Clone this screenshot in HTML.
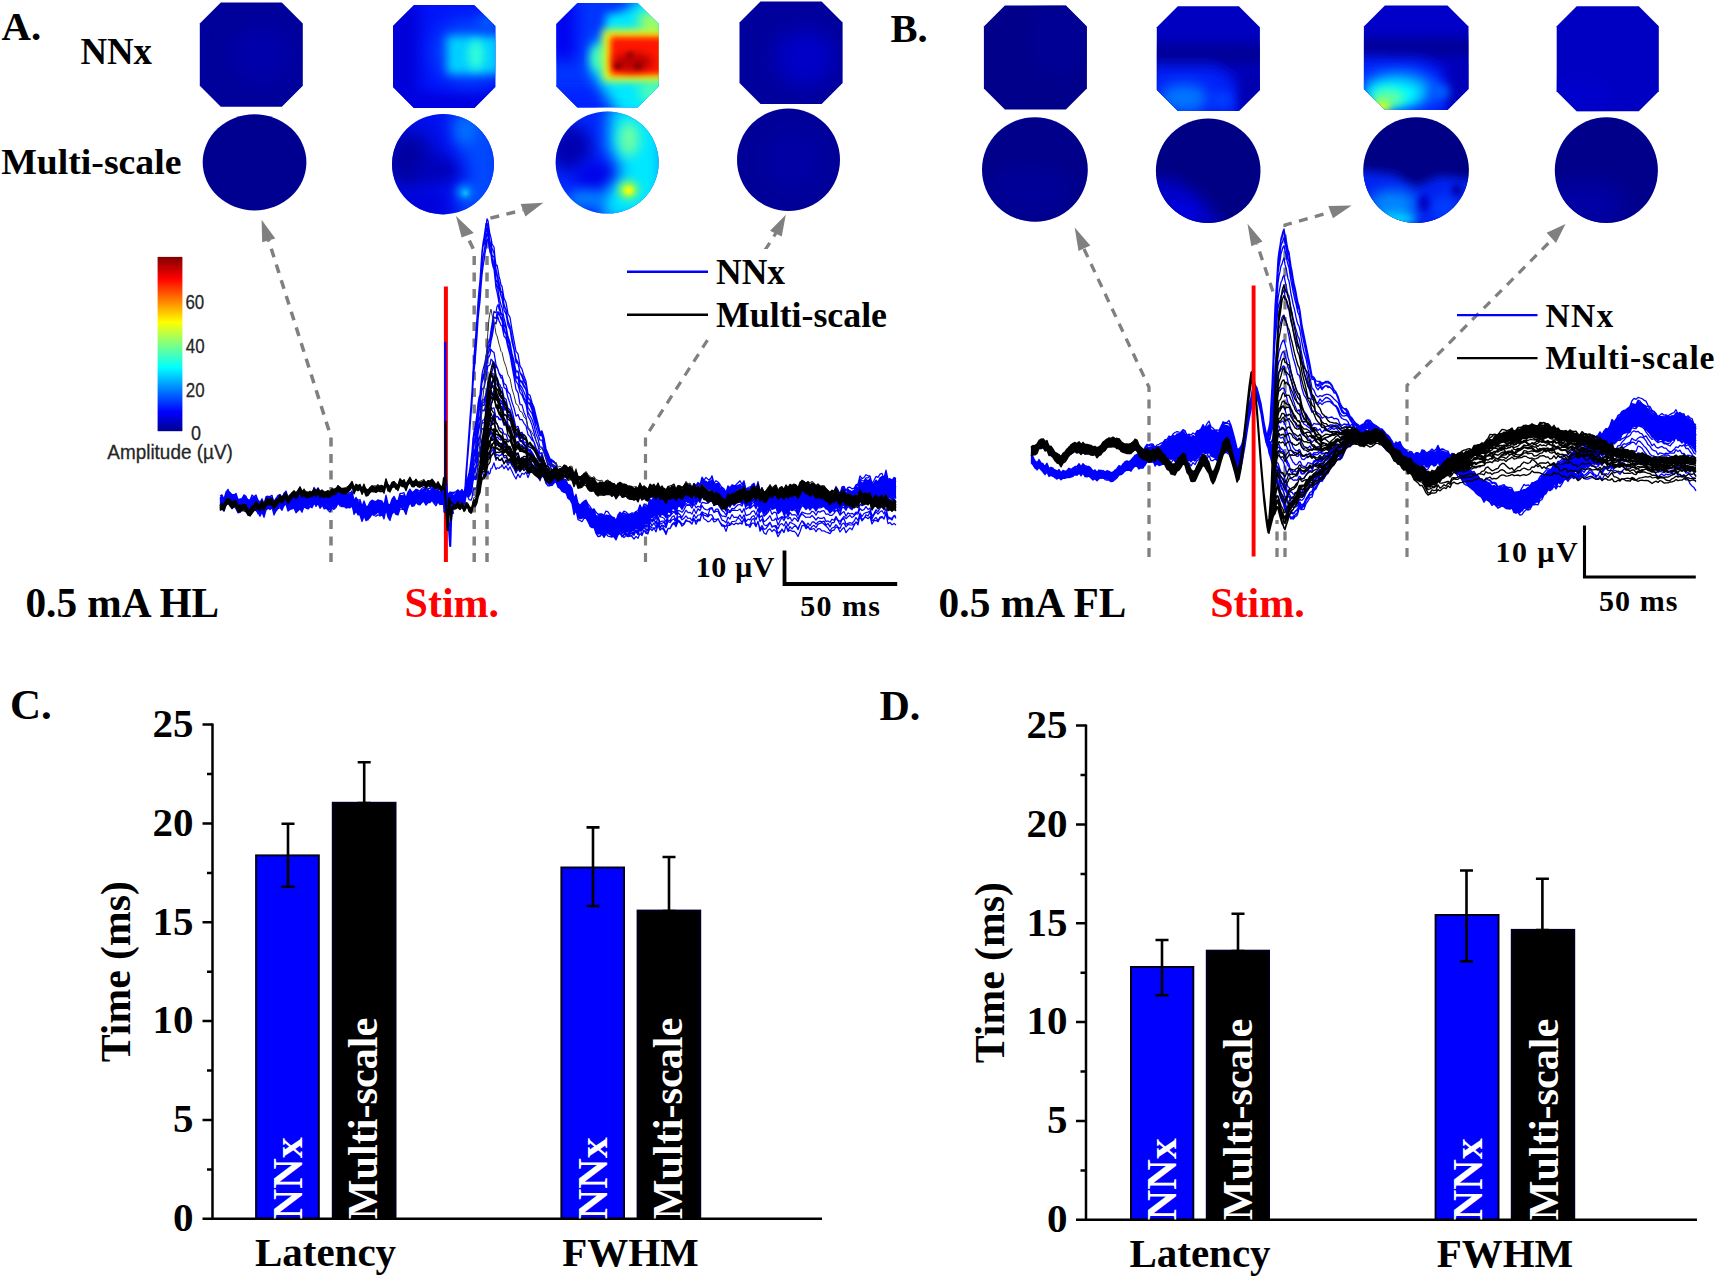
<!DOCTYPE html>
<html lang="en"><head><meta charset="utf-8"><title>Figure</title>
<style>
html,body{margin:0;padding:0;background:#fff;}
body{width:1716px;height:1278px;overflow:hidden;}
svg{display:block;}
</style></head><body>
<svg width="1716" height="1278" viewBox="0 0 1716 1278">
<rect width="1716" height="1278" fill="#fff"/>
<defs>
<filter id="bl2" x="-50%" y="-50%" width="200%" height="200%"><feGaussianBlur stdDeviation="2"/></filter>
<filter id="bl3" x="-50%" y="-50%" width="200%" height="200%"><feGaussianBlur stdDeviation="3"/></filter>
<filter id="bl4" x="-50%" y="-50%" width="200%" height="200%"><feGaussianBlur stdDeviation="4"/></filter>
<filter id="bl5" x="-50%" y="-50%" width="200%" height="200%"><feGaussianBlur stdDeviation="5"/></filter>
<filter id="bl6" x="-50%" y="-50%" width="200%" height="200%"><feGaussianBlur stdDeviation="6"/></filter>
<filter id="bl7" x="-50%" y="-50%" width="200%" height="200%"><feGaussianBlur stdDeviation="7"/></filter>
<filter id="bl8" x="-50%" y="-50%" width="200%" height="200%"><feGaussianBlur stdDeviation="8"/></filter>
<filter id="bl10" x="-50%" y="-50%" width="200%" height="200%"><feGaussianBlur stdDeviation="10"/></filter>
<filter id="bl12" x="-50%" y="-50%" width="200%" height="200%"><feGaussianBlur stdDeviation="12"/></filter>
<filter id="bl16" x="-50%" y="-50%" width="200%" height="200%"><feGaussianBlur stdDeviation="16"/></filter>
<clipPath id="h1"><path d="M220.8 2.6H281.8L302.8 23.6V85.8L281.8 106.8H220.8L199.8 85.8V23.6Z"/></clipPath>
<clipPath id="h2"><ellipse cx="254.54999999999998" cy="162.35" rx="51.849999999999994" ry="48.050000000000004"/></clipPath>
<clipPath id="h3"><path d="M414 5H474.4L495.4 26V87L474.4 108H414L393 87V26Z"/></clipPath>
<clipPath id="h4"><ellipse cx="443.0" cy="164.2" rx="51.0" ry="50.2"/></clipPath>
<clipPath id="h5"><path d="M577.3 3H637.7L658.7 24V86.6L637.7 107.6H577.3L556.3 86.6V24Z"/></clipPath>
<clipPath id="h6"><ellipse cx="607.2" cy="162.5" rx="51.5" ry="51.099999999999994"/></clipPath>
<clipPath id="h7"><path d="M760.5 1.6H821.6L842.6 22.6V83L821.6 104H760.5L739.5 83V22.6Z"/></clipPath>
<clipPath id="h8"><ellipse cx="788.5" cy="159.8" rx="51.5" ry="51.2"/></clipPath>
<clipPath id="h9"><path d="M1004.9 5.4H1065.9L1086.9 26.4V88.4L1065.9 109.4H1004.9L983.9 88.4V26.4Z"/></clipPath>
<clipPath id="h10"><ellipse cx="1034.9" cy="169.55" rx="52.89999999999998" ry="52.25000000000001"/></clipPath>
<clipPath id="h11"><path d="M1177.8 6.3H1238.9L1259.9 27.3V90L1238.9 111H1177.8L1156.8 90V27.3Z"/></clipPath>
<clipPath id="h12"><ellipse cx="1208.2" cy="170.7" rx="52.299999999999955" ry="52.2"/></clipPath>
<clipPath id="h13"><path d="M1384.9 5.5H1447.5L1468.5 26.5V89L1447.5 110H1384.9L1363.9 89V26.5Z"/></clipPath>
<clipPath id="h14"><ellipse cx="1416.1" cy="170.1" rx="52.80000000000007" ry="52.800000000000004"/></clipPath>
<clipPath id="h15"><path d="M1576.7 6.3H1638.8L1658.8 26.3V91.2L1638.8 111.2H1576.7L1556.7 91.2V26.3Z"/></clipPath>
<clipPath id="h16"><ellipse cx="1606.35" cy="170.2" rx="51.55000000000007" ry="52.9"/></clipPath>
<linearGradient id="jet" x1="0" y1="1" x2="0" y2="0">
<stop offset="0" stop-color="#00008f"/><stop offset="0.11" stop-color="#0000ff"/><stop offset="0.365" stop-color="#00ffff"/>
<stop offset="0.5" stop-color="#80ff80"/><stop offset="0.625" stop-color="#ffff00"/><stop offset="0.875" stop-color="#ff0000"/><stop offset="1" stop-color="#800000"/></linearGradient>
</defs>
<g>
<rect x="256.1" y="855.4" width="62.69999999999999" height="363.4" fill="#0000ff" stroke="#00001c" stroke-width="2"/>
<rect x="332.8" y="802.8" width="62.69999999999999" height="416.0" fill="#000" stroke="#00001c" stroke-width="2"/>
<rect x="561.4" y="867.5" width="62.60000000000002" height="351.29999999999995" fill="#0000ff" stroke="#00001c" stroke-width="2"/>
<rect x="637.6" y="910.6" width="62.60000000000002" height="308.19999999999993" fill="#000" stroke="#00001c" stroke-width="2"/>
<path d="M288 823.8V886.8M281.5 823.8h13M281.5 886.8h13" stroke="#000" stroke-width="2.6" fill="none"/>
<path d="M364.2 762.3V803M357.7 762.3h13M357.7 803h13" stroke="#000" stroke-width="2.6" fill="none"/>
<path d="M593 827.4V906M586.5 827.4h13M586.5 906h13" stroke="#000" stroke-width="2.6" fill="none"/>
<path d="M669 857V911M662.5 857h13M662.5 911h13" stroke="#000" stroke-width="2.6" fill="none"/>
<path d="M212.5 723.4V1218.8M202.5 1218.8H822" stroke="#000" stroke-width="2.5" fill="none"/>
<path d="M207.0 1169.4H212.5M202.5 1120.0H212.5M207.0 1070.5H212.5M202.5 1021.1H212.5M207.0 971.7H212.5M202.5 922.3H212.5M207.0 872.9H212.5M202.5 823.4H212.5M207.0 774.0H212.5M202.5 724.6H212.5" stroke="#000" stroke-width="2.5" fill="none"/>
<text x="193.5" y="1231.1" font-size="41" fill="#000" text-anchor="end" font-family="Liberation Serif, serif" font-weight="bold" >0</text>
<text x="193.5" y="1132.3" font-size="41" fill="#000" text-anchor="end" font-family="Liberation Serif, serif" font-weight="bold" >5</text>
<text x="193.5" y="1033.4" font-size="41" fill="#000" text-anchor="end" font-family="Liberation Serif, serif" font-weight="bold" >10</text>
<text x="193.5" y="934.6" font-size="41" fill="#000" text-anchor="end" font-family="Liberation Serif, serif" font-weight="bold" >15</text>
<text x="193.5" y="835.7" font-size="41" fill="#000" text-anchor="end" font-family="Liberation Serif, serif" font-weight="bold" >20</text>
<text x="193.5" y="736.9" font-size="41" fill="#000" text-anchor="end" font-family="Liberation Serif, serif" font-weight="bold" >25</text>
<text transform="translate(129.8 971.7) rotate(-90)" font-size="41.7" text-anchor="middle" font-family="Liberation Serif, serif" font-weight="bold">Time (ms)</text>
<text transform="translate(301.5 1219.3) rotate(-90)" font-size="42.2" fill="#fff" font-family="Liberation Serif, serif" font-weight="bold">NNx</text>
<text transform="translate(377 1219.3) rotate(-90)" font-size="42.2" fill="#fff" font-family="Liberation Serif, serif" font-weight="bold">Multi-scale</text>
<text transform="translate(606.5 1219.3) rotate(-90)" font-size="42.2" fill="#fff" font-family="Liberation Serif, serif" font-weight="bold">NNx</text>
<text transform="translate(682 1219.3) rotate(-90)" font-size="42.2" fill="#fff" font-family="Liberation Serif, serif" font-weight="bold">Multi-scale</text>
</g>
<text x="10" y="718.5" font-size="43" fill="#000" text-anchor="start" font-family="Liberation Serif, serif" font-weight="bold" >C.</text>
<text x="325.5" y="1266" font-size="41" fill="#000" text-anchor="middle" font-family="Liberation Serif, serif" font-weight="bold" >Latency</text>
<text x="630.5" y="1266" font-size="41" fill="#000" text-anchor="middle" font-family="Liberation Serif, serif" font-weight="bold" >FWHM</text>
<g>
<rect x="1131" y="967" width="62.299999999999955" height="252.79999999999995" fill="#0000ff" stroke="#00001c" stroke-width="2"/>
<rect x="1206.8" y="950.7" width="62.200000000000045" height="269.0999999999999" fill="#000" stroke="#00001c" stroke-width="2"/>
<rect x="1435.6" y="915" width="62.90000000000009" height="304.79999999999995" fill="#0000ff" stroke="#00001c" stroke-width="2"/>
<rect x="1511.8" y="929.9" width="62.40000000000009" height="289.9" fill="#000" stroke="#00001c" stroke-width="2"/>
<path d="M1162 940V995.3M1155.5 940h13M1155.5 995.3h13" stroke="#000" stroke-width="2.6" fill="none"/>
<path d="M1238 913.8V951M1231.5 913.8h13M1231.5 951h13" stroke="#000" stroke-width="2.6" fill="none"/>
<path d="M1466.5 870.5V961.2M1460.0 870.5h13M1460.0 961.2h13" stroke="#000" stroke-width="2.6" fill="none"/>
<path d="M1542.4 878.7V930M1535.9 878.7h13M1535.9 930h13" stroke="#000" stroke-width="2.6" fill="none"/>
<path d="M1086 724.4V1219.8M1076 1219.8H1697" stroke="#000" stroke-width="2.5" fill="none"/>
<path d="M1080.5 1170.4H1086M1076 1121.0H1086M1080.5 1071.5H1086M1076 1022.1H1086M1080.5 972.7H1086M1076 923.3H1086M1080.5 873.9H1086M1076 824.4H1086M1080.5 775.0H1086M1076 725.6H1086" stroke="#000" stroke-width="2.5" fill="none"/>
<text x="1067.5" y="1232.1" font-size="41" fill="#000" text-anchor="end" font-family="Liberation Serif, serif" font-weight="bold" >0</text>
<text x="1067.5" y="1133.3" font-size="41" fill="#000" text-anchor="end" font-family="Liberation Serif, serif" font-weight="bold" >5</text>
<text x="1067.5" y="1034.4" font-size="41" fill="#000" text-anchor="end" font-family="Liberation Serif, serif" font-weight="bold" >10</text>
<text x="1067.5" y="935.6" font-size="41" fill="#000" text-anchor="end" font-family="Liberation Serif, serif" font-weight="bold" >15</text>
<text x="1067.5" y="836.7" font-size="41" fill="#000" text-anchor="end" font-family="Liberation Serif, serif" font-weight="bold" >20</text>
<text x="1067.5" y="737.9" font-size="41" fill="#000" text-anchor="end" font-family="Liberation Serif, serif" font-weight="bold" >25</text>
<text transform="translate(1004 972.7) rotate(-90)" font-size="41.7" text-anchor="middle" font-family="Liberation Serif, serif" font-weight="bold">Time (ms)</text>
<text transform="translate(1176 1220.3) rotate(-90)" font-size="42.2" fill="#fff" font-family="Liberation Serif, serif" font-weight="bold">NNx</text>
<text transform="translate(1252 1220.3) rotate(-90)" font-size="42.2" fill="#fff" font-family="Liberation Serif, serif" font-weight="bold">Multi-scale</text>
<text transform="translate(1481.5 1220.3) rotate(-90)" font-size="42.2" fill="#fff" font-family="Liberation Serif, serif" font-weight="bold">NNx</text>
<text transform="translate(1558 1220.3) rotate(-90)" font-size="42.2" fill="#fff" font-family="Liberation Serif, serif" font-weight="bold">Multi-scale</text>
</g>
<text x="879.5" y="720" font-size="42" fill="#000" text-anchor="start" font-family="Liberation Serif, serif" font-weight="bold" >D.</text>
<text x="1200" y="1267" font-size="41" fill="#000" text-anchor="middle" font-family="Liberation Serif, serif" font-weight="bold" >Latency</text>
<text x="1505" y="1267" font-size="41" fill="#000" text-anchor="middle" font-family="Liberation Serif, serif" font-weight="bold" >FWHM</text>
<g clip-path="url(#h1)">
<rect x="197.8" y="0.6000000000000001" width="107.0" height="108.2" fill="#00009a"/>
<ellipse cx="262" cy="55" rx="30" ry="30" fill="#0000aa" filter="url(#bl10)"/>
</g>
<g clip-path="url(#h2)">
<rect x="200.7" y="112.3" width="107.69999999999999" height="100.10000000000001" fill="#000090"/>
</g>
<g clip-path="url(#h3)">
<rect x="391" y="3" width="106.39999999999998" height="107" fill="#0014fa"/>
<rect x="385" y="0" width="34" height="120" fill="#0000d8" filter="url(#bl8)"/>
<rect x="385" y="92" width="120" height="24" fill="#0000e0" filter="url(#bl6)"/>
<ellipse cx="470" cy="52" rx="36" ry="32" fill="#0050ff" filter="url(#bl10)"/>
<rect x="447" y="36" width="53" height="38" fill="#00d0ff" filter="url(#bl5)"/>
<ellipse cx="476" cy="55" rx="8" ry="15" fill="#30ffd8" filter="url(#bl5)"/>
<ellipse cx="488" cy="22" rx="10" ry="8" fill="#0060ff" filter="url(#bl6)"/>
</g>
<g clip-path="url(#h4)">
<rect x="390" y="112" width="106" height="104.4" fill="#0010f0"/>
<ellipse cx="408" cy="160" rx="26" ry="30" fill="#0000a0" filter="url(#bl10)"/>
<ellipse cx="438" cy="170" rx="22" ry="14" fill="#0000b8" filter="url(#bl8)"/>
<ellipse cx="420" cy="205" rx="30" ry="14" fill="#0000d8" filter="url(#bl8)"/>
<path d="M448 110 L500 110 L500 220 L462 220 L458 196 L470 170 L452 140 Z" fill="#0048ff" filter="url(#bl8)"/>
<ellipse cx="466" cy="130" rx="10" ry="14" fill="#0070ff" filter="url(#bl6)"/>
<ellipse cx="464.5" cy="192" rx="8" ry="7" fill="#0098ff" filter="url(#bl4)"/>
<ellipse cx="465.5" cy="193" rx="2.6" ry="2.6" fill="#10e0ff" filter="url(#bl2)"/>
</g>
<g clip-path="url(#h5)">
<rect x="554.3" y="1" width="106.40000000000009" height="108.6" fill="#0034ff"/>
<rect x="550" y="0" width="26" height="60" fill="#0000f0" filter="url(#bl8)"/>
<rect x="550" y="88" width="50" height="30" fill="#0020ff" filter="url(#bl6)"/>
<path d="M640 -5 L670 -5 L670 120 L622 120 L604 92 L590 70 L592 48 L612 27 Z" fill="#00e8ff" filter="url(#bl7)"/>
<rect x="606" y="14" width="64" height="22" fill="#00e8ff" filter="url(#bl5)"/>
<ellipse cx="652" cy="22" rx="14" ry="11" fill="#a0ff60" filter="url(#bl6)"/>
<ellipse cx="652" cy="92" rx="14" ry="10" fill="#50ffb0" filter="url(#bl6)"/>
<ellipse cx="598" cy="58" rx="7" ry="13" fill="#50ffb0" filter="url(#bl5)"/>
<rect x="603" y="30" width="64" height="51" fill="#ffff00" filter="url(#bl4)"/>
<rect x="610" y="36.5" width="60" height="38.5" fill="#ff1800" filter="url(#bl3)"/>
<ellipse cx="633" cy="62" rx="20" ry="9" fill="#b80000" filter="url(#bl4)"/>
<ellipse cx="618" cy="66" rx="4" ry="3" fill="#800000" filter="url(#bl2)"/>
<ellipse cx="638" cy="66" rx="4" ry="3" fill="#800000" filter="url(#bl2)"/>
<ellipse cx="630" cy="55" rx="3" ry="3" fill="#900000" filter="url(#bl2)"/>
</g>
<g clip-path="url(#h6)">
<rect x="553.7" y="109.4" width="107.0" height="106.19999999999999" fill="#0028ff"/>
<ellipse cx="570" cy="148" rx="22" ry="24" fill="#0000b0" filter="url(#bl8)"/>
<ellipse cx="598" cy="176" rx="24" ry="14" fill="#0000e8" filter="url(#bl8)"/>
<ellipse cx="585" cy="199" rx="18" ry="9" fill="#0080ff" filter="url(#bl6)"/>
<path d="M610 105 L665 105 L665 220 L604 220 L602 198 L622 172 L608 146 Z" fill="#00e8ff" filter="url(#bl8)"/>
<ellipse cx="629" cy="139" rx="10" ry="17" fill="#70ffa0" filter="url(#bl6)"/>
<ellipse cx="628.5" cy="190" rx="10" ry="9" fill="#a0ff40" filter="url(#bl4)"/>
<ellipse cx="628.5" cy="190.5" rx="4.5" ry="4" fill="#ffff00" filter="url(#bl2)"/>
</g>
<g clip-path="url(#h7)">
<rect x="737.5" y="-0.3999999999999999" width="107.10000000000002" height="106.4" fill="#00009c"/>
<ellipse cx="805" cy="58" rx="30" ry="28" fill="#0000c8" filter="url(#bl10)"/>
</g>
<g clip-path="url(#h8)">
<rect x="735" y="106.6" width="107" height="106.4" fill="#000098"/>
<ellipse cx="795" cy="160" rx="30" ry="30" fill="#0000a4" filter="url(#bl10)"/>
</g>
<g clip-path="url(#h9)">
<rect x="981.9" y="3.4000000000000004" width="107.00000000000011" height="108.0" fill="#00008a"/>
<ellipse cx="1060" cy="40" rx="30" ry="40" fill="#000094" filter="url(#bl10)"/>
</g>
<g clip-path="url(#h10)">
<rect x="980" y="115.3" width="109.79999999999995" height="108.50000000000001" fill="#00008a"/>
<ellipse cx="1030" cy="190" rx="40" ry="25" fill="#000098" filter="url(#bl10)"/>
</g>
<g clip-path="url(#h11)">
<rect x="1154.8" y="4.3" width="107.10000000000014" height="108.7" fill="#0000c0"/>
<rect x="1150" y="44" width="120" height="22" fill="#000098" filter="url(#bl6)"/>
<path d="M1150 66 L1215 66 L1236 80 L1246 120 L1150 120 Z" fill="#0020f8" filter="url(#bl7)"/>
<rect x="1240" y="70" width="30" height="50" fill="#0000b0" filter="url(#bl6)"/>
<ellipse cx="1184" cy="98" rx="24" ry="14" fill="#0078ff" filter="url(#bl7)"/>
<ellipse cx="1222" cy="100" rx="10" ry="8" fill="#0040ff" filter="url(#bl5)"/>
</g>
<g clip-path="url(#h12)">
<rect x="1153.9" y="116.5" width="108.59999999999991" height="108.4" fill="#000084"/>
<path d="M1150 176 L1180 182 L1204 200 L1226 230 L1150 230 Z" fill="#0000c8" filter="url(#bl7)"/>
<ellipse cx="1180" cy="212" rx="16" ry="10" fill="#0000e0" filter="url(#bl6)"/>
</g>
<g clip-path="url(#h13)">
<rect x="1361.9" y="3.5" width="108.59999999999991" height="108.5" fill="#0000c8"/>
<rect x="1355" y="38" width="120" height="20" fill="#000098" filter="url(#bl6)"/>
<path d="M1355 58 L1420 60 L1446 72 L1452 120 L1355 120 Z" fill="#0028ff" filter="url(#bl7)"/>
<rect x="1448" y="60" width="30" height="60" fill="#0000b8" filter="url(#bl6)"/>
<ellipse cx="1398" cy="90" rx="36" ry="18" fill="#00a8ff" filter="url(#bl7)"/>
<ellipse cx="1394" cy="94" rx="26" ry="12" fill="#00ffff" filter="url(#bl6)"/>
<ellipse cx="1388" cy="98" rx="16" ry="9" fill="#60ffa0" filter="url(#bl5)"/>
<ellipse cx="1382" cy="106" rx="9" ry="6" fill="#c0ff30" filter="url(#bl3)"/>
<ellipse cx="1440" cy="92" rx="10" ry="8" fill="#0060ff" filter="url(#bl5)"/>
</g>
<g clip-path="url(#h14)">
<rect x="1361.3" y="115.3" width="109.60000000000014" height="109.60000000000001" fill="#000084"/>
<path d="M1355 170 L1394 174 L1415 187 L1440 176 L1475 180 L1475 230 L1355 230 Z" fill="#0020f0" filter="url(#bl5)"/>
<ellipse cx="1393" cy="204" rx="24" ry="14" fill="#0088ff" filter="url(#bl7)"/>
<ellipse cx="1396" cy="219" rx="20" ry="7" fill="#00d8ff" filter="url(#bl5)"/>
<ellipse cx="1444" cy="208" rx="12" ry="12" fill="#0040ff" filter="url(#bl6)"/>
<ellipse cx="1424" cy="203" rx="5" ry="9" fill="#0000c0" filter="url(#bl3)"/>
<ellipse cx="1457" cy="190" rx="5" ry="6" fill="#0000a0" filter="url(#bl3)"/>
</g>
<g clip-path="url(#h15)">
<rect x="1554.7" y="4.3" width="106.09999999999991" height="108.9" fill="#0000c2"/>
<ellipse cx="1580" cy="95" rx="30" ry="20" fill="#0000cc" filter="url(#bl8)"/>
</g>
<g clip-path="url(#h16)">
<rect x="1552.8" y="115.3" width="107.10000000000014" height="109.8" fill="#00008a"/>
<ellipse cx="1585" cy="205" rx="40" ry="25" fill="#0000a4" filter="url(#bl10)"/>
</g>
<rect x="157.6" y="256.9" width="24.8" height="174.3" fill="url(#jet)"/>
<text x="185.4" y="308.5" font-size="21" fill="#262626" stroke="#262626" stroke-width="0.3" textLength="18.8" lengthAdjust="spacingAndGlyphs" font-family="Liberation Sans, sans-serif">60</text>
<text x="185.8" y="352.7" font-size="21" fill="#262626" stroke="#262626" stroke-width="0.3" textLength="18.8" lengthAdjust="spacingAndGlyphs" font-family="Liberation Sans, sans-serif">40</text>
<text x="185.8" y="396.5" font-size="21" fill="#262626" stroke="#262626" stroke-width="0.3" textLength="18.8" lengthAdjust="spacingAndGlyphs" font-family="Liberation Sans, sans-serif">20</text>
<text x="191" y="440" font-size="21" fill="#262626" stroke="#262626" stroke-width="0.3" textLength="10" lengthAdjust="spacingAndGlyphs" font-family="Liberation Sans, sans-serif">0</text>
<text x="107.3" y="459" font-size="21" fill="#262626" stroke="#262626" stroke-width="0.3" textLength="125.5" lengthAdjust="spacingAndGlyphs" font-family="Liberation Sans, sans-serif">Amplitude (µV)</text>
<text x="1.5" y="39.5" font-size="40.8" fill="#000" text-anchor="start" font-family="Liberation Serif, serif" font-weight="bold" >A.</text>
<text x="80.4" y="64.3" font-size="38" textLength="71.6" lengthAdjust="spacingAndGlyphs" font-family="Liberation Serif, serif" font-weight="bold">NNx</text>
<text x="1.2" y="174.3" font-size="36.4" textLength="180.3" lengthAdjust="spacingAndGlyphs" font-family="Liberation Serif, serif" font-weight="bold">Multi-scale</text>
<text x="890.5" y="42.4" font-size="40.6" fill="#000" text-anchor="start" font-family="Liberation Serif, serif" font-weight="bold" >B.</text>
<text x="25.5" y="617" font-size="41.3" textLength="193.6" lengthAdjust="spacing" font-family="Liberation Serif, serif" font-weight="bold">0.5 mA HL</text>
<text x="404.6" y="617" font-size="42" fill="#ff0000" text-anchor="start" font-family="Liberation Serif, serif" font-weight="bold" >Stim.</text>
<text x="938.5" y="616.7" font-size="41.3" textLength="187.8" lengthAdjust="spacing" font-family="Liberation Serif, serif" font-weight="bold">0.5 mA FL</text>
<text x="1210.2" y="616.7" font-size="42" fill="#ff0000" text-anchor="start" font-family="Liberation Serif, serif" font-weight="bold" >Stim.</text>
<path d="M331 562V437L268.5 240" stroke="#808080" stroke-width="3.5" stroke-dasharray="9 7.5" fill="none"/>
<path d="M261.6 219.7L262.2 242.3L275.3 238.5Z" fill="#808080"/>
<path d="M474.2 562V250.7L467 236" stroke="#808080" stroke-width="3.5" stroke-dasharray="9 7.5" fill="none"/>
<path d="M456 216L461.6 237.6L473.8 232.9Z" fill="#808080"/>
<path d="M487 562V219L523 210" stroke="#808080" stroke-width="3.5" stroke-dasharray="9 7.5" fill="none"/>
<path d="M543.3 202.8L520.7 204.1L525.4 216.5Z" fill="#808080"/>
<path d="M645.5 562V437L776 233" stroke="#808080" stroke-width="3.2" stroke-dasharray="9 7.5" fill="none"/>
<path d="M785.8 214.8L770 230.7L781.7 236.4Z" fill="#808080"/>
<path d="M1149 557V387.2L1084 249" stroke="#808080" stroke-width="3.3" stroke-dasharray="9 7.5" fill="none"/>
<path d="M1074.7 227.6L1078.5 251L1090.3 245.4Z" fill="#808080"/>
<path d="M1277 557V520M1272.9 291.4L1257 244" stroke="#808080" stroke-width="3.3" stroke-dasharray="9 7.5" fill="none"/>
<path d="M1247.5 223.8L1251.3 246.3L1262.5 241.6Z" fill="#808080"/>
<path d="M1285 557V225L1331 212" stroke="#808080" stroke-width="3.3" stroke-dasharray="9 7.5" fill="none"/>
<path d="M1351.7 205.4L1328.3 206L1333 218.2Z" fill="#808080"/>
<path d="M1407 557V385.5L1555.5 236" stroke="#808080" stroke-width="3.2" stroke-dasharray="9 7.5" fill="none"/>
<path d="M1565.5 224.1L1546.6 232.7L1556 243Z" fill="#808080"/>
<path d="M445.9 286.5V562" stroke="#ff0000" stroke-width="4.0"/>
<path d="M220.0 497.6L222.0 496.5L224.0 499.3L226.0 492.6L228.0 491.1L230.0 493.6L232.0 496.0L234.0 494.7L236.0 494.8L238.0 501.0L240.0 500.1L242.0 498.7L244.0 495.9L246.0 496.7L248.0 500.7L250.0 501.2L252.0 497.7L254.0 497.7L256.0 497.4L258.0 500.4L260.0 503.6L262.0 500.4L264.0 504.6L266.0 498.3L268.0 496.9L270.0 497.3L272.0 496.5L274.0 502.2L276.0 498.1L278.0 496.1L280.0 494.0L282.0 496.9L284.0 493.5L286.0 491.3L288.0 498.6L290.0 496.1L292.0 495.2L294.0 494.7L296.0 498.7L298.0 497.4L300.0 495.3L302.0 499.2L304.0 493.9L306.0 494.9L308.0 494.5L310.0 493.0L312.0 493.8L314.0 489.3L316.0 492.5L318.0 489.8L320.0 494.1L322.0 492.1L324.0 495.1L326.0 495.4L328.0 496.0L330.0 496.9L332.0 494.3L334.0 496.1L336.0 494.5L338.0 491.3L340.0 492.8L342.0 494.2L344.0 494.2L346.0 494.9L348.0 495.0L350.0 494.0L352.0 491.8L354.0 501.3L356.0 498.9L358.0 502.1L360.0 501.6L362.0 507.4L364.0 501.8L366.0 507.0L368.0 506.5L370.0 502.9L372.0 501.2L374.0 502.0L376.0 501.7L378.0 500.2L380.0 501.7L382.0 501.7L384.0 505.4L386.0 496.5L388.0 503.8L390.0 505.4L392.0 500.1L394.0 497.9L396.0 501.4L398.0 501.1L400.0 494.1L402.0 495.7L404.0 495.2L406.0 500.2L408.0 494.3L410.0 490.1L412.0 493.5L414.0 493.0L416.0 489.7L418.0 492.0L420.0 491.9L422.0 490.1L424.0 489.0L426.0 492.7L428.0 490.0L430.0 490.3L432.0 487.0L434.0 489.9L436.0 491.8L438.0 488.6L440.0 491.4L442.0 491.5L444.0 492.9L446.0 494.2L448.0 494.7L450.0 492.6L452.0 493.8L454.0 495.0L456.0 492.6L458.0 490.5L460.0 494.1L462.0 491.0L464.0 495.3L464.0 504.9L462.0 500.7L460.0 504.0L458.0 500.6L456.0 502.9L454.0 505.4L452.0 504.4L450.0 503.4L448.0 505.7L446.0 505.4L444.0 504.2L442.0 503.1L440.0 503.1L438.0 500.5L436.0 503.9L434.0 502.1L432.0 499.4L430.0 502.8L428.0 502.6L426.0 505.3L424.0 501.6L422.0 502.7L420.0 504.5L418.0 504.6L416.0 502.2L414.0 505.5L412.0 506.0L410.0 502.6L408.0 506.8L406.0 512.7L404.0 507.6L402.0 508.1L400.0 506.6L398.0 513.6L396.0 513.9L394.0 510.4L392.0 512.6L390.0 517.8L388.0 516.2L386.0 508.9L384.0 517.8L382.0 514.1L380.0 514.1L378.0 512.5L376.0 514.0L374.0 514.4L372.0 513.6L370.0 515.3L368.0 518.8L366.0 519.3L364.0 514.1L362.0 519.7L360.0 513.9L358.0 514.4L356.0 511.2L354.0 513.5L352.0 504.1L350.0 506.2L348.0 507.3L346.0 507.1L344.0 506.4L342.0 506.4L340.0 505.0L338.0 503.5L336.0 506.7L334.0 508.3L332.0 506.5L330.0 509.1L328.0 508.1L326.0 507.6L324.0 507.2L322.0 504.2L320.0 506.2L318.0 501.9L316.0 504.6L314.0 501.4L312.0 505.9L310.0 505.0L308.0 506.6L306.0 506.9L304.0 505.9L302.0 511.2L300.0 507.3L298.0 509.5L296.0 510.7L294.0 506.7L292.0 507.2L290.0 508.1L288.0 510.6L286.0 503.3L284.0 505.5L282.0 508.9L280.0 506.0L278.0 508.1L276.0 510.1L274.0 514.1L272.0 508.4L270.0 509.2L268.0 508.8L266.0 510.2L264.0 516.5L262.0 512.3L260.0 515.5L258.0 512.3L256.0 509.2L254.0 509.5L252.0 509.5L250.0 513.1L248.0 512.5L246.0 508.5L244.0 507.7L242.0 510.5L240.0 511.9L238.0 512.8L236.0 506.6L234.0 506.5L232.0 507.8L230.0 505.3L228.0 502.8L226.0 504.3L224.0 511.0L222.0 508.3L220.0 509.3Z" fill="#0000ff"/>
<path d="M562.0 479.7L564.0 479.5L566.0 481.1L568.0 486.2L570.0 487.2L572.0 489.3L574.0 499.2L576.0 494.7L578.0 503.7L580.0 504.9L582.0 504.4L584.0 502.4L586.0 501.4L588.0 505.8L590.0 509.6L592.0 511.3L594.0 510.4L596.0 515.6L598.0 517.0L600.0 516.2L602.0 515.7L604.0 517.8L606.0 514.8L608.0 515.6L610.0 517.1L612.0 518.0L614.0 517.0L616.0 520.1L618.0 516.0L620.0 513.7L622.0 515.9L624.0 514.2L626.0 513.9L628.0 514.9L630.0 514.0L632.0 513.3L634.0 513.8L636.0 510.7L638.0 512.0L640.0 504.9L642.0 509.2L644.0 505.6L646.0 506.7L648.0 506.7L650.0 499.7L652.0 501.0L654.0 498.9L656.0 501.0L658.0 494.7L660.0 500.0L662.0 497.8L664.0 499.2L666.0 501.9L668.0 495.5L670.0 495.9L672.0 492.5L674.0 491.4L676.0 495.1L678.0 490.1L680.0 490.2L682.0 492.6L684.0 489.8L686.0 485.5L688.0 487.0L690.0 486.3L692.0 488.9L694.0 483.2L696.0 487.3L698.0 483.8L700.0 484.7L702.0 478.2L704.0 481.1L706.0 481.0L708.0 482.4L710.0 480.8L712.0 479.2L714.0 484.6L716.0 483.4L718.0 483.2L720.0 486.5L722.0 490.1L724.0 490.3L726.0 492.5L728.0 486.6L730.0 488.1L732.0 484.5L734.0 486.1L736.0 485.4L738.0 484.7L740.0 484.1L742.0 486.5L744.0 482.7L746.0 489.5L748.0 488.1L750.0 488.9L752.0 485.5L754.0 484.4L756.0 489.4L758.0 483.1L760.0 491.8L762.0 489.1L764.0 494.3L766.0 494.9L768.0 491.9L770.0 489.0L772.0 492.8L774.0 491.1L776.0 490.8L778.0 496.8L780.0 494.3L782.0 492.9L784.0 495.5L786.0 490.6L788.0 494.5L790.0 491.1L792.0 492.7L794.0 491.2L796.0 492.4L798.0 496.2L800.0 491.3L802.0 487.9L804.0 489.1L806.0 491.8L808.0 490.8L810.0 493.2L812.0 490.4L814.0 491.2L816.0 493.4L818.0 490.9L820.0 490.7L822.0 490.2L824.0 489.3L826.0 492.6L828.0 492.4L830.0 495.2L832.0 492.8L834.0 492.8L836.0 488.5L838.0 491.5L840.0 494.4L842.0 490.2L844.0 489.0L846.0 493.0L848.0 489.8L850.0 490.1L852.0 490.9L854.0 489.4L856.0 486.8L858.0 486.8L860.0 479.0L862.0 482.8L864.0 481.1L866.0 478.8L868.0 479.9L870.0 477.8L872.0 485.2L874.0 482.0L876.0 479.3L878.0 481.2L880.0 477.9L882.0 476.4L884.0 478.1L886.0 471.6L888.0 479.2L890.0 478.4L892.0 479.4L894.0 477.0L896.0 478.0L896.0 497.7L894.0 496.5L892.0 498.9L890.0 497.6L888.0 498.3L886.0 490.6L884.0 496.9L882.0 495.1L880.0 496.4L878.0 499.6L876.0 497.5L874.0 500.0L872.0 503.1L870.0 495.5L868.0 497.5L866.0 496.2L864.0 498.3L862.0 499.9L860.0 495.9L858.0 503.7L856.0 503.4L854.0 505.9L852.0 507.3L850.0 506.4L848.0 506.0L846.0 509.2L844.0 505.3L842.0 506.5L840.0 510.8L838.0 507.8L836.0 504.9L834.0 509.2L832.0 509.2L830.0 511.6L828.0 508.9L826.0 509.1L824.0 505.8L822.0 506.8L820.0 507.3L818.0 507.5L816.0 510.1L814.0 507.8L812.0 507.1L810.0 509.9L808.0 507.5L806.0 508.5L804.0 505.9L802.0 504.7L800.0 508.1L798.0 513.1L796.0 509.3L794.0 508.2L792.0 509.6L790.0 508.1L788.0 511.5L786.0 507.6L784.0 512.5L782.0 510.0L780.0 511.4L778.0 513.9L776.0 507.8L774.0 508.2L772.0 509.8L770.0 506.0L768.0 508.8L766.0 511.8L764.0 511.2L762.0 506.0L760.0 508.6L758.0 500.0L756.0 506.2L754.0 501.2L752.0 502.3L750.0 505.6L748.0 504.8L746.0 506.1L744.0 499.3L742.0 503.1L740.0 500.7L738.0 501.3L736.0 502.0L734.0 502.6L732.0 500.9L730.0 504.5L728.0 503.0L726.0 508.9L724.0 506.7L722.0 506.4L720.0 502.9L718.0 499.5L716.0 499.7L714.0 500.8L712.0 495.4L710.0 497.0L708.0 498.6L706.0 497.2L704.0 497.3L702.0 494.4L700.0 500.9L698.0 500.0L696.0 503.5L694.0 499.4L692.0 505.1L690.0 502.5L688.0 503.2L686.0 501.7L684.0 506.0L682.0 508.8L680.0 506.4L678.0 506.4L676.0 511.5L674.0 507.8L672.0 509.1L670.0 512.6L668.0 512.2L666.0 518.8L664.0 516.1L662.0 514.8L660.0 517.1L658.0 511.9L656.0 518.3L654.0 516.3L652.0 518.4L650.0 517.2L648.0 524.3L646.0 524.4L644.0 523.4L642.0 527.1L640.0 522.8L638.0 530.0L636.0 528.7L634.0 531.8L632.0 531.3L630.0 532.0L628.0 532.9L626.0 531.9L624.0 532.2L622.0 533.9L620.0 531.7L618.0 534.0L616.0 538.1L614.0 535.0L612.0 536.0L610.0 535.1L608.0 533.6L606.0 532.8L604.0 535.8L602.0 533.7L600.0 534.1L598.0 534.6L596.0 532.8L594.0 527.3L592.0 527.9L590.0 525.8L588.0 521.7L586.0 516.9L584.0 517.5L582.0 519.1L580.0 519.3L578.0 517.8L576.0 508.4L574.0 512.5L572.0 502.3L570.0 499.8L568.0 498.4L566.0 493.0L564.0 491.0L562.0 490.9Z" fill="#0000ff"/>
<path d="M220 496l2-1.2 2 4.7 2-7.7 2-1.3 2 1.9 2 2.2 2-.1 2-.3 2 7 2-1.9 2-.5 2-2 2 .3 2 2.6 2 .5 2-5.2 2 1.7 2-1.8 2 5.6 2 2.4 2-2.2 2 3.6 2-5.9 2-1 2-1 2 1.5 2 5.8 2-3.9 2-3.1 2-1.8 2 2 2-3.1 2-2.8 2 9.2 2-2.8 2-.1 2-2 2 3.7 2-1.5 2-3.3 2 4 2-2.8 2-.8 2 0 2-1.8 2 .9 2-4 2 2 2-2.5 2 4.3 2-2.5 2 4.1 2-.6 2 1.3 2-.1 2-2.6 2 .3 2 .1 2-5 2 2.6 2 1.1 2 1.5 2-.4 2 .8 2-1.5 2-.8 2 10.5 2-3.5 2 3.8 2-1.5 2 5.2 2-5.1 2 5.5 2 0 2-4.6 2-.3 2-.7 2 .8 2-1.9 2 .3 2 .7 2 4.1 2-8.3 2 7.9 2 1.2 2-6.8 2-2.8 2 4 2 .2 2-7.1 2 0 2-.8 2 5.6 2-6.2 2-2.9 2 3.4 2-1.2 2-2.2 2 2 2-.3 2-2.6 2-.9 2 3 2-1.8 2-.5 2-4 2 3.2 2 4.2 2-2.9 2 1.1 2 .6 2 2 2 1.4 2 .6 2-2.2 2 .4 2-.1 2-.8 2-.7 2 2.2 2-2.4 2 4.4 1-2.4 1-6.5 1-1.6 1 1.2 1 .1 1-3.9 1-4.5 1-5.7 1-11.8 1-6.5 1-1.2 1-5.7 1-7 1-8.5 1-5.6 1-3.6 1-9.2 1-6.8 1-.8 1 .6 1-3 1-4.5 1-5.4 1-5.7 1 .3 1-1.3 1-4.7 1 3.6 1 1.5 1-1 1 4.5 1 5.7 1 0 1 1.4 1 3.2 1-.3 1 1.6 1 .1 2 7.1 2-.8 2 6.5 2 .8 2 8.5 2 4.3 2 8.3 2-2.3 2 5 2-1.2 2 4.2 2 .5 2 7.7 2 2 2 1.9 2 1.8 2 5.6 2 2.8 2 4.5 2-3.7 2 2.9 2 5.7 2 2.9 2 1.8 2-4 2-3.4 2-.2 2 6.5 2-1 2 2.6 2 .4 2 .8 2 4.3 2 .8 2 3.2 2 10.8 2-4.2 2 8.7 2 1.6 2-2.3 2-1.7 2-1.3 2 4 2 2.3 2 3.6 2-1 2 3.3 2 2.1 2-.5 2 .1 2 1.4 2-4.3 2 .8 2 3.2 2 1.8 2 1.1 2 3.3 2-6.4 2-2.6 2 1.7 2-2.8 2 .9 2 1.9 2 .5 2 1.4 2-1 2-3.3 2-1 2-5.7 2 4.3 2-2.4 2 .7 2-1.4 2-8.5 2-.5 2-.9 2 3.6 2-7 2 7.3 2-4.2 2 3 2 2.6 2-6.8 2 .5 2-2.5 2-2.1 2 2 2-4.8 2 0 2 3.5 2-1.5 2-4.3 2 .4 2-1.5 2 4.2 2-4.8 2 1.6 2-2.9 2 2.2 2-7.4 2 3 2-2.8 2 2 2 .3 2-4 2 7.4 2-2.4 2 1.3 2 2.5 2 3.8 2 3.1 2 1.2 2-6.8 2 4.2 2-5.2 2 1.7 2-1.7 2-2 2-2 2 3.6 2-3.7 2 8.8 2 0 2-.2 2-4.6 2-1.5 2 5.5 2-6.8 2 8.9 2-2 2 4 2-.7 2-1.9 2-2.6 2 4.9 2-3.3 2 0 2 6 2-1.3 2 0 2 1.3 2-4.3 2 1.9 2-2.3 2 1.5 2-.6 2 .7 2 5.4 2-5.8 2-4 2 2.2 2 .9 2-1.9 2 2.7 2-3.4 2 3.9 2-.4 2-1.8 2-1.2 2 .4 2-1.2 2 2.9 2 0 2 2.3 2-2.8 2 2 2-3.3 2 2.5 2 2.5 2-5.2 2-1.5 2 3.2 2-3.1 2-.2 2 1.6 2-.6 2-3.4 2-1 2-8 2 2.8 2-1.1 2-2.8 2 1.1 2 0 2 7.5 2-2.8 2-4.1 2 1 2-3.2 2-.8 2 5.2 2-6.1 2 8.1 2-.2 2-.2 2-1.4 2-.5M220 498.4l2-.6 2 1.9 2-5.9 2-1.5 2 2.2 2 2.8 2-2.4 2-1.5 2 6 2-.4 2-.4 2-1.9 2 .5 2 3.7 2 .5 2-3.7 2-1.4 2 1.8 2 2 2 4.5 2-3.6 2 5 2-6 2-3.3 2-.3 2-1.2 2 7.8 2-4.5 2-.6 2-3.4 2 3.2 2-4.5 2-2.1 2 5.5 2-1.3 2-2.3 2 .3 2 6 2-2.1 2-.2 2 3.2 2-6 2 2.5 2-.5 2-2.6 2 1.5 2-7.7 2 3.1 2-2.7 2 5.6 2-1.7 2 1.4 2 1.3 2-.2 2 1.7 2-2.4 2 2.3 2-2.1 2-2.3 2 3 2 1.5 2-1.1 2-.1 2 .8 2-1.3 2-3.3 2 9.6 2-3 2 2.8 2-.8 2 6.9 2-5.5 2 5.5 2-.3 2-4.1 2-1.9 2 1 2 1.1 2-2.3 2 1.4 2 .4 2 3.1 2-9.6 2 8.8 2 1 2-5.7 2-1.8 2 4 2-.2 2-5.9 2 .7 2-1.4 2 5.7 2-7.8 2-1.3 2 2.6 2-2.4 2-1.9 2 3.5 2-.3 2-1.9 2-.5 2 3 2-4.5 2-.4 2-2.4 2 4.2 2 2.1 2-2.4 2 4 2-.7 2 1.9 2 0 2 .8 2-3 2 .7 2-.3 2-2 2-1.6 2 2.2 2-2.5 2 3.5 1-1.4 1-4.1 1-2.5 1-.3 1-.9 1-3.5 1-4.8 1-6.8 1-10.4 1-6.5 1-3.1 1-4.4 1-5 1-8.6 1-5 1-2.4 1-9.8 1-7.7 1-3.1 1-1 1-1.4 1-3.7 1-6 1-6.6 1-.5 1-2 1-6.7 1-3.3 1-4.2 1-4.1 1 1.7 1 2.8 1-.7 1 2.5 1 3.5 1 1.1 1 1.6 1-.2 2 7.9 2 1.7 2 6.9 2 2.2 2 7.9 2 5.8 2 8.3 2-1.7 2 5.2 2-.2 2 3.8 2 2.5 2 8.7 2 2.1 2 3.6 2 1.5 2 5.8 2 4 2 6.8 2-4.2 2 6.6 2 7 2 4 2 3.5 2 .4 2-5.4 2-.9 2 7.7 2-1.8 2 2.3 2 1.7 2 .5 2 5.9 2 .7 2 1.9 2 10.2 2-4.1 2 9.4 2 1.6 2 0 2-3.4 2 .7 2 3.9 2 2.6 2 1.5 2-.6 2 6.4 2 1.7 2-2.6 2-.8 2 1.6 2-.4 2 1.8 2 .6 2 3 2-3.7 2 3.2 2-4.5 2-2.9 2 1.5 2-1.4 2 .5 2 2.2 2-2.2 2-1.1 2 .4 2-1.7 2 2.7 2-9.4 2 4.7 2-5.5 2 1.1 2 .6 2-6.2 2 .9 2-1.8 2 4 2-6.6 2 4.5 2-1.3 2 3.2 2 3 2-8.4 2 .7 2-2.7 2-1.9 2 4.6 2-7.2 2 1.4 2 1 2-4.3 2-5.4 2 4 2 .3 2 2.8 2-7.1 2 3.8 2-4.3 2 1.7 2-6.7 2 2.8 2 .7 2 1.6 2-4 2-1.6 2 5.8 2 1.3 2-1.2 2 1.7 2 2.4 2 1.4 2 3.6 2-6.2 2 1.6 2-2.8 2 .6 2 1.6 2-1.3 2-.8 2 2.4 2-4.2 2 5.3 2 .1 2 1.5 2-4.1 2-1.5 2 5.7 2-5.9 2 7.4 2-4.2 2 5.9 2 .9 2-4.9 2 .8 2 4.3 2-2.9 2-.3 2 7.7 2-3.6 2-.7 2 2.6 2-4.9 2 .4 2-2.2 2 2.5 2-.1 2 1 2 4.3 2-5.2 2-3.4 2 .1 2 1.7 2-3.5 2 3.7 2-2.9 2 2.6 2 2 2-3.5 2 .8 2-1.1 2-.4 2 4.3 2-1 2 4.9 2-3.8 2-1.4 2-5.7 2 3.4 2 3.8 2-6.8 2-.6 2 4.2 2-1.6 2 2.8 2-.1 2-1 2-3.9 2-2 2-5.9 2 1.8 2 .3 2-3 2 0 2-1.8 2 9.2 2-2 2-2.7 2 1.7 2-4.6 2-1.1 2 1 2-7.4 2 9.2 2-.8 2 3.6 2-2.2 2 .2M220 497.6l2-1.1 2 3.1 2-5.7 2-3.1 2 2.5 2 1.5 2 .9 2-.8 2 6.6 2-2.7 2-.2 2-3.8 2 1.5 2 5.6 2-1.7 2-2.5 2 0 2-.1 2 2.3 2 2.6 2-3.8 2 5 2-7 2-.6 2 1.9 2 .3 2 3.1 2-3.1 2-1.9 2-1.5 2 3.5 2-2.9 2-2.4 2 6.8 2-3.3 2-1.5 2-1.3 2 3.9 2-.1 2-3.3 2 3.7 2-6 2 3.4 2 .5 2-2 2 1.4 2-7.2 2 3 2-3.4 2 3.4 2-.7 2 4 2-.3 2 1.4 2 1.6 2-2.9 2 2.4 2-1.2 2-5.3 2 1.5 2 4.2 2-1.4 2 2.4 2 .5 2-.8 2-4.9 2 9.3 2-3.6 2 5.9 2-.8 2 6.2 2-5.2 2 6.1 2-1.4 2-3.2 2-3.9 2 .7 2 0 2-1 2 1.8 2 1.3 2 2 2-8.4 2 7.9 2 1.5 2-6.7 2-1.4 2 3.9 2-2.2 2-4.5 2 2.2 2-1.3 2 4.8 2-5.8 2-5 2 2.9 2 .6 2-5 2 .8 2 1.4 2-1.2 2-1.3 2 4.1 2-3.5 2 2.9 2-3.2 2 3.3 2 .8 2-1.7 2 1.5 2 .3 2-.5 2 1.2 2-.1 2-.5 2 1.6 2 .8 2-2.3 2-4 2 5.2 2-3 2 4.1 1-2.7 1-6.1 1-.3 1 0 1-.7 1 .8 1-1.4 1-3.7 1-7.9 1-4.6 1 .3 1-2 1-2.9 1-6 1-2.5 1 .6 1-7.2 1-3.8 1 1.3 1 1.9 1-.5 1-2.3 1-2.7 1-3.2 1 2.3 1 .4 1-5.7 1 1.2 1-.3 1-2.7 1 4.2 1 4 1-.9 1 1.4 1 2.3 1-.9 1-1 1-1.6 2 4.5 2-.8 2 3.5 2-3.2 2 6.4 2 3.5 2 3.6 2-3.8 2 3.5 2-1.5 2 1.5 2-2 2 7.2 2-3.5 2-.7 2 .3 2 3.3 2 2.5 2 1.9 2-4.9 2 1.4 2 5.7 2 3.9 2 .4 2 .1 2-4.1 2-2 2 5.7 2 1.8 2 3.1 2-1.3 2 4 2 4.2 2 .8 2 1.7 2 9.1 2-4.3 2 8.4 2 2.3 2-.5 2-1.3 2-2.1 2 5 2 4.3 2 1.6 2-1.3 2 5.9 2 .2 2-2.4 2 2.2 2 .2 2-.8 2-.1 2 1.1 2 1.6 2 0 2 .8 2-3 2-3.9 2 3.2 2-2.9 2 1 2 .5 2-.5 2 .5 2-.2 2-2.2 2 3 2-6.8 2 3.9 2-5.2 2 3.3 2 0 2-7.1 2 1 2-2.3 2 1.3 2-6 2 4.7 2-.3 2 .2 2 0 2-5.6 2 1 2-4 2-1.6 2 5.2 2-7.1 2 1.7 2 2 2-1.1 2-5.1 2 1 2-2.2 2 3.3 2-4.1 2 3.4 2-3.2 2 1.2 2-6.3 2 3.2 2-.4 2 1.8 2-3.1 2-1.7 2 5.8 2-1.1 2-1.7 2 4.8 2 4.7 2-1.2 2 1.6 2-5.3 2 3.2 2-4.8 2 .3 2-.1 2 .2 2-.7 2 2.7 2-4.8 2 6.6 2-2 2 .8 2-1.5 2-2.1 2 4.2 2-7.1 2 9.2 2-.8 2 3.4 2 2.6 2-4.9 2-1.3 2 3.8 2-2.7 2-.9 2 5.2 2-1.7 2-.9 2 3.4 2-6.2 2 4.5 2-3.9 2 1.7 2-.1 2 .2 2 3.7 2-6.7 2-4.2 2 1.3 2 4.5 2 .8 2 2 2-1.3 2 .3 2 1.3 2-4 2-1.3 2-.2 2-1.5 2 1.9 2 1.1 2 3.2 2-1 2 0 2-3.7 2 1.6 2 2.6 2-3.6 2-1.6 2 5.2 2-4 2 2 2 .8 2-2.1 2 .2 2-1.3 2-7.3 2 3.4 2-2.6 2-2.5 2 1.6 2-.9 2 7.2 2-2.2 2-3.6 2 1 2-3.8 2 .6 2 2.2 2-7.4 2 7.6 2-3 2 1.2 2-3.3 2 1.3M220 498.6l2-2.7 2 2.7 2-6.4 2-2.9 2 4.9 2 2.1 2-.9 2 .4 2 6.3 2-.4 2-2.1 2-1.3 2 .9 2 3.7 2 1.2 2-5.3 2-1.1 2-.2 2 3.1 2 2.7 2-.5 2 2.8 2-4.2 2-2.4 2 .7 2-1.3 2 2.6 2-2.3 2-3.4 2-.7 2 3.6 2-4.1 2-.7 2 4.5 2-1.2 2-1.2 2 .3 2 4.2 2-1.8 2-.4 2 4.2 2-6.9 2 1 2-.1 2-2.6 2 1.8 2-4.2 2 1.7 2-2.4 2 3.8 2-.6 2 1.5 2 .8 2 .8 2 .9 2-3.1 2 2.4 2-2.9 2-2.5 2 1.3 2 1.5 2 .4 2 .9 2 .3 2 0 2-1.6 2 9.8 2-2.5 2 2.9 2-1.5 2 4.9 2-5.1 2 5.6 2 .2 2-4.6 2-2.3 2 1 2-1.2 2-1.6 2 1.8 2 .2 2 4 2-9 2 7.7 2 1.7 2-3.6 2-3.5 2 5.5 2 0 2-9.3 2 2.5 2-.7 2 5.5 2-6.3 2-5.1 2 2.7 2-1.5 2-1.9 2 1.8 2 1.1 2-1.4 2-2.8 2 5.6 2-2.7 2 1.5 2-4.5 2 4.1 2 2.4 2-4.5 2 2.7 2 0 2-.9 2 2.3 2 0 2-2.6 2 2.1 2 1.1 2-2 2-3.6 2 4 2-2.7 2 4 1-2.6 1-6.8 1-1.7 1-2.4 1-3.1 1-6.9 1-6.6 1-8.4 1-12.4 1-7.7 1-3.5 1-5.6 1-7.3 1-10.1 1-6.4 1-4.4 1-9.7 1-7.2 1-3 1-1.7 1-4 1-4.3 1-5.7 1-6.8 1-.1 1-2.5 1-5.3 1 1.7 1 .9 1 .4 1 6 1 6.1 1 2.5 1 3.5 1 3 1 2.2 1 2.5 1-.5 2 9.8 2 1.7 2 8.7 2 5.6 2 7.2 2 8.2 2 8.8 2-1.3 2 6.8 2-.9 2 4.9 2 1.9 2 9.7 2 2.3 2 3.3 2 3.7 2 4.1 2 2.8 2 6.1 2-5.1 2 6.5 2 2.1 2 .7 2 4.4 2-3.6 2-1.3 2-1.3 2 6 2-1.5 2 4.6 2-.9 2 1.3 2 4.2 2 2.5 2 .3 2 8.6 2-2.2 2 9.7 2 1 2 .7 2-3.1 2 .3 2 4.2 2 4.9 2 1.7 2-3.2 2 3 2 .5 2-1.3 2 1.7 2 2.9 2-3.4 2 1.8 2 1.5 2 1.8 2-1.4 2 3.4 2-4.1 2-2.6 2 .9 2-1.1 2 .4 2 .2 2 .7 2-.8 2 .5 2-2.2 2 0 2-7.8 2 3.7 2-3.7 2 1 2-.1 2-7.5 2-.7 2-2.9 2 3.7 2-6.8 2 7 2-.8 2 .8 2 2.6 2-6.1 2-.7 2-4.1 2 .2 2 3 2-6.2 2 .3 2 2.8 2-1.7 2-3.2 2 1.3 2-.2 2 3.3 2-7.8 2 1.7 2-3.1 2 2 2-6.4 2 6.5 2-.6 2 2.4 2-3.2 2-3.5 2 5.8 2-2.3 2 1 2 3.2 2 1.9 2 .4 2 3.3 2-5 2 1.7 2-2.5 2 .8 2-.8 2-1 2-2.1 2 2.5 2-4.6 2 8.7 2-1.2 2 2.5 2-4.5 2-2.6 2 4.3 2-7.9 2 8.7 2-2.3 2 5.9 2-.3 2-2.1 2-3.9 2 5.8 2-2.7 2 1 2 6.8 2-2.9 2-.9 2 4.3 2-6.1 2 3.4 2-5.3 2 1.7 2-2.9 2 2 2 5.4 2-5.4 2-1.5 2 .8 2 3.1 2-.9 2 2.7 2-3.3 2 1.2 2 1.5 2-2.6 2 .1 2-.8 2 .8 2 2.7 2-.6 2 .8 2-1.7 2-.4 2-3 2 3.7 2 1.4 2-2.6 2-2.6 2 2.8 2-2.8 2 1.8 2 1.3 2-.5 2-3.7 2-1.2 2-8.3 2 4.4 2 0 2-2.3 2 2.5 2-1.5 2 6.3 2-3.4 2-4.1 2 0 2-1.7 2-2.1 2 1.4 2-3.7 2 6 2-.6 2 .1 2-1 2 1.1M220 499.4l2-2.5 2 4.7 2-7.2 2 .2 2 1.6 2 2.4 2-2.4 2 .9 2 8.2 2-2.8 2-.5 2-4.2 2 .4 2 3.1 2 .5 2-3.4 2 0 2-1.6 2 3.9 2 3 2-3.4 2 4.1 2-5.4 2-1.7 2 1.5 2-.5 2 6.5 2-5.1 2-.5 2-3.7 2 1.8 2-2.7 2-.6 2 6.5 2-1.8 2-.8 2-.6 2 4.6 2-.2 2-4.1 2 5 2-6.4 2 1.5 2-1.7 2-1.4 2 1.2 2-2.7 2 1.3 2-2.1 2 3.9 2-2.4 2 4.6 2-.8 2 2.2 2 1.3 2-4.2 2 3.1 2-2.4 2-1.7 2 .9 2 1.2 2-1.5 2 1.8 2-.6 2-1.8 2-1.7 2 8.7 2-3 2 3.4 2-.2 2 6.3 2-7 2 6 2-1 2-2 2-.9 2 1.6 2-1.4 2-2.4 2 .5 2 .4 2 3.3 2-8.5 2 6.8 2 2.4 2-6.3 2-1.6 2 3.4 2 .2 2-6.8 2 2.4 2-.7 2 5 2-8.1 2-3.7 2 3.9 2-.7 2-3.3 2 4.9 2-1.3 2-2.3 2-1.7 2 5.7 2-4.7 2 2 2-3.8 2 1.4 2 2.8 2-2.6 2 1.7 2 .5 2 .8 2 .7 2 1.1 2-1.6 2 .5 2 3.8 2-5 2-1.9 2 3.1 2-4.6 2 3.2 1-6.4 1-10.1 1-11.1 1-11.5 1-12.2 1-14.2 1-12.8 1-12 1-18.2 1-13.2 1-9.8 1-12.5 1-13.2 1-16.1 1-10.4 1-8.5 1-14.2 1-12.3 1-8 1-5.9 1-7.5 1-5.5 1-7.2 1-2.7 1 8.6 1 5.6 1 1.1 1 4.4 1 2.7 1 1.9 1 8.7 1 8.7 1 1.6 1 2.9 1 4.3 1 3.1 1 4.4 1 2.4 2 11.5 2 4.2 2 11.2 2 4.1 2 12.4 2 8.3 2 12.5 2 .9 2 9.2 2 3.9 2 5.1 2 2.9 2 13.8 2 1.6 2 4.9 2 5.9 2 9 2 7.6 2 7.5 2-1 2 5.9 2 10.2 2 3.8 2 5.1 2 2.6 2 .8 2 1.1 2 7.5 2 1.8 2 5.6 2 1.3 2 2.7 2 6.9 2 1.4 2 .8 2 8.8 2-4.8 2 8.4 2 2.5 2 1.1 2-1.6 2-1.2 2 4.2 2 2.6 2 2.9 2-1 2 4.5 2 3.2 2-1.8 2-.7 2-.7 2-2.8 2 .2 2 1.2 2 1.7 2-.1 2 4.8 2-6.1 2-.8 2 3.1 2-1.7 2-.5 2 .6 2-3.3 2 .8 2 2 2-5 2 2.7 2-9 2 5.5 2-3.1 2-.1 2 .4 2-7.6 2 1.4 2-2.2 2 3.9 2-5.8 2 5.3 2-3 2 .6 2 2.4 2-6 2 1.8 2-4.2 2-1.7 2 3.1 2-4.7 2 .2 2 3.9 2-5 2-4.2 2 .7 2 .9 2 2.7 2-6.6 2 5.6 2-3.5 2-.6 2-4.9 2 3.2 2 .1 2 2.1 2-2.7 2-.8 2 5.1 2-4.3 2 .5 2 4.4 2 3.5 2 .3 2 2.6 2-6.7 2 .8 2-3 2 2.1 2-.7 2 .4 2-1.5 2 2.8 2-3.1 2 5.3 2-3.8 2-.6 2-1 2-.1 2 7 2-5.2 2 8.1 2-2.1 2 5.9 2-.1 2-4.7 2-2.2 2 1.5 2-1.5 2-1.4 2 6.3 2-2.3 2 0 2 3.6 2-5.1 2 2.1 2-2.3 2 3.2 2-2 2 .6 2 3 2-4.5 2-3.5 2 2 2 2.7 2-3.4 2 2.8 2-3.8 2 2.5 2 2 2-.9 2 .1 2-.9 2-.3 2 5.3 2-1.1 2 2.2 2-5.7 2 .5 2-5.2 2 4.3 2 1.8 2-3.9 2-.7 2 4.4 2-3 2-.1 2 3.4 2-2.7 2-3.3 2 0 2-8.1 2 2.9 2-1.5 2-1.9 2 1.6 2-2.7 2 9.2 2-3.4 2-3.6 2 2.6 2-3.4 2-2.3 2 3.4 2-5.4 2 6.1 2-2.3 2 1.9 2-2.6 2 2.1M220 499.7l2 1 2 1.4 2-6.2 2-2.7 2 2.8 2 2.3 2-.4 2-.3 2 7.2 2-1.8 2-.2 2-4.5 2 .2 2 4 2 0 2-1.9 2 .5 2-.1 2 2.6 2 4.1 2-5.1 2 6 2-7.1 2-2.9 2-.5 2 .6 2 6.3 2-4.2 2-.2 2-3.2 2 .5 2-4.7 2-1.1 2 6.9 2-2.9 2-.8 2 .8 2 3.8 2-.3 2-3 2 2.9 2-2.8 2 0 2 1.3 2-2.4 2 .4 2-3.7 2 1.1 2-1.9 2 5.7 2-1.6 2 2.2 2 1.6 2-.4 2 1 2-3.4 2 1.5 2-.8 2-3 2 2.5 2 1.3 2 .2 2-2.4 2-.2 2-.2 2-3 2 10.3 2-1.3 2 2.8 2 .6 2 4.1 2-6.6 2 7.3 2-.1 2-4.5 2-1.7 2-.4 2 .6 2-2.1 2 1.8 2 .9 2 5.2 2-10 2 6.9 2 1.4 2-4.5 2-2.1 2 2.4 2 1.5 2-8.2 2 2.2 2-.1 2 3.3 2-4.8 2-6.4 2 3.1 2 .2 2-2.9 2 2.8 2-.3 2-.1 2-1.4 2 1 2-.9 2 .4 2-3.5 2 2 2 3.5 2-3.4 2 1.2 2 1 2 2.5 2-.4 2 1.1 2-2 2 .1 2 .9 2-1.4 2-2.5 2 4.5 2-2.7 2 3.8 1-3.7 1-5.3 1-2.9 1-2.2 1-.3 1-1.7 1-2.7 1-5 1-11.1 1-6.3 1-.8 1-3.3 1-4.3 1-6.8 1-3.6 1-2.1 1-7.5 1-4.7 1-.4 1-.2 1-2.5 1-2.2 1-3.9 1-4.1 1 .2 1-2.1 1-4.6 1-.9 1-4.2 1-5.5 1 1.7 1 5.2 1 .3 1 1.4 1 1.7 1 1.5 1 1.6 1 .2 2 7.8 2 .6 2 9.5 2 2.2 2 6.7 2 6.6 2 5.6 2-1.8 2 7.6 2-.7 2 .9 2 1.6 2 7.7 2-.2 2 3.6 2 2.1 2 3.5 2 3 2 2.6 2-4.7 2 2.3 2 4.2 2 .9 2 .1 2-.1 2-3.5 2-2.5 2 7.2 2 .1 2 1.4 2 .6 2 .9 2 4.8 2 .6 2 3.5 2 9.5 2-3.7 2 9 2 1.6 2 .3 2-1.2 2-2.3 2 5.9 2 3.3 2 2.4 2-.8 2 4 2 2.1 2-2.6 2 2.7 2 1.3 2-4.7 2-.1 2 1.2 2-.2 2-1.5 2 4.5 2-3.3 2-1.6 2 2.9 2-2.2 2 1.2 2 .3 2-2.3 2-1.1 2 1.4 2-2.4 2 2 2-6.5 2 4.8 2-5.9 2 1.1 2 0 2-5.4 2 .7 2-2 2 3 2-6 2 1.8 2-2.4 2 1.5 2 3.6 2-5.9 2-1.1 2-2.1 2-.8 2 5.3 2-7 2-.4 2 .8 2-4 2-4.6 2 2.6 2 1.5 2 2.1 2-3.9 2 3.9 2-4.3 2 1.8 2-6.1 2 3.5 2-.7 2 .3 2-2.2 2 .4 2 4.4 2-.5 2-1.8 2 3.7 2 3.1 2-.1 2 2.7 2-5.5 2 1.5 2-4.1 2 0 2-.1 2-.1 2 .3 2 3.3 2-2.1 2 6.1 2-2.9 2-.1 2-4.1 2-1.9 2 6.1 2-5.8 2 11.7 2-1.3 2 3 2 .7 2-2.9 2-4.7 2 2.4 2-3.2 2 .2 2 6.4 2 .5 2 .7 2 1.8 2-3.3 2 1.9 2-5.1 2 1.9 2-1.1 2 .4 2 5 2-5.3 2-4.6 2 1.5 2 2.3 2-1.2 2 .3 2-2.8 2 2.7 2 .4 2-3.2 2 0 2 .7 2-1.5 2 4 2 .9 2 3.6 2-2.8 2-1.2 2-3.1 2 1.4 2 2.9 2-2.5 2-.8 2 2.4 2-3.3 2-.4 2 .4 2 .7 2-1.7 2 .3 2-8.9 2 2.4 2-2.2 2-2.2 2 2.9 2-2 2 8.1 2-3.7 2-1.9 2 1.3 2-4.1 2-.3 2 .8 2-5.5 2 4.3 2-.7 2 0 2-.5 2 2.5M220 500.4l2-2 2 3.5 2-7.4 2-2.1 2 4.3 2 2.2 2-1.7 2 .9 2 3.6 2 .1 2-2 2-2 2 1.9 2 4.4 2 1.1 2-4.2 2-.8 2 .3 2 .5 2 4.7 2-2.1 2 3.9 2-6.5 2-1.4 2 .2 2-.1 2 6.4 2-6.3 2 .7 2-3.1 2 4.6 2-5 2-2.1 2 5.9 2-3.9 2-.5 2 2.2 2 3.4 2-.9 2-2.9 2 2.7 2-4.8 2-.3 2-.9 2-2 2 2.2 2-4.2 2 2.8 2-1.4 2 4.8 2-2.2 2 1.8 2 3.2 2-.1 2 .8 2-1.3 2-.7 2-1.1 2-3.3 2 1 2 .6 2 1 2 1.6 2-1.4 2-2.5 2-.1 2 8.9 2-1.2 2 2.5 2-.7 2 5.7 2-5.1 2 5.7 2-1.1 2-2.1 2-1.9 2-1.1 2 .3 2-2.2 2 1.9 2-1.6 2 3.1 2-7.4 2 7.7 2 1.5 2-3.9 2-3 2 3.1 2 .6 2-7.9 2 3.3 2-2.1 2 5.9 2-6.7 2-3.7 2 1.5 2 1.1 2-2.6 2 1.9 2-.4 2-2.1 2-2.4 2 5.6 2-3.8 2 1.7 2-3 2 3.4 2 2.7 2-4 2 1.4 2 1 2-.1 2 3 2 1.3 2-2.5 2 .1 2-.3 2-1.5 2-2.3 2 4.2 2-5.1 2 5.7 1-2.8 1-6.7 1-4.1 1-2.3 1-1.3 1-5.1 1-6.5 1-6.3 1-10.3 1-7.5 1-1.8 1-5.1 1-5.8 1-7.9 1-4.9 1-3 1-8.9 1-6.6 1-1.1 1 .9 1-3.5 1-3.3 1-5.1 1-7.2 1-.3 1-.5 1-5.3 1-2.2 1 1.3 1-.5 1 4.6 1 5.4 1 .5 1 1.8 1 2.6 1 2.5 1 2.1 1-1.7 2 9.8 2 1.5 2 5.4 2 1.5 2 6.7 2 6.7 2 7.2 2-1.4 2 6.1 2-1.3 2 4.2 2 1.5 2 11 2-1.1 2 2.8 2 3.5 2 5.1 2 4.3 2 4.4 2-3.9 2 3.7 2 7.2 2 2.7 2 1.2 2-2.4 2-4.6 2-.3 2 5.6 2 .6 2 .4 2 .8 2 4.3 2 4.7 2 .7 2 2.8 2 8.4 2-4.2 2 9.3 2 2.4 2-.7 2-2.7 2-.5 2 5.8 2 4 2 2 2 0 2 4.4 2 .7 2-1.6 2-.8 2 1 2-2.2 2 .8 2-.2 2 .5 2-.8 2 6 2-4.1 2-1.1 2 2.5 2-1.9 2-1.7 2 4.2 2-3.2 2 1.1 2-1.1 2-2.9 2 1.6 2-9.1 2 4.2 2-3.2 2 .7 2 1.7 2-6.3 2 1.7 2-2.1 2 .3 2-7.2 2 5.8 2-2.5 2 1.8 2 1.3 2-4.8 2-.7 2-3.3 2 .3 2 2.4 2-4.9 2-1.1 2 3.2 2-2.6 2-3.2 2 1.6 2-.5 2 2.1 2-6.2 2 3.3 2-4 2 .1 2-5.2 2 4.8 2-1.8 2 4.1 2-2.5 2-2.5 2 5.7 2-2.5 2-.6 2 3.5 2 3.1 2 .6 2 2.4 2-5 2 .5 2-3 2 1.6 2-.6 2 .3 2-2 2 1.2 2-2.9 2 7 2-1.1 2-.4 2-2.9 2-2.6 2 7 2-6.1 2 8.6 2-2.6 2 4.3 2 .2 2-3.3 2-2 2 3.9 2-.9 2 .2 2 5.5 2-2.1 2-1.9 2 4.1 2-5.9 2 4.4 2-3.6 2 3.6 2-4 2 .7 2 3.2 2-4.3 2-4.6 2 2 2 3.3 2 .2 2 .3 2-2.2 2 .3 2 2.7 2-1.1 2-.2 2-1.3 2 1.5 2 3.6 2-2 2 3.6 2-3 2-1.4 2-4.7 2 2.7 2 2.9 2-3.1 2-1 2 4.7 2-2.3 2-3 2 1.7 2 .2 2-4.3 2 1.3 2-8.2 2 1.7 2-.8 2-1.6 2 2.1 2-3.7 2 7.8 2-2.7 2-2.2 2 1.3 2-1.7 2-1.2 2 1.9 2-7.6 2 9 2-2.9 2 3.1 2-5.9 2-.3M220 501.4l2-2 2 3.1 2-6.6 2-1.1 2 2.5 2 1.5 2-.9 2 1.1 2 6.1 2 .3 2-2.1 2-3.1 2 1 2 4 2 .2 2-4.7 2 .7 2-1.2 2 4.5 2 2.3 2-1.9 2 2.8 2-5.7 2-1 2-.3 2 .7 2 6.4 2-5.3 2-.6 2-2.9 2 1.8 2-4.5 2-1.5 2 7.8 2-3.2 2-1.1 2-.3 2 3.4 2-2 2-.6 2 4.4 2-6.6 2 .9 2 .5 2-1.3 2 1.2 2-5.2 2 3.3 2-2.8 2 2.8 2-2.1 2 3.2 2 1.6 2-1.4 2 1.8 2-1 2 2.2 2-2.2 2-2.7 2 2.6 2-.1 2-.6 2 1.2 2 1.3 2-1.2 2-2.8 2 9 2-1.9 2 3.6 2-1.4 2 6.4 2-7.4 2 6.3 2-.9 2-3.4 2-2.7 2 2.7 2-1.4 2-.5 2 1.6 2 .8 2 2.4 2-6.2 2 5.5 2 1.6 2-5.8 2-1.2 2 2 2 .8 2-7.7 2 2.5 2-1.9 2 3.8 2-6.4 2-3.9 2 5 2-1.1 2-2.3 2 1.7 2 .5 2-1.6 2-2.1 2 3.8 2-3.7 2 1.3 2-3.1 2 2.5 2-.3 2-1.2 2 .1 2 1.8 2-.3 2 4.5 2-.2 2-2 2 .6 2 .6 2-2.8 2-1.4 2 4.8 2-2.4 2 3.4 1-4.1 1-7.6 1-6 1-4.1 1-3.3 1-5.8 1-7.7 1-8.8 1-12.1 1-7.8 1-3.6 1-6.5 1-7.3 1-10 1-6.1 1-3.2 1-10.6 1-9.3 1-4.8 1-3.4 1-4.7 1-4.6 1-6.7 1-7.1 1-1.8 1-3.6 1-7.7 1-6.1 1-6.9 1-5.7 1 .9 1 .4 1-6.2 1-1.8 1 4.2 1 2.3 1 3.2 1 1 2 8.2 2 5.2 2 8.6 2 5.4 2 10.6 2 7.6 2 10.8 2-.2 2 10.4 2-1.1 2 4.4 2 4.9 2 12.8 2 1.7 2 5.4 2 6.4 2 6.3 2 4.5 2 6.7 2 .5 2 8.2 2 7.8 2 8.7 2 4.9 2 2.5 2-1.1 2 3.4 2 8.8 2 1.7 2 3.7 2-.1 2 .7 2 5.3 2 1.6 2 .4 2 12.2 2-4.8 2 9.4 2 .5 2-.6 2-1 2-.6 2 4.9 2 2.5 2 1.5 2-2.2 2 6.4 2 1.3 2 1.4 2-.8 2 1.8 2-3.3 2 1.4 2 1.9 2 .1 2 .4 2 2.3 2-4 2-1.7 2 2.8 2-3.9 2 .9 2 1.2 2-1.5 2-.4 2 1.2 2-3.1 2 2.4 2-8 2 4.5 2-3.6 2 0 2 1.7 2-6.3 2 .6 2-3.5 2 .8 2-7.5 2 5.9 2-3 2 2.5 2 2.1 2-6.1 2 .5 2-3.4 2 1 2 2.5 2-6.2 2 1.4 2 1.2 2-2.8 2-5.3 2 3.6 2-1.7 2 2.8 2-6.9 2 2.4 2-3.6 2 2.1 2-4.5 2 3.6 2-.3 2 .2 2-2.4 2-1.9 2 5.6 2 1.2 2-1.1 2 3.1 2 2.7 2 .7 2 1.9 2-5.9 2 2.1 2-5.2 2 3 2-.1 2-1.6 2-1.8 2 3.3 2-3.4 2 8 2 .4 2 1.2 2-3.8 2-2 2 5.4 2-5 2 6.8 2-2 2 3.3 2 .3 2-2.9 2-3.5 2 4.7 2 .1 2-1.9 2 5.2 2-.4 2-2.2 2 2.9 2-4.6 2 4.4 2-2.6 2 .9 2-2.5 2 1.7 2 2.2 2-5.4 2-2.7 2 3.8 2 3.6 2-1.5 2 3.1 2-4.2 2 .3 2 2.2 2-2.5 2-1.4 2-.5 2-4.4 2 4 2 1.1 2 3.8 2 .4 2 1.3 2-6.5 2 3.5 2 2.5 2-5.2 2-.3 2 2.8 2-2.4 2-1.3 2 1.5 2-3.4 2-4.1 2-.5 2-6.7 2 4.9 2-1.4 2-3.5 2 3.4 2-2 2 9.4 2-4.2 2-1.8 2 1.2 2-2.5 2-3.1 2 1.9 2-7.2 2 8.2 2-2.3 2 2.3 2-1.2 2 3.6M220 501.4l2-1.3 2 3.3 2-5.8 2-1.8 2 2.6 2 2.4 2-1.1 2 .3 2 6.6 2-1.1 2-1.3 2-3 2 .5 2 5 2 .2 2-3.9 2-.6 2-2.1 2 3.7 2 2.1 2-2.1 2 2.2 2-4.9 2-.5 2 1.3 2-1.4 2 5.5 2-3.8 2-1.7 2-3.2 2 3 2-3 2-4 2 9.9 2-1 2-3.7 2 1 2 5.1 2 0 2-3.2 2 2.5 2-4.6 2-.1 2 .1 2-.7 2-.2 2-3.5 2 3.1 2-3.9 2 4.1 2-2.4 2 2.6 2-.3 2 1.5 2 1.2 2-2.5 2 2.6 2-1.8 2-4.8 2 1.9 2 2.6 2-.5 2 2 2-.2 2-.3 2-3.4 2 9.4 2-3.1 2 3 2 .9 2 5.8 2-7.2 2 6 2 .3 2-3.6 2-1.3 2-.4 2-.9 2-3.5 2 4.2 2-1.2 2 4.9 2-9.7 2 7.9 2 .3 2-4.6 2-3.6 2 3.7 2 .4 2-7.7 2 1.6 2 1.3 2 4.6 2-4.9 2-2.7 2 1.5 2-.6 2-1.6 2 2.3 2-1.9 2-.6 2-2 2 5.5 2-4 2-4.1 2-1.9 2 3.5 2 3.2 2-3.7 2 4.5 2-.4 2 .2 2 1.4 2 1.9 2-1.6 2-.7 2 1.8 2-1.8 2-2.3 2 4 2-4.2 2 3.5 1-5.4 1-6.6 1-5 1-4.7 1-1.6 1-4.7 1-6.2 1-6.7 1-13.8 1-8.1 1-2.4 1-7.2 1-7.7 1-8.9 1-5.8 1-4.9 1-9.6 1-9 1-3.7 1-1.1 1-5.4 1-5.2 1-5.1 1-5.8 1-2.8 1-3.3 1-7.3 1-4.3 1-5.5 1-7.5 1 0 1 .8 1-4.8 1-1.9 1 3.7 1 1.9 1 2.6 1 .4 2 10.4 2 2.3 2 9.1 2 2 2 11.8 2 8 2 9.2 2-1.8 2 8.1 2 2.6 2 4.5 2 5.3 2 9.9 2 3.4 2 3 2 6.4 2 7.1 2 6.9 2 6.2 2 0 2 8.3 2 6.3 2 8.4 2 2.7 2 4.4 2-1.3 2 3.2 2 8.9 2-.5 2 4.6 2-.3 2 .1 2 5.8 2 .1 2 3 2 11.3 2-5.9 2 9.7 2 .5 2-1.1 2-.8 2-1.4 2 4.6 2 5.7 2 3.3 2-1.3 2 6.1 2 1.1 2-1.6 2-.7 2 1.9 2-3.6 2-.5 2 .9 2 .9 2-2.8 2 3.5 2-4.6 2-.4 2 5.3 2-2.7 2-.3 2 0 2-2.5 2 .9 2 .6 2-2.9 2 2.5 2-6.1 2 2.8 2-5 2 0 2 1 2-6.3 2 1.5 2-1.3 2 2.3 2-6.7 2 5.4 2-4.4 2-.7 2 4.2 2-9.3 2 1.2 2-1.6 2-1.4 2 5.9 2-3.4 2-1.5 2 2 2-2.9 2-4 2 .7 2-2.1 2 2.7 2-6.4 2 5 2-2.8 2-.1 2-5.3 2 3.2 2 0 2 1.6 2-1.5 2-1.8 2 6.1 2-2 2-.1 2 2.3 2 4.1 2 1.1 2 2.4 2-5.6 2 1.1 2-4.5 2 2 2 .1 2-2.3 2 2 2 2.5 2-3.9 2 7.1 2-1.2 2 .3 2-4.3 2-1.9 2 3.6 2-8 2 11 2-2.3 2 5 2 0 2-3.2 2-2.9 2 3.8 2-.2 2-1.7 2 8.2 2-3.8 2-.7 2 3.9 2-5.1 2 3.6 2-6.4 2 3.2 2-2.7 2 2.7 2 3.5 2-4.5 2-4.1 2 1.2 2 3.8 2-1.6 2 2.2 2-3.2 2 .5 2 2 2-1.8 2 1.2 2-.7 2-2 2 3 2 .5 2 3.3 2-1.7 2 .3 2-4.6 2 .6 2 1.6 2-2.6 2-.1 2 5.4 2-3.4 2-1.1 2-1.3 2-1.7 2-3.4 2 1.2 2-6.6 2 2.1 2 .9 2-1.5 2 .7 2-.5 2 7.3 2-3.2 2 .1 2 2 2-2.7 2-3.2 2 .5 2-3.7 2 4.9 2 .4 2 .3 2-1.8 2 .8M220 502.7l2-1.4 2 3.2 2-7.2 2-2.1 2 2.7 2 2.8 2-.2 2-.2 2 5 2-.1 2-2.3 2-1.7 2 .4 2 3.3 2 2.1 2-3.7 2 .9 2-2.3 2 3.7 2 3 2-1.9 2 4.7 2-8.3 2-1.7 2 1.4 2-1.5 2 5.4 2-3.2 2-2 2-2 2 1.7 2-1.7 2-1.5 2 8.1 2-3.1 2-1.4 2-.9 2 3.5 2-1.1 2-.5 2 1 2-6.8 2 2.1 2 .6 2-1.5 2-.9 2-2.7 2 3.4 2-2.9 2 3.2 2-3.6 2 6.6 2-1 2 .7 2 1.3 2-1.4 2 .5 2-1.4 2-3.2 2 .8 2 1 2 .3 2 1.4 2-1.3 2-.1 2-1.1 2 9.6 2-2.4 2 2.5 2-1.1 2 5.8 2-5.2 2 5.5 2-.4 2-4 2-1.7 2-.7 2 .3 2-1.7 2 2.8 2 .7 2 3.8 2-8.8 2 8.4 2 0 2-6.4 2-1.6 2 3.3 2-.3 2-6.6 2 1.5 2-1.3 2 7.2 2-9.5 2-1.5 2 3.8 2 .3 2-3.2 2 2.5 2-2 2-1.3 2-1.7 2 5.3 2-3.9 2-1.2 2-2.1 2 .6 2 4.1 2-3.7 2 3.4 2-.7 2 .3 2 1.5 2 .7 2-1.7 2 1.8 2 .8 2-2.2 2-3.2 2 3.3 2-2.7 2 .6 1-7.5 1-16.2 1-12.4 1-14.2 1-13.5 1-14.1 1-12.3 1-13.9 1-19.4 1-15.6 1-11.4 1-13.4 1-13.7 1-15 1-10.3 1-9.5 1-15.6 1-13.5 1-7.1 1-2.5 1-6.4 1-6.9 1-.7 1 5.2 1 8.8 1 5.7 1 4.4 1 8.1 1 4.4 1 2.5 1 9 1 9.9 1 3.9 1 5.1 1 5.7 1 5.1 1 4.7 1 1.4 2 13.9 2 6.7 2 13 2 7.3 2 11.5 2 11 2 12 2 3.2 2 11.8 2 .5 2 7.5 2 4.6 2 11.4 2 2.4 2 6.2 2 5.2 2 6.8 2 5.9 2 7.2 2-1.4 2 4.6 2 7.4 2 3.9 2 3.1 2-1.2 2-3.5 2-.5 2 6.1 2 .8 2 3.7 2-.9 2 2 2 6.9 2 1.3 2 2.5 2 9.9 2-5.7 2 7.3 2 2.1 2-2.3 2-1.5 2 1 2 5.6 2 4.9 2 .3 2 .6 2 4 2 1.4 2-.7 2 .9 2 .1 2-1.9 2 .2 2-.1 2 3.2 2-.6 2 3.4 2-3.4 2-3.7 2 2.6 2-1.6 2-.2 2 1.2 2-2.2 2 1.5 2-.7 2-4.9 2 1.6 2-7.2 2 4.6 2-3.2 2 3.1 2-.9 2-6.8 2 .2 2-2.5 2 1.3 2-7.8 2 4.9 2-1.8 2 1.1 2 4 2-7.7 2 2 2-3 2-.2 2 5.5 2-7.2 2 1.1 2-.3 2-2.3 2-5.6 2 2.2 2-1.1 2 2 2-3.3 2 3 2-1.2 2 .9 2-8.3 2 4.5 2-1.8 2 1.6 2-.8 2-3.6 2 6.3 2-1.1 2-.7 2 2.8 2 4.9 2-.4 2 2.2 2-5.4 2 .6 2-3.2 2 2.8 2-2.4 2 .1 2-3.2 2 1.4 2-2.4 2 6.6 2 0 2 .6 2-2.5 2-2 2 6 2-6.4 2 9.8 2-3.2 2 4.8 2 1.9 2-3.3 2-3.4 2 6 2-2.6 2-1.8 2 4.5 2-3.5 2-1.9 2 2.7 2-4.4 2 5.9 2-3.6 2 4.5 2-2.7 2 3 2 4 2-6.9 2-4.5 2 1.3 2 .9 2-.3 2 3.8 2-3 2 1.2 2 2.1 2-4.3 2 .1 2-.2 2 0 2 3 2 0 2 1.8 2-.8 2 .1 2-3.3 2 3.5 2 2.4 2-5 2-2.5 2 2.6 2-4.5 2 1.6 2 1.7 2-3.6 2-1.7 2 2.5 2-9.8 2 4.9 2-1.3 2-1.4 2 1.9 2-.5 2 8.7 2-2.3 2-3.8 2 .6 2-4.4 2-2.1 2 1.3 2-7.2 2 9.1 2-1.2 2 1.2 2-1.9 2 .9M220 503l2 .2 2 .4 2-5.5 2-1.8 2 2.6 2 2.6 2-.4 2 .2 2 6.2 2-2.2 2-.8 2-2.5 2 .2 2 4.1 2-.4 2-2.9 2-1.2 2 .5 2 3 2 2.4 2-2.2 2 4.5 2-5.4 2-3.8 2 1.5 2-1.7 2 5.5 2-2.9 2-1.7 2-3.1 2 3.7 2-4.1 2-.7 2 6.7 2-1.1 2-2.1 2-1 2 6.1 2-.8 2-2.4 2 3.6 2-6.4 2-.4 2-.2 2-4 2 3 2-3.9 2 3.1 2-2.9 2 3.2 2 0 2 2.9 2-.1 2 1.1 2 1.3 2-2.5 2 .9 2-1.3 2-2.8 2 3.2 2-.4 2 .7 2 1.4 2-.4 2 .3 2-1.4 2 6.7 2-3.5 2 3.3 2-1.9 2 6.8 2-5.2 2 5.5 2-1.1 2-2.4 2-1.2 2 .2 2-.7 2-2.5 2 1.6 2 .6 2 4.9 2-9.7 2 6.1 2 1.4 2-5.6 2-2 2 4.2 2 .5 2-7.2 2 1.9 2 .6 2 4.3 2-6.7 2-3.4 2 3.5 2 .1 2-3.2 2 2.2 2-.8 2-2.5 2-.9 2 2.4 2-2.1 2-.6 2-1.8 2 3.9 2 2.3 2-3.6 2 2.8 2-2.3 2 2.3 2 .5 2 0 2-3.5 2 2.4 2-.1 2-2 2 .5 2 1.9 2-5 2 5.9 1-1.7 1-5.5 1-1.2 1 .3 1-1.6 1-2.3 1-4.5 1-6.3 1-10.2 1-5.2 1 .2 1-4.3 1-6.4 1-6.9 1-3.7 1-2.1 1-7.8 1-7.5 1-1.8 1-.2 1-2.6 1-2 1-5 1-5.4 1 .2 1-1.7 1-5.5 1-1.6 1-2.4 1-4.1 1 1.4 1 6.2 1 1 1 1.3 1 2.3 1 .8 1 1.4 1-1.9 2 7.9 2-.7 2 5 2 1.3 2 5.1 2 6.5 2 6 2-2.3 2 5.8 2-.8 2 1.7 2 .7 2 6.2 2 .3 2 2.7 2 2.2 2 3.9 2 5.4 2 2.8 2-4.1 2 5.8 2 5.5 2 3.8 2 3.1 2 1.2 2 .3 2 .6 2 5.6 2-1 2 2.3 2-.6 2 .8 2 5.5 2 .7 2 4.6 2 10.5 2-5.5 2 10.7 2 2.4 2-1.2 2-2.7 2-1.4 2 5 2 4.8 2 1.8 2-.2 2 2.7 2 2.6 2-.6 2-1.8 2 2.7 2-1.8 2 1.3 2 1 2 2 2-.3 2 2.6 2-4.2 2-2.8 2 1.5 2-2.4 2 0 2-.2 2-1.3 2-1.2 2-.9 2-1.8 2 1.5 2-7.1 2 5.2 2-4.2 2 2.7 2-.1 2-7.9 2 1 2-1.3 2 1.1 2-6.2 2 5 2-1.2 2 .1 2 4.1 2-7.9 2 1 2-3.9 2-3.1 2 5.7 2-3.9 2-.8 2 3.1 2-1.3 2-6.7 2 2.9 2-2.2 2 4.2 2-7.1 2 3.7 2-4.2 2 .8 2-6.3 2 5.3 2-.1 2 1.2 2-.4 2-1.8 2 4.4 2-1.4 2-1 2 2.6 2 3.3 2-.6 2 2.2 2-3.9 2 .2 2-2 2 .7 2 .1 2 .3 2-3.3 2 4.9 2-3.5 2 9.4 2-3.2 2-.5 2-4.9 2-2.9 2 4.7 2-4.9 2 8.9 2-2 2 4.4 2 2.1 2-3.9 2-3.2 2 4.7 2-2.2 2 1.8 2 5.8 2-3.8 2-.4 2 2.7 2-4 2 5.7 2-4.2 2 .8 2-1.4 2 1 2 4.2 2-5.2 2-2.7 2-.5 2 1.7 2 .5 2 3.9 2-5.1 2 .7 2 2 2-3 2 .2 2-1.1 2 1.4 2 2.5 2 1 2 3.3 2-1.9 2-1.5 2-5.1 2 1.9 2 2.8 2-4.7 2 1.1 2 2.2 2-3.6 2 .2 2-.2 2-1.5 2-2.3 2 .5 2-7.1 2 3.2 2-1.1 2-.5 2 0 2-.8 2 8.3 2-4.5 2-3.5 2 .3 2-3.5 2-.2 2 2.3 2-6.8 2 11 2-1.4 2 .5 2-2.4 2 .2M220 503.6l2-1 2 2.8 2-6.2 2-1.2 2 1.6 2 2.3 2-3.4 2 1.3 2 7.5 2-.1 2-2 2-5.4 2 1.6 2 1.7 2 2.9 2-2.3 2 .8 2 0 2 2.2 2 3.3 2-2.4 2 3.5 2-6.3 2-2.6 2 0 2-2.1 2 6 2-3.5 2 .1 2-1.2 2 3.2 2-4.1 2-3.6 2 8.9 2-5.6 2 .7 2-.2 2 4.6 2-2.1 2-2.3 2 3.5 2-4.9 2 .2 2 .3 2-1.8 2 2.3 2-3.9 2 2.9 2-3.3 2 4.5 2-2.8 2 2.8 2 .5 2 .3 2 .4 2-2.4 2 2.1 2-2.4 2-1.9 2 3.5 2 2.2 2-.1 2-.5 2-.7 2-.4 2-2.2 2 10 2-3.1 2 3.7 2-3.1 2 5.8 2-5.9 2 6.2 2 1.4 2-3.1 2-1.6 2 .9 2-1.8 2-1.2 2 1.5 2-1.9 2 4.7 2-10.1 2 6.4 2 3.4 2-4.4 2-2.2 2 1.9 2 0 2-6.2 2 .5 2-1.8 2 4.3 2-4.1 2-4.3 2 4.7 2-.8 2-2.9 2 2.9 2 1 2-.7 2-1.1 2 2.3 2-2.6 2 1.7 2-4.3 2 2.3 2 .4 2-2.8 2 1.7 2 1.7 2-.1 2 .8 2-.1 2-1 2 1.9 2 .9 2-3.2 2-2.3 2 3.4 2-2.8 2 4.6 1-2.5 1-5.3 1-1 1-.5 1 1.5 1-.4 1-1 1-2.4 1-7.8 1-3.3 1 1.5 1 .2 1-3.1 1-5.7 1 .3 1-.6 1-6.9 1-3.4 1 2.1 1 2.9 1-1.6 1-1.3 1-2.3 1-3.6 1 1.2 1 1.3 1-2.7 1-1 1-2.5 1-2.8 1 5.4 1 5 1-2.9 1 0 1 2.9 1 .1 1-.1 1-2.3 2 5.2 2-2.4 2 4.3 2-3.7 2 4.4 2 2.7 2 4.6 2-4.1 2 2.7 2-3.2 2-.2 2-1.7 2 6.3 2-2.4 2 .6 2-.9 2 3.9 2 .3 2 2.9 2-3.7 2-.1 2 6.2 2 2 2 1.2 2 0 2-4.5 2-3.1 2 5.1 2 0 2 3.7 2-.6 2 3.9 2 5.6 2 .7 2 2.7 2 10.1 2-4.9 2 8.4 2 2.5 2-.8 2-.7 2-1.8 2 4.2 2 4.8 2 2 2-1.3 2 3.6 2 0 2 0 2-.5 2 6.2 2-2.9 2 1.8 2-.5 2 1.6 2-1.1 2 3.5 2-5 2-1.9 2 1.4 2 0 2-.9 2 1.5 2-1.4 2-.7 2 .1 2-1.4 2-.6 2-7.3 2 2.5 2-2.7 2 .1 2 .7 2-7 2 .7 2-4.1 2 4.3 2-6.1 2 4.6 2-.8 2 1.2 2 3.1 2-5.1 2-1.5 2-2.7 2-2.1 2 4.7 2-6.2 2 .3 2 3.8 2-2.2 2-4.7 2-.2 2-1.2 2 3 2-6.5 2 5.5 2-2.7 2 1 2-6.5 2 2.6 2-1.7 2 .9 2-1.4 2-.4 2 5.9 2-.9 2 1.3 2 2 2 5.1 2 .3 2 0 2-5.3 2-.5 2-3.9 2-.3 2-.6 2-.8 2 .2 2 3.4 2-2.1 2 6.5 2-3.2 2 2.6 2-.7 2-.9 2 3.2 2-7 2 7.6 2-2.5 2 5 2 1.5 2-3.7 2-.6 2 2.4 2-2.6 2 .5 2 6.2 2-.8 2-3.7 2 3.9 2-5.8 2 3.8 2-4.1 2 1.2 2-1.7 2 1.9 2 4.4 2-5.5 2-3.4 2 0 2 2.5 2 2.2 2 .3 2-2.6 2 .3 2 4.4 2-3.2 2-.3 2-1.2 2-1 2 3.7 2-1.5 2 4.7 2-2.6 2-.2 2-5.6 2 5.3 2 2.1 2-6.7 2-1.4 2 2.8 2-3.2 2 1.8 2 .7 2 .3 2-2.3 2 .9 2-8.7 2 3.5 2-1.4 2-.7 2 .5 2-2.6 2 7.5 2-2.4 2-3.2 2 1.2 2-5.1 2 .7 2 .9 2-5.9 2 10.3 2-1 2 .9 2-3.9 2-.1M220 503.7l2-1 2 2.4 2-6.9 2-.9 2 3 2 1.5 2-.9 2-1.7 2 8.9 2-1.5 2-1.8 2-3.7 2 3.4 2 3.1 2 1.5 2-5 2 .6 2-.6 2 1.3 2 4.1 2-2.5 2 3.8 2-4.3 2-3.7 2 2.1 2-1.7 2 6.2 2-3.3 2-2.6 2-3 2 3.6 2-4.3 2-3.3 2 10 2-3.2 2-.7 2 1.1 2 1.9 2-1 2-3 2 4.6 2-5.2 2 .8 2-.4 2-1.4 2-.1 2-5 2 4.4 2-3.5 2 5.6 2-2.2 2 3.1 2-.7 2 1.6 2 1.5 2-3 2 1.5 2-3.1 2-1.4 2 1.4 2 2.3 2-.4 2 .5 2-.3 2-1.3 2-3.2 2 10 2-2.6 2 3.4 2-1.2 2 6.1 2-6 2 6.5 2-1 2-3.7 2-3 2 1 2 .3 2-.9 2 2.6 2 1.5 2 2.1 2-9.5 2 8.2 2 1.2 2-5.2 2-1.3 2 3.6 2-.8 2-7.5 2 2.9 2-2.2 2 5.7 2-5.2 2-6.2 2 2.7 2 .2 2-2.5 2 2.1 2-.2 2-2.5 2 .6 2 5.2 2-2.3 2-.6 2-5.6 2 3.1 2 1.9 2-4.8 2 1.5 2 .7 2 1.9 2-.2 2 2.1 2-3.6 2 1.4 2 2.4 2-2.5 2-.8 2 1.9 2-3.1 2 5.7 1-3.1 1-5.1 1-2.8 1-5.8 1-3.5 1-4.6 1-5 1-8.2 1-11.5 1-7.5 1-4.3 1-6.1 1-6.6 1-8.8 1-6.5 1-5.3 1-9.9 1-6.8 1-1.6 1-.1 1-4.7 1-5.9 1-6.1 1-5.9 1 0 1-.8 1-5.5 1 .8 1 1.7 1 .3 1 6 1 7.6 1 1.9 1 2.8 1 3.6 1 .9 1 2.6 1 .4 2 10 2 1.4 2 9.1 2 1.9 2 9.6 2 6.9 2 6.7 2-1.6 2 8.6 2 1.6 2 2.4 2 4.5 2 6.5 2 .6 2 2.4 2 4.1 2 5.3 2 3.1 2 5.4 2-4.9 2 5.7 2 4.3 2 1.2 2-.1 2-1 2-3.4 2-2.4 2 8.3 2-1 2 1.4 2-.6 2 3.8 2 5 2 2.1 2 1.7 2 10.7 2-6 2 9.8 2 2.1 2-2.2 2-2.4 2-1.9 2 6.3 2 4.5 2 1.9 2-.6 2 7.8 2-.6 2-1.6 2 0 2 2.6 2-2.5 2 .9 2 2.9 2-.5 2-2.5 2 3.5 2-5.2 2-.9 2 1.9 2-.4 2 .4 2-1 2-1.2 2-.9 2 2.9 2-3.8 2 2.1 2-7.1 2 5.6 2-4.5 2 .7 2 0 2-7.2 2 1.5 2-2.6 2 .4 2-4.1 2 4.1 2-2.7 2 3 2 3.6 2-5.5 2-.1 2-5.2 2-1.9 2 3.1 2-4.2 2-1 2 .7 2-1.5 2-2.9 2 3.4 2-1.7 2 3.9 2-7.5 2 3.1 2-3.6 2 1.6 2-6.5 2 6.2 2-3.2 2 1.8 2-1.9 2-1.8 2 5.6 2-.4 2-.3 2 2.7 2 3.3 2 .7 2 2.4 2-4.7 2 3.2 2-4.5 2 .8 2-.4 2-.9 2 .3 2 3 2-3.8 2 4.2 2 .4 2 .5 2-4.8 2-1.9 2 4.6 2-7.4 2 9.7 2-.9 2 5 2-.5 2-4.7 2-1.2 2 4.1 2 .2 2-2 2 5.2 2-3.9 2-.7 2 1.6 2-3.7 2 4.6 2-4.2 2 3.2 2-1.3 2 3.3 2 2.9 2-5.6 2-4.8 2 1.5 2 2.8 2-1.5 2 4.1 2-1.1 2-.3 2 1.2 2-7.3 2 2.2 2 .1 2-2.1 2 5.8 2-1.5 2 2.4 2-1.7 2-.4 2-3.4 2 2.4 2 5.2 2-6.3 2-.9 2 2.1 2-3.6 2 1.3 2-.1 2-.1 2-1.9 2 1.8 2-8.7 2 4.7 2 .1 2-2.5 2 1.7 2-1.8 2 5.3 2-3.5 2-3.6 2 3.2 2-5.4 2 .5 2 2.1 2-5.5 2 8.2 2-1.6 2-1.2 2-2.2 2 .5M220 503.4l2-1.4 2 3.4 2-7.6 2-.1 2 3.1 2 3.2 2-.8 2 0 2 6.4 2-2.1 2-.8 2-3 2 .6 2 4.2 2 1.2 2-3.9 2-1.9 2-1.2 2 4.2 2 2.9 2-4.6 2 5.1 2-5.4 2-1.5 2-.1 2-.6 2 6.8 2-3.4 2-1.1 2-1.3 2 1.2 2-2.5 2-2.6 2 6.5 2-5.9 2 .3 2-1.5 2 7 2-2.3 2-2.4 2 3 2-3.4 2 0 2 .7 2-1.8 2-.3 2-3.3 2 3.4 2-2.4 2 5.7 2-3.1 2 2.9 2 .7 2 .3 2-1.2 2-1.7 2-.1 2 .4 2-2.5 2 1.9 2 1.9 2-1 2 .6 2-.1 2-1.8 2-1.5 2 7.2 2-.8 2 2.2 2 1.4 2 4.6 2-4.6 2 4.2 2-1 2-2.6 2-.6 2 .4 2 1.8 2-2.8 2 3.7 2-2.9 2 5.3 2-8.6 2 7.3 2 1.1 2-5.7 2-2.3 2 1.7 2 1.8 2-8.4 2 1.9 2-.4 2 3.9 2-6 2-2.4 2 1.9 2-.4 2-2.5 2 3.9 2-1.8 2-1.1 2-2.6 2 5.6 2-5.5 2 .5 2-3.8 2 4 2 2.5 2-2.8 2 2.3 2-.2 2 .7 2 2.5 2-.4 2-5.2 2 2.7 2 2.2 2-1.6 2-3 2 4.2 2-3.9 2 4.4 1-3.9 1-7.2 1-5.7 1-3.9 1-2.5 1-4.6 1-6.3 1-8.5 1-12.8 1-8.7 1-3.6 1-5.9 1-8.2 1-9.7 1-3.9 1-3.2 1-10.9 1-9.2 1-3.4 1-1.4 1-5.2 1-5.1 1-6 1-7 1-2.4 1-3 1-7.2 1-4.2 1-5.6 1-7.2 1-1.7 1 .6 1-4.6 1-4.1 1-2 1 2.7 1 2.5 1 0 2 12.4 2 2.8 2 7.2 2 5.6 2 8.8 2 7 2 9.5 2-.1 2 9.2 2 2.7 2 4 2 2.8 2 13.1 2 .1 2 6 2 2.9 2 7.7 2 6.7 2 7.6 2-1.3 2 7.7 2 9.6 2 5.9 2 3.9 2 4.3 2 2.3 2 2.6 2 10.3 2 3.4 2 4.5 2-.5 2 1.8 2 5.8 2 1.1 2 2.3 2 10.5 2-5.7 2 10.2 2 2 2-.3 2-.9 2-.3 2 4.8 2 2.4 2 1.2 2-.8 2 3.9 2 3 2-1.4 2-1.9 2 1.6 2-5.3 2 1.8 2 2.3 2 2.2 2 .3 2 3.8 2-6.2 2-.4 2 .1 2 .4 2-2.7 2 2.6 2 .3 2-.4 2 2.8 2-4.6 2 1 2-7.8 2 4.1 2-3.6 2-.1 2 .3 2-7.7 2 2 2-1.4 2 2.4 2-7 2 7.4 2-4.1 2 1.3 2 3 2-6.2 2-.7 2-3.8 2-1.8 2 3.9 2-4.8 2 .7 2 1.6 2-2.6 2-4.8 2 .1 2 1.8 2 1.9 2-5.3 2 4.1 2-2.8 2 .4 2-6.5 2 2.7 2 .8 2 1.3 2-2.2 2-.2 2 4.9 2-2.8 2 1 2 1.2 2 3.7 2-.5 2 4 2-5.1 2 1.6 2-1.6 2 2.3 2-1.2 2-3 2-1 2 2.1 2-1.7 2 7.1 2-2.1 2 .3 2-5.5 2-2.2 2 4 2-5.5 2 8.4 2-.7 2 2.9 2 .4 2-1.8 2-1.1 2 5.2 2-.5 2-.4 2 4.6 2-2.3 2-1.9 2 1.9 2-4 2 3.4 2-2.9 2 1.9 2-1.6 2 1.4 2 2.8 2-6.2 2-2.3 2 1 2 3.3 2-2 2 1.9 2-2.8 2 3.5 2 2.2 2-4.3 2-1.4 2-3 2 .4 2 3.3 2 2 2 1.9 2-2.8 2-.6 2-1.9 2 4.3 2 2.7 2-3.1 2-2.4 2 2.7 2-3.9 2 .6 2-1.1 2-.6 2-1.5 2 1.5 2-6.5 2 3.9 2-3.2 2-3.5 2 0 2-1.7 2 6.8 2-1.6 2-1.1 2 1.9 2-4.7 2-2.4 2 2.6 2-4.7 2 6.5 2-.7 2 1.6 2-2.5 2 1.6M220 505.2l2-.7 2 3.4 2-8.3 2 .1 2 1.1 2 2.6 2-1.2 2 .6 2 5.8 2-1 2-2.9 2-.9 2 .1 2 4.1 2 .3 2-3.1 2-.2 2 .3 2 4.1 2 3.8 2-1 2 1.8 2-7 2-.6 2 1.3 2-2.4 2 6.2 2-5.7 2-1.3 2-3.4 2 3.7 2-2.3 2-3.1 2 7.3 2-3.1 2-1.6 2-.1 2 4.8 2-2.6 2-2.2 2 4.5 2-5.7 2 .8 2 0 2-.4 2 1.1 2-4.4 2 3.9 2-3.1 2 3.5 2-1.6 2 3.3 2 .7 2 .2 2-.5 2-3.3 2 3.6 2-1.7 2-3.7 2 2.2 2 .7 2 .3 2 1.1 2 .1 2-2.1 2-1.2 2 9.1 2-3 2 3.3 2-.4 2 6.6 2-5.6 2 5.4 2-1.8 2-1.1 2-2.6 2-.1 2 1.3 2-3.7 2 1.5 2 .8 2 4.1 2-8.7 2 7.1 2 1.1 2-6.2 2-1.7 2 4.1 2-1.1 2-6.4 2 .6 2-.9 2 5 2-3.3 2-5.2 2 2 2 .6 2-4.3 2 1.5 2 1.2 2-1.1 2-1.7 2 6.3 2-5.4 2 1.2 2-3.5 2 2.1 2-.2 2-2.6 2 4.3 2 1 2-.2 2 1.5 2 1.5 2-2.1 2 .3 2 .7 2-3.5 2-1.4 2 3.5 2-3.1 2 .3 1-3.8 1-16.1 1-12.6 1-13.6 1-13.5 1-13.3 1-12.2 1-15.1 1-19.1 1-14.1 1-9.1 1-12.8 1-13.6 1-15.1 1-11.4 1-8 1-13.4 1-14.2 1-8.7 1-5.8 1-6 1-6.2 1-6.4 1 3.8 1 7.7 1 7.2 1 3 1 5.5 1 3.6 1 2.2 1 8.9 1 8.4 1 2.5 1 3.7 1 6.3 1 4.9 1 4.2 1 2.4 2 10.6 2 7.4 2 11 2 5.6 2 11.9 2 9.1 2 13 2 2.4 2 9.3 2 3.6 2 6.5 2 3.5 2 10.7 2 3.6 2 3.8 2 6 2 8.4 2 5.2 2 8.1 2 0 2 5.1 2 7.1 2 6.4 2 6.1 2 2.2 2-.8 2 .4 2 8.5 2 1.2 2 5.4 2-1.5 2 2.4 2 1.6 2 1.5 2 3 2 10.1 2-3.1 2 9.8 2 1.2 2 1.2 2-1.6 2-2.1 2 5.7 2 4.7 2 .9 2-.8 2 6.4 2 .6 2-.1 2 .7 2 2.4 2-3.8 2 1.1 2 .6 2 2 2-1.4 2 2.9 2-3.2 2-3.7 2 3.7 2-2.9 2 .8 2-.6 2-.1 2-.3 2 .9 2-1.7 2 2.2 2-9.4 2 1.4 2-3.5 2 .6 2 .5 2-6.5 2 .5 2-.4 2 3.8 2-8.4 2 5.1 2-2.1 2-.6 2 4.5 2-7.8 2-2.4 2-1.6 2 .2 2 4.2 2-4.4 2-1.3 2 .7 2-2.1 2-3.8 2 1.4 2-.6 2 4.3 2-6.4 2 3.7 2-4.5 2 1.4 2-8.2 2 2.8 2 .2 2 1.1 2-.2 2-2.5 2 4.9 2 1.6 2 .3 2 5 2 2.9 2-2.1 2 1.9 2-4.8 2-1.3 2-1.5 2 .6 2 .4 2-.2 2-.2 2 2.9 2-5.1 2 7.9 2-1.4 2 2.9 2-4.2 2-1.2 2 5.1 2-7.1 2 7.4 2-2.8 2 5 2 .3 2-3.7 2-2.6 2 3.3 2 .5 2-.7 2 6.7 2-2.3 2-.6 2 2.6 2-3.3 2 2.6 2-2 2 .7 2-1.5 2-1.1 2 3 2-6.1 2-2.5 2 1.2 2 3.3 2-.1 2 2.3 2-3.1 2 1.3 2 1.7 2-1.6 2 .2 2-2.2 2-2.1 2 4.7 2 .6 2 1.7 2-.5 2-1.2 2-4.9 2 2.3 2 3.4 2-6.6 2 .8 2 5.2 2-3.5 2 2.2 2 1.6 2-.8 2-4.4 2-1.3 2-10.8 2 5.5 2-2.6 2-2.3 2 3.5 2-.7 2 7.6 2-2 2-1.5 2-1.3 2-2.5 2-1.2 2 .9 2-5.7 2 7.4 2-.9 2 1 2-1.4 2 .8M220 503.7l2 1.1 2 1.7 2-5.8 2-.8 2 1.3 2 1.6 2-2.8 2 1.4 2 7 2-1 2-1.4 2-2.9 2 .7 2 5.9 2 .2 2-2.7 2 .8 2-2.6 2 3.7 2 3.1 2-3.5 2 4.2 2-5.7 2-.6 2-1.3 2 .3 2 6.8 2-3.1 2-3.1 2-1.6 2 2.7 2-3.4 2-2.5 2 7.2 2-3.4 2-2.4 2-.8 2 5.3 2-2.3 2-2.3 2 4.2 2-5 2 1.8 2 .8 2-1.4 2-1.8 2-4.6 2 3 2-1.8 2 4.5 2-.7 2 3.7 2-.8 2 .6 2-2.1 2-1.5 2 .6 2 .3 2-4.2 2 2.3 2-.3 2 .3 2 1.1 2 .6 2 .5 2-1.9 2 10.6 2-3.9 2 3.6 2-.5 2 6.7 2-6.7 2 5.3 2-.2 2-2.3 2-2.6 2 .1 2 .5 2-.8 2 .5 2 .5 2 2.5 2-7.6 2 6.4 2 1.5 2-4.5 2-2.7 2 3.8 2-.3 2-7.6 2 1.3 2 1.1 2 3.3 2-5.7 2-4.3 2 .7 2 .9 2-.7 2 1.3 2 1.3 2-2.6 2-1.9 2 6 2-3.3 2-1.1 2-3.3 2 2 2 2.5 2-4.8 2 1.2 2 1.2 2 1 2 1.6 2 .5 2-.1 2 0 2 2.2 2-3.2 2-2.7 2 2.8 2-2.2 2 3.9 1-1.9 1-4.5 1-1.2 1 1.3 1 .9 1-1.9 1-1.5 1-4.1 1-9 1-4.2 1 .6 1-.6 1-3.7 1-6.6 1-2.7 1-1.7 1-5.7 1-5.1 1 0 1 2 1-1.3 1-2.6 1-2.3 1-3.1 1-.1 1-.1 1-3.1 1 .4 1-.8 1-3.2 1 3.7 1 5 1-1.5 1 0 1 1.9 1 1.3 1 .4 1-2.6 2 3.2 2 .1 2 5.5 2-2.6 2 4.3 2 3.9 2 4.9 2-4.2 2 3.9 2-2.4 2 .2 2-.1 2 6 2 .2 2 0 2 1.5 2 2.2 2 1.4 2 3.9 2-6.8 2 3.7 2 6.6 2 2.3 2 .6 2-.6 2-3.1 2 .3 2 5.8 2 1 2 1.4 2 2.2 2-.2 2 6 2 1.5 2 2.5 2 11.1 2-5.1 2 8.9 2-.1 2 .1 2-1.5 2-3 2 6.5 2 3.7 2 4.3 2 .6 2 6.1 2 .6 2-.9 2-2.1 2 .9 2-2.8 2 2.2 2 .5 2 .8 2-.6 2 4.5 2-3.7 2-1.9 2 2.5 2-3.5 2-.5 2 1 2-1.1 2-.5 2 .2 2-3 2 3 2-8.1 2 5.2 2-2.1 2 .5 2-.6 2-6.6 2-.9 2-2.8 2 2.4 2-6.8 2 5.8 2-4 2 1.6 2 2.5 2-5 2 1.4 2-3.4 2-1.5 2 2.9 2-6.3 2-.3 2 1.6 2-2.6 2-2.6 2 1.3 2-.3 2 4.6 2-4.6 2 3.4 2-4.8 2 1.7 2-7.7 2 1.4 2-.4 2 2.6 2-2.2 2-.2 2 5.6 2-2.8 2 1.4 2 2.3 2 2.9 2 1.4 2 1.1 2-5.2 2 1.2 2-4 2 2.6 2 .9 2-4 2-.4 2 2.1 2-2.7 2 6.7 2-1.7 2 .6 2-3.9 2-.6 2 6.2 2-6.6 2 9.1 2-1.3 2 3.7 2 .4 2-4.5 2-1.5 2 3.9 2-2 2-.5 2 6.1 2-2.5 2-1.1 2 2.7 2-4 2 2.4 2-2.8 2 2.2 2-2.5 2 .9 2 2.7 2-3.3 2-4.1 2 2.9 2 .2 2 0 2 1 2-3.1 2 1 2 2.3 2-2.5 2 .4 2-1 2-1.4 2 3.9 2 .1 2 3.9 2-4 2 2.8 2-7 2 4.4 2 2 2-2.7 2-1.4 2 5.3 2-4.2 2-.8 2-1.1 2-1.4 2-.5 2 .4 2-7.4 2 4.2 2-2.2 2-2.4 2 .7 2-1.8 2 7.9 2-1 2-2.3 2 2 2-3.3 2-3.5 2 1.8 2-5.9 2 9 2-1.4 2 .8 2-3.2 2 1.6M220 506.9l2-1.7 2 3.8 2-6.9 2-2.1 2 3.6 2 1.6 2-1.9 2-1 2 6.9 2-1.3 2-1 2-3.7 2 1.6 2 4.4 2-1.6 2-2.8 2 2 2-1.9 2 4.9 2 1.9 2-1 2 3.3 2-6.8 2-.4 2 1 2-1 2 6.1 2-5 2-2.1 2-1.9 2 3.2 2-2.6 2-1.7 2 6 2-2.8 2-.4 2-1.5 2 3.1 2-1.4 2-1.2 2 5 2-6.3 2 .9 2-.4 2-1.3 2-.1 2-4.2 2 2.4 2-2.7 2 5.2 2-1.7 2 4.9 2-1.2 2 .7 2 0 2-2 2 .1 2-.7 2-3.2 2 2.4 2 1.5 2-2.1 2 1.4 2 1.2 2-.3 2-2.1 2 9.2 2-2.6 2 1.9 2-.3 2 5.5 2-6.3 2 6.5 2 .4 2-3.7 2-1.9 2 0 2-.1 2-1.5 2 3.5 2-.4 2 1.4 2-7.9 2 7.4 2 1.4 2-4.4 2-2 2 2.5 2-.3 2-6.9 2 .6 2 1.3 2 2.6 2-5.2 2-3.4 2 2.7 2-2 2-.6 2 .7 2 3.1 2-3.8 2-1.4 2 3.7 2-2.2 2-.2 2-3.7 2 3.6 2 2.5 2-2.2 2 3.6 2-.5 2-.2 2 1.1 2-1.5 2-1.1 2 2.1 2-1.6 2-1.3 2-4.3 2 4.9 2-3.5 2 5.1 1-2.5 1-3.3 1-1.2 1-1.5 1 .8 1-1.2 1-2.3 1-4.4 1-10.1 1-5.5 1-.4 1-2.1 1-3.8 1-7.9 1-3.2 1-.3 1-7.2 1-6.2 1-.8 1 1.5 1-1.7 1-2.5 1-3.7 1-4.7 1 1.1 1-.3 1-5.5 1-3.3 1-3.5 1-2.6 1 1.6 1 1.5 1-.7 1 .6 1 2.6 1-.1 1-.6 1 0 2 6.5 2-1.6 2 4.1 2-.3 2 6.7 2 4.1 2 5.3 2-2.4 2 3.5 2 0 2 3.4 2 .2 2 6.4 2-1 2 1.3 2 1.4 2 3.2 2 3 2 3.4 2-5.2 2 6.5 2 5.8 2 3 2 2.5 2 .4 2-2.3 2 .3 2 8.3 2-1 2 2.7 2-.5 2 2 2 7.4 2-.8 2 3.2 2 12.2 2-5 2 9.6 2-.1 2-1.6 2-2.2 2-1.5 2 6 2 6 2 2.9 2 .2 2 4.6 2 2.4 2 0 2-.6 2 1.1 2-4.4 2 .8 2 1.5 2 1.2 2-1.2 2 5.1 2-4.6 2-1.2 2 .6 2-3.1 2 .4 2-.5 2-2.2 2 0 2 .3 2-1.9 2 4.3 2-6.4 2 4.5 2-3.3 2 1.5 2-3.7 2-7.1 2 .6 2-1.6 2 2.4 2-6.8 2 5.8 2-1.9 2-.3 2 4.1 2-7.3 2 .1 2-3.3 2-1 2 2.2 2-5.1 2-.7 2 3.4 2-3.2 2-3 2 1.9 2-1.1 2 2.5 2-6.5 2 4.3 2-2.1 2 2.4 2-5.5 2 2.1 2 .2 2 .3 2-1.8 2-2.8 2 6.9 2-1.5 2-.5 2 5.2 2 2.9 2-.8 2 2.5 2-6.7 2 1.2 2-2.9 2 1 2 .7 2-1.5 2-.4 2 1.7 2-4.2 2 6.1 2-2 2 .7 2-2.1 2-2 2 5.8 2-5.6 2 8.5 2-1.8 2 3.6 2 .8 2-2 2-3.7 2 3.7 2-.8 2-.8 2 4 2-.8 2-1.8 2 2 2-3.7 2 5.9 2-1.2 2-1.2 2-2 2 2.9 2 2.6 2-6.3 2-2.1 2 .3 2 2.8 2-1.2 2 2.5 2-4 2 4 2 .4 2-1.9 2 0 2 .4 2-2.9 2 2.9 2-.6 2 1.4 2-1.8 2 .8 2-2.4 2 1.5 2 4.6 2-5.1 2-2.2 2 5.2 2-4 2-.2 2 1.6 2-.8 2-3.1 2 .2 2-8.5 2 3.9 2-2.9 2-1.3 2 0 2-2.3 2 8.5 2-2.4 2-1.3 2 1.4 2-2.6 2-3.5 2 1.6 2-6.8 2 7.1 2 3.1 2 .5 2-.5 2 .9M220 505.9l2 .5 2 1.7 2-5.5 2-2.7 2 3.4 2 1.2 2 .3 2-1 2 5.1 2-1.1 2-.3 2-2.8 2 .6 2 1.5 2 1.8 2-3 2 .6 2 .6 2 2.4 2 4.2 2-2.9 2 2.9 2-4.4 2-2.6 2 .9 2-2 2 5.9 2-4.3 2-3.7 2 0 2 1.4 2-.6 2-4 2 8.8 2-.3 2-1.1 2-2.9 2 4.1 2-2.4 2-4.1 2 7 2-6.5 2 1.5 2-.8 2 1 2-.8 2-4.3 2 1.6 2-2.8 2 4.2 2-1.9 2 3 2 1.5 2 1.2 2 1.5 2-3.6 2 2.4 2-1.8 2-3.7 2 1.9 2 2.3 2-1.9 2 1.9 2-.1 2 .2 2-1.6 2 9.7 2-2.2 2 2.6 2-1.8 2 4.1 2-6.8 2 6.3 2 .3 2-3.2 2-.5 2-.5 2-.2 2-.8 2 .7 2-1.3 2 4.5 2-7.2 2 8.6 2 2 2-6.7 2-2.3 2 2.8 2 .5 2-6.6 2 1.8 2-1.3 2 5 2-6.1 2-4 2 2.3 2-.9 2-3.5 2 3.9 2-.3 2-1.6 2-1.8 2 4.2 2-2.4 2 .2 2-3.8 2 2.7 2 1.3 2-4.4 2 1.2 2 1.4 2 .7 2 2.5 2-.2 2-1.4 2 .6 2 .6 2-2.9 2-.9 2 3.6 2-4.3 2 4.2 1-1.2 1-4 1-1.7 1-.6 1 .4 1-1.2 1-3.9 1-4.3 1-9 1-5.2 1-.3 1-2.3 1-4.6 1-6.9 1-.8 1-.1 1-8 1-5.5 1-.1 1 1.4 1-2 1-2.5 1-2 1-3.1 1 .4 1 .5 1-2.9 1 2.2 1 1.2 1-2.4 1 3.3 1 5 1-1.6 1 .8 1 2.9 1 .1 1 1.1 1-2.1 2 5 2-2.5 2 4 2-.6 2 6 2 2.1 2 5.9 2-5.2 2 3.7 2-1.3 2 2.1 2-.1 2 5.9 2-1 2-.6 2 1.2 2 2.8 2 1.8 2 7.5 2-7.1 2 2.9 2 3.5 2 4.2 2 2.2 2-.4 2-2.8 2-3.8 2 6.5 2-.4 2 4.7 2-1.3 2 3.4 2 3.7 2 2.6 2 2.1 2 10.1 2-3.2 2 7.7 2 4.4 2-.8 2-1.2 2-2.6 2 3 2 4.8 2 2.9 2 .3 2 5.7 2 .3 2 .6 2 .2 2 1 2-1.8 2 1 2 .8 2 1.3 2-1.3 2 3 2-4.4 2-1.9 2 0 2-1.8 2 .7 2 1.3 2-2.7 2 2 2-.5 2-3.4 2 2 2-8.7 2 6.5 2-3 2 2 2-2.2 2-9.4 2 .8 2-2.8 2 2.7 2-4.9 2 6.1 2-3.1 2 2.1 2 2.1 2-6.6 2-1.3 2-3.2 2-2.3 2 3.3 2-3 2 1.9 2 2.7 2-2.9 2-5.6 2 1.8 2-1.7 2 1.9 2-4.7 2 6 2-4.7 2 .2 2-5.7 2 3.5 2-2 2 1.9 2-2.1 2-.9 2 5.6 2 .2 2-.8 2 3.7 2 4.1 2-.8 2 1.8 2-6.1 2 3.6 2-2.8 2 1.2 2-.1 2-1.4 2-2 2 3.3 2-6.9 2 5.9 2-2.4 2 1.9 2-1.2 2-.2 2 3.5 2-6.3 2 8.8 2-2.3 2 5.8 2-1.4 2-1.7 2-4.1 2 2.6 2 .9 2-1 2 7.4 2 .3 2-.6 2 3.4 2-5.9 2 1.9 2-3.2 2 .6 2 .3 2-.7 2 5.2 2-5.7 2-2.8 2 .1 2 .8 2 .3 2 2.2 2-4.2 2 1.5 2 3.5 2-3.5 2-.7 2 0 2-1.9 2 5.1 2 1.6 2 2 2-3.3 2 .4 2-7.2 2 5.2 2 2.6 2-2.9 2-2.2 2 3.6 2-1.8 2 .7 2 3.1 2-3.5 2-4.9 2-1.6 2-8.1 2 5 2-.9 2-.6 2 .4 2-.5 2 5.2 2-3.1 2-3 2 1.5 2-2 2 1.2 2 3.6 2-6.1 2 6.5 2-2.3 2 1.7 2-3.3 2 .4M220 506.7l2-.3 2 1.7 2-4.8 2-.5 2 1.7 2 1.9 2-.7 2-2.1 2 6.5 2-1 2-.6 2-1.8 2 .2 2 3.1 2 .9 2-4.6 2 1 2-.8 2 2.7 2 3.6 2-1.4 2 3.1 2-4.8 2-2.9 2 1 2-1.5 2 5.3 2-4.3 2-.9 2-2.1 2 3.8 2-3.5 2-4.2 2 7.1 2-1.6 2 .4 2-.6 2 3.5 2-2.9 2-3.4 2 3.9 2-4 2 1.5 2-1 2-2 2 1 2-2.6 2 3.2 2-2.7 2 3.3 2-2.5 2 3.4 2 .7 2 1.7 2-.1 2-2.9 2 2.8 2-1.9 2-3.4 2 1.1 2 2.7 2-.3 2 .4 2 1.1 2-1 2-3.3 2 10.2 2-3.4 2 4.6 2-3.3 2 5.8 2-5.9 2 6.8 2-.3 2-4.8 2-1.6 2 1.7 2-.8 2-.1 2 1.5 2 .4 2 3.2 2-8.9 2 6.7 2 2.2 2-5.1 2-2.2 2 3.7 2 .3 2-8 2 2.2 2-1.1 2 3.8 2-5.6 2-4.6 2 2.8 2-.1 2-4.4 2 4.4 2-1.3 2-1.6 2 1.6 2 4.1 2-3.3 2 .3 2-6.3 2 4.2 2 2 2-2.8 2 2.3 2-.7 2 2.4 2 1.2 2 .1 2-2.9 2 1.3 2 1.1 2-3.6 2-1.6 2 4.7 2-4.7 2-.8 1-7.4 1-15.2 1-12.7 1-15.4 1-14.6 1-14.2 1-12.3 1-13.9 1-18.4 1-15.4 1-12.4 1-14 1-14.1 1-14.7 1-10.2 1-9.2 1-15.5 1-13.3 1-8.6 1-4.8 1-4.9 1-5.7 1-3 1 2.4 1 8.3 1 5.7 1 3.2 1 7.2 1 1.9 1 .6 1 8.4 1 8.4 1 1.8 1 4.8 1 4.6 1 2.8 1 3.8 1 1.1 2 12.4 2 5 2 11.1 2 5.4 2 10.9 2 11.1 2 11.1 2 3.2 2 9.2 2 2.7 2 5.7 2 4.5 2 11.9 2 3 2 7.5 2 5.3 2 7.3 2 8.3 2 6.8 2 .5 2 7.6 2 8 2 6.6 2 5.3 2 2.6 2 2.1 2 2 2 9.4 2 2.1 2 3.9 2 1.9 2 1.5 2 5.9 2 2.8 2 .9 2 11.6 2-5.8 2 9.6 2 3.5 2-2.1 2-1.3 2 .4 2 5.3 2 2.1 2 3.1 2 .1 2 3.5 2 3.2 2-.1 2 2 2 1.3 2-1.8 2-1 2-1.4 2 1.4 2-.7 2 2.6 2-3.4 2-3.4 2 0 2 .5 2 1.4 2 2.5 2 1.3 2-1.7 2-1.9 2-3.9 2 .8 2-6.3 2 4.5 2-3.4 2-.9 2 .8 2-6.9 2 2.1 2-2.2 2 1.9 2-6.9 2 6.7 2-2.7 2 1.3 2 .4 2-6.6 2-1.3 2-1.9 2-.2 2 4.2 2-3 2-1 2 1.3 2-2.4 2-2.7 2-.3 2 .3 2 3 2-6.7 2 4 2-3.7 2 1.4 2-6.7 2 2.8 2-.9 2 3.8 2-3.1 2-1.3 2 4.5 2-.5 2-1.1 2 3.1 2 4.4 2 1.4 2 1.5 2-6.5 2 2.8 2-3.2 2 .6 2 .4 2-1.1 2-1.9 2 1.5 2-4.2 2 6.2 2-2.6 2 2.2 2-3.1 2-.3 2 4.2 2-7.2 2 12.1 2-2.3 2 7.3 2 .7 2-3.2 2-5 2 3.5 2-.3 2-.6 2 5.4 2-2.4 2-2.4 2 2.1 2-4.6 2 2.7 2-2.3 2 3 2-1.8 2 1.5 2 2.8 2-5.9 2-3.4 2 .4 2 3.1 2-2.8 2 2.2 2-2.7 2 2.6 2 1.5 2 .8 2-1.2 2-1.4 2 .3 2 2.5 2-1.2 2 3 2-2.9 2 0 2-4.1 2 5 2 2.1 2-3.7 2-2.3 2 3.9 2-4 2-.3 2 3 2-.7 2-1.8 2-.4 2-8.8 2 4 2-2.9 2-2.1 2 .5 2 .3 2 7.4 2-3.5 2-3.6 2 2.6 2-3.3 2-2.7 2 2.2 2-8.6 2 8.7 2-.2 2 4.1 2-3 2 .7M220 506.1l2-1.1 2 4.7 2-7.5 2-.2 2 3.1 2 1.6 2-.8 2 .5 2 5.6 2 .3 2-2.4 2-1.2 2-.8 2 2.7 2-1.1 2-2.7 2 1.1 2-.3 2 4.7 2 1.9 2-3.8 2 4.9 2-5.6 2-1.2 2-.2 2-.1 2 5 2-4.5 2-2.5 2-1.6 2 2.5 2-4.1 2-1.9 2 7.3 2-2.7 2-1 2 0 2 3.9 2-.1 2-2 2 5.4 2-5.1 2 1.3 2 .9 2-2 2 0 2-4.6 2 3.1 2-4 2 3.4 2-2.2 2 3.4 2 .2 2 .9 2 1.3 2-3 2 .3 2-.2 2-2.7 2 2.9 2 .8 2-.3 2 1.8 2-.7 2-2.6 2-2.5 2 10.4 2-2.6 2 4.9 2-2.1 2 6.6 2-8.3 2 4.6 2 .1 2-3 2-.2 2 .5 2-.6 2-2.8 2 2.2 2 .4 2 4.4 2-7.8 2 6.2 2 2.5 2-4.7 2-1.7 2 2.9 2-1.1 2-7.6 2 .9 2-.5 2 5.6 2-5.3 2-2.8 2 1.7 2-.8 2-4.2 2 2.3 2-.3 2-.5 2 0 2 3.5 2-2.5 2 0 2-3.4 2 2.4 2 1.7 2-3 2 2.5 2 .6 2 .1 2 2.3 2-.6 2-3.4 2 1.9 2 .8 2-2.4 2-3 2 3.8 2-2.8 2 5.3 1-2.3 1-7.9 1-3.9 1-2 1-2.8 1-4.3 1-3.3 1-5.6 1-11.2 1-6.5 1-2.7 1-5.8 1-4.6 1-7.8 1-5.6 1-3.6 1-8.6 1-6.2 1-.7 1 1.2 1-3.6 1-3.1 1-4.7 1-6 1-.8 1-3.2 1-5 1-.4 1-2.5 1-2 1 6.4 1 6.7 1 1.1 1 2.9 1 1.9 1 .4 1 1.7 1-.2 2 7.4 2 1.4 2 5.8 2 1 2 9.4 2 4.8 2 6.9 2-1.5 2 5.6 2-1.2 2 2.9 2 3.1 2 7.6 2-.2 2 2.8 2 1.2 2 5 2 3.9 2 7.7 2-3.2 2 5 2 3.1 2 4.1 2 2.3 2-.6 2-3.1 2-2 2 6.9 2-1.2 2 4.7 2 1.2 2 1.8 2 3.1 2 1.4 2 3.1 2 10.6 2-3.2 2 9.4 2-.4 2-.1 2-3 2-.2 2 5.1 2 6.1 2 .9 2-1.7 2 6.2 2 2.5 2-.3 2-.8 2 2.3 2-3.9 2-.7 2 2.1 2 2.5 2-.9 2 2.9 2-4.4 2-2.2 2 1.5 2-2.9 2 .7 2 2.4 2-1.4 2-.7 2 .1 2-3.3 2 1.5 2-7.8 2 3.5 2-3.8 2 3.1 2-1.1 2-6.5 2 1.6 2-1.9 2 1.5 2-5.2 2 4.8 2-2.1 2-.4 2 3.4 2-6.1 2-.5 2-1.7 2-1.2 2 3.6 2-4.6 2-.4 2 1.2 2-4.2 2-3.5 2 .6 2-.4 2 1.6 2-5 2 6 2-4.6 2 .4 2-5.8 2 2.7 2 .1 2 2.1 2-2.3 2-.7 2 5.6 2-1.1 2-.4 2 3.1 2 2.4 2 1.2 2 3 2-5.6 2 1.8 2-2.7 2 2.1 2-3.2 2-.2 2-.1 2 1.8 2-3.2 2 7 2-1.8 2 .5 2-3.1 2-2.3 2 4.7 2-6.2 2 7.8 2-3.9 2 4.4 2 1.9 2-.1 2-1.4 2 3.3 2-3.5 2-.3 2 6.2 2-3.9 2-2.1 2 3.2 2-3.9 2 3.5 2-3.2 2 1.4 2-2 2 1.4 2 5.1 2-5.8 2-3 2 1.3 2 .5 2-2 2 4.8 2-1.8 2 1.6 2 2.3 2-3.4 2 .1 2-.8 2-2.2 2 2.6 2-1.1 2 3.4 2-1.1 2-1 2-5.6 2 5.6 2 1.7 2-4 2-1.2 2 4.4 2-1.5 2 1.8 2 .9 2-1.1 2-4.4 2-1.2 2-8.9 2 4.5 2-.3 2-1.6 2 .5 2-.8 2 8.3 2-3.4 2-2 2 .8 2-2.6 2-2.5 2 2.7 2-6.5 2 7 2 .2 2 .9 2-2.2 2 2.9M220 509.4l2-1.7 2 2.9 2-6.2 2-2.6 2 3.5 2 2.3 2-1.3 2 2.6 2 3.9 2-.3 2-2.4 2-3.5 2 1.5 2 6.2 2-2 2-3.1 2-1.2 2 .4 2 3.7 2 3.2 2-3 2 5 2-7.2 2-1.7 2 .6 2-2 2 8.1 2-4.1 2-2.3 2-1 2 2.6 2-4.7 2-1.6 2 6.7 2-3 2-.7 2-.2 2 4.3 2-.6 2-2 2 3.8 2-6.2 2 .4 2-.7 2 0 2-1.3 2-3 2 2 2-3 2 4 2-3 2 3.1 2 2.2 2 1.7 2 1 2-4.8 2 3.3 2-2.6 2-2.5 2 .7 2 1.8 2-.5 2 2 2 .8 2-.6 2-2.7 2 9.4 2-2.1 2 2.7 2-2 2 7 2-7.6 2 6.8 2-.6 2-3.3 2-2.4 2 .7 2 1.1 2-2.2 2 2.7 2-.4 2 4.8 2-9.9 2 8.3 2 3.1 2-8.4 2-.9 2 2.1 2 1 2-8.1 2 1.5 2 .8 2 4.9 2-6.9 2-5.2 2 3.5 2-.1 2-4 2 3.5 2-1.7 2-1.2 2-1 2 4.5 2-2.9 2 .7 2-2.5 2 3.1 2 2.4 2-4.8 2 .8 2 .9 2-.7 2 1.1 2 1.9 2-.2 2 .9 2 .2 2-3.1 2-1.9 2 3.1 2-3.3 2 3.4 1-3.1 1-6.8 1-7.2 1-5.3 1-3.4 1-5.4 1-7.1 1-8.9 1-12.7 1-8.8 1-3.5 1-5.6 1-6.4 1-9.5 1-6.5 1-4.3 1-11 1-8.8 1-4.3 1-2.1 1-5.6 1-5.9 1-5.8 1-6.9 1-2.9 1-3.5 1-7 1-4.5 1-6.5 1-7.6 1 .9 1 .5 1-4.9 1-2 1 2.6 1 2.1 1 2.8 1 1.6 2 10.5 2 3.3 2 10.4 2 3.7 2 11 2 10.9 2 10.7 2 3.4 2 7.9 2 2.8 2 5.2 2 4.1 2 11.9 2 3.4 2 5.3 2 7.4 2 8.2 2 5.1 2 8 2-1.2 2 8.4 2 7.3 2 7.6 2 4.2 2 3.3 2-.5 2-1.6 2 5.9 2 .7 2 1.7 2-.4 2 2.1 2 4.6 2 1.4 2 1.7 2 10.7 2-4.5 2 8.5 2 2.9 2 .9 2-.5 2 1.1 2 3.6 2 3.9 2 1.4 2-1.4 2 6.2 2 1.7 2 .1 2-.9 2 1.7 2-4.2 2 1.7 2 2.2 2 1.5 2-2 2 4.9 2-3.9 2-3.6 2 1.4 2-1.7 2-1.1 2 .4 2 .9 2-.6 2-1.6 2-3.7 2 3 2-7 2 5.7 2-4.1 2-.4 2 1.4 2-6.1 2 3.1 2-3.4 2 1.2 2-6.4 2 4.9 2-3.9 2 2 2 .8 2-6.5 2 3 2-4.4 2-.5 2 2.5 2-4.2 2-.3 2 1.7 2-3.4 2-4.5 2 2.6 2-.8 2 .6 2-4.5 2 4 2-3.7 2 .9 2-5.1 2 2 2 .3 2 2 2-2.7 2-.5 2 4.8 2 1.1 2-1.8 2 5.2 2 3.3 2 1.2 2 2.8 2-6.3 2 2.7 2-3.8 2 .9 2-1.4 2-.3 2-.8 2 1.6 2-4.3 2 5.9 2-2.3 2 2.7 2-4.7 2-.2 2 3.9 2-4.9 2 7.9 2-2.9 2 7.1 2-.7 2-2 2-3.6 2 2.3 2-1.5 2-.3 2 6.9 2-3.5 2 .1 2 2.5 2-5.1 2 4.7 2-4.1 2 2.3 2-1.5 2 .6 2 3.8 2-4.3 2-2.7 2 1.3 2 2.7 2-2.2 2 1.7 2-2.9 2-1.5 2 3.2 2-2.5 2-.8 2 1.5 2-2.6 2 3.9 2 .3 2 2.8 2-.4 2-.5 2-4.4 2 2 2 0 2-3.7 2-.6 2 5.9 2-3.4 2 1.6 2-.2 2-2.3 2-1.3 2-.1 2-8.4 2 4 2-3.4 2 0 2 2.1 2-1 2 5.9 2-2.5 2-4.2 2 4.2 2-5.2 2-.9 2 .3 2-5.9 2 8.3 2 .7 2 2.8 2-1.2 2 2.9M220 508.8l2-1.1 2 2.7 2-6.1 2-2.5 2 3.6 2 .3 2 .2 2-.6 2 7.3 2-1 2-2 2-2.2 2 .7 2 4.4 2 1.7 2-5 2 .8 2 .5 2 2.3 2 3.4 2-4.1 2 2.6 2-5.8 2-1.3 2-.5 2-1.2 2 5.7 2-3.9 2-1.1 2-3 2 3.8 2-2.7 2-.5 2 6.9 2-1.6 2-.6 2-.9 2 4.8 2-1.9 2-2 2 3.3 2-6.4 2 1.7 2-1.7 2 .7 2 1.3 2-4.1 2 1.4 2-2.4 2 3.8 2-2.6 2 4.9 2-.5 2 1 2-.2 2-2.1 2-.9 2-.8 2-3.8 2 2.4 2 2 2 .6 2 1.5 2-.5 2 .3 2-1.9 2 7.3 2-2.7 2 3.6 2-.7 2 6.8 2-5.1 2 5.6 2-1.5 2-1.7 2-3.3 2 1.3 2 .7 2-1.5 2 1.3 2-.9 2 1.9 2-8.8 2 7.6 2 2 2-4.3 2-2.4 2 1.9 2-1 2-4.8 2 .5 2 .9 2 4.8 2-6.1 2-4.8 2 3 2 .4 2-3.8 2 2.2 2 .5 2-2.5 2-1.3 2 3.1 2-3.5 2-.3 2-4.7 2 5.2 2 1.8 2-2.5 2 4.3 2-.3 2 .3 2 .8 2 1.4 2-3.9 2 2.4 2 2 2-3.8 2-1.4 2 1.6 2-2 2 3.3 1-3.1 1-5 1-2.4 1-2.1 1 0 1-2.1 1-4 1-4.3 1-8.1 1-5.5 1 .3 1-2.9 1-5.2 1-7.5 1-1.1 1 1 1-8.1 1-5.9 1 .3 1 1 1-1.8 1-2.7 1-3.1 1-3.1 1 1.8 1 1.5 1-2.1 1 2.6 1-.1 1-2.7 1 4.2 1 4.3 1-1.9 1 .6 1 1.5 1 .3 1 1 1-2.7 2 6.9 2-2.1 2 3.8 2 .8 2 4.9 2 3.6 2 5.7 2-4.9 2 3.6 2-1.3 2 1.6 2-.4 2 7.7 2-2.5 2 1.4 2 1.4 2 .9 2 2.4 2 3.4 2-4.3 2 3.6 2 5.1 2 2.5 2 3.2 2-1.9 2-1.2 2-1.5 2 7.1 2 1.2 2 2.9 2-2.5 2 3.9 2 4.5 2 1.8 2 3.4 2 10.3 2-3.3 2 7.6 2 1.4 2-.6 2-2.1 2 .7 2 4.6 2 3.8 2 1.7 2 .7 2 6.3 2 3.2 2-.2 2-2.9 2 3.5 2-6.2 2 1.1 2 2.5 2 1.9 2 .4 2 3.1 2-4.9 2-1.9 2 .8 2-.4 2 .1 2 .4 2-.1 2-.9 2-.8 2-2.2 2 2.5 2-8.9 2 3.8 2-3.6 2-.9 2 0 2-6.4 2 .9 2-2.6 2 1.2 2-4.3 2 4.1 2-2.2 2 .3 2 3.4 2-6.1 2 1.5 2-3.6 2-.6 2 4.3 2-6.8 2-.2 2 1.7 2-3.3 2-4.3 2 2.8 2-.9 2 1.9 2-5.4 2 3.6 2-3.5 2 3 2-7.3 2 4 2 .8 2 1.7 2-2.8 2-2.7 2 3.5 2-.2 2 .1 2 4.9 2 2.8 2-.7 2 4.6 2-6.3 2 1.1 2-3.9 2 1.2 2-.6 2-.2 2-1.3 2 3.9 2-5.1 2 6.4 2-1.9 2 4.8 2-4.6 2-1.4 2 4.5 2-5.5 2 9.5 2-3.9 2 5.9 2 1.9 2-2.5 2-5.4 2 2.8 2-.8 2-1.3 2 5.9 2-3.1 2-.8 2 5.9 2-6 2 5.5 2-5.6 2 .8 2-.4 2 1.1 2 3.8 2-5.5 2-6.1 2 .9 2 3.6 2-1.2 2 3.9 2-2.8 2 .8 2 3 2-3.3 2 .1 2-.6 2-1 2 2.8 2-.1 2 2.6 2-2.4 2 2.1 2-4.4 2 3.8 2 3.8 2-7.1 2 .3 2 2.6 2-4.9 2 .8 2-.4 2 .6 2-1 2 .6 2-7.5 2 1.9 2-2.1 2-1.5 2 .9 2-2.7 2 8.2 2-2.9 2-1 2 1.6 2-4.8 2-1.1 2 2 2-6.8 2 8.5 2-.9 2 1.4 2-2.4 2 1.7M220 509.1l2-.7 2 2.6 2-5.7 2-3 2 3.4 2 2.1 2-1.2 2-1.4 2 6.8 2-2.3 2 1 2-4.3 2 3.3 2 5.1 2-.9 2-1.9 2-1.5 2-.9 2 4.2 2 1 2-3.2 2 3.6 2-5.1 2-2.6 2 2 2-2 2 6.4 2-3.4 2-2.8 2-2.1 2 2.8 2-3.8 2-2.7 2 7.9 2-1.7 2 .1 2-.6 2 4.3 2-2.8 2-1.3 2 3.1 2-3.8 2 .7 2-.1 2-2.1 2 .6 2-4.6 2 4.9 2-3 2 4.8 2-2.5 2 .9 2 1.2 2 2.3 2 1.7 2-3.8 2 1.3 2-1.8 2-4.2 2-.4 2 1.8 2 1.9 2 .3 2 .6 2-1.4 2-2.6 2 10.8 2-3.7 2 3.2 2 1.4 2 6.2 2-5.1 2 2.8 2 .7 2-4.7 2-2.7 2 1.9 2-.4 2-2.4 2 2.5 2 .2 2 4.5 2-9.1 2 7.6 2 2.6 2-5.8 2-2.4 2 2.7 2 .6 2-5.9 2 0 2 .9 2 4.5 2-7.8 2-4.8 2 4.6 2-.7 2-3.1 2 .3 2 1.3 2-2.8 2-.4 2 2.1 2-1.3 2 .7 2-2.2 2 2.9 2 2.5 2-4 2 2.8 2-1.3 2-.4 2 3.8 2-.8 2-3.8 2 1.1 2-.1 2 .1 2-2 2 3.3 2-4.5 2 4 1-3.3 1-5.2 1-.3 1 2.1 1 2.3 1 .2 1 .5 1-2.5 1-6.7 1-2.6 1 .7 1-.3 1-3.1 1-5.5 1 .3 1 1.3 1-7.6 1-4.3 1 3.3 1 3.8 1-.5 1-.6 1-2.6 1-2.1 1 2.8 1-1.1 1-4.7 1-.1 1-2.8 1-2.6 1 3.8 1 2.7 1-1.5 1 .2 1 .3 1-1.2 1-.1 1-2.3 2 4.1 2-3 2 4.3 2-3.2 2 4.4 2 4.2 2 3.5 2-4.9 2 3.4 2-4.3 2 1.1 2-2.4 2 5.7 2-5 2-1.1 2 1.9 2 2.1 2 1.4 2 3.9 2-6 2 3 2 5 2 3.2 2-.3 2-.2 2-2.4 2-1.4 2 5.7 2-.4 2 4.3 2 1.1 2 .4 2 5.7 2 1.1 2 4 2 11.1 2-4.3 2 9.2 2 .9 2 1.2 2-3.3 2-.3 2 2.4 2 5.7 2 1.5 2-.1 2 5.8 2 3.1 2-.6 2-3.1 2 0 2-3.5 2 2.3 2 1.1 2 .3 2 .2 2 3.7 2-4.4 2 .3 2 4.1 2-2.4 2 0 2-.7 2-.9 2 .2 2 .9 2-2.9 2 .7 2-6.7 2 3.8 2-3.2 2 .9 2 .2 2-6.6 2 1.2 2-2 2-.5 2-5.4 2 3.5 2 .2 2 1 2 3.6 2-6.6 2 .5 2-4.6 2 .7 2 1.5 2-6.9 2-.3 2 3.4 2-3.6 2-2.4 2 1.7 2-1.7 2 2.1 2-4.7 2 3.6 2-4.3 2 2.4 2-6.2 2 3.1 2-1.2 2 1.9 2-.2 2-2.6 2 7 2-3 2-.5 2 2.2 2 4.6 2 .2 2 3.2 2-5.2 2 .9 2-3.3 2 2.2 2-2.1 2-1.3 2-.3 2 2.2 2-2.5 2 4.9 2-1.6 2-.4 2-3.5 2-1 2 4.4 2-5.1 2 9.2 2 .7 2 4.9 2-.7 2-5.3 2-2.3 2 2.4 2-1.6 2 1.1 2 5.9 2-1.6 2-2.7 2 4.6 2-5.2 2 5.5 2-5.1 2 1.5 2-.9 2 1.5 2 4.3 2-5.8 2-4.1 2-.1 2 2.8 2-1.7 2 2.4 2-2.3 2 1.3 2 2.5 2-3.3 2-1 2 .4 2-2.2 2 3.2 2 2.3 2 3.2 2-2.3 2-.8 2-5.1 2 4.2 2 2.1 2-4.7 2-1.5 2 5.1 2-3.9 2 2 2 1.5 2-3.9 2-.8 2 .7 2-7.6 2 2 2-1 2-3.4 2 1.7 2-1.8 2 6.4 2-2.1 2-3.5 2 5.3 2-4.7 2 .5 2 1.4 2-5.8 2 5.6 2 1.9 2 .2 2-3.7 2-1.1M220 507.7l2-3.1 2 4.4 2-7.9 2-1.2 2 .6 2 4.2 2-.6 2 .7 2 4.3 2-.3 2-1.5 2-2.3 2 .6 2 5.2 2-1 2-4.7 2-.4 2 1 2 4.1 2 1.5 2-2.4 2 5.7 2-7.6 2 .3 2 .6 2-.5 2 3.6 2-3.9 2-1.4 2-2.3 2 3.4 2-3.3 2-3.5 2 6.6 2-.7 2-.4 2-3.2 2 4.4 2-1 2-1 2 2.7 2-4.3 2 0 2 .1 2-.1 2-.9 2-2.4 2 1.6 2-1.1 2 4.2 2-2.2 2 3.8 2-1.8 2 2.3 2-.5 2-2.3 2 2.5 2-3.6 2-1.3 2 2.3 2 1.1 2-.7 2 .9 2-1.4 2-.1 2-1.3 2 8.9 2-3.4 2 3.4 2 .5 2 4.6 2-4.2 2 4.6 2-.5 2-3.6 2-.9 2 .5 2-.3 2-.9 2 3.4 2-.6 2 3.7 2-9.7 2 6.9 2 .8 2-4.9 2-3.4 2 3 2 .3 2-6.8 2 2.1 2 .6 2 3.7 2-5.3 2-3.4 2 1 2-.4 2-3.6 2 3.9 2-.5 2-1.6 2-2.2 2 3.7 2-1.6 2 1.7 2-2.8 2 1.2 2 .9 2-4.3 2 3.1 2-2.2 2 2.1 2 1.6 2 1.2 2-1.1 2 1.6 2 1.2 2-3.7 2-1.9 2 3.1 2-2.2 2 3 1-2.2 1-4.4 1-1.1 1-.7 1 .5 1 .6 1-2.2 1-4.3 1-7.6 1-3.3 1 1 1-1.7 1-2.5 1-5.2 1-.7 1 .3 1-6.9 1-4.3 1 .9 1 2.5 1-2.4 1-1.7 1-1.3 1-3.3 1 1.9 1 1.2 1-4.4 1-.4 1-1.3 1-1.8 1 3.9 1 4.3 1-1.4 1 .3 1 1.4 1-1 1 .1 1-2.3 2 4.8 2-.5 2 3.6 2-1.7 2 4.2 2 2.6 2 3.7 2-3.6 2 4.5 2-2.9 2 .1 2 .6 2 4.1 2-3.7 2 2.3 2-.6 2 3.1 2 2.2 2 3.7 2-5.3 2 2.9 2 2.3 2 2.5 2 2.5 2-1.2 2-1.7 2-4.2 2 9.9 2-1.2 2 3.3 2-.6 2 1.7 2 5.7 2 1.3 2 2.1 2 9.2 2-4.7 2 11.8 2-.6 2 1.5 2-2 2 .6 2 4.1 2 4.4 2 2.4 2-1.7 2 5.3 2 .4 2-1.4 2 1.1 2 2.3 2-1.6 2 .1 2 2.4 2 2.1 2-1.3 2 2.9 2-4.7 2-3.9 2 1.6 2-.3 2 .5 2 1.3 2-1.6 2-.1 2-.6 2-1.7 2 1 2-6.2 2 6 2-3.5 2 1.5 2-1.4 2-5.7 2 3 2-2 2 3.8 2-7.3 2 5.6 2-1 2-.1 2 3.9 2-7.6 2-1.2 2-2.2 2-2.2 2 3 2-4.1 2 .3 2 1.4 2-2.5 2-4.1 2-.6 2 .2 2 2.8 2-4.4 2 4.1 2-1.6 2 1.1 2-4.9 2 .3 2 .6 2-.1 2-1.6 2-1 2 4.9 2-1.1 2 0 2 3.1 2 3 2 1.5 2 2.9 2-5.8 2 2.4 2-3.2 2 .5 2-2.1 2-1.9 2-.3 2 1.6 2-4.9 2 8.2 2-1.9 2 1 2-1.7 2-2 2 3.9 2-4.8 2 8.8 2-2.5 2 6.1 2-1.8 2-2.1 2-3.4 2 5.4 2-2.2 2 .3 2 7.2 2-2 2-1.2 2 1.3 2-6.6 2 5.7 2-4.3 2 2.4 2-.3 2 .5 2 3.6 2-3.8 2-3 2 .9 2 .7 2 .2 2 0 2-2.6 2 .9 2 3.1 2-3.8 2 .7 2-1.2 2-.2 2 3.6 2-.4 2 1.5 2 0 2-2 2-3.1 2 1.2 2 3.8 2-2.4 2-1.3 2 4.6 2-3.3 2 1.1 2-.7 2 1.4 2-2.5 2 .3 2-8.3 2 1.6 2-1.2 2-3.5 2 1 2-1 2 8.7 2-3 2-2.7 2 2.5 2-2.8 2-1.3 2 2.8 2-6.7 2 7.7 2-1 2-.1 2 0 2-.9M220 508.3l2-.8 2 1.2 2-6.2 2-2.8 2 3.2 2 2.5 2-.8 2 1.1 2 5.5 2-.6 2-2.6 2-3.6 2 .4 2 6.1 2-.2 2-1.5 2-.3 2-1.6 2 3.6 2 2.1 2-3.1 2 4.1 2-7 2-.3 2 .3 2-.9 2 4.5 2-3 2-1.9 2-1.6 2 4.3 2-2.4 2-3 2 7.3 2-3.5 2-1.8 2-.4 2 3.5 2-1.1 2-4.1 2 4.1 2-5.3 2 3.5 2-.6 2-1.9 2 1.6 2-5.8 2 3.3 2-3.7 2 5.1 2-2.7 2 4.8 2 .8 2-.6 2 .3 2-1.9 2 1.6 2-.4 2-3.1 2 0 2 2 2 .5 2-1.7 2 1.2 2-1.1 2-3.6 2 12 2-1 2 1.4 2-.7 2 7.5 2-6.3 2 4.3 2 .3 2-4.6 2-2 2 .8 2-.7 2-.4 2 .6 2 .6 2 3.1 2-9.1 2 8.1 2 1.4 2-4.8 2-3.2 2 3.8 2-.9 2-6.7 2 2.6 2 0 2 4.2 2-4.4 2-6.4 2 4.6 2-.8 2-4.5 2 3.9 2-.6 2-2.4 2-1.1 2 5.3 2-4 2 .7 2-2.2 2 .7 2 2.9 2-3.2 2 3.4 2 1 2 .4 2 .7 2 1.1 2-3.4 2 1.9 2 1.6 2-1.3 2-4.2 2 3.4 2-1.6 2-.6 1-5.5 1-16.7 1-12.9 1-14.5 1-13.8 1-15 1-13.8 1-14.8 1-19.2 1-15.9 1-12 1-11.7 1-12.8 1-17.5 1-11.2 1-9.2 1-16.4 1-14.1 1-8.3 1-7.7 1-5.8 1-5.4 1-7.4 1 1.8 1 7.4 1 6.4 1 3.3 1 5.9 1 1.8 1 1.5 1 10.6 1 8 1-.5 1 4.7 1 6.4 1 3.7 1 4.9 1 1.6 2 11.6 2 4.6 2 11.1 2 3.7 2 12.5 2 10.6 2 10.8 2 2.6 2 12 2 3.2 2 6.9 2 5 2 13.1 2 1.2 2 7.1 2 4.8 2 8.5 2 7.9 2 8.9 2-1.7 2 6.9 2 11 2 4.9 2 5.1 2 1.2 2 1.4 2 3 2 10.4 2 6.2 2 4.4 2 2.8 2 3.2 2 5.7 2 .7 2 1.1 2 10.5 2-5.9 2 9.7 2 .1 2 2.3 2-2 2-1.6 2 5.1 2 3.8 2 2.8 2 1.1 2 5.5 2 .8 2-1.1 2-.9 2 4.2 2-1.9 2 1.2 2 2 2-1.9 2-1.3 2 4.2 2-5.8 2 .6 2 1.9 2 .2 2 .2 2 2.1 2-.5 2-1.3 2 .1 2-3.1 2 1.1 2-8.9 2 6.3 2-1.5 2 3.1 2-.9 2-8.4 2 .5 2-1.3 2 2.6 2-4.1 2 5.7 2-.8 2-1 2 4.4 2-6.7 2 .6 2-3.6 2-1.3 2 4.7 2-7.7 2 2 2 2.6 2-3.5 2-3.6 2 2.5 2-.4 2 1.8 2-5.2 2 4.7 2-4.9 2 2 2-5 2 2.9 2 1 2 .2 2-1.8 2-.4 2 4.8 2-3.2 2 0 2 4.5 2 2.5 2-.1 2 .8 2-5.2 2 1 2-2.6 2 .4 2 0 2-.2 2-1.3 2 3.6 2-4 2 7 2-.8 2-.7 2-2.8 2-.5 2 4.2 2-6.4 2 8.8 2-1.9 2 6.2 2-1.3 2-2.1 2-2.6 2 4.8 2-.3 2-2 2 6.8 2-4.1 2-3.5 2 3.2 2-4.3 2 2.7 2-1.7 2 3.9 2-3 2 .8 2 2.5 2-4.9 2-2.9 2 2 2 1.8 2-.5 2 .5 2-2 2 2 2 2.5 2-2.6 2 1.1 2 0 2-1.2 2 4.3 2-.7 2 1.4 2-3.1 2 1.1 2-3.8 2 3.6 2 1.2 2-2.5 2-2.5 2 2.4 2-1.9 2-1.5 2 2.3 2-1.6 2-2.4 2 .5 2-5.6 2 2 2-.8 2-3.1 2 2.9 2-1.4 2 7.9 2-2.4 2-3.8 2 1.8 2-3.3 2-1.7 2 2.6 2-6.5 2 7.8 2-1.2 2 1.5 2-3.1 2 2.8M220 507.9l2-1 2 0 2-4.3 2-2.1 2 1.6 2 1 2-2.1 2 2.2 2 5.9 2 .3 2-.4 2-3.5 2 2.3 2 3 2 .3 2-4.1 2-.1 2-.9 2 2.3 2 4.1 2-2.7 2 4.5 2-7 2-1.7 2 0 2-.3 2 5.3 2-2.6 2-2.2 2-1.6 2 2 2-4 2-3 2 6.9 2-.9 2 .5 2-.9 2 3.2 2-2.3 2-2.9 2 4.6 2-5.6 2 1.2 2 .5 2-.8 2 2 2-4.5 2 2.4 2-3.2 2 5.3 2-1.2 2 2.6 2 .3 2-.2 2-.2 2-3.6 2 .8 2-1.7 2-2.3 2 2.7 2 2 2 .7 2 1.5 2-1.8 2 .8 2-2.5 2 9.6 2-4.3 2 4.2 2-.3 2 7.4 2-7.1 2 7 2-1.7 2-3.1 2-3.7 2 1.7 2-.7 2-1.2 2 3 2 .6 2 1.4 2-7.3 2 5.2 2 1.3 2-6 2-2 2 3.9 2-.5 2-7.8 2 2.3 2 .6 2 4.7 2-5.6 2-4.3 2 2.6 2 2.4 2-4.8 2 1.2 2 1.4 2-4 2-1.1 2 4.2 2-1.9 2-1.4 2-1.9 2 3.2 2 1.7 2-3.1 2 3.1 2-1.6 2 .9 2 .4 2 .6 2-3.2 2 3.3 2 .6 2-4 2-.3 2 3.1 2-3.9 2 4.4 1-2.8 1-5 1-1 1-1.3 1-.4 1-2.7 1-3.5 1-4.2 1-9.6 1-5.8 1-2.4 1-3.6 1-4.3 1-8.5 1-3 1-.8 1-8.8 1-5.5 1 .3 1 1.4 1-3 1-4 1-3.6 1-4.8 1-1 1-1.2 1-3.6 1-.7 1-.1 1-.4 1 4.9 1 4.5 1-.8 1 .5 1 1.5 1 1.1 1 .5 1-1.6 2 6.4 2-2.9 2 5.3 2 1.4 2 6.9 2 4.4 2 5.9 2-2 2 3.7 2-1.3 2 2.3 2 .8 2 6.7 2-2.5 2 2.3 2 1.9 2 1.9 2 4.4 2 5.5 2-3.8 2 4.7 2 4.7 2 3.6 2 2.6 2-.8 2-1.4 2-.7 2 6.8 2 .6 2 2.4 2 2.9 2 1.6 2 3.3 2 2.1 2 1.6 2 9.4 2-4.5 2 9.1 2 2.3 2-.2 2-3.2 2 .3 2 3.9 2 4.1 2 3.1 2-1.3 2 5.8 2 2.3 2 .1 2 0 2 1.4 2-3.5 2 3.4 2 2.1 2 1.1 2 .2 2 2.3 2-4.7 2-3.2 2 2.4 2-.1 2 .8 2 2.7 2-1.3 2-1.2 2 2 2-4.5 2 .9 2-4.3 2 3.2 2-3.5 2 2.9 2 .8 2-8.9 2 4 2-3 2 4.2 2-5 2 4.9 2-1.9 2 .8 2 1.8 2-6.5 2 1.4 2-2.6 2-1.2 2 4.8 2-6.8 2-.1 2 3.1 2-1.5 2-2.4 2 2.6 2-.5 2 2.6 2-6 2 3.6 2-3.2 2-.1 2-3 2 1.1 2 .7 2 1.7 2-6.5 2-.3 2 3.9 2-1.1 2-.2 2 4.5 2 4.4 2 .8 2 1.8 2-5.5 2 1.9 2-4.5 2 2.9 2-.3 2 .4 2-2.7 2 3.7 2-3.8 2 6.7 2-2.4 2 .8 2-3.4 2-.8 2 4.1 2-5.8 2 7.7 2-2.5 2 5.6 2 1 2-1.4 2-2.1 2 4.2 2-.7 2-.2 2 3.2 2-4.3 2-.9 2 2.2 2-4.3 2 4.6 2-4 2 1.2 2 1 2 1.5 2 3.9 2-5.2 2-3.8 2 1.8 2 3.3 2-2.6 2 2.5 2-3.5 2-.3 2 2.3 2-2.2 2-.8 2 .7 2-.8 2 4 2-1.7 2 3.5 2-4.4 2 .1 2-4.5 2 2.7 2 3.8 2-4.8 2-1.2 2 5.6 2-.9 2-.7 2 .9 2-2.3 2-3.7 2 3 2-7.4 2 3.4 2-3 2-.9 2-.4 2-1.4 2 7.8 2-3.6 2-3.2 2 2.2 2-2.2 2-1.1 2 3.3 2-5.6 2 8.5 2 1 2 .2 2-2.4 2 .4M220 506.1l2-1.4 2 3.2 2-6.1 2-3.8 2 3 2 5 2-2.1 2 .4 2 4.5 2 .3 2-1.7 2-2.7 2 1.6 2 3.5 2 .4 2-3.3 2-.7 2 0 2 4.4 2 3.4 2-3 2 4.8 2-7.1 2-1.9 2 .7 2-.7 2 4.5 2-3.6 2-3.6 2-2.1 2 3.8 2-3.2 2-3.3 2 9.6 2-2.1 2-2.3 2-.7 2 3.5 2 0 2-.9 2 2 2-6.6 2 2.3 2-.3 2-1.3 2 .9 2-4.8 2 2.7 2-1.6 2 2.2 2-.2 2 2.5 2 2.7 2 .4 2 .6 2-3.2 2 0 2-1.6 2-3.5 2 1.6 2 2.1 2 1.3 2 1.3 2-.5 2-1.3 2-2.6 2 10 2-3.9 2 3.7 2-.3 2 6 2-6.8 2 6 2-1.4 2-2.4 2-1.8 2 1.9 2-1.2 2-2.1 2 1.8 2 0 2 1.5 2-7.1 2 5.9 2 4.2 2-4 2-4 2 4.6 2-.7 2-7 2 .8 2-.2 2 5.4 2-7 2-3.7 2 4.7 2-.9 2-4 2 1.9 2-.1 2-1.2 2-1.8 2 6.1 2-3.6 2 .4 2-3.2 2 2.4 2 .4 2-2.1 2 2.3 2-1.5 2 1.8 2 1.2 2 .4 2-3.8 2 4.2 2-.5 2-2 2 .4 2 1.7 2-3.4 2-.3 1-5.1 1-13.3 1-13.3 1-15.5 1-13.3 1-15.6 1-14.9 1-14.6 1-19.5 1-14.9 1-10.7 1-14 1-16 1-16.4 1-12 1-9.9 1-15.2 1-13.9 1-8.3 1-5.3 1-6.8 1-6.8 1-.6 1 4.2 1 8.1 1 5.9 1 1.8 1 4.8 1 2.7 1 2.5 1 8.3 1 7.9 1 4.1 1 4.4 1 4.3 1 4.4 1 4.8 1 .3 2 12.3 2 5.8 2 10.9 2 5.6 2 11.3 2 10.8 2 10.2 2 3.8 2 10.2 2 2.1 2 5 2 5.8 2 12.5 2 2.2 2 7.4 2 5.7 2 6.9 2 7.2 2 8.1 2 0 2 7.1 2 7.7 2 7 2 4.5 2 3.2 2 .2 2 1.6 2 10.8 2 2.6 2 5.5 2 2.2 2 2 2 5.2 2 1.8 2 2.8 2 11.6 2-5.1 2 10 2 .4 2-.4 2-2.2 2-2 2 6.5 2 4.8 2 3.3 2-.1 2 4.9 2 2.5 2-.6 2 .8 2 3.2 2-3.4 2 2.1 2 .5 2 .6 2-4.5 2 4.3 2-3.9 2 .6 2 1.8 2 2 2-1.9 2 1 2-.5 2-.9 2-1.7 2-1.9 2 3.1 2-6 2 5.9 2-4.5 2 3.3 2 .4 2-7.8 2 2 2-.2 2 .4 2-4.2 2 4.3 2-3.2 2 3.6 2 4 2-4.2 2 0 2-4.2 2-1.8 2 2.2 2-4.6 2 1.2 2 2.7 2-.7 2-3.6 2 1.7 2 0 2 2.7 2-5.7 2 5.8 2-3.7 2 .3 2-7.6 2 1.9 2 .8 2 1 2-2.4 2 .6 2 4 2 .4 2-.6 2 3.3 2 2.4 2 .8 2 1 2-4.5 2 2.6 2-3 2-.2 2-.3 2-3 2 1.3 2 3.1 2-3.5 2 5 2 1 2-.1 2-5.4 2-.8 2 7.3 2-4.6 2 7.6 2-3.3 2 3.7 2-.7 2-2.7 2-3.3 2 4.7 2-1.4 2 1.9 2 5.4 2-1.7 2-1.9 2 3 2-7.1 2 4.7 2-3.6 2 2.3 2-2.5 2 .1 2 1.7 2-4 2-3.4 2 3.4 2 4.5 2-1.8 2 2.8 2-3.1 2-1.3 2 2.4 2-3.6 2-.7 2-.8 2 1.6 2 1.8 2 2.2 2 3 2-3.2 2-.6 2-2.7 2 2.2 2 1.5 2-4.4 2-.8 2 3.7 2-2.4 2 .3 2 .2 2-.9 2-1.4 2-.4 2-5.6 2 4.2 2-2.4 2-3.8 2 1.4 2-4.2 2 8.9 2-1.4 2-2 2 3.2 2-3.5 2-.6 2 2.5 2-6.6 2 6.8 2-.7 2 1.5 2-4.6 2 3M220 505.4l2-1.4 2 3.5 2-6.9 2-.5 2 3.2 2 1 2-.9 2 .8 2 5.8 2 .8 2-1 2-3.8 2 1.2 2 1.9 2 1.3 2-3.9 2 1.9 2-2.4 2 3 2 2.1 2-3 2 3.9 2-5.9 2-1.2 2 1.9 2 0 2 5.7 2-5.4 2-1 2-1.8 2 2.8 2-4.3 2-2.8 2 8.2 2-2.9 2-1.4 2 1.1 2 3 2-1.3 2-1.9 2 2.2 2-4.8 2 2.3 2-.9 2 0 2 .6 2-5.1 2 3.1 2-2.4 2 3.9 2-3 2 4.2 2-1.2 2 1.1 2 .8 2-1.9 2 1.9 2-2.6 2-2.4 2 .5 2 2.8 2 .6 2-1.1 2 .4 2-1.1 2-1.8 2 10.9 2-2.2 2 2.6 2 .3 2 5.7 2-5.7 2 4.2 2 1.1 2-5.9 2-.9 2 1.5 2-2.5 2-3.2 2 2.2 2 .9 2 4.4 2-8.1 2 4.8 2 3.6 2-4.3 2-3.3 2 4.8 2-1.8 2-6.9 2 2.1 2-1.2 2 5.4 2-6.5 2-1.9 2 4.5 2-1.9 2-3.3 2 2.1 2-1.2 2-3.6 2-.9 2 5.5 2-2.7 2 .8 2-3.4 2 2.6 2 2.6 2-3.6 2 2.1 2-.1 2 1.8 2 1.1 2 1.9 2-1.3 2 1.5 2-1.5 2-3.3 2-2.6 2 2.8 2-4.6 2 4.8 1-2.3 1-5.5 1-1.4 1 .6 1 1.1 1-.8 1-3.7 1-4.2 1-8 1-4.3 1 .1 1-4 1-4.5 1-6.2 1-2.7 1-.6 1-7.2 1-5.8 1-.5 1 1 1-1.9 1-2.2 1-3.3 1-4.2 1 .4 1-1.6 1-5.8 1 .8 1-3.6 1-5.3 1 3.6 1 4.5 1 .2 1 2.1 1 2.2 1-.3 1 1.1 1-.2 2 5.5 2-.2 2 6.1 2-.1 2 5 2 4.3 2 7 2-3.7 2 7.1 2-2.3 2 .7 2 .7 2 7.8 2-.7 2 1.2 2 3.7 2 2 2 3.5 2 3.1 2-3.3 2 1 2 6.4 2 2 2 .3 2-1.7 2-3.2 2-2.5 2 7.1 2-.5 2 3.9 2 1 2 1.6 2 5 2 1.9 2 1.8 2 10.4 2-3.6 2 9.5 2 0 2 .4 2-1.6 2 .1 2 5 2 4.3 2 2.7 2-.4 2 5 2-.1 2 .1 2-.2 2 2.7 2-3 2 2.3 2-.4 2 1.1 2 .5 2 3 2-3.9 2-.7 2 3.2 2-1.6 2-1.2 2 .9 2 1.2 2 .6 2 2.5 2-2.6 2 1.9 2-4.7 2 1.9 2-5 2 1.1 2 1.5 2-4.7 2 2.1 2-2.3 2 3.7 2-6.8 2 5.1 2-1.9 2 1.9 2 4.4 2-6.1 2 .1 2-3.5 2-1.6 2 3.3 2-5.3 2 1.1 2 3.5 2-1.6 2-3.6 2 .2 2 1.1 2 1.8 2-5 2 2.4 2-2.1 2 .4 2-6.5 2 5.5 2 1.3 2 1.9 2-.9 2-2.7 2 3.6 2-.7 2-2.6 2 4.1 2 3.5 2 0 2 5.2 2-6.3 2 .2 2-1.9 2 1.3 2-1.7 2 1.1 2-1.2 2 1.2 2-5.6 2 7.1 2-1 2 2.7 2-4.1 2 0 2 3.5 2-5.3 2 9.7 2-3 2 4.9 2 1.3 2-4.2 2-1.3 2 2.9 2-2.2 2 1.9 2 5.3 2-3.5 2-4.2 2 3.1 2-6.1 2 5.4 2-1.4 2 1.3 2-.2 2 1.8 2 3.6 2-4.8 2-6 2-.4 2 1.9 2-1.1 2 3.6 2-.5 2-.7 2 3.2 2-3.1 2 .3 2 2.1 2-.2 2 1.2 2 .6 2 1.1 2-3 2-.6 2-3.1 2 .8 2 4.2 2-2.8 2-1.8 2 5.3 2-2.8 2-2 2 1.9 2-4.2 2-3.7 2 3 2-9.7 2 4.4 2-1.6 2-.8 2 1.5 2-2 2 7.3 2-3.3 2-.4 2 1.4 2-3.6 2-.8 2 1.4 2-5.2 2 10.1 2-1.1 2 2.3 2-1.3 2 1.4" fill="none" stroke="#0000ff" stroke-width="1.25" stroke-linejoin="round"/>
<path d="M220.0 504.9L222.0 503.7L224.0 505.4L226.0 499.6L228.0 498.2L230.0 500.5L232.0 502.7L234.0 501.5L236.0 501.3L238.0 506.1L240.0 505.6L242.0 505.3L244.0 504.0L246.0 505.6L248.0 509.7L250.0 510.4L252.0 506.7L254.0 505.3L256.0 503.5L258.0 504.5L260.0 505.6L262.0 502.0L264.0 505.1L266.0 500.3L268.0 499.3L270.0 499.8L272.0 499.3L274.0 503.8L276.0 500.4L278.0 498.5L280.0 496.6L282.0 498.7L284.0 495.7L286.0 493.5L288.0 498.5L290.0 495.4L292.0 493.4L294.0 491.5L296.0 493.1L298.0 490.6L300.0 488.2L302.0 492.4L304.0 490.0L306.0 492.2L308.0 492.6L310.0 491.6L312.0 492.4L314.0 488.9L316.0 491.4L318.0 489.1L320.0 492.4L322.0 490.3L324.0 492.1L326.0 491.8L328.0 491.7L330.0 491.8L332.0 489.2L334.0 490.1L336.0 488.7L338.0 486.1L340.0 487.5L342.0 488.8L344.0 488.7L346.0 488.6L348.0 487.5L350.0 485.1L352.0 481.9L354.0 488.0L356.0 484.8L358.0 486.0L360.0 484.8L362.0 489.5L364.0 485.5L366.0 490.2L368.0 490.2L370.0 487.5L372.0 486.2L374.0 486.9L376.0 486.7L378.0 485.5L380.0 486.3L382.0 485.6L384.0 487.7L386.0 480.0L388.0 485.4L390.0 486.9L392.0 483.1L394.0 481.7L396.0 484.9L398.0 485.1L400.0 479.8L402.0 481.4L404.0 481.2L406.0 485.5L408.0 481.0L410.0 478.0L412.0 481.4L414.0 481.9L416.0 480.0L418.0 482.5L420.0 482.9L422.0 481.6L424.0 480.6L426.0 483.5L428.0 481.5L430.0 482.3L432.0 480.1L434.0 482.7L436.0 484.7L438.0 482.4L440.0 485.2L442.0 487.1L444.0 491.3L446.0 496.0L448.0 500.0L450.0 501.0L452.0 503.1L454.0 505.0L456.0 504.0L458.0 502.5L460.0 505.3L462.0 503.1L464.0 507.2L465.0 505.9L466.0 502.8L467.0 503.0L468.0 504.3L469.0 506.7L470.0 508.2L471.0 508.5L472.0 507.3L473.0 502.4L474.0 500.6L474.0 504.8L473.0 506.5L472.0 511.4L471.0 512.5L470.0 512.2L469.0 510.7L468.0 508.3L467.0 507.0L466.0 506.8L465.0 510.0L464.0 511.2L462.0 507.1L460.0 509.4L458.0 506.6L456.0 508.1L454.0 509.2L452.0 507.3L450.0 505.2L448.0 504.2L446.0 500.2L444.0 495.6L442.0 491.4L440.0 489.5L438.0 486.7L436.0 489.0L434.0 487.1L432.0 484.4L430.0 486.6L428.0 485.8L426.0 487.8L424.0 484.9L422.0 485.9L420.0 487.2L418.0 486.9L416.0 484.3L414.0 486.2L412.0 485.8L410.0 482.4L408.0 485.4L406.0 489.9L404.0 485.6L402.0 485.8L400.0 484.2L398.0 489.5L396.0 489.3L394.0 486.1L392.0 487.5L390.0 491.3L388.0 489.8L386.0 484.4L384.0 492.1L382.0 490.0L380.0 490.7L378.0 490.0L376.0 491.2L374.0 491.3L372.0 490.6L370.0 491.9L368.0 494.6L366.0 494.7L364.0 489.9L362.0 493.9L360.0 489.2L358.0 490.4L356.0 489.2L354.0 492.5L352.0 486.4L350.0 489.6L348.0 491.9L346.0 493.1L344.0 493.2L342.0 493.3L340.0 492.0L338.0 490.6L336.0 493.2L334.0 494.6L332.0 493.7L330.0 496.3L328.0 496.2L326.0 496.3L324.0 496.6L322.0 494.8L320.0 496.9L318.0 493.6L316.0 495.9L314.0 493.4L312.0 497.0L310.0 496.2L308.0 497.2L306.0 496.8L304.0 494.5L302.0 496.9L300.0 492.7L298.0 495.1L296.0 497.7L294.0 496.0L292.0 497.9L290.0 500.0L288.0 503.1L286.0 498.0L284.0 500.3L282.0 503.3L280.0 501.2L278.0 503.1L276.0 505.0L274.0 508.4L272.0 503.9L270.0 504.4L268.0 503.9L266.0 504.9L264.0 509.7L262.0 506.6L260.0 510.2L258.0 509.1L256.0 508.1L254.0 509.9L252.0 511.3L250.0 515.1L248.0 514.3L246.0 510.2L244.0 508.7L242.0 509.9L240.0 510.3L238.0 510.7L236.0 505.9L234.0 506.1L232.0 507.4L230.0 505.1L228.0 502.8L226.0 504.3L224.0 510.1L222.0 508.4L220.0 509.6Z" fill="#000"/>
<path d="M580.0 477.6L582.0 476.3L584.0 473.9L586.0 472.7L588.0 476.0L590.0 478.9L592.0 479.9L594.0 478.9L596.0 482.7L598.0 483.5L600.0 482.6L602.0 482.1L604.0 483.7L606.0 481.2L608.0 481.8L610.0 482.9L612.0 483.6L614.0 483.1L616.0 486.1L618.0 483.4L620.0 482.1L622.0 484.5L624.0 483.9L626.0 484.5L628.0 486.3L630.0 486.7L632.0 487.2L634.0 488.6L636.0 487.3L638.0 489.3L640.0 484.7L642.0 489.1L644.0 487.1L646.0 488.7L648.0 489.6L650.0 484.7L652.0 486.6L654.0 485.7L656.0 488.0L658.0 483.6L660.0 488.3L662.0 487.0L664.0 488.6L666.0 491.3L668.0 486.8L670.0 487.9L672.0 485.9L674.0 485.8L676.0 489.5L678.0 486.0L680.0 486.6L682.0 489.0L684.0 487.2L686.0 484.2L688.0 485.7L690.0 485.6L692.0 488.1L694.0 484.0L696.0 488.0L698.0 486.5L700.0 488.8L702.0 485.0L704.0 488.7L706.0 489.9L708.0 492.4L710.0 492.1L712.0 491.1L714.0 495.3L716.0 494.4L718.0 494.1L720.0 496.8L722.0 499.5L724.0 499.5L726.0 501.0L728.0 495.9L730.0 496.8L732.0 493.7L734.0 494.6L736.0 493.4L738.0 491.8L740.0 490.4L742.0 491.6L744.0 488.1L746.0 493.0L748.0 491.4L750.0 491.5L752.0 488.3L754.0 486.9L756.0 490.3L758.0 484.9L760.0 491.2L762.0 488.5L764.0 492.1L766.0 491.9L768.0 488.9L770.0 486.0L772.0 488.4L774.0 486.5L776.0 485.6L778.0 489.9L780.0 487.9L782.0 486.9L784.0 489.0L786.0 485.2L788.0 488.4L790.0 485.6L792.0 486.4L794.0 484.7L796.0 485.0L798.0 487.5L800.0 483.2L802.0 480.3L804.0 481.2L806.0 483.4L808.0 482.6L810.0 484.6L812.0 482.9L814.0 484.2L816.0 486.7L818.0 485.5L820.0 486.5L822.0 487.0L824.0 487.1L826.0 490.3L828.0 490.5L830.0 493.1L832.0 491.5L834.0 491.8L836.0 488.9L838.0 491.9L840.0 494.9L842.0 492.2L844.0 491.9L846.0 495.8L848.0 494.0L850.0 495.2L852.0 496.8L854.0 496.6L856.0 495.4L858.0 496.4L860.0 491.1L862.0 495.3L864.0 494.9L866.0 493.9L868.0 495.3L870.0 493.8L872.0 499.9L874.0 497.5L876.0 496.1L878.0 498.6L880.0 497.2L882.0 497.2L884.0 499.7L886.0 495.2L888.0 501.7L890.0 501.3L892.0 502.5L894.0 500.8L896.0 501.9L896.0 509.2L894.0 508.2L892.0 509.9L890.0 508.9L888.0 509.3L886.0 502.9L884.0 507.5L882.0 505.1L880.0 505.2L878.0 506.7L876.0 504.2L874.0 505.8L872.0 508.3L870.0 502.3L868.0 503.8L866.0 502.5L864.0 503.7L862.0 504.1L860.0 500.0L858.0 505.5L856.0 504.6L854.0 505.8L852.0 506.1L850.0 504.6L848.0 503.5L846.0 505.4L844.0 501.6L842.0 502.0L840.0 504.8L838.0 501.9L836.0 498.9L834.0 502.0L832.0 501.7L830.0 503.4L828.0 500.9L826.0 500.8L824.0 497.7L822.0 497.7L820.0 497.2L818.0 496.2L816.0 497.3L814.0 494.7L812.0 493.3L810.0 495.0L808.0 492.8L806.0 493.5L804.0 491.3L802.0 490.3L800.0 493.1L798.0 497.3L796.0 494.8L794.0 494.3L792.0 496.0L790.0 495.0L788.0 497.8L786.0 494.4L784.0 498.2L782.0 495.9L780.0 496.9L778.0 499.0L776.0 494.6L774.0 495.5L772.0 497.4L770.0 495.0L768.0 497.9L766.0 500.9L764.0 501.1L762.0 497.5L760.0 500.2L758.0 493.9L756.0 499.3L754.0 495.9L752.0 497.3L750.0 500.5L748.0 500.4L746.0 502.0L744.0 497.1L742.0 500.6L740.0 499.4L738.0 500.8L736.0 502.4L734.0 503.6L732.0 502.7L730.0 505.8L728.0 504.9L726.0 510.0L724.0 508.5L722.0 508.5L720.0 505.8L718.0 503.1L716.0 503.4L714.0 504.3L712.0 500.1L710.0 501.1L708.0 501.4L706.0 498.9L704.0 497.7L702.0 494.0L700.0 497.8L698.0 495.6L696.0 497.1L694.0 493.2L692.0 497.4L690.0 494.9L688.0 495.1L686.0 493.6L684.0 496.6L682.0 498.5L680.0 496.2L678.0 495.7L676.0 499.2L674.0 495.6L672.0 495.8L670.0 497.8L668.0 496.7L666.0 501.4L664.0 498.7L662.0 497.2L660.0 498.5L658.0 493.8L656.0 498.3L654.0 496.1L652.0 497.0L650.0 495.2L648.0 500.1L646.0 499.3L644.0 497.7L642.0 499.8L640.0 495.5L638.0 500.1L636.0 498.1L634.0 499.4L632.0 498.0L630.0 497.5L628.0 497.1L626.0 495.3L624.0 494.7L622.0 495.3L620.0 492.9L618.0 494.2L616.0 496.9L614.0 493.9L612.0 494.4L610.0 493.7L608.0 492.6L606.0 492.0L604.0 494.5L602.0 492.9L600.0 493.4L598.0 494.3L596.0 493.5L594.0 489.7L592.0 490.7L590.0 489.7L588.0 486.8L586.0 483.5L584.0 484.7L582.0 487.1L580.0 488.4Z" fill="#000"/>
<path d="M220 505.6l2-2.1 2 1.9 2-5.5 2-2.8 2 3.8 2 1.2 2 .3 2-1.7 2 4.9 2 .1 2 0 2-2.4 2 2.3 2 4.4 2 1.5 2-5.4 2-.3 2-1.5 2-.1 2 1.5 2-3.9 2 2.5 2-3.9 2-1.8 2 .6 2-.2 2 4.7 2-3.6 2-2.1 2-2.5 2 3.1 2-3 2-2.5 2 5.9 2-3.4 2-2 2-2.1 2 .9 2-2.6 2-2.7 2 4 2-2.4 2 3.2 2 .2 2-.3 2-.1 2-2.3 2 1.6 2-2.5 2 4.3 2-2.8 2 2.5 2-.4 2 .3 2-.9 2-3 2 .8 2-1 2-2.7 2 1.3 2 1.9 2-.7 2-.7 2-1.2 2-1.8 2-2.8 2 5.8 2-2.9 2 1.8 2-1.6 2 4.2 2-3 2 3.9 2-.5 2-1.8 2-1.5 2-.1 2-.2 2-1.4 2 2.2 2-1.1 2 2.4 2-8.9 2 6.5 2 1.2 2-3.9 2-1.5 2 2.2 2 1.4 2-5.2 2 .7 2 1.3 2 4.1 2-5 2-2.6 2 3.8 2-.3 2-2.5 2 2.7 2-.6 2-.8 2-1.2 2 4.1 2-3 2 1.3 2-1.5 2 2.3 2 2.8 2-2.7 2 3.1 2 1.9 2 3.4 2 5.8 2 3.1 2 .6 2 2.8 2 2.6 2-2.2 2-1.9 2 2.4 2-1.7 2 4.5 1-1.8 1-2.5 1-.2 1 .9 1 3.5 1 1.3 1-.3 1-1.2 1-5.4 1-3.9 1-.1 1-1.3 1-11.1 1-17.3 1-13.9 1-12.8 1-17.2 1-15.5 1-11.2 1-9.8 1-13 1-14.1 1-14.3 1-15.4 1-11.5 1-5.8 1-3.9 1 5.7 1 3.9 1 1.9 1 6.8 1 6.5 1 2 1 3.8 1 4.4 1 3.1 1 4.1 1 1 2 9 2 5.3 2 8.3 2 3.6 2 10.2 2 6.7 2 8.5 2 1.4 2 5.9 2 1 2 5 2 1.6 2 8.5 2 2.1 2 3.1 2 3.6 2 4.2 2 4.5 2 4.9 2-1.3 2 4.8 2 5.2 2 4 2 2 2 1.3 2-1.4 2-2.1 2 5 2-1.2 2 1.6 2-2.5 2 .6 2 2.1 2-1.6 2 .1 2 7.7 2-5.4 2 8.8 2-.4 2-1.7 2-1.4 2-2.5 2 2.9 2 2.3 2 1.2 2-1.3 2 3 2 .8 2 .4 2-.6 2 3.2 2-2 2-1.6 2 2.2 2 1.3 2 .8 2 1.7 2-1.4 2-.8 2 2 2-1.4 2 .7 2 2 2-.6 2 1.1 2-.4 2-.4 2 1.2 2-4 2 4.3 2-2.3 2 2.3 2 1.7 2-5.6 2 1.9 2 .1 2 1.7 2-4.9 2 5.4 2-.7 2 1.5 2 2.3 2-4.3 2 .8 2-1.1 2-.2 2 3.3 2-4.2 2 .5 2 .8 2-1.3 2-4.4 2 2.7 2-1 2 4 2-2.3 2 2.8 2-2.3 2 3.2 2-4.8 2 3.1 2 1.5 2 2.5 2-.4 2-.2 2 4.5 2 .1 2-1.2 2 3.8 2 3 2 .4 2 .9 2-5.9 2 0 2-1.5 2-.5 2-1.4 2-2.9 2 1 2-.2 2-3.2 2 4.6 2-1.2 2 .1 2-2.7 2-1.5 2 4.5 2-6.7 2 6.9 2-3.2 2 4.2 2-1.1 2-2.9 2-3.6 2 3.4 2-2.2 2-.7 2 5 2-2.3 2-.7 2 2.1 2-3.5 2 2.5 2-3.4 2 1.3 2-.6 2-.7 2 2.9 2-4.3 2-2.8 2 .8 2 1.6 2-1.4 2 1.3 2-1.3 2 1.3 2 2.8 2-1.3 2 1.5 2 1.2 2-.2 2 4.5 2 .5 2 2.7 2-1.4 2-.5 2-3.2 2 3.3 2 3.8 2-3.6 2 0 2 2.1 2-.9 2-.4 2 2.9 2-.3 2-1.8 2 .9 2-3.8 2 4.1 2-1.9 2-.9 2 1.2 2-.8 2 6.1 2-3.2 2-.7 2 3.9 2-1.9 2-.9 2 3.3 2-5.9 2 6.8 2-1 2 2.6 2-.9 2 1.9" fill="none" stroke="#333" stroke-width="1.0" stroke-linejoin="round"/>
<path d="M220 510.1l2-.6 2 .2 2-4.5 2-1.8 2 2.4 2 2.9 2-2.1 2-1 2 4.6 2-.5 2 .2 2-1.4 2 2.2 2 4.5 2 .8 2-2.7 2-2.6 2-1.9 2-.4 2 2.4 2-4.1 2 3.8 2-4.6 2-1.1 2-.6 2-.2 2 4.1 2-2.4 2-2 2-2.9 2 2.4 2-3.4 2-1.2 2 5.1 2-4 2-2 2-2.8 2 2.9 2-3.2 2-2.4 2 5.3 2-3.7 2 3.2 2-.6 2 .3 2-.1 2-2.2 2 1.5 2-1.9 2 2.7 2-1.7 2 2.4 2-1.4 2-.2 2 .9 2-2.8 2 .6 2-.5 2-3.7 2 2.4 2 .3 2 .6 2 .4 2-2.8 2-1.5 2-3.9 2 8.1 2-4.7 2 .8 2-1.4 2 5.8 2-3.9 2 5.6 2-.8 2-3.4 2-1.3 2 .4 2 .8 2-1.6 2 0 2-1.1 2 2.8 2-7.9 2 7.1 2 0 2-3.2 2-2 2 2.9 2 1.4 2-4.8 2 .2 2-.2 2 5.3 2-6.1 2-2.5 2 3.4 2 .9 2-2.7 2 2.5 2 1 2-1.1 2-.8 2 1.8 2-1.5 2 .1 2-.7 2 2.5 2 1.6 2-2.4 2 3 2 2.2 2 4.1 2 4 2 4.2 2 3.3 2 .7 2 .4 2-1.4 2-.4 2 2.3 2-2.1 2 4.1 1-.5 1-2.7 1-.7 1 .7 1 2.3 1 2 1 1.2 1-1.2 1-6.4 1-2.4 1 1.3 1-1 1-3.9 1-11.6 1-8.7 1-7.4 1-13.1 1-12 1-7 1-6.8 1-9.1 1-8.9 1-9.3 1-10 1-7 1-7.3 1-11.5 1-4.6 1-3.5 1 1.6 1 7.3 1 6 1 1.2 1 3.4 1 4.8 1 2 1 2.7 1 .9 2 8.1 2 3.4 2 6.8 2 3 2 7.6 2 6.3 2 6.5 2 .2 2 5.9 2 1.9 2 3 2 1.2 2 7 2 .4 2 3.6 2 2.1 2 4.1 2 2.8 2 4.9 2-2.2 2 5.7 2 4.6 2 2.6 2 .5 2-3 2-1.5 2-2.3 2 5.3 2-.6 2-.2 2-2.8 2 .6 2 2.9 2-.8 2 .9 2 6.3 2-4.7 2 5.1 2 .7 2-.7 2-2.1 2 .6 2 3.6 2 2 2 .1 2-1.5 2 4.4 2 1.9 2-2.4 2-.1 2 1.5 2-1.4 2-.7 2 1.1 2 1.5 2-.7 2 3.7 2-3.7 2-.1 2 1.5 2-.7 2 .5 2 2.1 2-1 2 2 2 1 2-1.5 2 3.2 2-5.1 2 3.4 2-2.8 2 2.9 2 .9 2-5.3 2-.1 2-.3 2-.8 2-2.2 2 6 2-.8 2 2.6 2 3.1 2-4.8 2 .2 2-.5 2-.9 2 2.8 2-4.3 2 .3 2 1.3 2-2 2-1.6 2 1.7 2 .8 2 1.5 2-4.8 2 4.1 2-1.6 2 3.3 2-3.9 2 4.5 2 .7 2 2.4 2-2.1 2 1 2 2.8 2 .2 2-2 2 2.9 2 3.3 2-1 2 1.6 2-5.1 2 1.5 2-2.8 2-.7 2 .8 2-2.4 2-1.2 2 .9 2-3.9 2 5.3 2-2.3 2 1.7 2-4.2 2-1.4 2 4.9 2-6 2 6.7 2-2.2 2 3 2 .6 2-4.1 2-2.8 2 2.4 2-2.7 2-.4 2 4.4 2-2.1 2-.4 2 1.5 2-4.3 2 3.2 2-1.3 2 .9 2-2.4 2 1 2 3.1 2-3.7 2-4.9 2 1.5 2 2.4 2 .3 2 2 2-1.4 2 0 2 3.1 2 0 2-.2 2 1.1 2 .1 2 2.2 2-.8 2 1.9 2-.5 2 1.1 2-3.6 2 2.6 2 2.9 2-2.9 2-.4 2 4.8 2-2.5 2 1.5 2 1.8 2 1.1 2-1.3 2 1 2-7.6 2 4.2 2-.7 2 .4 2-.8 2-.4 2 6.1 2-4.3 2-.8 2 3.1 2-.6 2 .1 2 .7 2-3.9 2 6.5 2-.7 2 .7 2-.6 2-.7M220 510.6l2-2.2 2 1.5 2-6.1 2-2 2 2.8 2 2.9 2-1.9 2 .8 2 4.2 2-1 2 .2 2-2.6 2 1.8 2 4 2 1.6 2-3.8 2-1.8 2-.9 2 .7 2 .2 2-1.5 2 1.4 2-5.9 2 .5 2 .1 2-1.3 2 5.9 2-4.1 2-1.6 2-2 2 1.7 2-2.6 2-2.4 2 5.3 2-2 2-2.4 2-3.5 2 2.7 2-3.1 2-2.9 2 4.2 2-2.2 2 2.9 2-.3 2-.3 2-.1 2-3.6 2 2.7 2-.8 2 1.5 2-2.7 2 3.1 2-.2 2 .5 2-1.4 2-1.6 2 1.3 2-1.3 2-3.1 2 1.3 2 2.3 2-1.1 2 .9 2-1.3 2-1.9 2-3.3 2 5.3 2-3.7 2 .6 2-1.2 2 6.3 2-5 2 5.2 2-1.6 2-1.5 2-.2 2-.8 2 .1 2 0 2-.1 2-.1 2 2.9 2-8.6 2 6 2 .4 2-4.2 2-1.5 2 3.8 2 .9 2-6.1 2 .1 2 .7 2 4.3 2-4.6 2-1.7 2 2.3 2 1 2-2.7 2 3 2 0 2-.6 2-2.1 2 3.5 2-2.3 2 1.9 2-2.1 2 1.6 2 2.9 2-2.9 2 3.1 2 1 2 5.5 2 4.4 2 4.2 2-.2 2 3.2 2 .5 2-.2 2-2.6 2 3.6 2-1.9 2 3.4 1-1.7 1-1.8 1 .5 1 .6 1 3.3 1 1.3 1-.7 1-.7 1-5.1 1-2.5 1 .8 1-1.9 1-4.2 1-12.3 1-9.6 1-7.4 1-12.3 1-11 1-7.8 1-5.2 1-8.1 1-10.1 1-10.1 1-10.4 1-7 1-7.8 1-9.2 1-4.3 1 .9 1 2 1 5.2 1 5.5 1 2.1 1 4 1 4 1 2.6 1 3.7 1 .8 2 9.8 2 2.8 2 7.6 2 2.5 2 9.2 2 5.5 2 8.7 2 .1 2 5 2 .9 2 3.4 2 1 2 7.5 2 1.5 2 2.6 2 2 2 4.1 2 2.2 2 3.6 2-3.3 2 1.5 2 3.5 2 3.2 2 .2 2-1.4 2-2.2 2-1.6 2 2.9 2-.7 2 .5 2-3.1 2-1.7 2 2.7 2-.7 2 1.5 2 7.5 2-4.7 2 6.5 2 1.3 2-1.6 2-3.5 2-.4 2 2.8 2 1.8 2 1.3 2-1.8 2 4.9 2 1.2 2-2.5 2-1 2 3.5 2-.9 2-.5 2 .9 2 .9 2 .7 2 2 2-3 2-1.7 2 2.1 2-1.3 2 1 2 1.1 2 1.8 2 0 2 1.7 2-1.1 2 1.5 2-3.2 2 5.3 2-2.2 2 .6 2-.2 2-3.6 2 1.4 2-2.2 2 2.2 2-2.6 2 4.2 2-1 2 1.8 2 2.1 2-4.5 2 1 2-1.7 2-1.1 2 5 2-3.9 2 .3 2 .4 2-.7 2-2.4 2 1.5 2 .1 2 2.9 2-5.9 2 3.4 2-.6 2 1.4 2-4.2 2 4 2 1.9 2 1.8 2 .1 2-1.2 2 4.7 2 .2 2 .1 2 2.9 2 1.1 2 .7 2 1.2 2-4.5 2 1.1 2-4.2 2 1.4 2-1.8 2-1.1 2-2.6 2 1.5 2-2.1 2 4.1 2-2 2 .7 2-2.4 2-3.2 2 4.8 2-6.3 2 5.1 2-1.3 2 2.7 2 .1 2-1.5 2-2.6 2 2.3 2-2.4 2-1.9 2 6.1 2-4.7 2-.8 2 3.6 2-4.4 2 4 2-3.1 2 .8 2-2 2 .5 2 2.3 2-3.1 2-4.6 2 1.1 2 2.4 2-1.9 2 4.5 2-2.6 2 2.1 2 1.9 2-.1 2 1.6 2-.1 2-2.3 2 6.4 2-.6 2 2.9 2-1.4 2-.8 2-3.8 2 3.9 2 3.5 2-3.5 2-2.3 2 4.3 2-2.1 2 2 2 1.1 2 1.3 2-3.2 2 2.6 2-4.5 2 4.1 2-1.6 2-.4 2 .1 2-.5 2 5.3 2-2.8 2-1.5 2 1.8 2-1.4 2-.4 2 3 2-5.2 2 6.8 2 .7 2 1 2-1 2 .2M220 508.6l2-1.3 2 .2 2-5.4 2-1.3 2 3.1 2 1.6 2-2.1 2 .4 2 5.2 2-1.2 2 1 2-1.9 2 2.2 2 4.6 2 .2 2-4.9 2 .5 2-3 2-.4 2 2.9 2-5.8 2 3.3 2-5.3 2 .5 2 2.3 2-3.2 2 5.7 2-3.1 2-2.4 2-1.4 2 1.7 2-2.5 2-3.1 2 5.6 2-2.9 2-3.2 2 .2 2-.2 2-2.3 2-3 2 4.7 2-2.2 2 1.5 2 1.7 2-2 2 1.7 2-4.2 2 2.7 2-1.5 2 2.6 2-1 2 2.3 2-1.3 2-.2 2 .6 2-2.6 2 1.9 2-2.5 2-3 2 .9 2 .4 2 .1 2 1.6 2-2.3 2-1 2-5 2 6.9 2-3.3 2 .7 2-1.4 2 6.4 2-4.5 2 4.1 2 .5 2-1.9 2-.8 2-1.3 2 .1 2-1.3 2 1.3 2-1.5 2 3.2 2-8.5 2 6.1 2 1 2-5.3 2-.7 2 4.1 2-.7 2-4.6 2 1.9 2-.4 2 4.5 2-3.7 2-3.7 2 2.6 2 1.4 2-1.6 2 3.1 2-1.5 2-1.4 2 0 2 2.7 2-3.3 2 2.6 2-2.3 2 2.8 2 1 2-2.3 2 3.2 2 2.3 2 3.6 2 6.2 2 3.8 2 .4 2 1.3 2 2.4 2-1.9 2-1 2 3 2-2.5 2 4.5 1-1 1-3.4 1 .2 1 1.5 1 2.6 1 1.6 1 0 1-1.3 1-4.8 1-2 1 .6 1-1.8 1-2.7 1-11.5 1-10.3 1-8.4 1-15.7 1-12.4 1-7.1 1-6.5 1-9.5 1-10.8 1-10.7 1-11.6 1-7.8 1-3.9 1-3.2 1 5.9 1 2.6 1 1.3 1 8 1 7.5 1 3.2 1 3 1 3.2 1 3.3 1 3.8 1 1.2 2 10.2 2 2.1 2 9.4 2 2.7 2 8.2 2 6.1 2 6.3 2-.6 2 6.7 2-1.4 2 2.6 2-.2 2 4.5 2-.6 2 1.4 2 .9 2 1.9 2 1.7 2 2.3 2-5.8 2 1.9 2 2.4 2 1.5 2 1 2-.6 2-2.9 2-1.9 2 3.5 2-2.1 2-1 2-1.1 2 .5 2 3.2 2 .8 2 .1 2 7.6 2-4.7 2 6.1 2-1.3 2-1.5 2-3 2-.8 2 4.4 2 3.3 2 1.4 2-1.5 2 3.8 2-.5 2 0 2-1.8 2 1 2-2.1 2 .5 2 2.1 2 1.1 2-.1 2 4.4 2-3.1 2-1.5 2 2.3 2-2.1 2 .9 2-.3 2 .5 2 .1 2 3 2-.8 2 3.3 2-5.2 2 4.4 2-3 2 1.5 2 1.4 2-6.1 2 .9 2-.7 2 2.3 2-4.8 2 5 2-.5 2 .6 2 4.7 2-4.5 2 .4 2-1.7 2 .4 2 3.6 2-3.8 2 1.3 2 .4 2-1.2 2-3.4 2 1.9 2-.4 2 3.6 2-3.1 2 3.1 2-1.7 2 2.7 2-4.5 2 3.2 2 .2 2 1.7 2 .6 2-1.6 2 5.7 2-1.1 2 .8 2 2.5 2 3.8 2-1.7 2 1.4 2-4.9 2 1.8 2-3 2 1.3 2-2.5 2-.3 2-2.2 2 2.4 2-5.3 2 5.5 2-3.3 2 1.6 2-2.8 2-2.9 2 4.5 2-4.9 2 5.2 2-3.6 2 4.7 2-2.3 2-2.2 2-1.3 2 3.3 2-2.6 2-1 2 4 2-2.2 2-1.1 2 3.1 2-5.3 2 3.5 2-3.1 2 .9 2-1.2 2 .3 2 2.7 2-4.7 2-2.1 2 1.8 2 1.1 2 .2 2 1.7 2-1.7 2 1.5 2 2 2-2.1 2 .7 2 1.4 2 .6 2 5.4 2-.5 2 2.4 2-3.1 2-.3 2-3.3 2 3 2 1.7 2-2 2 .3 2 5.8 2-1.9 2 .5 2 2.3 2-.5 2-2.7 2 1.2 2-5.1 2 2.9 2 2.2 2-2.4 2 .2 2-.4 2 6 2-2.6 2-2.7 2 4.9 2-2.5 2-.1 2 2.2 2-3.8 2 5 2 .4 2 1.6 2-1.5 2 .9M220 510.2l2-2.5 2 2.2 2-5.9 2-1.2 2 1.3 2 3.4 2-2.3 2 .7 2 3.6 2 .6 2-.8 2-.6 2 2.4 2 3.7 2-.2 2-3.2 2-2.4 2-2.1 2 1.3 2 1.7 2-3.7 2 2.9 2-4.3 2-.8 2-.1 2 1.3 2 2.8 2-3.3 2-3.2 2-1.6 2 2.9 2-3.7 2-1.1 2 5.1 2-3.4 2-1.5 2-1.7 2 .8 2-3.1 2-1.9 2 4.9 2-2.2 2 2.7 2-.1 2-.9 2 0 2-2.6 2 2.5 2-3 2 3.1 2-1.5 2 .8 2 .9 2-1.1 2 1.3 2-2.2 2-.4 2-1.8 2-1.7 2 .1 2 1.7 2-.4 2-.8 2 .7 2-3.2 2-3.7 2 8.1 2-4.6 2 .6 2 .4 2 3.2 2-3.1 2 3.3 2 1.3 2-3.3 2 .1 2-.3 2 0 2-2.7 2 1.8 2-.6 2 2.2 2-8.2 2 4.7 2 3.4 2-4.6 2-.1 2 .8 2 2.8 2-6.9 2 3 2-1 2 4.3 2-5.3 2-1.9 2 3.2 2 .2 2-1.3 2 1.6 2-.4 2-.6 2-1.8 2 4.5 2-2.9 2 .6 2-1.7 2 2.4 2 2.5 2-3.7 2 2.6 2 3.2 2 4.2 2 4.3 2 5 2 .4 2 2.9 2 .7 2-2.5 2 1.5 2 1.8 2-2.4 2 4.1 1-1.7 1-2.2 1-.4 1 .8 1 3 1 1.5 1 0 1-1.4 1-5 1-1.9 1 1.9 1-.8 1-3.6 1-5.3 1-8.9 1-10.1 1-14.9 1-14.6 1-8.2 1-7.8 1-11.9 1-11.1 1-12.4 1-12.9 1-5.3 1-3.4 1-.6 1 3.3 1 1 1-.4 1 4.6 1 5.4 1 1.2 1 .9 1 3.4 1 2.1 1 1.1 1-.3 2 6.3 2 1.6 2 6.4 2 1.7 2 5.6 2 5.9 2 6 2-1.1 2 5.2 2 .4 2 .4 2 2.3 2 6.3 2 .3 2 2.8 2 2.8 2 3.3 2 4.7 2 3.9 2-1.5 2 4 2 5.9 2 1.4 2 3.9 2-2.2 2-.4 2-.2 2 6.3 2-1 2 1 2-2.6 2-.1 2 2.5 2 .1 2 .8 2 5.9 2-4.2 2 6 2 .9 2-1.5 2-2.4 2-.2 2 2.8 2 4.3 2-1.1 2 .3 2 2.4 2 1.9 2-.8 2-.3 2 1.9 2-1.9 2-.1 2 .9 2 .6 2 .4 2 2 2-1.9 2-1.3 2 3.7 2-.3 2-1 2 .3 2 .2 2-.1 2 .9 2-1.7 2 2.3 2-4.9 2 6.5 2-2.2 2 1.3 2 1.3 2-3.6 2 .9 2-1 2 3.1 2-4.5 2 4.4 2-2.3 2 2.3 2 2.7 2-3.3 2 .9 2-2.8 2 .9 2 3.1 2-3.8 2-1.9 2 3.8 2-1.7 2-3.2 2 1.1 2-.4 2 2.5 2-4.8 2 4.4 2-.1 2 .7 2-3.6 2 3.1 2 1.5 2 2.7 2-1.9 2 .8 2 3.7 2-1.3 2 .8 2 2.3 2 2.2 2-.4 2 1.9 2-4.9 2 .6 2-1.7 2 1 2-1.7 2-1.3 2-1.2 2 .2 2-2.7 2 4.2 2 0 2-1 2-1.6 2-2.4 2 3.9 2-5.1 2 4.3 2-1.9 2 3.6 2-.9 2-2.4 2-2.9 2 1 2-.3 2-2.3 2 2.9 2-.3 2-3 2 2.6 2-2.2 2 4.8 2-3.2 2 1 2-.8 2-1 2 3.2 2-5.2 2-2.7 2 1.1 2 .8 2 1.3 2-.3 2-1 2 1.3 2 3.9 2-.3 2-.6 2 .5 2 .2 2 3.2 2 .4 2 2.7 2-1.2 2 .5 2-2.6 2 2.5 2 3.8 2-4.4 2-.5 2 2.7 2-1.3 2 .5 2 2.4 2-.3 2 .1 2 .2 2-4.4 2 2.8 2 .8 2-.7 2 1.1 2-3.1 2 5.8 2-.7 2-2 2 2.1 2-.8 2-.2 2 1.9 2-4.6 2 6.7 2 .1 2 .1 2-1.5 2 .8M220 505.1l2-.3 2 2 2-6.5 2-1.8 2 2 2 3.5 2-1.1 2 .1 2 4 2-.3 2-1.3 2-.6 2 1.8 2 4.2 2 1.4 2-3.8 2-1.5 2-2.7 2 2.2 2 .3 2-4.6 2 3.4 2-5 2 .1 2 .1 2-.3 2 4.1 2-4.3 2-.9 2-.5 2 2.3 2-5.1 2-1.1 2 4.1 2-4.2 2-1.1 2-2.1 2 3.4 2-3.3 2-3 2 5.3 2-3.7 2 3.7 2 1.3 2-2 2 .4 2-3.6 2 2.2 2-2.6 2 2.6 2-2 2 2 2-.3 2-.1 2 .5 2-2.4 2-.2 2-.4 2-3.3 2 2 2 2.4 2-.5 2 .2 2-1.4 2-3.5 2-2.1 2 5.2 2-3.2 2 1 2-1.8 2 5.6 2-3.9 2 4.9 2 .5 2-3 2-2.1 2 1.6 2-.4 2-1 2-.3 2 .7 2 1.4 2-6.7 2 2.7 2 2.6 2-3.3 2-1.2 2 2.8 2-.3 2-5.1 2 2.6 2-.3 2 3.6 2-4.6 2-2.9 2 4.6 2 0 2-2.2 2 3.2 2 .3 2-1.7 2-1.2 2 2.9 2-2.3 2 .8 2-1 2 2 2 2.9 2-4.4 2 4 2 1.9 2 4 2 5.4 2 4.3 2 1.2 2 1.3 2 2 2-1.4 2-2.5 2 4 2-2.9 2 3.7 1-.3 1-4 1 .6 1 1.5 1 1 1 1.9 1 .1 1-.8 1-3.5 1-3.2 1-.8 1-1.7 1-5.2 1-12 1-9.3 1-7.2 1-12 1-10.8 1-7.2 1-4.5 1-7.7 1-9.6 1-9.4 1-9.7 1-6.7 1-7.5 1-5.3 1 1.4 1 .9 1 0 1 4.9 1 6.3 1 1.7 1 1.9 1 3.5 1 1.6 1 1.8 1 .7 2 5.3 2 1.8 2 6.4 2 1.2 2 7.8 2 5.1 2 4.4 2 .5 2 4.1 2 .3 2 3.9 2 .2 2 6.5 2 1.3 2 .9 2 2 2 3.3 2 3.5 2 4.3 2-2.3 2 3.7 2 3.5 2 2.8 2 2.7 2-1.2 2-2.3 2-1 2 4.3 2-2.4 2 .1 2-1.5 2-1.6 2 2.7 2-.7 2 .5 2 5.5 2-3.6 2 7.4 2 .9 2-.6 2-.8 2-2.9 2 3.1 2 2.6 2 1.9 2-2.1 2 3.8 2 1.7 2-1.3 2-1.7 2 1.8 2-1.3 2-.3 2 .9 2 .7 2-.9 2 2.7 2-1.7 2-1 2 2.8 2-1.9 2 1.8 2 1.2 2 .7 2 .1 2 2.5 2-2 2 2.6 2-5.3 2 5.8 2-3.5 2 2.3 2 2.6 2-6.5 2 2 2-.9 2 1.2 2-4.3 2 3.2 2-.5 2 2.2 2 2 2-3.6 2 1.2 2-.9 2-.8 2 3.3 2-3.6 2 .8 2 2.7 2-1.2 2-2.9 2 .8 2 .1 2 1.7 2-3.2 2 3.5 2-.3 2 .8 2-2.9 2 3.9 2 1.3 2 1 2 .5 2-.5 2 3.2 2-.3 2-.1 2 1.5 2 3.6 2-.1 2 1.6 2-6.5 2 2.3 2-2.5 2 1.9 2-2.3 2-.5 2-3.1 2-.1 2-2.2 2 5.1 2-2.6 2 .1 2-3 2-1 2 4.3 2-5.6 2 7.8 2-3.4 2 2.6 2-.6 2-3.2 2-3.1 2 1.7 2-1 2 .6 2 3.1 2-1.9 2-.5 2 1 2-3.2 2 2 2-1.6 2 .7 2-1.4 2-.1 2 3.3 2-3.6 2-3.2 2 .5 2 2.5 2-.6 2 2.7 2-3.1 2 1.5 2 3.1 2-2.4 2 1.3 2-1.8 2 2.5 2 1.5 2 .8 2 3.6 2-1.9 2-.2 2-3.3 2 3.8 2 2.7 2-2.2 2 .4 2 3.6 2-1 2 .4 2 2.4 2-.2 2-.8 2 .8 2-4.2 2 1.8 2 0 2-1.5 2 1.4 2-2.1 2 7.1 2-2.6 2-1.5 2 3.6 2-3.6 2 .6 2 2.1 2-4.4 2 6.7 2-1.2 2 2.4 2-2.9 2 .8M220 509.2l2-.2 2 .9 2-7.7 2-1.1 2 2.6 2 1.3 2-1.2 2 1.1 2 3.2 2-.2 2 .3 2-.2 2 1.1 2 3.8 2 .9 2-3.6 2-1.6 2-1.6 2 .5 2 1.6 2-3.8 2 2.8 2-4.9 2-1.3 2-.2 2-.4 2 5.8 2-3.4 2-2.7 2-1.8 2 3.2 2-3.3 2-2.2 2 4.6 2-3.8 2-1.4 2-1.9 2 1.3 2-2.9 2-2.6 2 4.9 2-3.8 2 3.5 2 .9 2-1.9 2 .9 2-3.1 2 2.3 2-1.9 2 2.4 2-1.2 2 1.4 2-.7 2 .2 2 .1 2-2.4 2 .9 2-2.1 2-2.7 2 2 2 2.5 2-.8 2-.5 2-1.3 2-2 2-3.3 2 7.2 2-3.9 2 .7 2 0 2 4.1 2-5.4 2 4.4 2 1.5 2-3.6 2-2.4 2 2.4 2-.7 2-1.2 2 1.8 2-.3 2 1.4 2-7.5 2 4.7 2 2.9 2-4.6 2-1.3 2 2.3 2 1.5 2-5 2 1 2 .2 2 4.2 2-6 2-2.5 2 3.9 2 .4 2-2.7 2 3.2 2-.6 2 .7 2-1.4 2 2 2-2.3 2 2 2-2.6 2 2.3 2 2.5 2-2.2 2 3.2 2 1.4 2 3.4 2 5.3 2 2.2 2 2.3 2 1.9 2 1.9 2-1 2-2.3 2 3.9 2-3.3 2 5.2 1-1.6 1-4.2 1 .5 1 2.3 1 1.7 1 1.1 1 .7 1-.3 1-3.9 1-2.4 1 .3 1-1.6 1-2.4 1-6.8 1-8.9 1-6.4 1-11.6 1-10.7 1-5.7 1-4.1 1-8.4 1-7.5 1-9 1-9.2 1-4.5 1-7 1-10.2 1-6.7 1-4.2 1-1.4 1 5.7 1 7.2 1 2.9 1 2.6 1 3.4 1 4 1 4.2 1 .7 2 10.3 2 3.7 2 7.5 2 4.3 2 7.8 2 4.7 2 6.6 2 1.2 2 5 2 1.1 2 .6 2 .4 2 6.1 2-.2 2 .3 2 1.6 2 2.6 2 2.1 2 2.3 2-4.3 2-.4 2 3.4 2 2.6 2-.1 2-1.3 2-2.1 2-.2 2 3 2-3.8 2 .9 2-2.2 2-.6 2 3 2 .2 2 1.2 2 6.3 2-3.7 2 5.6 2-2.2 2-.2 2-2.9 2-.3 2 3.4 2 2.5 2 2.6 2-1.3 2 3.8 2 .9 2-1.1 2-1.2 2 1.1 2-2.8 2 1.5 2 1.7 2 .5 2-1.1 2 1.5 2-1.7 2-1.7 2 3.7 2-1 2 .7 2 1.6 2 1.1 2-.3 2 .6 2-.1 2 2.2 2-4.9 2 5.2 2-2.5 2 2.5 2 .2 2-3.8 2 1.6 2-1.7 2 2.3 2-5.6 2 5 2-.7 2 1.2 2 2.5 2-5.2 2 2.5 2-1.8 2-.1 2 4.2 2-5 2 2.3 2 2 2-1.5 2-3.3 2 1.8 2-.1 2 1.5 2-4 2 3.7 2-1.9 2 3.4 2-4.2 2 3.2 2 1.6 2 2.1 2-1.7 2-.1 2 3.3 2 0 2 .6 2 1.9 2 2.8 2-.2 2 1.2 2-4.2 2 1.1 2-4.8 2 1.9 2-.1 2-1.1 2-2 2 1.1 2-2.9 2 3.6 2-1.5 2 .1 2-4 2 .6 2 3.4 2-5.9 2 7.2 2-3.3 2 3.2 2 .9 2-2.5 2-4 2 3 2-3 2-.8 2 3.2 2-1.3 2-.4 2 2 2-5.6 2 4.5 2-3.5 2 1 2-1.9 2 1.6 2 2.5 2-4.5 2-3 2 1.6 2 1.9 2 .3 2 .8 2-1.4 2 1 2 1.3 2-1.5 2 2.9 2 .3 2 .6 2 2.5 2 1 2 1.6 2-1.4 2 .9 2-2.6 2 2.2 2 1.4 2-3 2 .8 2 2.4 2-.2 2 1.5 2 .7 2-.8 2 .1 2 .5 2-4.4 2 4.2 2-1.4 2-.8 2 1.2 2-2.3 2 7.7 2-2.8 2-1.9 2 3.7 2-3.7 2 2 2 1.5 2-3.5 2 5.1 2-.1 2 1.1 2 .5 2-2M220 505.3l2-1.2 2 3.1 2-6.4 2-2.7 2 3.4 2 2.5 2-1.6 2 .6 2 4.4 2-1.6 2 .7 2-1.7 2 2 2 5.3 2-.9 2-3.8 2-1.3 2-1.3 2 .8 2 1.4 2-4.6 2 3.8 2-4.4 2-1.9 2 .9 2-.3 2 5.2 2-3.3 2-2.2 2-1.9 2 2.3 2-4 2-1.7 2 4.8 2-2.5 2-2.7 2-2.2 2 2.3 2-1.5 2-4.3 2 5.8 2-2.4 2 1.5 2 .4 2-1 2 1.8 2-5.1 2 3.1 2-2.6 2 2.9 2-2.2 2 1.8 2-.2 2 1 2 .3 2-3.8 2-.2 2-.5 2-2.5 2 1.6 2 1.3 2 .2 2-.1 2-.3 2-3.2 2-2.6 2 6.6 2-4.6 2 .8 2-1.1 2 3.4 2-2.2 2 4.6 2 .4 2-3.2 2-1.3 2-.3 2 2.1 2-3.4 2 1.3 2-.7 2 2.4 2-8.5 2 6.6 2 1.7 2-4.7 2-1.5 2 3.9 2 1.2 2-8 2 2.3 2-.6 2 2.9 2-3.3 2-3 2 3.6 2 .3 2-.6 2 2.3 2 0 2-.5 2-1.2 2 2.7 2-2.1 2 1 2-2.2 2 2.8 2 1.4 2-1.9 2 3.2 2 2 2 2.8 2 4.5 2 5.5 2 1.5 2 1.2 2 2 2 .5 2-1.8 2 2.7 2-3.1 2 3.7 1-1.3 1-2.8 1 .4 1 .7 1 1.3 1 1 1 1.4 1-.9 1-4.9 1-1.1 1 .4 1-1.8 1-2.5 1-10.2 1-7.6 1-6.5 1-11.1 1-9.8 1-6.6 1-3.7 1-6.9 1-8.3 1-7.7 1-8 1-4.2 1-6.8 1-9.9 1-5.9 1-4.9 1-.5 1 7 1 6.9 1 1.3 1 3.6 1 3.9 1 2.8 1 3.7 1 .5 2 9 2 3.6 2 7.2 2 4.9 2 8 2 6.4 2 6.2 2-.7 2 6.5 2-.6 2 4 2-.1 2 6.2 2-.6 2-.2 2 .3 2 .8 2 1.5 2 1.3 2-5.1 2 .9 2 3.8 2 1.2 2 1.9 2-2 2-2.8 2-.8 2 1.8 2-.7 2-.6 2-1.8 2-1.4 2 2.1 2 .9 2-.7 2 7.1 2-3.5 2 6.7 2-.9 2-1.6 2-.5 2-.9 2 4.1 2 2.1 2 1.9 2-2.9 2 4.8 2-.2 2-.6 2 1.2 2-.9 2-2.8 2 1.1 2 1.5 2-.6 2 .8 2 1.4 2-3.2 2 .8 2 1.3 2-.9 2 1.6 2 1.5 2 1.6 2 .6 2 1 2-.2 2 1 2-4.9 2 4.6 2-1.7 2 2.2 2 .9 2-5.3 2 .6 2-.4 2 3.9 2-5.1 2 4 2-.6 2 1.1 2 1.3 2-3.6 2 2.3 2-2.8 2 1 2 2.4 2-4.5 2 .8 2 3.8 2-1.2 2-2.8 2 1.7 2-.9 2 2.9 2-4.1 2 3.5 2-1.3 2 3.1 2-3.2 2 2.2 2 .6 2 2.2 2-1.1 2 0 2 4.5 2-1.1 2-1.2 2 3.7 2 2.3 2-.5 2 2.1 2-5.4 2 1.4 2-3.1 2-.5 2 .4 2-1.9 2-2 2 2.1 2-3.6 2 4.8 2-2 2-.4 2-2.7 2-1 2 3 2-5.7 2 8.3 2-3.4 2 3.3 2 0 2-2.7 2-4.2 2 2.1 2-1.5 2-.7 2 3.9 2-2.1 2-1.3 2 2.8 2-4.3 2 3.1 2-2.5 2 2 2-2.6 2 .6 2 3.6 2-4.3 2-3.7 2 2.4 2 .2 2-.5 2 2.1 2-1.8 2 2.8 2 2 2-2.8 2 1.4 2-.1 2 .4 2 2.8 2 .6 2 2.3 2-1.8 2 .3 2-1.8 2 3.7 2 1.9 2-3.4 2-.2 2 3.6 2-1 2 1.2 2 1.2 2 .4 2-1 2-.5 2-4.5 2 4.7 2-.4 2-2.8 2 3.5 2-2.9 2 7.2 2-2.5 2-1.9 2 3.5 2-2.7 2 1.4 2 .8 2-4.2 2 7.6 2-2.6 2 2.9 2-1 2 1.4M220 505.9l2-1.9 2 1.9 2-4.8 2-2.2 2 1.9 2 3.1 2-1.5 2 0 2 5.8 2-1.3 2 .6 2-1.1 2 .6 2 4.2 2 .4 2-4.4 2-2.1 2-.9 2 .3 2 1.8 2-4 2 4.9 2-5.6 2-.9 2 .3 2-.6 2 4.5 2-3.9 2-1.9 2-2.8 2 .5 2-.7 2-2 2 5.1 2-4.1 2-.9 2-1 2 .8 2-3.5 2-2.4 2 4.4 2-2.5 2 3.1 2 .5 2-2.3 2 2.1 2-3.3 2 1.9 2-1.9 2 2.3 2-1 2 1.8 2-.4 2 .3 2-.8 2-3.4 2 .5 2-.4 2-2.8 2 3.1 2 .9 2 .3 2-1.2 2-1.8 2-1.3 2-4 2 7 2-3.2 2 1.5 2-2.2 2 5.4 2-5.3 2 3.9 2 1.3 2-1.1 2-2.9 2 2 2-.7 2-2 2 1.8 2-.3 2 1 2-8 2 6.3 2 .3 2-2.6 2-2.4 2 2.4 2 2.2 2-5.9 2 1.6 2-1 2 5.1 2-5.1 2-2.8 2 3.2 2 .4 2-1.6 2 3.3 2 .1 2-1.6 2-1.7 2 3.6 2-.4 2-.9 2-3 2 2.9 2 2.7 2-2 2 3 2 .4 2 4.5 2 4 2 6.3 2-.7 2 3.1 2 1.1 2-.4 2-2.4 2 3.2 2-2.6 2 6.4 1-2 1-3.9 1 .3 1 .8 1 3.1 1 2.7 1-.3 1-2.3 1-4.8 1-2.2 1 .3 1-2.2 1-3.9 1-11.1 1-8.9 1-6.7 1-11.2 1-10.4 1-6.8 1-4.4 1-6.7 1-6.8 1-9.2 1-10.1 1-4.7 1-5.9 1-5.9 1-.8 1 2.1 1 1.4 1 4.6 1 5.7 1 1.1 1 2.5 1 3.7 1 1.6 1 1.2 1 .7 2 8.2 2 3.2 2 5.5 2 2.3 2 6.2 2 4.5 2 6 2-1.1 2 4.6 2 .8 2 .2 2 .9 2 5.8 2-.1 2 2.7 2 1 2 3 2 1.2 2 4.1 2-3.2 2 4 2 3.6 2 1.3 2 1.7 2-1 2-4.3 2-2.5 2 2.1 2-2.2 2-.4 2-2.3 2 .3 2 3.5 2-1.9 2 3 2 6.5 2-2.8 2 6.9 2-1.8 2-1.7 2-3.4 2-.2 2 4.8 2 2.3 2 2.5 2-.6 2 3.5 2-.5 2 .5 2-1.7 2-.8 2-.9 2-.5 2 1.3 2 .9 2 .2 2 3.4 2-2.9 2-1.9 2 3.7 2-.9 2-.1 2 1.8 2 1.5 2 .2 2-.2 2-.4 2 .9 2-5.5 2 4.1 2-2.4 2 3.2 2 .3 2-3.8 2 1.9 2-1.1 2 3.4 2-3.3 2 3.6 2-2.5 2 2.2 2 2.2 2-4.2 2 1.1 2-2.2 2-.1 2 4.3 2-3.5 2 0 2 2.4 2-.4 2-4.3 2 2.7 2-1.9 2 3.6 2-5.2 2 4.1 2-1.8 2 3.3 2-4.6 2 3.4 2 .7 2 2.5 2 .3 2-1 2 5.3 2-1.4 2-.4 2 2.7 2 2.2 2 .2 2 2.3 2-5.8 2 1 2-3.2 2 .9 2-1.9 2-.3 2-2.5 2 1.5 2-3.2 2 4.8 2-1.9 2-.5 2-2.7 2-1.8 2 5.2 2-6.4 2 6.4 2-3.1 2 3.8 2 .4 2-3.9 2-2.2 2 3.5 2-4.2 2 1.8 2 3.4 2-2.9 2-.1 2 2.6 2-4.9 2 3.9 2-2.4 2 .8 2-3 2 1.4 2 2.7 2-5.2 2-3.6 2 2.2 2 1.2 2 .1 2 2.3 2-1.8 2 .9 2 2.6 2-2 2 2.2 2 .5 2-.9 2 4.2 2 .5 2 2.1 2-1.6 2-.5 2-3 2 3.7 2 4 2-4.1 2 1.7 2 3.4 2-1.9 2-1 2 2.7 2-.6 2-.4 2-.9 2-4.3 2 4.8 2-1.4 2-.1 2 1.1 2-2.3 2 4.9 2-.8 2-1.9 2 2.4 2-.5 2 .5 2 2.6 2-4.8 2 6.7 2-1.8 2 2 2-2.1 2 1.2M220 506l2-1.3 2 1.5 2-5.3 2-1.6 2 2.4 2 1.6 2-.4 2-.9 2 5.2 2 .1 2 0 2-1.9 2 1.1 2 4.5 2 .6 2-3 2-2.5 2-.4 2 .8 2 .9 2-4.4 2 2.9 2-5.4 2-.7 2 1.4 2-.4 2 4.8 2-3.6 2-2 2-.9 2 1.4 2-4.5 2-1.8 2 5 2-2.2 2-3.7 2-.5 2 .8 2-2.8 2-1.7 2 4.7 2-3.7 2 3 2 .6 2-.8 2 1.5 2-4.3 2 3.2 2-2.9 2 3.2 2-2.2 2 1.1 2 .6 2-.2 2 .9 2-4.3 2 2.7 2-2.4 2-1.9 2 .5 2 1.5 2 .5 2 .5 2-1.8 2-2.6 2-2.4 2 6.3 2-3 2-.6 2-.4 2 5.9 2-5.1 2 4.7 2-1.1 2-2 2-2 2 1.3 2 .9 2-2.1 2 .5 2-1.2 2 3.1 2-8.2 2 5.5 2 1.2 2-2.8 2-2.8 2 4.3 2 .5 2-5.4 2 .8 2-.4 2 4.2 2-4.3 2-2.4 2 2.3 2 .6 2-2.9 2 5.4 2-2.6 2 0 2-.5 2 3.1 2-3 2 2.6 2-3.2 2 2.2 2 2.4 2-1.7 2 2 2 2.8 2 2.7 2 5.7 2 2.6 2 1.7 2 3.5 2 1.7 2-1.3 2-2.1 2 2 2-2 2 4.9 1-1.4 1-3.2 1 .2 1 2.3 1 1.6 1 .7 1 .5 1-1.3 1-4.3 1-1.3 1 .8 1-1.3 1-2.7 1-7.4 1-8.9 1-7.7 1-13.1 1-11.5 1-6.6 1-5.8 1-8.7 1-8.7 1-10.5 1-11.4 1-5.6 1-2.8 1-.7 1 3.4 1 1.4 1 .2 1 5.5 1 5.8 1-.2 1 2.4 1 4.4 1 1.7 1 2.3 1-1.4 2 8.2 2 .9 2 4.8 2 2.4 2 6.1 2 3.6 2 6.5 2-1.4 2 4.5 2-.9 2 2.7 2 .1 2 7 2-2.1 2 1.1 2 2.8 2 2 2 2.5 2 4 2-5.8 2 4.6 2 3.9 2 .6 2 1.2 2-.8 2-3 2-1.4 2 4.4 2-2 2-.3 2-2.7 2 .9 2 1.8 2 .4 2 .6 2 6.4 2-4.5 2 8 2-.1 2-1.1 2-2 2-2.5 2 3 2 3 2 1.9 2-2.7 2 2.9 2 2.2 2-.3 2-1.3 2 1.9 2-1.5 2-1.4 2 1.2 2 1.1 2-.8 2 2.1 2-2 2-1.9 2 1.7 2 .5 2 1.2 2 1.7 2 .1 2 .6 2 2.8 2-1.6 2 2.9 2-4.6 2 2.4 2-1.7 2 2.4 2 .1 2-4 2 2.5 2-1.1 2 3 2-2.9 2 4.4 2-2.7 2 1.7 2 1.8 2-3.8 2 .4 2-2.6 2 .9 2 2.4 2-4.1 2 1.7 2 2.2 2-3.5 2-1.5 2 .6 2-.5 2 3.3 2-5.1 2 3.9 2-.7 2 1.8 2-2.7 2 3.5 2 2.2 2 1.7 2-.9 2-.6 2 3.4 2-1.1 2-.1 2 5.6 2 1.7 2-.2 2 1.8 2-7.3 2-.3 2-2.6 2 3 2-.9 2-1.7 2-1.6 2 1.3 2-3.2 2 3.4 2-1.1 2 .9 2-3.4 2-1.2 2 3.1 2-5.7 2 5.9 2-2.2 2 3.1 2 .6 2-3.7 2-1.7 2 2.6 2-1.4 2-1.2 2 4.3 2-3.1 2-1.2 2 2.7 2-4.9 2 4.2 2-3.6 2 1.5 2-2.1 2 0 2 2.8 2-3.7 2-4.4 2 1.2 2 1.7 2-.7 2 2.8 2-1.8 2 1.6 2 3 2-.2 2 1.2 2 .7 2-2 2 1.9 2 1.6 2 2 2 .2 2-.8 2-2.3 2 4 2 2.4 2-1.5 2-.6 2 3.6 2-2.9 2 1 2 1.3 2-.7 2 .1 2-.5 2-4 2 4.7 2-.5 2-1.9 2 1.5 2-1.6 2 4.9 2-1.3 2-2.5 2 3.1 2-.2 2 .4 2 2.8 2-4.9 2 6.3 2-.7 2 1.4 2-2.3 2 1.1M220 506.7l2-1.6 2 3.1 2-5.8 2-1.1 2 1.4 2 3.4 2-3.1 2 1 2 5.4 2-1 2-.6 2-1.5 2 .1 2 5.6 2 .2 2-4.4 2 .2 2-2.5 2 1.7 2 2.3 2-4.9 2 1.9 2-3.8 2-.7 2 .2 2-.9 2 5.1 2-4.1 2-1.5 2-1.1 2 .8 2-2.3 2-2.2 2 3.8 2-1.3 2-1.9 2-2.4 2 1.7 2-2.7 2-3.4 2 4.8 2-1.3 2 1.9 2-.4 2-.9 2 0 2-2.6 2 1.7 2-2.7 2 2.9 2-.7 2 1.5 2 .4 2-.2 2 .6 2-2.6 2-.3 2-.9 2-2.5 2 2.1 2 .8 2 1.4 2-1.6 2-1.3 2-2.4 2-4 2 6.6 2-3.4 2 2.8 2-1.3 2 3.8 2-4.4 2 5.3 2-.6 2-2.4 2-2 2 1.2 2-.4 2-1.1 2 .1 2-1 2 3.9 2-9.1 2 5.9 2 2.4 2-3.8 2-.7 2 1.4 2 1.4 2-5 2 1 2-.8 2 3.7 2-3.6 2-4.3 2 4.5 2 .3 2-1.4 2 2.2 2 .2 2-.3 2-1.5 2 3.2 2-2.1 2 .7 2-2.4 2 2.3 2 3 2-2.9 2 1.5 2 2.9 2 3.6 2 5.1 2 4.3 2 .8 2 2.7 2 .8 2-1.9 2-1 2 3.8 2-2.1 2 4.1 1-1.8 1-2.7 1-.2 1 1.9 1 2.5 1 1.1 1-.2 1-.6 1-4.5 1-2.3 1 1.7 1-1.9 1-2.3 1-5.6 1-7.4 1-6.2 1-12.3 1-10.4 1-6.3 1-5 1-8.2 1-8.3 1-8.4 1-10.3 1-7.3 1-6.2 1-4.4 1 .2 1 1.4 1-.3 1 4.9 1 6.6 1 .8 1 1.8 1 3.4 1 1 1 .7 1-.2 2 9 2 .8 2 5 2 .6 2 7.3 2 5.6 2 5.6 2-1.8 2 4.7 2 .6 2 .2 2 .8 2 7.7 2-1.1 2 .4 2 3.3 2 3 2 3.7 2 1.1 2-2 2 2.3 2 3.4 2 1.7 2 .4 2-2.1 2-1.6 2-1.5 2 1.6 2-1.4 2 1 2-1.6 2-.6 2 2.7 2 1.2 2 .4 2 6.7 2-4.7 2 7.3 2-.2 2-1.5 2-2.9 2-.5 2 2.6 2 3.2 2 .3 2-1.4 2 3.3 2 1.4 2-.8 2 .3 2 1.8 2-4.3 2 1.8 2 0 2 1 2 .5 2 2.5 2-2.3 2-2.4 2 3.1 2 .1 2-.2 2 1.4 2 .1 2 .5 2 2.5 2-1.7 2 2.3 2-4.7 2 4.5 2-1.4 2 1.6 2 .4 2-5.4 2 2.3 2-1.6 2 5 2-5 2 3.9 2-3.4 2 .5 2 4.9 2-5.6 2 1.4 2-.4 2-1.7 2 4.1 2-3.1 2 1.6 2 2 2-2.3 2-2.6 2 .9 2-1 2 3.1 2-3.6 2 3.5 2-1.3 2 2.6 2-5.5 2 3.1 2-.6 2 4.7 2-.6 2-.7 2 5.4 2-.2 2 .6 2 2.4 2 1.9 2-.9 2 1.8 2-3.2 2-1 2-1.9 2 .8 2-3.4 2-1.6 2-1.2 2 2.3 2-5 2 7.5 2-2.7 2 .2 2-1.6 2-1.5 2 3 2-5.2 2 6 2-3.7 2 4.5 2-1.9 2-3.4 2-3.1 2 2.4 2-1.7 2-1.5 2 5.6 2-1.4 2-.2 2 2.2 2-2.9 2 2.1 2-2.6 2 1.3 2-2.5 2 1.5 2 1.9 2-5.2 2-2.8 2 1.4 2 1.1 2-.2 2 2.7 2-1.7 2 1.2 2 2.5 2-.4 2-.5 2 .8 2-.9 2 4.8 2 1.2 2 2.5 2-2.1 2 .9 2-3.7 2 1.8 2 2.8 2-1.4 2-.3 2 2.7 2-1 2-.3 2 .7 2 .2 2-1.4 2 .8 2-5.7 2 4.7 2-1.1 2-.4 2 2.1 2-2.4 2 6.8 2-1.8 2-1.5 2 2.5 2-.8 2-.4 2 2.3 2-4.9 2 6.5 2-.4 2 1.4 2-1.4 2 .9M220 507.5l2-1 2 1.8 2-7 2-.1 2 2.5 2 .8 2-.3 2-.8 2 4.5 2-1 2 1.4 2-2.3 2 2.7 2 3.9 2 .9 2-3.8 2-2.2 2-1.6 2 .6 2 .8 2-2.3 2 2.7 2-5.1 2 .3 2-.1 2-1.3 2 4.3 2-4.2 2-.3 2-1.4 2 1.4 2-3.1 2-2.5 2 4.8 2-2.5 2-2.4 2-.8 2 .5 2-2.6 2-1.9 2 3.5 2-1.5 2 2.3 2 0 2-.1 2-.5 2-2.5 2 1.5 2-1.7 2 4.1 2-3.3 2 1.5 2 .5 2-1.6 2-.1 2-1.5 2 1.1 2-1.6 2-1.1 2 .1 2 2.2 2 .1 2-1.2 2 .3 2-2.6 2-4.3 2 5.4 2-3.5 2 1.6 2-.1 2 4.5 2-3.2 2 5.3 2 .1 2-3.6 2-1.3 2-.4 2-.1 2-2 2 1.9 2-1.7 2 2.4 2-7.3 2 5.2 2 .4 2-2.7 2-1.5 2 3.7 2 .5 2-6.1 2 2.6 2-.5 2 4.1 2-5.4 2-3 2 3.3 2 2 2-1.7 2 1.3 2 1.7 2-2.2 2-.7 2 3.8 2-3.2 2 1.3 2-3.3 2 1.9 2 3.5 2-1.5 2 .5 2 2.2 2 4.9 2 3.4 2 4.8 2 1.8 2 1.8 2 2 2-.1 2-3.3 2 3.5 2-1.6 2 3.9 1-1.5 1-2.7 1 .1 1 .1 1 2.8 1 2.7 1-.3 1-1.9 1-4.7 1-1.8 1 1.6 1-.6 1-3.4 1-6.4 1-7 1-6.6 1-11.9 1-10.1 1-6.7 1-5.1 1-7.4 1-8.6 1-8.8 1-10.3 1-6.6 1-3.4 1-4.6 1 2.5 1 .3 1-1 1 3.5 1 4.4 1 1.2 1 1.5 1 2.3 1 1.5 1 2.1 1 .2 2 7.4 2-.4 2 4.2 2 .9 2 6.5 2 4.7 2 5 2-1.1 2 3.8 2 0 2 1.9 2 .4 2 6.3 2 .8 2 1 2 2.8 2 3.5 2 2.9 2 5.5 2-4.6 2 3.8 2 4.7 2 2.4 2 .7 2-1.4 2-3.9 2-1.4 2 3.7 2-1.9 2-.3 2-.8 2 .3 2 2.3 2 1.1 2 .4 2 6.6 2-3 2 5.3 2 .6 2-3.6 2-2.9 2-1 2 2.3 2 2.7 2 3 2-3.8 2 3.7 2 1.4 2 1.3 2-.9 2 2.2 2-1.4 2 .3 2-.4 2 .3 2 .7 2 2.4 2-2.3 2-1.9 2 3 2-1.6 2 2.4 2 .3 2 .5 2 .4 2 2.3 2-1.8 2 .3 2-4.3 2 5.4 2-2.3 2 1.8 2 .6 2-5.5 2 1.5 2-1 2 4.2 2-3.9 2 4.1 2-1.8 2 1 2 2 2-3.8 2 1.1 2-.9 2-.7 2 4.5 2-3.9 2 .6 2 1.5 2-1.7 2-4.6 2 1.7 2 .3 2 2.6 2-3.8 2 3.6 2-1.5 2 3.8 2-2.8 2 2.2 2-.4 2 2 2-.2 2-1.2 2 4.9 2 .3 2-.1 2 2.5 2 2.8 2-.1 2 1.1 2-4.9 2 1 2-2.1 2 .8 2-.9 2-1 2-2.4 2-.7 2-2.9 2 3.2 2-.1 2 .9 2-2.9 2-1.3 2 3 2-5.6 2 7 2-2.3 2 3.4 2-1.1 2-3.9 2-2.6 2 2 2-1.6 2 .2 2 5 2-2.5 2-1.5 2 2.6 2-4.6 2 3.2 2-3.1 2 .9 2-1.2 2 1.7 2 .8 2-4.6 2-2.7 2 1.6 2 2.7 2-.6 2 2.9 2-1.5 2 .9 2 1.1 2 .5 2 .9 2-1.3 2 .5 2 2.4 2 .2 2 2 2-1.4 2 1.5 2-1.3 2 1.6 2 2.8 2-3.3 2-1.2 2 3.3 2-.7 2 1.2 2 1 2 .3 2-.4 2 .5 2-5.2 2 3.5 2 .1 2-1 2 1 2-1.9 2 5.9 2-3 2 0 2 2.4 2-1.8 2 0 2 2.2 2-3.8 2 6.2 2 0 2 2.5 2-2.4 2 .7M220 506.2l2-.3 2 1.3 2-6 2-1.5 2 2 2 1.3 2-.5 2 .2 2 4.2 2-1.4 2-.1 2-.6 2 1.8 2 3.1 2 3.3 2-5.3 2-.7 2-2.5 2 0 2 3.1 2-3.9 2 2 2-4.1 2 .3 2-.8 2-.3 2 4.9 2-4.6 2-1.4 2-2 2 2.6 2-2.2 2-3.2 2 5.6 2-3.5 2-2.6 2-2.8 2 2.6 2-3.2 2-1.6 2 4.6 2-3.3 2 2.2 2 .2 2-.3 2 .6 2-3.9 2 2.2 2-2.3 2 4.9 2-2.5 2 1.9 2-1 2-.5 2 .9 2-1.4 2-.8 2-1.2 2-2.9 2 1 2 2 2-.3 2-.7 2-.5 2-3.2 2-3.4 2 8 2-3 2 1.8 2-2.5 2 5.9 2-4.7 2 5.1 2-.3 2-3.5 2-.9 2 .4 2 1.1 2-1.2 2 .1 2-1.4 2 2.7 2-8.5 2 6.2 2-.1 2-2.8 2-.8 2 3.6 2-.4 2-5 2 .9 2 .7 2 3.9 2-4.4 2-3.6 2 3.8 2-.2 2-3.4 2 4.5 2 0 2-1.8 2-.8 2 2.9 2-2.4 2 2.1 2-2.5 2 1.8 2 2.1 2-3.3 2 3.6 2 2.8 2 4.1 2 5.6 2 4.2 2 .3 2 2.2 2 1.4 2-1.1 2-1.1 2 2.5 2-2.2 2 4.9 1-1.1 1-3.3 1-.3 1 .9 1 2.6 1 2.2 1 .1 1-2 1-5.5 1-2.3 1 2.1 1-.4 1-3.7 1-5.3 1-3.6 1-5.3 1-12 1-9.4 1-4.2 1-3.7 1-6.5 1-7.1 1-7.1 1-8.1 1-5.3 1-5.8 1-8.8 1-4.5 1-4.4 1-.3 1 3.8 1 4.1 1 0 1 1 1 2.4 1 .3 1 .8 1-.4 2 6.4 2-.4 2 4.5 2 1.2 2 4.5 2 4.8 2 5.4 2-1 2 3.9 2-1.7 2 2.8 2-1.3 2 7 2-2.8 2 2.9 2 1.8 2 3.7 2 3.7 2 5.6 2-3.7 2 4.6 2 4.4 2 1.2 2 2.5 2 .7 2-.2 2-1.1 2 3 2-2.2 2-.9 2-1.5 2 .7 2 3.2 2-.9 2 1.3 2 8.3 2-4.2 2 6 2 1.1 2-1.6 2-2.4 2-2.2 2 3.2 2 3.6 2 .9 2-2.1 2 4.4 2 .9 2-2.8 2 1.5 2 1.1 2-3.2 2 1.6 2 1.3 2 0 2 .9 2 1.1 2-2.9 2-1.3 2 3.5 2-2.5 2 .2 2 1.3 2 1.4 2 .2 2 1.7 2 .1 2 1.7 2-4.4 2 4.8 2-2.4 2 2 2 1 2-4.9 2 1.8 2-1.9 2 2.5 2-6 2 5.4 2 0 2 .6 2 1.7 2-4.3 2 2.3 2-1.9 2-1.2 2 4.6 2-3.2 2 0 2 3.3 2-1.2 2-3.9 2 2.3 2-.8 2 3.1 2-4.3 2 3.6 2-1.6 2 3 2-3 2 4.9 2 .6 2 2 2-.4 2-2.5 2 5 2-1.3 2-.8 2 2.5 2 2.7 2 0 2 1.3 2-5.8 2 1.1 2-2.2 2 1.8 2-1.4 2-1.8 2-1.4 2 1.6 2-4 2 5.7 2-1.6 2-.5 2-2.3 2-2.1 2 2.2 2-5.2 2 6 2-3.7 2 3.8 2 .6 2-2.6 2-1.8 2 2.6 2-2.1 2-.4 2 3.3 2-.9 2-1.9 2 1.6 2-5.9 2 3.9 2-2 2 1.9 2-1.7 2 0 2 3 2-4.9 2-3.1 2 1.4 2 .8 2-.1 2 2.4 2-3.2 2 2.5 2 2 2 .8 2 1.4 2 .9 2-1.1 2 3.1 2 0 2 2.3 2-1.1 2 1.6 2-3.3 2 2.6 2 1.6 2-3.2 2-.9 2 4.6 2-1 2 .8 2 1 2 .8 2-2.5 2 .7 2-5.9 2 6.2 2-.9 2-.3 2 1.1 2-1.6 2 5.4 2-1.7 2-1.2 2 2.2 2-1.2 2-1 2 1.8 2-3.9 2 6.3 2 .1 2 1.6 2-1 2 1M220 505.6l2-.1 2-.3 2-5.1 2-1.8 2 1.7 2 2.2 2-.9 2-.5 2 5.1 2 .1 2-.2 2-.6 2 1.5 2 4 2 .9 2-3.8 2-1.3 2-3.2 2 .7 2 1.5 2-2.6 2 2.4 2-4.4 2-1.2 2 .5 2-.2 2 5.2 2-4.6 2-1.3 2-1.6 2 1.7 2-2.7 2-2.8 2 4.9 2-2.9 2-2.1 2-1.2 2 .2 2-1.1 2-3.8 2 4.3 2-1.7 2 2.1 2 .5 2-1 2 2 2-4.3 2 2.1 2-1.5 2 2.7 2-2.7 2 1.3 2 1.7 2-.7 2-.8 2-3.1 2 2.5 2-2.2 2-2.1 2 .5 2 1.7 2 .3 2 .4 2-2.9 2-2.6 2-2.8 2 5.3 2-1.5 2 .7 2-1.2 2 4.8 2-4 2 3.2 2 1.3 2-1.9 2-1.6 2 1.8 2 .1 2-3.1 2 1.8 2-1.6 2 2.2 2-7.9 2 5.5 2 1.3 2-4.5 2 0 2 2.8 2 .9 2-4.9 2 1.4 2 .3 2 3.9 2-5.7 2-3.2 2 3.7 2 .7 2-1.1 2 2 2 .2 2-1.1 2-1.5 2 2.5 2-1.6 2 1.4 2-1.9 2 2.2 2 2 2-2 2 2.1 2 2 2 4.1 2 4.9 2 4.1 2 1.1 2 1.7 2 3.1 2-1.2 2-2.4 2 2.3 2-1.9 2 4 1-1.1 1-2.4 1 .7 1 .5 1 1.7 1 1.2 1 1.1 1-1.4 1-5 1-1.7 1 .3 1-1.4 1-5.2 1-10 1-6.9 1-4.2 1-9.9 1-8.5 1-4.2 1-2.9 1-6 1-5.7 1-6.3 1-8.1 1-3.9 1-4.6 1-7.6 1-3.8 1-2.6 1-.3 1 3.7 1 5 1 .8 1 2.7 1 2.8 1 1.4 1 2 1-.2 2 6.7 2 0 2 5.5 2 .3 2 6.3 2 4.1 2 5.2 2 .2 2 2.7 2 .3 2-.8 2 1.1 2 6.2 2-.9 2 .4 2 2 2 3.2 2 2.5 2 4.8 2-3.8 2 2.2 2 3.5 2 2.9 2 1 2-.6 2-3 2 .7 2 4 2-3.7 2 .6 2-2.5 2 .3 2 2.5 2-1 2 1.5 2 7.3 2-6.3 2 7.1 2 .1 2-1.6 2-2 2-1.6 2 3 2 3.6 2-1 2-.4 2 3.8 2-.2 2-.7 2-.6 2 1.6 2-2 2 2.8 2 .5 2 1.2 2-.9 2 1.5 2-2 2-1.9 2 3.4 2-1.8 2 2.6 2 .9 2 3.1 2-1.8 2 .8 2-1 2 .4 2-4.8 2 5.1 2-3 2 2 2 1.1 2-5.4 2 1.6 2-1.3 2 3.1 2-2.8 2 3.6 2-.9 2 .5 2 2.7 2-3.1 2 .9 2-2.2 2-.5 2 5.2 2-3.9 2 .6 2 3.8 2-2.4 2-3.2 2 1.8 2-.9 2 1.3 2-4.3 2 4.8 2-.8 2 1.9 2-3 2 .7 2 1.8 2 4.4 2-1.4 2-.5 2 3.1 2 .1 2-.3 2 1.9 2 3.3 2-.2 2 2.8 2-5.2 2-.4 2-1.6 2-1.8 2 1.2 2-1.5 2-1.9 2 1.6 2-3 2 5 2-2.9 2 .6 2-3.9 2-1.1 2 4 2-6 2 6.2 2-2.8 2 3.8 2-.5 2-3.1 2-3.2 2 3.2 2-1.2 2-1.8 2 4.5 2-2 2-1.5 2 3.5 2-3.2 2 .1 2-2.3 2 .4 2-.8 2-.1 2 2.9 2-3.2 2-3.8 2 1.6 2 1.6 2-1.1 2 2.8 2-2.2 2 .7 2 2.8 2-.7 2 .8 2 1 2-.8 2 3.4 2 1.7 2 .1 2-.8 2-.9 2-3 2 4.1 2 2.4 2-2.1 2 .1 2 3.9 2-1 2 2.3 2 1.8 2-1.1 2-1.5 2 .6 2-7.1 2 6.2 2-2.9 2 1.2 2 1.6 2-2 2 7.2 2-3.5 2-.8 2 2.6 2-.7 2-2.6 2 1.7 2-3.8 2 6.6 2 .6 2 2.2 2-1.8 2 .7M220 506.7l2-.8 2 1.2 2-6.1 2-.8 2 2.3 2 2.9 2-1.7 2-.4 2 4.6 2 0 2-.6 2 .2 2 .8 2 2.8 2 1.6 2-3.9 2-2.6 2-.7 2 0 2 .7 2-3 2 3.9 2-4.8 2-2.7 2 1.6 2-1 2 5.2 2-3 2-1.1 2-2.2 2 .9 2-1.9 2-3.1 2 5.2 2-3.7 2-1.4 2 .3 2 .7 2-2.4 2-3.2 2 5.2 2-5.5 2 3.8 2 .6 2-1.5 2 2 2-4.8 2 3.5 2-3.5 2 3.7 2-1.1 2 1.2 2-.9 2-.3 2 .4 2-2.2 2 1 2-1.5 2-2.2 2 1.4 2 1 2 .1 2-.7 2-1.2 2-2.9 2-1.1 2 4.6 2-2.9 2 1.7 2-2.1 2 3.9 2-2.9 2 4.8 2-.9 2-2.9 2-1.3 2 .7 2 .1 2 0 2-.5 2-.5 2 2.4 2-7.8 2 5.5 2 1.9 2-4.1 2-1.1 2 2.9 2 1 2-5.6 2 .4 2 1.3 2 3.8 2-6.4 2-.5 2 2.1 2 .4 2-.7 2 1.8 2 1.8 2-1.6 2-1.5 2 1.3 2 .1 2 .1 2-1.4 2 1.7 2 2.6 2-2.4 2 2.4 2 2.7 2 3.9 2 3.2 2 4.4 2 1 2 2 2 1.3 2-.2 2-.9 2 2.9 2-2.8 2 4.4 1-1.5 1-2.2 1-.4 1 .8 1 2.6 1 1.5 1 .9 1-1.2 1-5.3 1-2.3 1-.1 1-1 1-3.4 1-9.4 1-6.6 1-6 1-10.8 1-8.8 1-4.6 1-3.6 1-6.5 1-6.3 1-7.7 1-9.2 1-4.9 1-4.1 1-3.2 1 4.7 1 1.6 1 .4 1 5.5 1 4.5 1 .9 1 3.4 1 3.1 1 1.2 1 1.2 1-.2 2 9 2 .5 2 5.6 2 .4 2 5.3 2 4.7 2 5.5 2-2.3 2 4 2-.9 2 1.5 2-1.5 2 5.3 2-2.4 2 .7 2-.1 2 1.6 2 3.3 2 2.4 2-4.6 2 1.1 2 4.4 2 .6 2 .8 2-2.4 2-2.3 2-.3 2 2.8 2-2.5 2 .1 2-1.5 2-.3 2 3.1 2-1.7 2 2.3 2 6 2-4 2 7.6 2-1.7 2-.1 2-3 2-.5 2 1.2 2 2.9 2 2.1 2-2 2 4.3 2 .6 2-1.2 2-.6 2 2.1 2-3 2 1.7 2 .8 2 .8 2-.8 2 4.9 2-2.7 2-2.7 2 2.2 2-1.6 2-.1 2 4 2-.8 2 .4 2 3 2-1.9 2 1.9 2-4.5 2 3.1 2-1.7 2 .3 2 1.3 2-4.7 2 1.6 2-.4 2 2.4 2-3.5 2 5.4 2-1.6 2 2.9 2 1.9 2-5.5 2 .4 2-2.6 2 0 2 3.2 2-3.8 2 1.4 2 3.5 2-1.1 2-3.7 2 1.7 2 .2 2 3.3 2-4.2 2 3.9 2-1.8 2 1.4 2-4.4 2 5.3 2 .8 2 2.6 2 .9 2-1.9 2 4.3 2-.2 2-.9 2 1.6 2 2.8 2-1.4 2 2.1 2-6.5 2 2.1 2-2.6 2 .5 2-1.7 2 .5 2-2.5 2 1.4 2-3.4 2 3.8 2 0 2-1.3 2-1.8 2-.3 2 1.5 2-6.2 2 7 2-1 2 1.5 2 .6 2-2.4 2-3.4 2 1.7 2-2.1 2-.9 2 3.9 2-1.6 2-.1 2 2.4 2-4.2 2 2.9 2-2.6 2 1.4 2-3.9 2 1.3 2 3.3 2-4.7 2-1.6 2 .6 2 .5 2-.1 2 .3 2-.9 2 1.3 2 .7 2 1.5 2 1.8 2 1.3 2-1.2 2 4.4 2-.6 2 3.2 2-2.7 2 .8 2-3.7 2 4.6 2 2 2-1.1 2-.9 2 4.5 2-2.3 2 .5 2 1.6 2-1.3 2-2.1 2 1.7 2-5.3 2 4.2 2 .4 2-.4 2 1 2-2.1 2 6.6 2-2.5 2-1.3 2 2.3 2-2 2 .4 2 1.4 2-5.3 2 6.8 2-.5 2 2 2-1.7 2 1.1M220 509.2l2-.7 2 2.2 2-6.1 2-2 2 2.7 2 2.4 2-1.9 2-.9 2 6 2-2 2 .3 2-1.6 2 1.5 2 4.8 2 .6 2-4.8 2 .2 2-2 2 1.1 2 .1 2-3 2 3.7 2-5.2 2-1.2 2 .4 2-.3 2 5 2-3.9 2-1.8 2-2.5 2 2.9 2-3.8 2-1.6 2 3.7 2-3 2-2.7 2-1.3 2 2.5 2-2.8 2-1.4 2 3.4 2-2.4 2 2.3 2 0 2 .1 2 .6 2-3 2 1.9 2-2.7 2 3.5 2-1.9 2 1.5 2-1.4 2 1.1 2-.8 2-2.7 2 2 2-2 2-1.5 2 0 2 2.7 2-.1 2-1.4 2 .1 2-2.6 2-2.8 2 4.9 2-2.2 2 .2 2-.3 2 3.4 2-1.9 2 4.3 2-1.4 2-1.5 2-1.9 2 1.4 2 .8 2-1.6 2 .8 2-.2 2 .2 2-7.1 2 5.3 2 .3 2-2.4 2-2.1 2 2.8 2 .7 2-3.8 2 .6 2 .3 2 2.7 2-4 2-2.9 2 3 2 .6 2-2.4 2 1.9 2 1.9 2-.9 2-1.8 2 2.9 2-1.8 2 1.2 2-2.2 2 2.8 2 .6 2-2.2 2 2.9 2 2.7 2 4.4 2 4.3 2 4.5 2 .9 2 2.9 2 1 2-.6 2-1.7 2 .9 2-1.1 2 3.2 1-.8 1-2.2 1-.4 1 1.2 1 3.1 1 .5 1 .4 1-1.1 1-5.7 1-2 1 1 1-1 1-5.5 1-9.5 1-6.3 1-4.7 1-10.8 1-8.7 1-3.4 1-3 1-5.4 1-5.4 1-7.5 1-8.3 1-4 1-2.8 1-4.6 1 2.7 1 1.3 1 1.5 1 6.3 1 4.7 1 .4 1 2.4 1 3.6 1 1.1 1 1.4 1 .3 2 6.7 2 2.5 2 3.1 2 2.3 2 5.3 2 4.5 2 3.9 2-1.1 2 4.8 2-2.1 2-1.5 2 .5 2 5.2 2-.7 2-.1 2 2.1 2 1.9 2 1.5 2 1.2 2-4.2 2 2.5 2 1.6 2 .8 2 .1 2-.3 2-2.1 2-2 2 4.8 2-2.8 2 .2 2-2.3 2 1.3 2 1.6 2-.9 2 .6 2 7.3 2-3.3 2 6.6 2-.8 2-.2 2-3.7 2-1.2 2 4.9 2 1.3 2 .1 2-.9 2 5.1 2 1.1 2-1.5 2-.6 2 1.5 2-2.4 2-.8 2 1 2 .7 2 .3 2 3.1 2-2 2-1.6 2 3.7 2-.2 2 .7 2 1.1 2-.2 2 .8 2 2.1 2-.2 2 1 2-4.5 2 3.9 2-3.4 2 2.5 2 .8 2-5.9 2 2.4 2-1.2 2 1.7 2-2.9 2 3.5 2 .2 2 1.8 2 .9 2-4.6 2 .9 2-1.8 2-.1 2 2.9 2-3.2 2 1 2 2.9 2-1.8 2-3.8 2 1.4 2 .5 2 2.2 2-3.5 2 3.2 2-1.6 2 2.6 2-4.1 2 2.6 2 2.3 2 2.4 2-.1 2-1.7 2 4.9 2 .5 2-.5 2 2.4 2 2.9 2-.2 2-.5 2-4.8 2 .6 2-1.3 2-.3 2 .2 2-1.8 2-3 2 1.7 2-1.5 2 3.6 2-1.3 2-.3 2-3.6 2-1.7 2 3.7 2-5.7 2 5.7 2-2.1 2 5.9 2-1.4 2-3.3 2-2.9 2 3.1 2-3 2-.8 2 4.7 2-2.1 2-.1 2 2.9 2-3.9 2 2.6 2-3.7 2 1.8 2-2.9 2 .9 2 2.2 2-3.4 2-3 2 1.3 2 2.5 2-1.9 2 1.9 2-.9 2 2 2 1.8 2-.9 2-.4 2 2 2-1.3 2 3.2 2-.2 2 2.5 2-1.4 2 2 2-2.8 2 2.9 2 2.2 2-3.9 2 .6 2 2.3 2-1.3 2 1.3 2 1.7 2-.8 2-1.3 2 .5 2-5.4 2 5 2 .2 2-1.7 2 1 2-2.7 2 7.2 2-.9 2-2 2 3 2-1.2 2 .1 2 .7 2-4.6 2 7.5 2-.2 2-.4 2-2.1 2 1.2M220 510.2l2-2 2 2.6 2-7.1 2-.3 2 1 2 3 2-.9 2-.6 2 6.2 2-.8 2-.8 2 .3 2 1.2 2 2.9 2-.3 2-3.5 2-.7 2-1.4 2 0 2 .3 2-2.7 2 4.1 2-5.8 2-2.3 2 2.3 2-2 2 5.7 2-4 2-1.8 2-1.5 2 1.2 2-2.3 2-2.4 2 5.9 2-4.3 2-1 2-2.9 2 3.4 2-3.3 2-3.3 2 5.2 2-3.2 2 2.8 2-.5 2-1.3 2 1.3 2-2.6 2 2.9 2-4.1 2 4 2-.1 2-.6 2 .5 2 .8 2-.9 2-3.2 2 .2 2-.9 2-2.3 2 1.1 2 1.8 2-.6 2 .5 2-2 2-1.3 2-3.8 2 6.9 2-3 2 .5 2-1.9 2 5.3 2-3.5 2 3 2 2 2-2.6 2-1.7 2 .3 2 .3 2-.8 2-.4 2-1.4 2 4.3 2-8.3 2 4.8 2 2.2 2-4.2 2-1.9 2 3.1 2 1 2-6 2 1.9 2 1 2 2.7 2-5 2-2 2 4 2 .2 2-2.8 2 2.6 2 .7 2-1.8 2-.6 2 2.6 2-2.3 2 .8 2-1.9 2 3.7 2 1.2 2-1.7 2 2.4 2 2.3 2 4.1 2 3.5 2 4.9 2 .3 2 3.2 2 .5 2-.8 2-1.3 2 2.4 2-1.8 2 4.2 1-1.6 1-4 1 .1 1 2.1 1 2.7 1 1.4 1 .5 1-1.2 1-5.1 1-1.1 1 1.8 1-1.4 1-3.2 1-6.9 1-6 1-4.2 1-10.6 1-8.6 1-4.2 1-3.3 1-6.3 1-6.7 1-7.2 1-8.2 1-3.6 1-4 1-5.1 1 1.4 1 1.4 1 .7 1 4.6 1 4.5 1 .3 1 2 1 2.6 1 1.4 1 2.4 1-.7 2 5 2 2 2 4.2 2 .5 2 5.7 2 3.7 2 5.3 2-1.2 2 3 2-1 2 .9 2 .9 2 4.6 2-1.1 2-.1 2-.1 2 3.6 2 2.1 2 3 2-4.1 2 2.3 2 4.6 2-.3 2 1.9 2-2.2 2-3.1 2 .5 2 3.1 2-2.4 2-.3 2-2.3 2-1.6 2 2.3 2 .3 2-.1 2 7.4 2-4.7 2 5.2 2 1.3 2-1.6 2-2 2 .1 2 4.4 2 2.7 2 .8 2-.2 2 3.4 2 .8 2 .1 2-.3 2 .6 2-.8 2-.2 2 .1 2 1.8 2-1.8 2 4.3 2-2.7 2-2.5 2 2.5 2-1.8 2 2 2 2.1 2 .8 2-.8 2 1.8 2-1.9 2 3 2-5.8 2 4.3 2-1.2 2 .1 2 1.9 2-5.8 2 .3 2-1.4 2 2.8 2-3.3 2 5.5 2-.1 2 .6 2 3.2 2-4.7 2-.1 2-2.2 2 .6 2 3.8 2-3 2 1 2 1.4 2-2.8 2-3.6 2 1.9 2-.9 2 2.2 2-2.8 2 4.5 2-1.7 2 3.8 2-5.2 2 3 2 1.2 2 2.2 2-.6 2-.3 2 5.3 2-1.9 2 .5 2 .6 2 4.5 2-1.9 2 1.4 2-5.3 2 1 2-2.6 2 1.2 2-.1 2-.6 2-.8 2-1.5 2-2.3 2 5.6 2-1.7 2-.6 2-2.8 2-2 2 4.5 2-5.8 2 6.7 2-3.7 2 3.7 2 .6 2-4.3 2-2.8 2 2.6 2-2.1 2-1.1 2 3.5 2-.9 2-1.1 2 2.9 2-4.7 2 3.4 2-3 2 .9 2-1.6 2-.1 2 2.7 2-4 2-2.8 2 .6 2 3 2-.1 2 .7 2-.9 2 2.5 2 2.8 2-1.1 2 1 2-.8 2 1.2 2 2.7 2 .1 2 3.4 2-2.7 2 0 2-3.9 2 4.6 2 2.5 2-3.4 2-.7 2 3.9 2-.6 2 1.5 2 .9 2-1 2-1.3 2-.4 2-3.8 2 4 2 .3 2-1.3 2-.2 2-.2 2 6.9 2-3.6 2-.2 2 2.8 2-1.9 2-.3 2 2.8 2-5.2 2 6.5 2-1.4 2 2 2-1.9 2 1.4M220 506.6l2-.7 2 2.3 2-6.6 2-1.7 2 1.9 2 2.3 2-1.5 2 1.3 2 3.7 2-1.1 2-.1 2 .2 2 1.4 2 4.3 2 .2 2-3.4 2-1.2 2-2 2-.3 2 1.4 2-2.9 2 2.7 2-5.4 2-.2 2 .6 2 .7 2 2.9 2-3 2-2.3 2-2.8 2 3.6 2-4 2-.8 2 4.3 2-3.1 2-2.6 2-1.6 2 2 2-2.7 2-2.3 2 3.8 2-2.4 2 2.3 2 .1 2-.7 2 .2 2-3.8 2 3.3 2-2 2 2.2 2-1.7 2 2.3 2-.4 2 .3 2 .5 2-2.4 2 .3 2-1.6 2-2.2 2 1.2 2 1.6 2 .6 2-.8 2-1.5 2-2.8 2-2.3 2 5.6 2-4.5 2 1.9 2-1.4 2 3.9 2-2.9 2 5.1 2-.7 2-2.5 2-.9 2 .2 2 .3 2-1 2 .8 2-.6 2 1.6 2-8.2 2 7.2 2 1.4 2-4.7 2-.7 2 2.6 2-.4 2-4.6 2 1.1 2 .6 2 3.3 2-4.1 2-3.9 2 3.6 2 2 2-2.1 2 3.4 2-.6 2-.9 2-3.2 2 5.2 2-3.7 2 .1 2-1.5 2 2.9 2 1.3 2-1.4 2 2.6 2 2.3 2 4.8 2 4.4 2 3.9 2 .6 2 1.8 2 2.2 2-.7 2-1.9 2 1.8 2-.4 2 2.3 1-.9 1-1.7 1-.4 1 .7 1 2.7 1 2 1 .4 1-1.6 1-4.8 1-2.2 1 .7 1-1.4 1-5.8 1-9.1 1-5.5 1-5.5 1-11 1-9.1 1-4.3 1-1.8 1-5.2 1-6.6 1-7.2 1-8 1-1.7 1 0 1 .2 1 2.9 1 .8 1-1.3 1 4.2 1 4.6 1-.7 1 1.5 1 2.4 1 1.6 1 1.5 1-1.1 2 6.2 2 0 2 5.3 2-.5 2 6.1 2 2.8 2 4.5 2-1.7 2 3.7 2-1.6 2 .3 2-.2 2 4.6 2-2.1 2 1 2 1.3 2 2.4 2 .8 2 3 2-3.6 2 2.9 2 2.4 2 1.6 2-.6 2-1.2 2-3.6 2 .2 2 1.4 2-2.4 2 0 2-3 2 .6 2 3.7 2 1.3 2-.1 2 7.9 2-5.1 2 6.7 2 .1 2-.2 2-1.2 2-2.3 2 2.6 2 2.8 2 0 2-1.2 2 3.9 2 2.2 2-.9 2-.3 2 .8 2-3.3 2-.9 2 1.7 2 .7 2-.9 2 4.2 2-1 2-2.3 2 .8 2-1.2 2 1.2 2 2.6 2-.3 2-.4 2 2.5 2-.9 2 2.8 2-5.5 2 3.2 2-2.1 2 2.6 2 2 2-4.5 2 2.5 2-1.9 2 1.9 2-5 2 4.8 2-1 2 2.1 2 2.5 2-4.4 2 .1 2-.6 2-1.1 2 4.4 2-4.5 2 0 2 4.1 2-2.4 2-1.9 2 .8 2-.2 2 3.2 2-5 2 3.7 2 0 2 .1 2-3 2 3.9 2 .8 2 .8 2 1.2 2-1.3 2 3.9 2-.3 2-.6 2 1.8 2 2.2 2 1.1 2 1.4 2-3.9 2-.3 2-3.5 2 2.3 2-.7 2-.8 2-2.4 2 .1 2-2.9 2 6 2-2 2-1.1 2-2.9 2-.5 2 2.6 2-4.9 2 6.2 2-3.7 2 3.3 2-.5 2-3.2 2-1.4 2 3.9 2-3.2 2-1.8 2 5.8 2-2 2-.9 2 1.5 2-4.3 2 3.2 2-4 2 2.2 2-.6 2 .7 2 3.8 2-5.5 2-4.7 2 1.7 2 2.2 2 .1 2 3.9 2-2.3 2 1.6 2 2.3 2-1.5 2 1 2-2.2 2 1.7 2 2.8 2-1 2 5 2-2.1 2 .7 2-3.5 2 2.1 2 2.5 2-2.4 2 .1 2 4.6 2-1.9 2 .7 2 1.7 2-.8 2-2.5 2 1 2-4.3 2 2.8 2-1.2 2 2 2 1.4 2-.1 2 4.5 2-2.3 2-3.6 2 3.9 2-2.1 2 1.9 2 2.1 2-3.6 2 4.7 2-.3 2 2.8 2-3.3 2 .2M220 507.9l2-.4 2 1.5 2-5.3 2-2.2 2 2.7 2 1.8 2-1.7 2 .8 2 5.6 2-1 2-.5 2-3.1 2 3.1 2 3.1 2 2 2-4.1 2-1 2-1.5 2 .2 2 .3 2-3.4 2 3.4 2-4.7 2-1 2 .2 2-.6 2 5.5 2-3.6 2-1.7 2-1.2 2 1.2 2-3.6 2-2.5 2 5.8 2-2.8 2-2.7 2-1.6 2 1.9 2-3.7 2-1.3 2 3.5 2-2.4 2 3 2 .1 2-1 2 .2 2-2.8 2 2.4 2-2.3 2 3.1 2-2 2 2.8 2-1.7 2-.3 2-.6 2-2.1 2 1.2 2-1.9 2-1.9 2 1 2 1.8 2 0 2 .9 2-2.1 2-.7 2-3.7 2 5.4 2-2.5 2-.8 2 .1 2 3.9 2-5.1 2 5.8 2 .1 2-2 2-.9 2 .8 2-1.6 2-.3 2 .7 2-.1 2 2.4 2-9.8 2 5.5 2 .9 2-3.1 2 0 2 2.5 2-.6 2-4.4 2 1.2 2-.3 2 5.8 2-5.5 2-3.1 2 2.7 2 .9 2-2.2 2 2 2 1.6 2-1 2-1.3 2 .8 2-.5 2 .8 2-2.5 2 3.1 2 1.7 2-.5 2 .7 2 2.3 2 4.4 2 4.2 2 4.1 2 .6 2 3.5 2 1.2 2-1 2-2.3 2 3.2 2-1.9 2 5.7 1-2.7 1-3.6 1 1 1 .9 1 2.1 1 2 1 .3 1-1.3 1-5.3 1-2.4 1 1.8 1-1.1 1-4.1 1-8.1 1-4.9 1-4.1 1-9.3 1-7.5 1-3.3 1-1.2 1-4.7 1-5.3 1-4.8 1-5.7 1-3.4 1-4.5 1-6.3 1-1.3 1-1.1 1-.4 1 4.3 1 3.5 1-.1 1 1.5 1 1.9 1 .4 1 1.6 1-.7 2 5.9 2 .5 2 4.4 2 0 2 4.3 2 3.8 2 4.4 2-1.3 2 3.6 2-2.8 2 2.4 2-1.1 2 5.8 2-1.9 2 2.6 2 .2 2 3.1 2 3.1 2 2.5 2-5 2 2.5 2 3.2 2 1.5 2 1.2 2-1.5 2-2.4 2-1.3 2 4.2 2-4.5 2 .7 2-.5 2 .1 2 1.8 2 1.6 2 1 2 5.9 2-3 2 5.6 2-.5 2-2 2-1.1 2-1.5 2 1.6 2 3.9 2 1.8 2-.8 2 2.4 2 .7 2-.4 2-.7 2 1.9 2-3.6 2 1.3 2 1.4 2 1.2 2 0 2 2.4 2-1.1 2-2.5 2 2.5 2-1 2 .1 2 1.7 2 .4 2 1 2 1.7 2-1 2 .8 2-4.2 2 3.9 2-.5 2 .1 2 1.1 2-5.3 2 2.8 2-1.5 2 2.5 2-4.2 2 4.7 2-1.8 2 2.4 2 .7 2-4.9 2 2.4 2-2.5 2 1 2 3.4 2-2.4 2-.4 2 3.9 2-2.5 2-4.8 2 2.9 2-1.8 2 1.9 2-2.6 2 3.8 2-.2 2 .9 2-2.4 2 1.4 2 .9 2 2.5 2-.3 2 1 2 2.9 2-1.9 2-.2 2 3.5 2 3.8 2-2 2 3.3 2-5.7 2 .3 2-4.5 2 .3 2-.1 2-1 2-.9 2 .7 2-2.9 2 5.6 2-3.3 2-.1 2-2.7 2-1.1 2 5.6 2-6.5 2 6.7 2-2.2 2 3 2-.4 2-2.8 2-3.5 2 1.5 2 0 2-.9 2 3.9 2-2.2 2-.8 2 1.5 2-4.3 2 3.6 2-1.2 2 .5 2-3.2 2 1.1 2 3.3 2-4.7 2-2.5 2 2 2 1.2 2-2.1 2 1.5 2-1.8 2 2.8 2 1.4 2-1.3 2 2.5 2-2.1 2 .5 2 3.6 2-.9 2 3.4 2-1 2 .8 2-1.4 2 2.5 2 2.4 2-3.9 2-.1 2 3.2 2-2.6 2 3 2 1.1 2 0 2-.5 2 .9 2-4.7 2 4.2 2-.7 2-3.2 2 2.3 2-2 2 5.4 2-.2 2-1.8 2 2.2 2-1.6 2 1.1 2 1.9 2-5.3 2 5.6 2 .4 2 1 2-1.8 2 1.4M220 507.3l2 .1 2 1 2-6.2 2-.6 2 3 2 2.6 2-1 2 .5 2 4.1 2-.6 2-.5 2-1.5 2 1.5 2 4 2-.2 2-3.8 2-.7 2-2.3 2 2.4 2 1.7 2-4.5 2 2.2 2-5 2-1.5 2 2.6 2-.1 2 4.5 2-2.7 2-4 2-2.3 2 2.9 2-3.6 2-1.1 2 3.9 2-2.8 2-1.6 2-1.4 2 1.1 2-.9 2-4.4 2 3.7 2-1.3 2 1 2-.2 2 .2 2 .2 2-3.1 2 2.5 2-2.6 2 2.8 2-1 2 1.9 2-.4 2-.2 2 .4 2-2.8 2 .3 2-2.4 2-.3 2 0 2 .6 2 1 2-.6 2-.7 2-2.4 2-2.7 2 5.9 2-4.8 2 2.7 2-2.2 2 3.9 2-2.9 2 4.3 2 1.5 2-3.2 2-1 2 1 2 .2 2-2.6 2-.4 2-.7 2 3 2-6.5 2 6.1 2-.6 2-3.9 2-.6 2 3.9 2 .2 2-5.5 2 1.5 2-.3 2 4 2-4.2 2-4 2 4.3 2 .8 2-1.6 2 1.6 2 .4 2-2.3 2-.9 2 4 2-2.4 2 1.3 2-2 2 2.3 2 2.9 2-2.1 2 1.4 2 1.8 2 4.7 2 5 2 2.7 2 1.6 2 1.8 2 1.5 2-.5 2-1.3 2 2.8 2-2.4 2 3.4 1-1 1-2.3 1 .1 1 .3 1 2.3 1 2.3 1-.5 1-1.3 1-4.3 1-2 1 .7 1-1.2 1-3.9 1-8.4 1-5.7 1-5.1 1-9.5 1-6.9 1-4 1-2.3 1-4.4 1-5.4 1-6.6 1-7.7 1-2.6 1-1.5 1-2 1 2.9 1 1.4 1-1.6 1 4.4 1 5.6 1 .3 1 1.9 1 1.9 1-.2 1 .5 1-.1 2 7 2-.1 2 4.7 2 1 2 5 2 2.5 2 5.3 2-2.1 2 3.8 2-3 2 2.7 2-1.8 2 4.8 2-2.2 2 1 2 .7 2 2.6 2 .4 2 1.9 2-4.4 2 1 2 2.2 2 2.1 2 .6 2-1 2-1.6 2-2.1 2 2.6 2-1.8 2-.3 2-2.2 2 1.7 2 2.5 2-1 2 0 2 6.8 2-3.5 2 6.4 2 0 2-1.6 2-2.8 2-.1 2 4.3 2 2.6 2 1.8 2-1 2 3.1 2 1 2-1.8 2 0 2 .3 2-1.9 2 0 2-.2 2 .7 2 .9 2 2.7 2-2.1 2-2.2 2 3.3 2-1.6 2 1 2 1.4 2 .1 2 .3 2 2.1 2 1.4 2 2.2 2-5.7 2 3.6 2-2.9 2 2.7 2 1.7 2-4.6 2 1.4 2-1 2 1.7 2-4.4 2 5 2-1 2-.6 2 4.2 2-3.8 2 1.2 2-2.1 2-1.3 2 3.7 2-3.4 2 1 2 3.3 2-2.2 2-3.4 2 1.7 2-.4 2 1.5 2-4.3 2 4.1 2-1.4 2 1.3 2-3.4 2 4.3 2 .4 2 2.6 2-1 2-.5 2 4.1 2 0 2-1.6 2 1.1 2 5.6 2 .3 2 .2 2-4.9 2 2.2 2-5.5 2 2.7 2-2 2-.4 2-.5 2 1.6 2-3.4 2 3.6 2 .3 2-.5 2-4.7 2-2 2 4.4 2-6.4 2 6.5 2-1 2 1.8 2-.4 2-3.2 2-2 2 2.4 2-2.7 2-.8 2 4 2-1.6 2-.2 2 1.5 2-3.1 2 3.8 2-1.8 2 .5 2-2.7 2 1.6 2 1.8 2-3.8 2-4.8 2 1.6 2 1.2 2-.4 2 3.6 2-1.9 2 1.5 2 2 2-1.3 2 .2 2 0 2 1.7 2 2.6 2-.2 2 3 2-2.5 2 1.2 2-3.6 2 4.1 2 3 2-2.3 2 .3 2 1.9 2-1 2 .3 2 1.5 2 .6 2-1.6 2 .7 2-5.5 2 2.9 2 .5 2-2.8 2 1.6 2 .3 2 5.9 2-2.7 2-2.4 2 3.6 2-1 2 .4 2 2.4 2-5.1 2 6.6 2-.5 2 1.3 2-1.6 2 .5M220 507.8l2-3.2 2 2.2 2-5.7 2-1.1 2 1.3 2 3.4 2-.5 2-1.2 2 4 2 1.2 2-.4 2-.8 2 .3 2 2.6 2 2 2-3.2 2-1.4 2-.6 2 0 2 3.1 2-5 2 2.9 2-6.6 2-.6 2 1.3 2-.5 2 3.6 2-2.3 2-2.8 2-1.2 2 1.4 2-2.6 2-1.7 2 3.8 2-2 2-1.7 2-1.2 2 1.3 2-2.5 2-3.9 2 5 2-2.7 2 2.8 2 1 2-2.4 2 1.1 2-4 2 2.7 2-2.3 2 2.6 2-1.6 2 1.9 2-1.8 2 .3 2 .3 2-1.6 2 1.1 2-1.6 2-1.8 2 .6 2 1.7 2 .3 2-1 2-.9 2-.9 2-2.9 2 5.6 2-3.2 2-.2 2-.3 2 4 2-3.3 2 4.3 2 .2 2-2.9 2-2.4 2 1.9 2-.9 2-.3 2-.2 2 .9 2 1.2 2-8.3 2 5.4 2 1.8 2-2.9 2-1.4 2 2.8 2-.2 2-5.3 2 1.7 2-1.5 2 6 2-4.3 2-3.2 2 4.8 2-.5 2-2.3 2 2 2 .4 2-.2 2-1.4 2 2.4 2-3.2 2 1.3 2-1.3 2 2.5 2 2.2 2-2.3 2 2.1 2 1.5 2 4.9 2 4.5 2 3.9 2 1.8 2 1.1 2 2.4 2-.9 2-1.5 2 2.2 2-2.1 2 4.6 1-1.4 1-3 1-.5 1 1.5 1 2.5 1 .4 1 .2 1-.1 1-4.3 1-1.9 1 1.9 1-1.5 1-3.8 1-3.9 1-4.1 1-4.4 1-11 1-8 1-3.6 1-3.5 1-5.1 1-6 1-7.8 1-6.9 1-2.3 1-2.2 1-2 1 1.4 1-.3 1-.8 1 2.5 1 3.3 1-.1 1 .9 1 .7 1-.2 1 1.1 1-1.2 2 3.6 2 .1 2 2.6 2-1.9 2 5.1 2-.1 2 5 2-2.3 2 3.5 2-2.2 2 .9 2 .1 2 4.6 2-1.1 2 1.3 2 2.2 2 1.4 2 3.1 2 2.9 2-2.9 2 1.3 2 4.6 2 1.3 2 2.7 2-1.8 2-1.1 2-1.3 2 5 2-1.7 2 .2 2-.8 2 .6 2 3.2 2-.7 2 .8 2 7.2 2-4.7 2 5.8 2 .9 2-2.8 2-1.9 2-1.1 2 2 2 2.7 2 1.7 2-.9 2 4.8 2 .8 2-.6 2-2.2 2 2.2 2-1.9 2 .2 2 2.6 2 .6 2-1.4 2 2.3 2-3.7 2-.9 2 3.3 2-1.2 2 1.2 2 1.8 2-.9 2 1.5 2 1.4 2-1.7 2 1.5 2-3.9 2 4.1 2-.5 2 .5 2 1.9 2-3.9 2 1.2 2-.7 2 1.5 2-5 2 4.5 2-1.7 2 2 2 3.4 2-6 2 1.2 2-.5 2-1.1 2 5 2-4 2-.5 2 2.2 2-1.7 2-3 2 3 2-1 2 2.6 2-4.7 2 4.3 2 .1 2 1.1 2-3.6 2 2.8 2 .6 2 4.8 2-2.1 2-1.1 2 4.5 2 .6 2-1.7 2 3.4 2 .6 2 .2 2 .7 2-3.6 2-.5 2-.1 2-.1 2-2.2 2-1.6 2 .6 2 .8 2-3.1 2 4.9 2-2.4 2-.6 2-3.7 2-1.9 2 3.5 2-5.7 2 7.3 2-3.8 2 4.5 2 0 2-2.7 2-1.9 2 3 2-3.5 2 0 2 4.7 2-4.2 2 1 2 2 2-4 2 2.7 2-2.9 2 .8 2-2.1 2 1 2 1.1 2-3.8 2-3.3 2 1.5 2 .9 2 .4 2 3.7 2-1.3 2 2.3 2 0 2 .2 2 .7 2-.4 2-1.3 2 4.5 2-1 2 3 2-.8 2 .6 2-1.3 2 2.6 2 3.2 2-3 2-.7 2 4.2 2-2.4 2 .5 2 1 2 .9 2-1.7 2 1.1 2-5.2 2 4.9 2-1 2-2.6 2 1 2-1.4 2 6.3 2-2.4 2-1.5 2 3 2-2 2 0 2 2 2-4.4 2 7.3 2-1.1 2 2 2-2.7 2 2.8M220 507.8l2 .3 2 1.6 2-5.9 2-1.6 2 2.5 2 2.9 2-1.6 2-1.8 2 5.8 2-.8 2-.6 2-.9 2 1.6 2 4.8 2 .4 2-4.4 2-.6 2-1.5 2 0 2 2.8 2-4.5 2 4.5 2-4.9 2-3.1 2 .9 2-1.1 2 6.2 2-3.5 2-2.4 2-2 2 .3 2-2.9 2-1.1 2 5 2-3.2 2-1.2 2-2.5 2 1.9 2-3.1 2-2.5 2 4.3 2-1.6 2 1.9 2 .4 2-.7 2 .8 2-2.7 2 .7 2-2.5 2 5.7 2-2.2 2 .9 2-1.2 2 .8 2-1.6 2-2.3 2 1.4 2-1.2 2-1.9 2 .9 2 .8 2 0 2 .2 2-2.4 2-.6 2-4.3 2 6.7 2-3.9 2 2.8 2-2.9 2 5.1 2-4 2 5.1 2-.6 2-1.3 2-.7 2 .3 2-.1 2-2.1 2 .7 2-.7 2 2.3 2-8.2 2 5.4 2 1.2 2-3.6 2-.9 2 2.6 2 .4 2-5.1 2 .5 2-.2 2 4.8 2-4.9 2-1.4 2 3.8 2 .3 2-2.1 2 2.3 2-.3 2-.2 2-2.6 2 5 2-2.8 2-.2 2-1.8 2 2.2 2 1.5 2-1.3 2 2.9 2 2.3 2 3.8 2 4.6 2 3.9 2 1.7 2 .7 2 3.1 2-1.4 2-.7 2 .6 2-1.3 2 4.7 1-1.7 1-2.6 1 1 1 .5 1 2.1 1 1.9 1-.1 1-1.5 1-5 1-3.3 1 1 1-.7 1-4.4 1-6.8 1-4.4 1-3.1 1-8.1 1-6 1-1.5 1-1.4 1-4.5 1-4.2 1-4.9 1-6.1 1-2.2 1-3.1 1-5.1 1-1 1-3.1 1-1.6 1 5.1 1 5.1 1-.5 1 .6 1 1.5 1-.1 1 1.6 1-.1 2 5 2 .3 2 3.9 2 .4 2 4.4 2 2.7 2 4.6 2-2.8 2 3.3 2-3.6 2 2 2-.3 2 5 2-1.4 2 .3 2 .8 2 2.1 2 3.2 2 3.6 2-4.3 2 2.7 2 3.9 2 2.4 2 .3 2-2.9 2-3 2-1 2 3.2 2-3.3 2 1.5 2-2.1 2 1 2 2.4 2-1.8 2 .3 2 6.7 2-3.7 2 6.8 2 .6 2-1.1 2-2.3 2-1.2 2 1.7 2 4.5 2-.4 2 .5 2 4.7 2 .4 2-.8 2-2.1 2 1.9 2-3.2 2-.3 2 1.6 2 1.8 2-1.2 2 4.3 2-5.1 2-.8 2 3.8 2 .2 2 1.5 2 1.8 2 1.1 2 .3 2-.1 2-2.8 2 4.4 2-6.5 2 5.6 2-2.1 2 1.9 2-1.2 2-4.6 2 1.3 2-1.3 2 3.3 2-6.3 2 6.8 2-2.4 2 2.9 2 1.4 2-4 2 1.2 2-1.5 2-.7 2 3.6 2-5.3 2 1.1 2 3.3 2-2.3 2-2.9 2 1.8 2-.3 2 2.4 2-3.8 2 3.1 2-1.6 2 2.6 2-2.4 2 2.8 2 .4 2 3.9 2-1.4 2-1.4 2 4.7 2-.6 2-1.4 2 2.7 2 4 2-1.9 2 1.9 2-3.8 2 1.7 2-3.7 2 1.1 2-1.9 2-1.4 2-1.6 2 1.8 2-4.1 2 6.3 2-2.2 2-1 2-2.7 2-2.6 2 3.4 2-6 2 6.1 2-1 2 4.3 2 1.2 2-5 2-2.9 2 4.4 2-4 2 0 2 3.6 2-2 2-1.5 2 2.7 2-3.7 2 2.8 2-1.7 2 1 2-2.1 2 0 2 2.3 2-4 2-2.2 2 .9 2 1.8 2-.4 2 3.7 2-3.7 2 1.2 2 2.4 2 0 2 .6 2 .4 2 .3 2 2.5 2 1.1 2 2.3 2-2.7 2 .1 2-3 2 3.5 2 2.2 2-2.3 2 0 2 3.2 2-1 2 1.7 2 2.5 2 .7 2-3.6 2 1 2-4.9 2 3.1 2-.6 2-1.5 2 2.8 2-3.5 2 5.3 2-1.3 2-1.4 2 3.8 2-1.4 2-.1 2 1.1 2-4.4 2 6.7 2-.9 2 1.4 2-1.5 2 .4M220 507.2l2 .1 2 1.9 2-6.5 2-2.1 2 1.9 2 2.3 2-.6 2-.6 2 4.7 2-1 2-.1 2-.3 2 2.7 2 2.6 2 .9 2-4.1 2 .4 2-2.3 2 1.4 2 1.1 2-4.2 2 3.7 2-5.3 2-1.7 2-.3 2-.7 2 5.1 2-2.3 2-3.5 2-.3 2 1.9 2-3.4 2-2.4 2 5.6 2-4.3 2-1.4 2-2.7 2 2.5 2-3.4 2-2.4 2 6 2-3.5 2 3.1 2-1.1 2 .6 2-.7 2-3.5 2 2.4 2-2.1 2 3.2 2-1.8 2 2.3 2 .3 2-1.6 2 .8 2-2.6 2-.1 2 .1 2-3.7 2 2.3 2 1.4 2-.6 2-1 2 .3 2-3 2-4.6 2 7.7 2-3.6 2 1.4 2-1.2 2 4.2 2-3.1 2 4.1 2-.9 2-1.7 2-1.6 2 .8 2-.2 2-1.2 2 1.2 2-1.2 2 2.6 2-9 2 5.3 2 1 2-1.6 2-.2 2 1.9 2-.1 2-5 2 .8 2-.8 2 6.1 2-5.9 2-2.4 2 3.1 2-.4 2-1.3 2 3.6 2-.3 2-.8 2-1.1 2 3.4 2-1.6 2 .8 2-4 2 3.2 2 1.5 2-1.5 2 1.6 2 1.9 2 4.9 2 4.9 2 2.9 2 2 2 1 2 2.8 2-1.2 2-1.4 2 2.9 2-1.7 2 4.4 1-1.8 1-3.7 1 .9 1 2.1 1 2.4 1 1.5 1-.1 1-1.3 1-5.1 1-2 1 1.5 1-1.2 1-3.8 1-6.9 1-4 1-3.1 1-8.8 1-6.5 1-.9 1 .5 1-4.5 1-5 1-4.2 1-6.4 1-2.1 1-2.8 1-6 1-1.4 1-2.4 1-1.3 1 4.5 1 5.1 1-.3 1 1.1 1 1.5 1 .7 1 1.9 1-1.5 2 5.5 2-1.9 2 5.4 2-.5 2 4.9 2 4.3 2 3.6 2-2.3 2 2.3 2-2.8 2 .7 2 .9 2 3.8 2-1.2 2-.6 2 .3 2 3.3 2 1.2 2 2.5 2-5.6 2 2.5 2 2.2 2 2.2 2 .4 2 .2 2-2.6 2-1.9 2 3 2-1.8 2-.6 2-2.2 2 .3 2 2.7 2 .5 2 .2 2 7.6 2-5.5 2 6.6 2 .3 2-1 2-3.3 2-1.9 2 5.5 2 .5 2 2.6 2-.9 2 2.3 2 2.2 2-1.9 2-1.1 2 2 2-3.2 2 .9 2 .2 2 2.4 2-.4 2 2.9 2-2.2 2-1.4 2 2.8 2-.1 2-.8 2 2.4 2-1.9 2 1.4 2 1.5 2-1.6 2 2.4 2-4.3 2 3.4 2-.9 2 2.2 2-.1 2-4.5 2 1.6 2-1.4 2 2.4 2-3.2 2 6.1 2-1.6 2 .1 2 1.2 2-6 2 2.9 2-3.4 2 1.1 2 4.2 2-2.9 2 .7 2 2 2-1.6 2-2.3 2 2.1 2-.7 2 1.6 2-4.6 2 3.2 2-2.2 2 3.3 2-2.4 2 3.8 2-1.4 2 4.1 2-.9 2-.1 2 4.7 2-1.8 2 1.8 2 1.6 2 1.4 2-1.5 2 1.7 2-4.4 2 1.3 2-3.4 2 2 2-1 2-3.2 2-1.6 2 2.8 2-6 2 5.5 2-.1 2 .4 2-3.8 2 .6 2 3 2-3.8 2 5.9 2-3 2 3.8 2-3 2-3.7 2-1.6 2 2.6 2-2.1 2-.5 2 3.6 2-1.4 2-2.7 2 3.2 2-2.9 2 3.7 2-1.3 2-.1 2-2.6 2 .1 2 1.8 2-3.9 2-3.2 2 .3 2 2.7 2 .3 2 .3 2-.8 2 1.1 2 3.3 2-2.2 2 2.1 2 .9 2-.7 2 4.2 2-.9 2 3.2 2-2.4 2 .4 2-3.3 2 5 2 1.6 2-1 2-1.5 2 2.9 2-3.5 2 .6 2 4.2 2-.9 2-.4 2 1.2 2-5.4 2 2.9 2 .2 2-1.2 2 1.7 2-1.9 2 5.4 2-.4 2-1.6 2 3.1 2-2.5 2 .9 2 1.9 2-5.8 2 6.9 2-.9 2 1.9 2-2.2 2 .7M220 506.1l2-1.4 2-.6 2-4.3 2-1.1 2 1.8 2 2.7 2-2.4 2-.1 2 6.3 2-1.4 2 .5 2-1.6 2 1.4 2 4.8 2-1.5 2-3.2 2-.7 2-.7 2 0 2 1.6 2-4 2 3.6 2-6.6 2-.5 2 1.4 2-.3 2 4.6 2-4.3 2-1 2-2 2 2.9 2-3.4 2-2.4 2 4.8 2-2.1 2-2.7 2-1.8 2 1.1 2-2.6 2-2.6 2 4.4 2-1.9 2 2.1 2 1.1 2-2.2 2 1.9 2-5.1 2 2.6 2-2.6 2 4.7 2-1.7 2 2 2-1.3 2 .3 2 .6 2-3.9 2 .7 2-.3 2-4.1 2 2.6 2 1.4 2-.8 2-.1 2-1.8 2-2.5 2-2.9 2 6.9 2-3.6 2 1.7 2-1.9 2 5 2-4.4 2 4.5 2 1.5 2-3.6 2-1.5 2 .6 2 1.2 2-2 2 1.7 2-1.6 2 2.7 2-7.7 2 5.2 2 0 2-2.5 2-1.7 2 3.3 2-.4 2-5.5 2 2.2 2-.5 2 4.6 2-4 2-3.4 2 4.2 2 0 2-1.7 2 4.2 2-1.5 2-1 2-1.1 2 2.2 2-2.7 2 0 2-1.3 2 2.9 2 2.6 2-2.1 2 3.1 2 1.9 2 4.1 2 3.3 2 5.4 2 1.1 2 1.1 2 1.8 2 .5 2-1.8 2 2 2-2.6 2 5.3 1-1.3 1-3.6 1 .6 1 1.5 1 2 1 1.2 1 .3 1-1.6 1-5.3 1-2 1 2.7 1 .4 1-2.6 1-7.1 1-5.3 1-3.1 1-8.2 1-7.3 1-3.7 1-1.7 1-3.7 1-5.1 1-4.9 1-6.1 1-2.9 1-1 1-2.4 1 2.3 1-.2 1-1 1 3.7 1 3.3 1-1.2 1 .2 1 1.2 1 .2 1 .2 1-2 2 5.5 2-2.1 2 5.2 2-.7 2 3.5 2 2.9 2 2.9 2-3 2 3.2 2-2.2 2-.5 2-1.5 2 5.6 2-2.7 2 0 2 1.4 2 1.9 2 .4 2 5.2 2-5.8 2 4.6 2 3.2 2 1.9 2 .5 2-.9 2-2.9 2-.7 2 2.7 2-3.9 2 .5 2-3.7 2 .5 2 2.8 2-1.5 2 1.5 2 8.1 2-4.5 2 6 2 .1 2-1.9 2-1.4 2-1.4 2 3 2 3.8 2 .7 2-.9 2 4.3 2 1.2 2-1 2-.4 2 1.4 2-2.7 2 .7 2-1.9 2 2.2 2-.2 2 3 2-2.6 2-1.8 2 1.3 2 1 2-.2 2 2.1 2 .9 2 .3 2 2.2 2-.6 2 2.8 2-5.7 2 4 2-3.1 2 1 2 1 2-3.1 2 .8 2 .7 2 1.5 2-3.6 2 1.9 2 .4 2 1.6 2 3.1 2-6.3 2 3.1 2-2.3 2 .2 2 2.9 2-3.2 2-.2 2 4 2-2.1 2-3.4 2 1 2-.5 2 2.8 2-3.6 2 4.9 2-2.9 2 3.2 2-5.4 2 5.3 2 1.7 2 2 2-1.8 2 .4 2 3.1 2-1.1 2-.2 2 2.8 2 3 2-.5 2 .8 2-4.6 2 2.2 2-4.6 2 1.9 2-1.2 2-1.4 2-2.6 2 1.8 2-4.1 2 5.7 2-2.3 2 2.5 2-4.9 2-.6 2 2 2-4.2 2 5.8 2-3.4 2 3.9 2-1 2-3.4 2-1.1 2 3 2-1.7 2-1.8 2 4.7 2-3.1 2-.2 2 1.6 2-3.7 2 2.3 2-1 2 1.4 2-1.9 2 .3 2 3.3 2-5 2-3.9 2 .7 2 2.4 2 .5 2 .1 2-1 2 .6 2 2.8 2-1.4 2 1.8 2 .2 2 .4 2 3.1 2-.7 2 4.8 2-2 2-.5 2-3.7 2 3.7 2 2.2 2-1.2 2-.8 2 4 2-2.1 2 1.4 2 .4 2 .6 2-1.5 2 .7 2-6.3 2 4.4 2 .5 2-1.7 2 .5 2-.7 2 5.9 2-1.9 2 .6 2 1.3 2-2.4 2 .6 2 1.3 2-3.1 2 6.7 2-.5 2 .8 2-1.3 2 .6M220 508l2-.8 2 1.4 2-5.2 2-1 2 1.4 2 2.5 2-2.1 2 .8 2 4.7 2-1.1 2 .9 2-1.1 2 .5 2 4.6 2-.2 2-4.2 2-.6 2-2.6 2 2.2 2 .7 2-3.5 2 2.7 2-3.3 2-1 2 .2 2-.3 2 4.3 2-4.1 2-1.5 2-2 2 2.1 2-3.5 2-2.2 2 6 2-4.2 2-1.8 2-2.5 2 1.8 2-3 2-1.9 2 5 2-3.4 2 2.7 2 .8 2-1.3 2 1 2-4.1 2 2.2 2-1.4 2 3.7 2-3.9 2 3.6 2-.8 2 .4 2 .1 2-3.5 2 2 2-1.4 2-3 2 .2 2 2.7 2 0 2-.2 2-.7 2-2.4 2-3.5 2 6.2 2-4.7 2 1.7 2-.5 2 5.3 2-6 2 4.5 2 1.5 2-2.5 2-2 2 .9 2-.8 2-.4 2 1.1 2-.5 2 .6 2-7.8 2 6 2 1.1 2-4.7 2-.2 2 4.4 2-.2 2-4.4 2 .2 2 1.1 2 4.3 2-6.8 2-2.8 2 3.8 2 .9 2-2.8 2 3.7 2 .3 2-.9 2-2.6 2 5.7 2-3.3 2 .1 2-1.5 2 1.9 2 2.1 2-.6 2 .8 2 2.6 2 4.4 2 4.5 2 3.5 2 .7 2 2.4 2 2.5 2-1.4 2-2 2 3.2 2-1.1 2 3.6 1-1.2 1-3.3 1-.2 1 1.9 1 3.4 1 .8 1-.5 1-1 1-3.7 1-2.5 1 .3 1-.8 1-1.4 1-4.9 1-3 1-2.3 1-8.9 1-5.4 1-1.1 1-.5 1-3.6 1-4.2 1-4.3 1-4.7 1-1.3 1-2.7 1-6.1 1-3.1 1-3 1-2.5 1 3.8 1 3.9 1-.3 1 .8 1 1 1 .1 1 1.6 1-.7 2 4.6 2-.7 2 4.5 2-1.1 2 5 2 2.9 2 4.3 2-3.3 2 2.4 2-1.6 2-1.4 2 .9 2 3.7 2-2.2 2 .9 2 .8 2 1.8 2 2.1 2 3 2-5.9 2 2.7 2 2.4 2 1.1 2 .6 2-.5 2-1.6 2-2 2 3.6 2-2.7 2 0 2-2.3 2-.4 2 2.2 2 .1 2 1.6 2 5.7 2-2.9 2 7.2 2-.3 2-2.2 2-2.7 2 .1 2 2.3 2 3 2 2.1 2-.7 2 2.3 2 2 2-2.1 2-.2 2 1.8 2-4.3 2 2.4 2 .9 2-.3 2 .4 2 2.3 2-3.1 2-.3 2 2 2 .5 2 .7 2-.1 2 2.1 2 .8 2 .2 2-.5 2 2.2 2-4.1 2 3.7 2-1.7 2 1.8 2 .4 2-6.4 2 3.2 2-.1 2 2.3 2-4.7 2 4.3 2-1.7 2 2.1 2 2.1 2-5.3 2 1 2-1.4 2-.5 2 4.2 2-3.4 2 .7 2 1.7 2-.8 2-4.2 2 1.8 2-1.3 2 2.1 2-4 2 4.4 2-2.6 2 2.3 2-2.8 2 4.9 2 .7 2 2.9 2 0 2-3.5 2 5.5 2-.7 2 1 2 2.2 2 2.8 2 .1 2 2 2-5.3 2-.6 2-2.5 2 1.1 2-.8 2-1.7 2-2.5 2 1.3 2-3.6 2 4.5 2-1.9 2 .5 2-4.3 2-3.1 2 5.3 2-5 2 7.6 2-3.3 2 3.5 2 .7 2-2.8 2-2.3 2 1.9 2-2.3 2-.1 2 4 2-3.2 2-.8 2 3 2-3.9 2 2.7 2-2.9 2 1.6 2-1.5 2-1.2 2 1.6 2-2.9 2-4 2 1.9 2 1.5 2 .4 2 2.8 2-3.4 2 1.7 2 2.7 2-.4 2 1.4 2 0 2 .2 2 3.4 2 .4 2 3.3 2-2.9 2 0 2-3.7 2 2.2 2 2.3 2-.8 2 .1 2 4.5 2-2.9 2 .5 2 3.2 2-1 2-2 2 2.3 2-6 2 4.3 2-1.2 2-.1 2 1.5 2-2.8 2 7.3 2-2.3 2-1.9 2 4.4 2-3.4 2 1.2 2 1.6 2-4.8 2 5.8 2-.2 2 .4 2-1.4 2 1.6M220 507l2-2.7 2 2.2 2-5.9 2-1.1 2 1.5 2 1.3 2-1.2 2 .8 2 4.2 2 .1 2 .2 2-2.1 2 .6 2 5.4 2 1 2-3.5 2-1.9 2-2.3 2 2.2 2-.3 2-3.1 2 2.9 2-3.6 2-.8 2-1.4 2 .6 2 3.7 2-3.2 2-1.1 2-4.1 2 2.3 2-2.3 2-1.2 2 4.1 2-3 2-2.7 2-2 2 2.8 2-2.5 2-3.7 2 4.5 2-1.5 2 2.9 2 .6 2-1.4 2 .1 2-3.6 2 3 2-2.3 2 2.8 2-1.6 2 1.6 2-.6 2 1.2 2-1.3 2-2.6 2 .5 2-1.3 2-.9 2 1.3 2 .9 2-.7 2-.2 2-.9 2-2.1 2-3 2 6.1 2-3.3 2 1.1 2-.1 2 4 2-4.7 2 5.1 2-.3 2-2.2 2-2.6 2 1.7 2-.6 2-.6 2-.3 2-.5 2 1.5 2-8 2 6.2 2 1.6 2-3 2-2 2 3.8 2 .6 2-6.8 2 1.8 2-.1 2 2.5 2-2.3 2-3.7 2 4.1 2 .1 2-2.2 2 3.1 2-.4 2 0 2-1.3 2 2.8 2-1.2 2 1 2-4.4 2 2.6 2 3.7 2-3.5 2 4.5 2 .1 2 5.9 2 4.9 2 3.1 2 .6 2 2.9 2 1.4 2-.3 2-1.5 2 2.1 2-2.7 2 3.9 1-.2 1-3.2 1 .3 1 2.5 1 .9 1 .8 1 .5 1-1.7 1-3.7 1-1.7 1 .9 1-.8 1-5.8 1-6.7 1-3.1 1-2.5 1-6.7 1-6.4 1-1.4 1 .9 1-2.2 1-3 1-5 1-5.4 1-1.4 1-2.1 1-4.9 1-2 1-.3 1-1.3 1 3.3 1 3.3 1-1 1 .7 1 1.2 1-.4 1 .3 1-1 2 2.6 2-1.6 2 2.4 2-1.3 2 4.8 2 1.8 2 3.8 2-4.9 2 3.2 2-1.4 2-1.6 2 0 2 4 2-3.4 2 .4 2 1.7 2 1.6 2 2.3 2 2.3 2-2.3 2 2.2 2 3.2 2 2 2 .7 2-.2 2-2.3 2-.6 2 3 2-2.6 2 1.1 2-2.7 2 1.3 2 2.3 2-2.4 2 1.6 2 5.3 2-4.1 2 5.6 2 .3 2-.2 2-2.9 2-.5 2 2.8 2 2.2 2 .5 2-.4 2 4.2 2 3 2-1.3 2-.7 2 1 2-3.3 2 .2 2 1.1 2 .9 2 1.5 2 2.6 2-3.1 2-.9 2 3.1 2-2.2 2 .7 2 2 2-.9 2 .6 2 2.2 2-.3 2 2 2-5.5 2 4.7 2-2.1 2 1.6 2 .5 2-5.6 2 1.7 2-1.5 2 3.1 2-4.2 2 4.8 2-2.1 2 3.4 2 2.5 2-3.1 2 .9 2-2.2 2-.6 2 2.2 2-3.3 2 .2 2 1.9 2-.1 2-3.7 2 1.5 2-.1 2 3 2-4.3 2 4.6 2-.7 2 1.7 2-3.5 2 4.9 2-1.7 2 2.4 2 .4 2-1.3 2 5.5 2-.5 2-.4 2 2.4 2 1.8 2 1.2 2 .7 2-4.2 2 1.2 2-4.4 2 1.7 2-2.9 2-.6 2-.2 2 .1 2-4.2 2 3.7 2-.9 2 1.6 2-3 2-1.8 2 3.8 2-7.1 2 8.1 2-2.9 2 4.5 2-1 2-3.1 2-1.8 2 2.3 2-2.5 2-1.2 2 3.7 2-3 2-.8 2 3.6 2-5.2 2 3.9 2-2.4 2 .5 2-1.8 2-.1 2 3.2 2-6.1 2-1.6 2 1.2 2 2.7 2 .3 2 .8 2-2.9 2 1.3 2 1.8 2-1.9 2 2.5 2 2.5 2-1.3 2 2.2 2 .8 2 1.5 2-2 2 1.1 2-1.6 2 3 2 3.3 2-2.3 2-2.1 2 3.1 2-.4 2 .1 2 1.8 2 .2 2-1.2 2 2 2-7.7 2 4.3 2-.5 2-.1 2 1.7 2-1.9 2 6.6 2-2.8 2-1.7 2 3.4 2-2 2-1.1 2 4.5 2-4.5 2 7 2-.2 2 2 2-1.6 2 .5M220 505.3l2-2.1 2 1.9 2-5.2 2-1.5 2 1.8 2 1.8 2 0 2 .1 2 3 2 .1 2 .3 2-1.4 2 1.5 2 3.7 2 .4 2-2.8 2-1.9 2-3.4 2 2.1 2 .8 2-3.7 2 3.7 2-3.7 2-1.8 2 .6 2-1.5 2 5.1 2-3.4 2-.9 2-3.8 2 3.1 2-3.5 2-2.1 2 6.7 2-3.5 2-1.4 2-2.6 2 1.7 2-3 2-3.7 2 4.7 2-1 2 1.4 2 .5 2-.1 2-.1 2-2.9 2 1.8 2-1.4 2 2.5 2-2.3 2 1.9 2 .1 2-1.3 2 1.7 2-2.1 2 .1 2-.6 2-2.7 2 1.3 2 .2 2-.2 2 .3 2 .1 2-2.9 2-4.2 2 6.6 2-3.9 2 1.2 2-1 2 4.4 2-4.8 2 6 2-.2 2-1 2-2 2 .4 2 .7 2-2.6 2 2.4 2-1.7 2 2 2-7.8 2 5.8 2 .7 2-4.4 2-.9 2 4 2-.4 2-6.5 2 3.8 2-2.8 2 4.8 2-3.9 2-3.3 2 4 2 .6 2-2.1 2 3.7 2 .5 2-1.4 2-1.7 2 1.9 2-2.1 2 2.8 2-3 2 1.3 2 3.1 2-1.8 2 2.3 2 3.6 2 2 2 5.6 2 3.9 2 .3 2 2.3 2 2.1 2-.5 2-2.9 2 4.9 2-3.4 2 4.2 1-.6 1-2.6 1-.1 1 .1 1 1.8 1 2.5 1 .6 1-2 1-4.8 1-1.6 1 1.5 1-.8 1-1.9 1-7 1-4.3 1-2.1 1-7.3 1-5.9 1-1.5 1 .5 1-3.4 1-3.8 1-4.2 1-5 1-1.3 1-1.9 1-3.9 1-.4 1-.1 1-1.1 1 2.6 1 3.6 1-.6 1-.2 1 .4 1-.5 1 .1 1-1.6 2 2.4 2-1.2 2 3.3 2-1.5 2 5 2 1.2 2 3.5 2-4.8 2 2.8 2-1.8 2-.5 2-.6 2 4.2 2-1.3 2 0 2 .3 2 .7 2 1.5 2 3.9 2-4.6 2 1.8 2 3.9 2 1.1 2 2.1 2-.5 2-2.5 2-1.7 2 2.4 2-1.1 2 0 2-2.7 2 .5 2 2.7 2-.8 2 1 2 5.7 2-3.8 2 6.3 2-.4 2-1.2 2-1.3 2-1.8 2 3.5 2 2.5 2 .1 2-.1 2 3.1 2 2.4 2-2.3 2 1 2 .6 2-2.6 2 0 2 1.3 2 1.6 2 .1 2 4.6 2-3.9 2-1.1 2 2.3 2 .3 2-1 2 1 2-.2 2 .7 2 2.5 2-1.8 2 1.5 2-5.9 2 4.5 2-1.4 2 1.7 2 1.8 2-4.3 2 1.4 2-.7 2 1.4 2-3.3 2 4.4 2-.9 2 .7 2 1.5 2-3.1 2-.7 2-.7 2-1.2 2 5.3 2-2.8 2-.7 2 2.4 2-3 2-2.5 2 2 2 .7 2 2.5 2-4.4 2 4.9 2-1.8 2 2.8 2-4.1 2 5 2 .2 2 2.1 2-.7 2-1.1 2 3.6 2-2 2 .9 2 1.8 2 2.9 2 1.1 2 .9 2-6.5 2 2.3 2-2.2 2 .3 2-1.8 2-1 2-1.4 2 .3 2-3.3 2 5 2-.8 2 .5 2-4.3 2-1.2 2 3.9 2-5.7 2 7.1 2-2.1 2 2.7 2 1.6 2-5 2-3.1 2 3.3 2-1.8 2-1.7 2 6.2 2-2.9 2-1.2 2 2 2-4.3 2 2.8 2-3.4 2 1.1 2-1.4 2 1.1 2 2.9 2-3.5 2-4.3 2 2.1 2 .7 2-1.3 2 3.3 2-1.6 2 1.5 2 2.8 2-1.5 2 .5 2-1 2 .1 2 2.7 2 1.8 2 2.1 2-1.3 2 .1 2-3.2 2 3.4 2 2.9 2-4.2 2 0 2 5.4 2-.7 2 2 2 1.4 2-1.5 2 1 2 .5 2-7.2 2 3.4 2 .6 2-1.9 2 2.9 2-1.2 2 6.3 2-2.9 2-2.7 2 2.3 2-.1 2 .2 2 1.6 2-3.7 2 4.1 2-.5 2 3.2 2-3.2 2 3.7M220 508.8l2-1.7 2 1.5 2-5.4 2-2.2 2 2.7 2 1.4 2-.4 2-.4 2 4.3 2 1.1 2-1.9 2-.9 2 .8 2 5.4 2 .7 2-4.3 2-1.5 2-.6 2 .2 2 1 2-3 2 3.4 2-6.4 2-.2 2 .4 2-.8 2 3.3 2-1.7 2-2.5 2-2.4 2 2.6 2-3.8 2-2.5 2 5.1 2-.8 2-3.7 2-1.2 2 2 2-2.6 2-1.9 2 5.1 2-3.3 2 2.4 2-.5 2-.7 2 .8 2-4.3 2 2.1 2-1.3 2 2.6 2-.5 2 1.2 2 .4 2-.2 2 .2 2-3.7 2 .5 2-.1 2-3.6 2 2.3 2 1.4 2-1 2-.6 2 .3 2-3.9 2-3.3 2 6.7 2-3.3 2 2.3 2-2.4 2 4.7 2-3.1 2 4.1 2 .8 2-2.7 2-1.6 2 1.5 2-.7 2-.9 2 .5 2-1.5 2 2.8 2-7.7 2 4.3 2 2 2-3.5 2-.7 2 3 2-.9 2-4.4 2 .6 2 .4 2 4 2-4 2-4 2 4.5 2 .3 2-2.3 2 1.6 2 .6 2-1.1 2-1 2 3.1 2-1.8 2 .9 2-1.2 2 1.6 2 1.4 2-1.8 2 3 2 2.3 2 2.7 2 5.8 2 3.6 2 1.2 2 1.1 2 2.8 2-.6 2-2.1 2 3.1 2-2 2 2.7 1-.4 1-2.2 1-.7 1 1.4 1 3.2 1 .9 1 .5 1-1.4 1-4.8 1-1.8 1 .7 1-.1 1-1.1 1-5.6 1-3.4 1-1.5 1-7.4 1-5.3 1-1 1 0 1-2.5 1-2.9 1-4.2 1-4.6 1-.9 1-1.8 1-6 1-1.2 1-.6 1-1.8 1 3.3 1 3.1 1-1.5 1 .7 1 2 1 0 1-.6 1-1.3 2 5.9 2-4 2 2.6 2-2.9 2 3.9 2 3 2 4.7 2-4.7 2 3.1 2-3.2 2 .1 2-2.2 2 5.5 2-2.1 2 .1 2 1 2 .7 2 2.2 2 4.2 2-5.5 2 1.4 2 4.9 2 1.6 2 1.2 2-1.9 2-1.5 2-1.7 2 1.1 2-1 2-.2 2-2.2 2 1.1 2 3.6 2-.9 2 1.5 2 6.9 2-4.7 2 5.5 2-.9 2-1 2-2.3 2-.8 2 3.3 2 3.5 2 .4 2-1.4 2 3.2 2 1 2-3 2 .8 2 2.5 2-2 2 2 2 .6 2 2.3 2-1.6 2 2.9 2-3.2 2-2.3 2 .3 2 1 2 .8 2 2.2 2-.4 2 1.8 2-.3 2-.1 2 2.1 2-3.6 2 2.2 2-1.5 2 1.8 2 .8 2-3.6 2 1.4 2-1 2 3.1 2-4.8 2 4.8 2-2.1 2 1.5 2 2.2 2-4.3 2 1 2-2 2 1 2 2.8 2-3.8 2 0 2 3.4 2-2.4 2-1.6 2 3.1 2-3 2 2 2-4.7 2 4.6 2-2.6 2 3.3 2-3.6 2 3.7 2 1.9 2 1.8 2-.7 2-1.3 2 3 2 0 2-.8 2 4.7 2 2.7 2 1 2 1.2 2-5.4 2 1 2-4.5 2 1.9 2-2.1 2-1.4 2-.9 2 .7 2-3 2 4.4 2 .8 2 .5 2-4.7 2-2.1 2 3.2 2-5.3 2 4.4 2-.4 2 1.9 2 .9 2-2.5 2-2.5 2 2 2-1.6 2-2.5 2 4.7 2-.8 2-1.5 2 1.4 2-3.8 2 3.7 2-2.6 2-.1 2 .1 2 .4 2 2.3 2-4.3 2-3.2 2 .7 2 1.9 2-.1 2 1.9 2-1.9 2 .3 2 2.4 2-1.3 2 1.7 2 .1 2 1 2 2 2 1.3 2 1 2-1.2 2 .6 2-2.5 2 1.4 2 2.1 2-.5 2-.5 2 3.2 2-2.1 2 3.4 2 1.1 2-.5 2-2.3 2 2.6 2-6.5 2 4.4 2-1.4 2-1.5 2 2.9 2-2.1 2 5.7 2-2.7 2-1.1 2 2.3 2-1.5 2 .6 2 2.4 2-3.4 2 6.3 2 .1 2 .4 2-2.3 2 1.7" fill="none" stroke="#000" stroke-width="1.3" stroke-linejoin="round"/>
<path d="M445.2 500V342M443 488L444.5 512L446 478L448.5 520L450.2 546L451.5 505L453 514" stroke="#0000ff" stroke-width="2.2" fill="none" stroke-linejoin="round"/>
<path d="M445.6 486V421M442.5 490L444 478L445.6 500L447.6 530L449 498L451 520L452.5 506" stroke="#000" stroke-width="2.2" fill="none" stroke-linejoin="round"/>
<path d="M1031.0 455.9L1033.0 456.9L1035.0 460.7L1037.0 462.4L1039.0 460.2L1041.0 463.0L1043.0 464.4L1045.0 467.0L1047.0 463.6L1049.0 468.8L1051.0 467.9L1053.0 468.7L1055.0 471.0L1057.0 471.6L1059.0 470.4L1061.0 473.1L1063.0 471.4L1065.0 471.5L1067.0 470.9L1069.0 469.7L1071.0 469.6L1073.0 468.8L1075.0 467.4L1077.0 468.1L1079.0 465.1L1081.0 468.3L1083.0 464.7L1085.0 467.4L1087.0 468.1L1089.0 468.3L1091.0 470.0L1093.0 471.6L1095.0 470.6L1097.0 472.8L1099.0 470.7L1101.0 471.2L1103.0 470.6L1105.0 471.7L1107.0 471.1L1109.0 471.5L1111.0 472.8L1113.0 472.5L1115.0 470.3L1117.0 468.9L1119.0 465.9L1121.0 466.1L1123.0 464.6L1125.0 462.0L1127.0 461.3L1129.0 461.5L1131.0 460.9L1133.0 458.6L1135.0 455.7L1137.0 455.4L1139.0 456.9L1141.0 455.1L1143.0 453.5L1145.0 450.7L1147.0 447.0L1149.0 447.1L1151.0 446.4L1153.0 445.0L1155.0 448.5L1157.0 446.1L1159.0 446.3L1161.0 444.7L1163.0 442.5L1165.0 439.9L1167.0 440.3L1169.0 436.7L1171.0 437.5L1173.0 435.9L1175.0 436.5L1177.0 434.4L1179.0 434.0L1181.0 432.3L1183.0 431.0L1185.0 432.5L1187.0 436.6L1189.0 435.3L1191.0 437.2L1193.0 434.8L1195.0 436.2L1197.0 432.5L1199.0 431.4L1201.0 429.0L1203.0 426.5L1205.0 428.1L1207.0 427.2L1209.0 425.2L1211.0 430.3L1213.0 430.8L1215.0 431.0L1217.0 432.2L1219.0 431.2L1221.0 428.1L1223.0 423.4L1225.0 424.4L1227.0 425.1L1229.0 425.7L1231.0 430.2L1233.0 435.6L1235.0 440.6L1237.0 448.2L1239.0 449.0L1241.0 447.1L1243.0 439.9L1245.0 428.8L1247.0 417.1L1249.0 405.6L1251.0 397.3L1253.0 388.6L1255.0 385.5L1257.0 388.6L1259.0 395.5L1261.0 403.6L1263.0 415.9L1264.0 423.0L1265.0 427.5L1266.0 433.2L1267.0 436.0L1268.0 437.6L1268.0 446.6L1267.0 445.0L1266.0 442.2L1265.0 436.5L1264.0 432.0L1263.0 424.9L1261.0 412.6L1259.0 404.5L1257.0 397.7L1255.0 394.8L1253.0 398.5L1251.0 408.1L1249.0 417.6L1247.0 430.4L1245.0 443.4L1243.0 456.0L1241.0 464.9L1239.0 468.5L1237.0 469.4L1235.0 463.4L1233.0 460.1L1231.0 455.9L1229.0 452.2L1227.0 451.9L1225.0 451.2L1223.0 450.2L1221.0 454.7L1219.0 457.8L1217.0 458.8L1215.0 457.5L1213.0 457.2L1211.0 456.6L1209.0 451.5L1207.0 453.4L1205.0 454.2L1203.0 452.5L1201.0 455.0L1199.0 457.3L1197.0 458.3L1195.0 461.9L1193.0 460.5L1191.0 462.8L1189.0 460.9L1187.0 462.0L1185.0 457.9L1183.0 456.3L1181.0 457.4L1179.0 458.8L1177.0 458.7L1175.0 460.2L1173.0 459.0L1171.0 460.0L1169.0 458.6L1167.0 461.6L1165.0 460.6L1163.0 462.6L1161.0 464.2L1159.0 465.2L1157.0 464.4L1155.0 466.2L1153.0 462.1L1151.0 462.8L1149.0 462.7L1147.0 461.8L1145.0 464.5L1143.0 466.4L1141.0 466.9L1139.0 467.8L1137.0 465.4L1135.0 465.1L1133.0 467.6L1131.0 469.7L1129.0 470.2L1127.0 469.9L1125.0 470.5L1123.0 473.0L1121.0 474.4L1119.0 474.0L1117.0 477.0L1115.0 478.3L1113.0 480.4L1111.0 480.5L1109.0 479.2L1107.0 478.7L1105.0 479.2L1103.0 478.0L1101.0 478.4L1099.0 477.9L1097.0 480.0L1095.0 477.8L1093.0 478.7L1091.0 477.1L1089.0 475.4L1087.0 475.2L1085.0 474.4L1083.0 471.7L1081.0 475.3L1079.0 472.0L1077.0 475.1L1075.0 474.3L1073.0 475.7L1071.0 476.5L1069.0 476.6L1067.0 477.7L1065.0 478.3L1063.0 478.2L1061.0 479.9L1059.0 477.2L1057.0 478.3L1055.0 477.8L1053.0 475.4L1051.0 474.6L1049.0 475.4L1047.0 470.3L1045.0 473.6L1043.0 471.0L1041.0 469.5L1039.0 466.8L1037.0 469.0L1035.0 467.2L1033.0 463.4L1031.0 462.4Z" fill="#0000ff"/>
<path d="M1368.0 421.9L1370.0 423.2L1372.0 424.3L1374.0 425.0L1376.0 425.8L1378.0 426.8L1380.0 428.8L1382.0 429.7L1384.0 432.5L1386.0 435.4L1388.0 437.1L1390.0 437.7L1392.0 441.1L1394.0 445.1L1396.0 443.0L1398.0 444.2L1400.0 443.0L1402.0 446.9L1404.0 450.5L1406.0 450.7L1408.0 454.2L1410.0 451.6L1412.0 453.3L1414.0 456.1L1416.0 454.2L1418.0 453.4L1420.0 454.3L1422.0 450.6L1424.0 451.1L1426.0 454.1L1428.0 454.0L1430.0 451.8L1432.0 450.1L1434.0 452.0L1436.0 451.1L1438.0 447.1L1440.0 451.8L1442.0 450.2L1444.0 451.1L1446.0 452.1L1448.0 452.8L1450.0 457.6L1452.0 455.2L1454.0 455.7L1456.0 458.8L1458.0 460.4L1460.0 460.4L1462.0 463.7L1464.0 466.6L1466.0 468.2L1468.0 470.0L1470.0 471.1L1472.0 472.8L1474.0 472.6L1476.0 475.6L1478.0 476.8L1480.0 478.4L1482.0 480.0L1484.0 483.2L1486.0 480.3L1488.0 482.0L1490.0 482.6L1492.0 485.7L1494.0 484.8L1496.0 486.1L1498.0 487.8L1500.0 486.7L1502.0 486.7L1504.0 486.8L1506.0 488.8L1508.0 488.7L1510.0 489.3L1512.0 488.9L1514.0 493.0L1516.0 492.4L1518.0 491.8L1520.0 492.2L1522.0 490.8L1524.0 488.9L1526.0 488.8L1528.0 488.5L1530.0 487.8L1532.0 484.7L1534.0 484.3L1536.0 482.8L1538.0 482.0L1540.0 478.1L1542.0 477.0L1544.0 474.2L1546.0 473.1L1548.0 469.7L1550.0 469.9L1552.0 468.5L1554.0 464.1L1556.0 466.0L1558.0 462.9L1560.0 463.7L1562.0 462.1L1564.0 459.5L1566.0 458.7L1568.0 459.6L1570.0 455.5L1572.0 453.5L1574.0 452.9L1576.0 450.7L1578.0 453.5L1580.0 450.0L1582.0 446.5L1584.0 447.8L1586.0 445.9L1588.0 444.1L1590.0 440.8L1592.0 439.9L1594.0 439.5L1596.0 438.1L1598.0 437.2L1600.0 433.2L1602.0 435.1L1604.0 430.7L1606.0 428.2L1608.0 429.0L1610.0 425.3L1612.0 420.1L1614.0 421.9L1616.0 419.8L1618.0 416.9L1620.0 415.9L1622.0 412.1L1624.0 411.1L1626.0 410.0L1628.0 408.6L1630.0 407.5L1632.0 404.2L1634.0 403.5L1636.0 404.4L1638.0 401.3L1640.0 401.8L1642.0 402.7L1644.0 404.4L1646.0 406.1L1648.0 408.6L1650.0 411.2L1652.0 414.3L1654.0 413.8L1656.0 415.1L1658.0 417.3L1660.0 416.0L1662.0 416.1L1664.0 416.8L1666.0 416.2L1668.0 416.9L1670.0 416.5L1672.0 415.6L1674.0 415.4L1676.0 413.0L1678.0 415.2L1680.0 414.6L1682.0 416.3L1684.0 415.0L1686.0 418.0L1688.0 418.3L1690.0 420.4L1692.0 421.3L1694.0 424.0L1696.0 426.4L1696.0 451.6L1694.0 449.1L1692.0 446.4L1690.0 445.4L1688.0 443.3L1686.0 442.9L1684.0 439.8L1682.0 441.0L1680.0 439.3L1678.0 439.9L1676.0 437.6L1674.0 439.9L1672.0 440.0L1670.0 440.9L1668.0 441.2L1666.0 440.5L1664.0 441.0L1662.0 440.2L1660.0 440.1L1658.0 441.3L1656.0 439.1L1654.0 437.7L1652.0 438.2L1650.0 434.9L1648.0 432.3L1646.0 429.8L1644.0 427.9L1642.0 426.3L1640.0 425.3L1638.0 424.7L1636.0 427.7L1634.0 426.8L1632.0 427.3L1630.0 430.5L1628.0 431.5L1626.0 432.9L1624.0 433.8L1622.0 434.7L1620.0 438.5L1618.0 439.4L1616.0 442.2L1614.0 444.1L1612.0 442.3L1610.0 447.3L1608.0 451.0L1606.0 450.1L1604.0 452.5L1602.0 456.8L1600.0 454.8L1598.0 458.8L1596.0 459.5L1594.0 460.8L1592.0 461.1L1590.0 461.9L1588.0 465.1L1586.0 466.9L1584.0 468.7L1582.0 467.3L1580.0 470.7L1578.0 474.1L1576.0 471.2L1574.0 473.3L1572.0 473.8L1570.0 475.7L1568.0 479.7L1566.0 478.8L1564.0 479.5L1562.0 482.0L1560.0 483.6L1558.0 482.7L1556.0 485.8L1554.0 483.9L1552.0 488.3L1550.0 489.7L1548.0 489.5L1546.0 492.9L1544.0 494.0L1542.0 496.8L1540.0 497.9L1538.0 501.8L1536.0 502.6L1534.0 504.1L1532.0 504.5L1530.0 507.6L1528.0 508.3L1526.0 508.6L1524.0 508.7L1522.0 510.6L1520.0 512.0L1518.0 511.6L1516.0 512.2L1514.0 512.8L1512.0 508.6L1510.0 508.8L1508.0 508.1L1506.0 508.0L1504.0 505.8L1502.0 505.4L1500.0 505.3L1498.0 506.2L1496.0 504.2L1494.0 502.7L1492.0 503.4L1490.0 500.2L1488.0 499.3L1486.0 497.4L1484.0 500.1L1482.0 496.6L1480.0 494.9L1478.0 493.1L1476.0 491.7L1474.0 488.5L1472.0 488.4L1470.0 486.5L1468.0 485.2L1466.0 483.2L1464.0 481.5L1462.0 478.4L1460.0 474.9L1458.0 474.7L1456.0 473.1L1454.0 469.9L1452.0 469.4L1450.0 471.6L1448.0 466.7L1446.0 466.0L1444.0 465.0L1442.0 464.0L1440.0 465.5L1438.0 460.7L1436.0 464.6L1434.0 465.5L1432.0 463.5L1430.0 465.2L1428.0 467.2L1426.0 467.3L1424.0 464.2L1422.0 463.7L1420.0 467.3L1418.0 466.2L1416.0 467.0L1414.0 468.9L1412.0 466.0L1410.0 464.3L1408.0 466.8L1406.0 463.3L1404.0 463.1L1402.0 459.5L1400.0 455.6L1398.0 456.8L1396.0 455.6L1394.0 457.7L1392.0 453.7L1390.0 450.3L1388.0 449.7L1386.0 448.0L1384.0 445.1L1382.0 442.3L1380.0 441.4L1378.0 439.4L1376.0 438.4L1374.0 437.6L1372.0 436.9L1370.0 435.8L1368.0 434.4Z" fill="#0000ff"/>
<path d="M1031 455.2l2 2.4 2 3.7 2 1.7 2-3.5 2 3.4 2 .6 2 4.9 2-4.8 2 5.3 2-1.6 2 1.5 2 2.6 2 .5 2-2.4 2 3.1 2-2.2 2 1 2-.9 2-2.3 2 1.2 2-1.1 2-1.9 2 0 2-2.7 2 2.9 2-3 2 2 2 .8 2 .1 2 1.8 2 2.6 2 .1 2 2.1 2-1.9 2 .8 2-1 2 1.8 2-1.5 2 .3 2 1.2 2 .4 2-2.8 2-2 2-2.4 2 1.1 2-3.3 2-1.4 2-1.2 2 1 2-2.1 2-1.6 2-2.7 2 .3 2 .7 2-2.7 2-2.8 2-4.1 2-2.9 2 1.3 2 .4 2-1.9 2 3.4 2-2.5 2-.7 2-1.2 2-.8 2-2.6 2-.3 2-3.4 2 .8 2-1.9 2 1.5 2-2.4 2-.3 2-1.8 2-2.2 2 .8 2 4.9 2-1.3 2 .9 2-2 2 1.3 2-3.6 2-.2 2-1.7 2-2.2 2 .9 2-3.8 2-2.6 2 5.7 2 1.3 2 2.1 2 1.7 2 .9 2-4.7 2-6.4 2 1.8 2-1.3 2-1.7 2 4.8 2 6.9 2 7.4 2 8.9 2 1.9 2-2.1 2-6.7 2-11.4 2-12.2 2-12 2-8.8 2-10.2 2-2.5 2 3.4 2 7.3 2 8.6 2 11.3 1 6.9 1 5.3 1 6.3 1 2.9 1 1.7 1 4.1 1 2.4 1 2.9 1 4.1 1 2.2 1 1.8 1 4.4 1 4.2 1 1.7 1 1.3 1 3.2 1 4 1 1.7 1 2.1 1 1.8 1 3.1 1 4 1 2 1 3.3 1 1.8 1-1.1 1 2.1 1 2.1 1-.2 1 1.6 1-.3 1-1.4 1-1.1 1-.4 1-.9 1-4.2 1-.3 1 2 1-.3 2-2.7 2-4.8 2-1.6 2-3.2 2 .6 2-4.2 2-4 2-2.4 2-5 2 1.5 2-3 2-3.8 2-.2 2-3.2 2-2.3 2-.5 2-4.3 2-2.2 2-.8 2-1.6 2-3.8 2-4.9 2-1.8 2-1.7 2-2.4 2-.7 2-.8 2-2.1 2-.1 2-1.4 2-.5 2-1.8 2-.4 2 1.2 2 .4 2 .9 2 1.5 2 1.6 2 2.5 2-.5 2 3.4 2 2.6 2 1.1 2 1.7 2 2.5 2 4.2 2-3 2 2.6 2-1 2 3.4 2 4.3 2-.3 2 3.6 2-3.3 2 1.3 2 2.1 2-2 2 .1 2 1.3 2-2.9 2-.1 2 2 2-.8 2-1.3 2-1.9 2 2.2 2-1.8 2-2.8 2 4.5 2-1.5 2-.2 2 1.5 2 .2 2 4.6 2-2.3 2 .3 2 3.2 2 1.5 2 .9 2 4.6 2 3.1 2 2.5 2 1.2 2-.6 2 2.5 2-1.1 2 2.8 2 1.4 2 3.1 2 1.2 2 1 2-2.6 2 1.5 2 .7 2 3.1 2-.7 2 1.6 2 2.5 2-.2 2-1.7 2-.2 2 1.7 2 .7 2 0 2 .8 2 5.5 2-1.9 2-.1 2-.3 2-3.6 2-3.4 2 1.3 2-.8 2 .9 2-3.1 2-.4 2-1 2-1.1 2-3.6 2-1.8 2-2.2 2-2.2 2-1.9 2 1.1 2-1 2-4.9 2 1.7 2-3.5 2-.7 2-1.9 2-3.8 2-.4 2-.1 2-3.5 2-.9 2-.7 2-2.2 2 2.5 2-2.5 2-3.5 2 1.3 2-2.3 2 0 2-3.2 2-.8 2-1.6 2-1.2 2-1.2 2-3.4 2 2.9 2-3.8 2-2.3 2 .2 2-3.3 2-6.1 2 2.4 2-2.6 2-3 2-.2 2-4.2 2-.9 2-.3 2-2.2 2-2.3 2-5.4 2-2.3 2 1 2-2 2 .6 2 .6 2 1.6 2 .9 2 4.1 2 4.9 2 3.5 2-.4 2 2.1 2 1.1 2-1.3 2-1.6 2 1.7 2-.4 2 1.3 2-1.5 2-1.2 2-.7 2-3 2 4 2-1.3 2 2.2 2 .3 2 2.3 2-1.5 2 2.1 2 .7 2 5.6 2 3M1031 454.9l2 2.6 2 3.1 2 2.2 2-1.6 2 2.2 2 1 2 1.7 2-2.9 2 5.1 2-.7 2 1.5 2 .8 2 1 2-.5 2 2.9 2-1.9 2 1 2-.6 2-1.8 2 .8 2-1.3 2-1.5 2 1.9 2-3.8 2 2.8 2-3.7 2 1.9 2 .3 2 .5 2 2.2 2 2.3 2-1.2 2 1.7 2-1.3 2 .2 2-1.3 2 1.3 2-1.1 2 .7 2 1.6 2-.9 2-1.7 2-2 2-2.9 2 1.1 2-1 2-2.8 2-.5 2-.6 2-1.8 2-2.1 2-2.6 2 .2 2 .3 2-1.6 2-1.9 2-3.6 2-3.6 2-.1 2-1 2 .3 2 5.9 2-2.1 2 1.1 2-2.4 2-3.6 2-.9 2 2.9 2-4.6 2 .2 2-3.1 2-.5 2-2.1 2 .1 2-1.6 2-2.8 2 .6 2 3.4 2 .1 2 3.1 2-2.3 2 1.7 2-3.8 2-1.3 2-1.2 2-3.1 2 1.7 2-1.8 2-1.7 2 3.4 2 1.3 2 .4 2 1.7 2 .4 2-3.9 2-5.2 2-1.2 2 .3 2 .6 2 3.7 2 7 2 6.1 2 8.7 2-.5 2-2.8 2-5.7 2-11.6 2-11.5 2-10.6 2-9.2 2-9.1 2-2.6 2 3 2 6.5 2 8.9 2 12.3 1 8.2 1 4.2 1 4.8 1 3.3 1 1.8 1 3.9 1 2.8 1 3.2 1 4.1 1 3.6 1 3.7 1 5.1 1 4 1 2.4 1 2.6 1 2.7 1 4.2 1 3.6 1 2.8 1 2.1 1 3.1 1 3.6 1 .5 1 2.5 1 2.6 1 .2 1 2.4 1 .8 1-.3 1 .8 1-1.2 1-.8 1 .4 1-1.6 1-2.7 1-4.2 1-2.7 1 1.6 1 1 2-1.7 2-3.4 2-2.9 2-3 2-.5 2-6.4 2-2 2-3.1 2-3.6 2 1.4 2-3.1 2-4 2-2.4 2-1.5 2-3.2 2-2.7 2-4.4 2-2.1 2 0 2-2.6 2-4 2-3.8 2-2.8 2-.2 2-.8 2-2.6 2-.2 2-2.9 2 1 2-2 2-2.6 2-2.8 2-.8 2 .4 2 2.3 2 2.4 2 .7 2 1.3 2 1.6 2 .4 2 2.3 2 2.4 2 1.6 2 2.1 2 4.5 2 3.2 2-2.3 2 0 2-1.2 2 5 2 3 2 .5 2 3.3 2-2.1 2 .6 2 4.8 2-1.9 2-.6 2 .3 2-4.7 2 .5 2 2.1 2 .5 2-2 2-1.6 2 1.5 2-1.5 2-3.9 2 4.4 2-1 2 .8 2 1.4 2 .6 2 6.4 2-3.4 2 .9 2 2.9 2 1.6 2-.8 2 3.2 2 3.3 2 .6 2 3.1 2 .4 2 1.9 2 .5 2 3.2 2 1.2 2 2 2 2.2 2 1.7 2-4.4 2 1.5 2 .2 2 2.5 2 0 2 .8 2 3.8 2-1.2 2 1.7 2-1.1 2 2.7 2-.4 2 .7 2 .9 2 4.9 2-3.2 2-.1 2 1.4 2-2.9 2-.7 2-.2 2-.8 2-.6 2-3.6 2-.4 2-1.2 2-.2 2-3.5 2-1.6 2-2.4 2-1.8 2-2.7 2 0 2-2.7 2-4.3 2 1.4 2-3.8 2 1.8 2-1.4 2-2.7 2-1 2 1.6 2-4.3 2-1.8 2 .6 2-2.4 2 3.1 2-4.4 2-2.9 2 .3 2-3 2-.9 2-4.6 2-.9 2-.3 2-1.4 2 .2 2-2.7 2 2.7 2-4.8 2-3.2 2 1.8 2-4.3 2-4.9 2 .3 2-1.8 2-4.6 2-1.1 2-2.9 2-.9 2-.6 2 1.8 2-.7 2-3.7 2-1.9 2-1 2-4.1 2 .8 2 3.2 2 1 2 1 2 .3 2 0 2 3.9 2 .9 2 2.7 2 2.5 2-.1 2 .9 2 1 2-.1 2 .3 2-2 2-.7 2 0 2-2.5 2 2 2-1.2 2 1.7 2-1 2 3.7 2-1 2 3.1 2 1.4 2 3.4 2 3.3M1031 456.8l2 .8 2 4.6 2 1.4 2-2 2 3.2 2 1.6 2 1.6 2-2.4 2 3.5 2-1.1 2 0 2 3.9 2 .8 2-1.2 2 3.1 2-1.9 2-.4 2-.8 2-.9 2-.4 2-.3 2-2.1 2-.1 2-3.1 2 3.8 2-3.2 2 2.2 2 1 2 .6 2 2 2 .2 2-1.3 2 2.6 2-2.6 2 2 2-.5 2 .7 2 .3 2 .2 2-.1 2 .2 2-2.7 2-.9 2-2.7 2 .7 2-2.7 2-2.9 2-.6 2 .9 2 .9 2-3.6 2-2.8 2-2.1 2 2.1 2-3 2-.6 2-3 2-3.5 2 2 2 .1 2-2.1 2 3.3 2-2.4 2 1 2-.8 2-.9 2-3.4 2 .4 2-4.1 2-1.6 2-3.7 2-1.5 2-.8 2 .5 2 .1 2 .5 2 1.7 2 2.7 2-1.4 2 3.7 2-3.7 2 2.7 2-5 2-1.8 2-3 2-4.1 2 3.2 2-1 2-1.9 2 4.8 2 1.1 2 .4 2 3.4 2 .1 2-2.2 2-4.2 2-.7 2 .9 2-1.4 2 3.3 2 3.8 2 5.8 2 9.7 2 1 2-1.8 2-8.4 2-12.3 2-12.3 2-11.8 2-6.6 2-8.9 2-2.6 2 3.8 2 6.5 2 7 2 12.2 1 7.2 1 4.3 1 5.3 1 3.5 1 1.7 1 2.7 1 2 1 1.4 1 1.8 1 2.6 1 .6 1 1.6 1 2.2 1-.2 1 0 1 1.4 1 3.3 1 1.8 1 1.1 1 1.3 1 2.6 1 4.1 1 2.6 1 2.8 1 1.4 1-.5 1 2.4 1 2.4 1-.1 1 1.2 1 .5 1-.7 1 .2 1 .4 1-1.5 1-2.3 1-.3 1 1.8 1 .8 2-.6 2-3.3 2-2.8 2-1.6 2 .6 2-5.5 2-2.2 2-2.2 2-3 2 3.1 2-2.7 2-2.3 2-2.8 2-1.7 2-1.9 2-.6 2-2.9 2-1.9 2 .2 2-2.3 2-3.9 2-4 2-1.6 2 .6 2-1.8 2-.1 2-.8 2-2.3 2 1 2-1.6 2-4 2-3.3 2-.4 2 2.2 2 1.8 2 .5 2 .8 2 1.5 2 1.6 2 1.4 2 3.4 2 1.9 2 2.6 2 .9 2 4.6 2 3.3 2-2.3 2-.2 2-1.4 2 3.4 2 2.3 2 1.2 2 4.3 2-1.4 2 1.6 2 2.8 2-2.7 2 .3 2 .6 2-4 2 .1 2 1.6 2 1.2 2-1.5 2-1.3 2 1.9 2-.9 2-2.9 2 4 2-1.3 2 1.1 2-.1 2 .9 2 4.9 2-2 2 .8 2 1.9 2 2.7 2 .2 2 1.6 2 1.9 2 1.3 2 2.9 2 1.6 2 3.6 2-1.4 2 3.4 2 .5 2 1.4 2 1.7 2 3.5 2-2.4 2 .5 2 1.7 2 1.8 2 .3 2-.2 2 3.6 2-1.7 2 1.2 2 2.2 2 1.7 2-1.2 2-.6 2-2.5 2 3.2 2 .3 2 .4 2 .5 2-1.1 2-2.7 2-.3 2-1.9 2-.7 2-3.6 2 .5 2-1.2 2-1.1 2-4.7 2-.1 2-1.5 2-1.4 2-.9 2-1.6 2-.4 2-5.6 2 2.2 2-4 2 2.5 2-2.3 2-4.3 2-.6 2 .8 2-3.5 2-1.3 2-1.4 2-1.9 2 4.5 2-3.5 2-3.1 2 .2 2-2.3 2-2 2-3.9 2 0 2 0 2-2.5 2-1.3 2-5.6 2 2.9 2-3.7 2-1.9 2 .9 2-4.8 2-5.3 2 2.5 2-.1 2-3.1 2-.6 2-3.7 2-1.7 2-1.3 2-2.3 2-2.6 2-3.3 2 .6 2 2 2-3.1 2 .9 2 .2 2 .9 2 2.6 2 2 2 4.2 2 2.2 2-.4 2 .6 2 1.1 2-.1 2 0 2 1.2 2-1.5 2-.2 2-.1 2 .9 2-1.8 2-3.1 2 1.3 2-1.2 2 .7 2 .2 2 6.5 2 .9 2 1.1 2-.4 2 1.6 2 1.3M1031 457.8l2-.5 2 4.9 2 1.5 2-1.2 2 .6 2 3.1 2 1.8 2-3.1 2 4.6 2-.2 2-.1 2 3.6 2-1.2 2-.3 2 2.9 2-1.3 2-1.1 2-1 2-1.9 2 1 2-2.1 2-.4 2 1.2 2-3.4 2 4 2-3.9 2 2.3 2 1.4 2 .7 2 1.1 2 1.4 2-.8 2 .9 2-2.2 2 .4 2 .4 2 2.7 2-2.2 2 .5 2 1.5 2-1.1 2-1.8 2-1.9 2-1.2 2 .3 2-1.8 2-2.6 2-.4 2-1.1 2-.7 2-1.9 2-2.7 2 .9 2 1.3 2-1.7 2-2.2 2-2.6 2-4.7 2 .7 2 .1 2-1 2 3.2 2-3.2 2-1 2 .5 2-1.8 2-1.3 2-.7 2-4 2-1.7 2-1.5 2 .8 2-1.1 2 .4 2-3 2 .5 2 3.2 2 4.4 2-1 2 1.4 2-4 2-.3 2-5 2-1.1 2-2.1 2-1.1 2 2.8 2-.4 2-2 2 2.8 2-.6 2-.2 2-.4 2 .7 2-4.2 2-4 2 .1 2 .7 2 .7 2 4.4 2 5.7 2 6.8 2 8.4 2 3.2 2-2.6 2-7.8 2-10.6 2-12.6 2-11 2-9.1 2-9.1 2-3.6 2 3.6 2 6.1 2 8.8 2 12.3 1 6.9 1 5.5 1 6.2 1 1.9 1 .5 1 3.7 1 2 1 1.1 1 1.9 1 .6 1-.8 1 1.1 1 .6 1 0 1-.7 1 .1 1 2.8 1 1.6 1 0 1 .1 1 2.7 1 3.8 1 2.7 1 2.8 1 2 1 .6 1 3.3 1 2.3 1 .6 1 1.6 1-.1 1 .5 1 1.5 1 .1 1-1.9 1-3.4 1-.6 1 3 1 .9 2-.6 2-2.8 2-2.2 2-2 2 1 2-5.3 2-1.2 2-1.6 2-2.3 2 1.5 2-2.3 2-1.3 2 0 2-1.3 2-3.5 2-.5 2-4 2-1.4 2 1.4 2-1.4 2-2.6 2-5.3 2-2.2 2-1.2 2-1.9 2-.7 2 .5 2-1.3 2 .5 2-3.2 2-1.2 2-3.8 2-.3 2 1.4 2 1.7 2 1.8 2-.1 2 2.4 2 2 2 2.1 2 3.2 2 1.9 2 1.8 2 .5 2 3.5 2 4.3 2-2.4 2 .7 2-1.8 2 2.8 2 3.4 2-.8 2 4.9 2-1.9 2 2 2 1.8 2-1.2 2-.8 2-.3 2-1.4 2-.6 2 2.2 2-1 2-.8 2-1.3 2 3 2-1 2-6 2 5 2-1.1 2 1.8 2 0 2 .7 2 4.6 2-2.6 2-1 2 4.3 2 2.9 2 1 2 1.6 2 3.2 2 0 2 1.5 2 1.7 2 4.4 2-.6 2 3 2-.3 2 2.4 2 1.4 2 4.6 2-1.5 2 .1 2-.1 2 3.2 2-.3 2 2.2 2 .2 2-3.2 2-1.3 2-1 2 2.9 2 .5 2 2.4 2 .3 2 3.9 2 1.3 2-1.7 2 1.3 2-1.3 2-2.3 2-.3 2-.5 2-1.3 2-1.6 2-1.2 2-1.9 2-.6 2-5.3 2-1.6 2-1.5 2-.8 2-3.2 2-1.2 2-.8 2-5.2 2 3.8 2-1.8 2 1.5 2-1.5 2-1.9 2-3.7 2 .5 2-6.8 2-2 2-1.3 2-1.1 2 2.8 2-3 2-3.1 2 1.4 2-.4 2-2.5 2-3.9 2-.8 2 0 2-1 2-.3 2-2.8 2 2.7 2-4.1 2-3.6 2 .5 2-3.6 2-6.1 2-.9 2-1.9 2-2.1 2 .5 2-4.3 2-1.3 2-3.1 2-1.6 2 .8 2-2.2 2-1.5 2-.6 2-3.4 2 2.8 2 2.9 2 2.3 2 1.8 2 1.8 2 2.9 2 2.3 2 .2 2 .2 2 1.9 2-2.6 2-1.2 2 .6 2-.7 2 1.5 2 .5 2-1.6 2 .8 2-2 2 3.1 2-1.6 2 1.9 2-1 2 2.7 2 0 2 .9 2 1.3 2 3.2 2 3.4M1031 457.2l2 .3 2 3.2 2 2.5 2-2.6 2 3.1 2 .7 2 3.3 2-3.6 2 6.2 2-.5 2 .1 2 2.5 2 .3 2-1.8 2 2.1 2-1 2 .8 2-.9 2-1.1 2-.4 2 .1 2-1.8 2 .5 2-2.4 2 1.7 2-3.1 2 2.4 2 .9 2 1.1 2 .9 2 1.8 2-.2 2 1.7 2-1.6 2 .6 2-1.2 2 .8 2-1 2-.3 2 2.2 2 .9 2-2.5 2-1.2 2-3.1 2 .1 2-2 2-3.1 2 0 2-.2 2-.2 2-3 2-1.7 2-.3 2 1.5 2-1 2-.6 2-2.9 2-3.3 2 1.2 2-.5 2-2.5 2 3.3 2-3 2 .8 2-1.9 2-2.9 2-4.1 2 2 2-2.5 2 1.6 2-1.9 2-.4 2-2.8 2 .4 2-1.8 2-.9 2 2.8 2 3.6 2-1.3 2 1.5 2-2.7 2 1.6 2-5.2 2-2.2 2-2.2 2-.9 2 2.7 2-.5 2-1.2 2 4.5 2-1 2-.8 2 .7 2-1.8 2-1.8 2-5.6 2 .7 2 2.1 2 1.2 2 3.6 2 6.1 2 4.4 2 7.6 2 1 2-4.3 2-7.9 2-10.8 2-11.5 2-12.2 2-6.7 2-9.1 2-3.5 2 4 2 7.2 2 7 2 12.3 1 7.3 1 5.7 1 5.4 1 2.2 1-1.8 1-.2 1-1.7 1-6.4 1-5 1-5.4 1-10.2 1-9.7 1-7.8 1-6.2 1-7.2 1-3.6 1-.4 1-1.9 1-1.3 1-2.1 1-.1 1 3.7 1 3.5 1 3.9 1 4.9 1 3 1 4.7 1 3.8 1 2.6 1 3.5 1 2.8 1 3 1 2.7 1 2.4 1 .5 1-1.4 1 2.7 1 4.9 1 3.1 2 3.9 2 1.1 2 1.6 2 1.4 2 3.8 2-2.2 2-.2 2 .7 2-1.6 2 4.1 2-2.9 2-.5 2-.4 2-1.6 2-.1 2-.5 2-1.5 2 .1 2 2.6 2 .3 2-1.4 2-1 2-.1 2 1.3 2 0 2 0 2 1.2 2 .4 2 2 2-2 2-1.9 2-2.2 2 .7 2 .2 2 1.3 2-1.1 2 .5 2 1.3 2 4 2-.6 2 5 2 1.7 2 1.8 2 1.8 2 3.3 2 4.2 2-2.1 2 1.1 2-.7 2 2.7 2 4.9 2-.9 2 2.9 2-3.3 2 .6 2 2.4 2-2.8 2-.5 2 2.1 2-2 2 1.3 2 3.7 2-1 2-2 2-1.5 2 1.3 2-1.3 2-3.6 2 5 2-3.1 2 .8 2-.3 2 .9 2 5.1 2-1.2 2 .3 2 2.9 2 2.4 2 .2 2 3.8 2 2.9 2 1.3 2 2.8 2 1.1 2-.8 2 .8 2 1.6 2 2.1 2 1.9 2 2.8 2 3.6 2-1.8 2 .8 2-.2 2 1.2 2-.2 2 1.1 2 1.2 2 .3 2 1.5 2-.6 2 2.9 2-1 2 .9 2-.2 2 3.9 2-1.7 2-1.4 2 .2 2-1.4 2-1.5 2 .4 2 1.4 2-2.6 2-3.9 2-.8 2-1.4 2-.3 2-3.4 2-1 2-.9 2-2.1 2-3.6 2-1.8 2-2.2 2-3.9 2 2.6 2-2.3 2 .2 2-1.5 2-4 2-.4 2 2.3 2-4 2-1.8 2 .7 2-1.8 2 1.9 2-4.3 2-2.4 2 1.4 2-2.5 2-2.8 2-2.5 2-1.1 2 1.4 2-3.6 2 .8 2-3.8 2 3.2 2-4.5 2-3.2 2-.6 2-3.6 2-5.3 2 2 2-2.6 2-2.4 2-3.3 2-4.5 2-.9 2-.7 2-1 2 1 2-1.4 2 1.1 2 .9 2-3.9 2-.3 2-.4 2 .9 2 1.5 2-.4 2 1 2 2.2 2-.9 2 2.1 2 4.1 2 1.4 2 1.3 2 2.1 2-1.7 2 1.5 2-1.2 2-1.6 2-1 2-3.4 2 2.8 2-2.2 2 2.3 2-.8 2 2.4 2 .2 2-.3 2 2.1 2 3.9 2 4.2M1031 457.9l2 .8 2 4.1 2 1.6 2-2.8 2 2.3 2 1.8 2 1.7 2-2.1 2 4.3 2 0 2 .3 2 2.5 2 .6 2-1 2 2.5 2-2.1 2 .4 2-.3 2 0 2-1.5 2-.6 2-1 2 .3 2-3.4 2 3 2-2.8 2 2.1 2 .9 2 .9 2 1.9 2 .3 2-.2 2 2.6 2-2.4 2 1.5 2-.8 2-.1 2-1.9 2 1.6 2 1.5 2-2.5 2-.9 2-1.4 2-2.7 2 1.2 2-.3 2-3.3 2-.2 2 .2 2-.6 2-3 2-2.5 2 .1 2 1.5 2-3.6 2-1.6 2-1.2 2-2.7 2 .6 2-1.8 2-1.7 2 3.3 2-2.1 2 0 2-2 2-.2 2-2 2 .5 2-3 2 .9 2-1.1 2 .5 2-3.9 2-.5 2-2.6 2-.1 2 .3 2 4.4 2-.8 2 3.1 2-2.2 2 .4 2-2.6 2-2 2-2.1 2-3 2 2 2-1.8 2-2.4 2 3.3 2 1.1 2 .8 2 2.2 2-1.2 2-2.3 2-6.3 2 1.7 2 0 2 1.4 2 4.3 2 7.3 2 6.8 2 7.8 2-1 2-3 2-8.4 2-11.2 2-12.1 2-11.4 2-9.3 2-8.2 2-4.8 2 3.3 2 7.4 2 8.6 2 12.2 1 7 1 5 1 5.1 1 1.9 1-5.5 1-3.3 1-6.1 1-16.7 1-17 1-23.9 1-28.6 1-21.7 1-12.7 1-14.1 1-14.5 1-7 1-5 1-7 1-3.4 1-3.3 1-1.5 1 5.4 1 3.7 1 5.6 1 4.4 1 2.9 1 7 1 6.2 1 5.1 1 5.1 1 4.8 1 4.5 1 3.5 1 4.7 1 4.2 1 1.8 1 4.8 1 7.6 1 6.6 2 9.5 2 9.3 2 9.1 2 8.6 2 9.2 2 0 2 4.8 2 .8 2-2.3 2 2.4 2-1.8 2-.6 2 .2 2 .9 2 2.8 2 3.3 2 2.1 2 4.4 2 6.5 2 4 2 2 2-.3 2 2.4 2 5 2 2 2 3.1 2 2.4 2 1.1 2 2.5 2-2 2 2 2-1.7 2-.6 2 1.3 2 .2 2-.1 2 1.1 2 2.2 2 .7 2 .7 2 3.1 2 2.5 2 2.2 2 .4 2 3.6 2 4.3 2-2.4 2 2.5 2-.8 2 3.4 2 2.8 2 1.1 2 3.2 2-2 2 1.6 2 4 2-2.4 2-.5 2 1.6 2-3.6 2 .3 2 1.9 2 1.4 2-2.3 2-4.1 2 1.7 2-.8 2-2.6 2 4.1 2-1 2-.3 2 .7 2-.9 2 5.5 2-1.6 2 .3 2 3.6 2 1.5 2-.1 2 3.3 2 3.9 2 .7 2 1 2 1.6 2 1.1 2 1.6 2 3.4 2 1.4 2-.1 2 2.1 2 3.1 2-4.5 2 2.4 2 .7 2 2.4 2-.8 2 1.7 2 2.3 2 .2 2 1.6 2-.8 2 1.8 2-.6 2-.4 2-.4 2 4.9 2-.3 2-.6 2 .8 2-.9 2-3.7 2 .6 2-.9 2 .4 2-2.6 2 .9 2-1.2 2-1.6 2-4.1 2-3 2-3.2 2 .7 2-3.3 2 .3 2-2.2 2-5.7 2 2.7 2-3.5 2 1.5 2-1.2 2-2.1 2 .4 2-.4 2-4.1 2-4 2-1.4 2-.4 2 4.6 2-3.3 2-3.4 2-1.8 2-1.4 2-2.5 2-3.4 2 .4 2-.4 2 0 2 1.5 2-4.1 2 1.4 2-5.1 2-3.8 2-.6 2-2.7 2-3.8 2 3.1 2-1.2 2-2.4 2-2.4 2-3 2-2.3 2-1.4 2-1.3 2-2.4 2-3.2 2-.8 2 2.2 2-4.8 2 .4 2 .1 2 .6 2 2.1 2 4.5 2 4.9 2 2.4 2-.9 2 1.4 2-.1 2 .9 2-.3 2 1.8 2-1.1 2-.4 2-1.6 2-.8 2-1.2 2-2 2 1.8 2 .4 2 3.2 2-.4 2 3.9 2-.9 2 2.7 2 1.2 2 1.9 2 1.7M1031 458l2 .6 2 4.4 2 1.6 2-2.9 2 3.5 2 1.2 2 3.5 2-3.4 2 4.2 2-1.2 2 1.2 2 1.5 2 .3 2-1.4 2 3.2 2-1.7 2-.3 2 .4 2-1.6 2-.3 2-.6 2-1.6 2 .4 2-2.9 2 3.9 2-2.6 2 1.9 2 .7 2 .1 2 1.2 2 1.6 2 .2 2 1.8 2-3 2 2.1 2-2.1 2 1.4 2-1.3 2 .9 2 2.1 2-.5 2-2 2-1.2 2-3.8 2 .5 2 .3 2-2.7 2-2.2 2 .3 2-1.2 2-2.2 2-2.3 2-1.6 2 2 2-1.2 2-.1 2-2.4 2-4.3 2 .8 2-.4 2-1.1 2 3.7 2-3.3 2-.1 2-.5 2-2.3 2-.5 2 .7 2-3.7 2 1.1 2-.5 2-1.1 2-2.7 2-1.4 2-2 2-1 2 3.1 2 4.1 2-1.4 2 2.4 2-3.2 2 1 2-1.8 2-1.8 2-2 2-1.4 2 1.2 2-3.3 2-2.2 2 3.3 2 .5 2 .9 2-.5 2-.3 2-2.7 2-4.4 2-.1 2 1.9 2 .9 2 5.1 2 5.2 2 6 2 9.7 2 .7 2-4.2 2-8.3 2-10.9 2-13.8 2-12.6 2-7.8 2-10.3 2-1.9 2 3.9 2 6.1 2 8 2 12.1 1 7.7 1 5.2 1 5.2 1 1.8 1-5.2 1-2.5 1-3.1 1-13.4 1-13.8 1-17.3 1-22.4 1-18.2 1-9.6 1-11.3 1-12.1 1-3.9 1-3.4 1-5.3 1-1.4 1-2.8 1-1.3 1 5.7 1 3.2 1 4.8 1 4.2 1 1.9 1 6.5 1 5.2 1 3.3 1 4.9 1 3.9 1 3 1 3.9 1 3.6 1 2.6 1 1.1 1 3.7 1 6.7 1 4.6 2 9.2 2 6.2 2 6.8 2 6.6 2 7.9 2-.5 2 3.2 2 .3 2-3.8 2 2.8 2-2.4 2-1.8 2 .5 2 1.4 2 2.2 2 3.2 2 .9 2 2.4 2 5.1 2 2.5 2 .5 2-.9 2 1.2 2 2.9 2 2.5 2 1.4 2 2.9 2 .8 2 2.4 2-2 2-1.1 2-2.4 2-.5 2 3.5 2 1.5 2 .9 2 .3 2 .6 2 .7 2 1.1 2 2.6 2 3.9 2 .8 2 1.7 2 2.8 2 5 2-2.1 2 1.6 2-.8 2 5.1 2 .5 2 .7 2 3.2 2-4.4 2 2.4 2 3.5 2-1.8 2-.3 2 .8 2-4.2 2-.3 2 2.9 2-.2 2-2.2 2 0 2 2.2 2-.7 2-4.8 2 5 2-1.2 2 .9 2 .9 2 .5 2 4.2 2-1.2 2 .2 2 4.4 2 1.3 2 .1 2 3.5 2 2.3 2 2 2 .9 2 1.9 2 2.2 2-.1 2 4.1 2 .1 2 .7 2 2.6 2 2.7 2-3 2 .4 2 1 2 4 2-.7 2 2 2 1.6 2-2 2-1.4 2 .5 2 2.4 2 1.7 2 2 2-.6 2 4.7 2-1.7 2-1.2 2-.7 2-.7 2-1.9 2-1.5 2-.2 2-.4 2-2.8 2 .5 2-.9 2 .1 2-5.4 2-2.3 2-3.8 2-3.1 2-3.8 2 .3 2-1 2-3.9 2 3.9 2-2.7 2 2.5 2-1.6 2-3.4 2 0 2 0 2-4.6 2-2.8 2-.5 2-2.1 2 3.6 2-1.6 2-3.5 2 1.9 2-2.5 2-4 2-5.5 2-.3 2 1.2 2 0 2-.2 2-3.9 2 2.2 2-5.2 2-1.8 2 1.4 2-4.4 2-5.6 2 1.5 2-4.1 2-3.6 2-1.7 2-2.4 2 .2 2-.8 2 .4 2-.5 2-1.3 2-1 2-.8 2-4.3 2 .7 2-.7 2 2.6 2 .1 2 2.1 2 3.2 2 4.8 2-1.1 2 1.4 2 1.3 2-.4 2 2.8 2 1 2-1.1 2-1.2 2-.3 2-1.2 2-1.8 2-3.6 2 2.2 2-.3 2 3.8 2-.7 2 1.4 2-.6 2 3.2 2 3 2 2.5 2 3.3M1031 457.9l2 1.1 2 3.9 2 1.8 2-2.6 2 2.7 2 2.2 2 2.6 2-4.1 2 5.8 2-.2 2-1 2 2.6 2 .3 2-1.3 2 2.1 2 .3 2-1 2-.3 2-.9 2-2 2-.2 2-1.9 2 1.4 2-2.9 2 4.9 2-4.4 2 3 2 .7 2 0 2 3.4 2 0 2-1.9 2 3.2 2-2.6 2-.3 2-.6 2 1.2 2-.1 2 1.1 2 .9 2-.5 2-1.6 2-1.4 2-3.4 2 1.2 2-1.4 2-3.8 2-.5 2-.3 2-.7 2-2.4 2-2.2 2 .1 2 2.8 2-.6 2-2 2-3.6 2-4.2 2 .5 2-.4 2-.9 2 4.1 2-3.3 2 .6 2-.3 2-2.1 2-4.1 2 2.2 2-4.3 2 .7 2-.9 2 .2 2-2.5 2 .3 2-2.2 2 .5 2 1.2 2 2.3 2-2.4 2 1.6 2-.4 2 1.4 2-4.4 2-.3 2-.9 2-.1 2 3.8 2-1.9 2-1.6 2 2.5 2-.1 2-.6 2-.6 2-.8 2-3.1 2-3.9 2 .1 2 .7 2-.4 2 4.3 2 5.2 2 4.6 2 7.8 2 1.9 2-2.9 2-7.5 2-12 2-11.6 2-11.9 2-8.8 2-8.8 2-2.5 2 1.5 2 7.4 2 7.9 2 12.2 1 7.3 1 4.5 1 5.5 1 3.2 1-6.9 1-3.6 1-5.5 1-18.7 1-17.1 1-22.7 1-29.1 1-23.8 1-14.2 1-14.5 1-14.8 1-6.7 1-6.4 1-8.3 1-2.3 1-3.1 1-2.4 1 5.6 1 4.5 1 5.7 1 5.1 1 3.3 1 5.3 1 6 1 5.1 1 6 1 4.9 1 4.4 1 5 1 5.3 1 4.3 1 1.1 1 5.2 1 8 1 6 2 9.6 2 9.6 2 9.1 2 10.2 2 9 2 1.2 2 3.7 2 .6 2-.1 2 1.8 2-.8 2-1.1 2 0 2 1.4 2 2.5 2 4.5 2 2.2 2 5 2 6.2 2 4.4 2 1.3 2 1.7 2 3.7 2 5.4 2 2.8 2 1.7 2 1.1 2 1.5 2 2.5 2 .3 2-.7 2-2.8 2 .1 2 .6 2 1.7 2-.9 2 1 2 2.1 2 1.8 2 .4 2 1.6 2 3.9 2 1.6 2 1.7 2 4.1 2 4.8 2-2.2 2-.2 2-1.7 2 3.6 2 3.7 2-.1 2 4.2 2-2.7 2 1.6 2 2.9 2-1.1 2-1.2 2 1 2-4 2-.1 2 2.9 2 .7 2-4.7 2 .1 2 .4 2 .1 2-4.3 2 5.9 2-1.3 2 2.3 2 .6 2 .3 2 3.7 2-4 2-.2 2 3.6 2 1.3 2 1.2 2 4.2 2 2.5 2 1.8 2 2.9 2 1.1 2 2.3 2-.1 2 3.7 2 2 2 1.4 2 1.3 2 2.8 2-4 2 2 2 1.6 2 2.7 2-.2 2 2.8 2-.2 2-.6 2-.4 2-.5 2 1.8 2 2 2-1.1 2-.9 2 2.8 2-.9 2 .1 2 1 2-2.4 2-1 2 .1 2-.5 2-.3 2-3 2 .5 2 .9 2-.1 2-3.6 2-2.2 2-2.8 2-.7 2-3.4 2 0 2-3 2-5.6 2 2.2 2-4 2-.8 2-2.1 2-1.2 2 .1 2 4.1 2-4.3 2-2.5 2-1.1 2-3.5 2 .6 2-3.2 2-4.8 2 1 2-.4 2-1.2 2-1.7 2-1.2 2-1.2 2-.1 2 .1 2-5.4 2 1.6 2-5.7 2-1.6 2 2 2-4.1 2-5.5 2 1.9 2-1.4 2-2.1 2 .8 2-4.1 2-1.5 2-1.4 2-3.4 2-2 2-1.4 2-.1 2 .1 2-3.3 2-1.5 2 2 2 3.4 2 2.6 2 3 2 2 2 1.7 2-1.5 2 .2 2 2.4 2-.6 2 1 2 1.6 2-1.4 2 1 2 .1 2-.3 2 1.8 2-1.5 2 1.7 2-3 2 .6 2-2.4 2 2.1 2 1.4 2 1.8 2 .8 2 5.2 2 3.4M1031 457.2l2-.6 2 5.2 2 1.8 2-2.2 2 3 2 2.4 2 3.1 2-3 2 4.8 2 .9 2 .3 2 1.3 2 .5 2-1.9 2 2.9 2-1.3 2-.6 2 .1 2-1.8 2 .2 2-1.1 2-1.3 2 1.1 2-2.6 2 2.5 2-4 2 3 2 1.5 2 1 2 .9 2 .1 2-.7 2 2.4 2-3 2 .6 2 .6 2 .3 2 1.1 2 .5 2 1.3 2-.5 2-3 2-2.7 2-1.3 2 .4 2-2.3 2-1.9 2-.8 2-.7 2-1.6 2-1.1 2-2.4 2 .8 2 2 2-1.5 2-1.4 2-2.4 2-3.4 2-.4 2-.2 2-2.3 2 4.1 2-2.1 2-.3 2-.7 2-2.4 2-1.5 2-2.6 2-4 2 1.3 2 .5 2 .2 2-1.1 2 .1 2-1.8 2-.8 2 2.2 2 4.5 2-1.6 2 2.8 2-1.2 2 0 2-3.9 2-2.2 2-2.7 2-2.8 2 1.5 2-.8 2-1.1 2 5.6 2 1.1 2 2.3 2 1.2 2 .2 2-3.9 2-4.4 2-.7 2-.3 2-1 2 3.9 2 4.9 2 5.5 2 6.9 2-.5 2-1.9 2-8.2 2-12.6 2-11.3 2-10.7 2-7.4 2-9.4 2-3.9 2 2.7 2 6.3 2 8.3 2 13.4 1 6.3 1 5.2 1 6.1 1 2.3 1-4.9 1-1.8 1-2.6 1-9.9 1-9 1-9.4 1-16.5 1-15.7 1-12.7 1-10.9 1-11.2 1-6.9 1-2.5 1-4.3 1-3.5 1-1.8 1-.7 1 3.1 1 3.3 1 4.3 1 6.1 1 4.4 1 5.8 1 5.4 1 4.9 1 4.8 1 3.4 1 3.4 1 3.7 1 4.5 1 2.6 1 0 1 3.2 1 6.2 1 4.3 2 6.7 2 2.8 2 5.1 2 4.5 2 4.7 2-1.4 2 .7 2 1.8 2 1.1 2 3.7 2-1.2 2-.7 2 1.7 2-.7 2-.3 2 1.8 2-.5 2 1 2 4.6 2 1.7 2-1.6 2 .4 2-.3 2 1.6 2-1.4 2 3.3 2 1.2 2 1.4 2 2.5 2-3.6 2-1.6 2-1.4 2 0 2 1.2 2 1.1 2 1 2 1.6 2-.7 2 3.9 2-.3 2 2 2 4 2 2.1 2 .7 2 4 2 3.1 2-1.2 2 .3 2-1.8 2 3 2 3.9 2-2.2 2 4.6 2-1.3 2 3.5 2 1.1 2-.6 2-2.3 2-1.1 2-4 2 .9 2 3.7 2 .6 2-1.4 2-1 2 2.7 2-1.5 2-4.9 2 3.9 2-1.7 2 2.1 2 2.2 2 1 2 5.6 2-3.3 2 .1 2 1.8 2 2 2 1.5 2 2.9 2 4 2 1.3 2 1.6 2-1.2 2 .8 2-.5 2 5.2 2 2.6 2 3.6 2 .4 2 2.2 2-3.2 2 1.7 2 1 2 3.4 2-.5 2 2 2 2.6 2-1.3 2-.6 2 .2 2 2.5 2 .1 2-.8 2-1.6 2 4.2 2-1.2 2 .1 2 .7 2 .7 2-2.8 2-2.1 2-.8 2-.2 2-3.8 2 1.1 2-3.1 2 .8 2-2.9 2-.9 2-2.9 2-.8 2-4.5 2 .1 2-1.1 2-5.7 2 2.7 2-2.9 2 1.4 2-1.6 2-2.2 2-1.5 2 1.5 2-4.1 2-2 2-1.3 2-2.6 2 3.9 2-2.9 2-3.4 2 0 2-2.8 2-1.6 2-3.8 2-.5 2 .6 2-2.9 2 .2 2-3.9 2 1.9 2-4 2-1.7 2 .5 2-1.7 2-6 2-.1 2-2.2 2-2.8 2-1.3 2-4.2 2-2.2 2-.7 2 0 2 .1 2-3.1 2-1.7 2 .8 2-2.2 2 0 2 2 2 1.2 2 2 2 3.1 2 3.7 2 3.1 2-1.2 2 .5 2 1.2 2-2.3 2 1.4 2 1.4 2 .6 2 .9 2 1.8 2 .6 2-2.3 2-3.3 2 2.4 2-1.6 2 1.7 2-1.3 2 1.2 2 .3 2 2.4 2 .1 2 4 2 3M1031 456.6l2 2.4 2 3.7 2 1.2 2-1.2 2 2.2 2 2.9 2 2.3 2-4.5 2 4.4 2-.8 2 1.5 2 2 2-.1 2 1 2 1.5 2 0 2-1.8 2-.8 2-.6 2 1.1 2-.9 2-2.2 2 1.7 2-3.8 2 3.6 2-4 2 2.9 2 0 2 .4 2 2.7 2 .6 2-.9 2 2.6 2-1.6 2 0 2-.1 2 .6 2-.5 2 .6 2 1 2-1.2 2-1.5 2-.8 2-3.2 2-.4 2-.9 2-3 2 .7 2 0 2-.8 2-1.6 2-3.6 2-.8 2 2.5 2-1 2-2.1 2-3.3 2-3.5 2-.2 2-.2 2-.5 2 4.3 2-2.7 2 1.6 2-3.1 2-1.4 2-2.1 2 2.6 2-2.5 2-.1 2-1.3 2-.7 2-2.4 2 .7 2-.5 2-.6 2 .8 2 4.2 2 .2 2 2.7 2-2.8 2 1.8 2-5.4 2-.2 2-3 2-4 2 1.3 2-.7 2-2.2 2 6.6 2 .9 2-1 2 .7 2-1.4 2-4 2-2.9 2 .7 2 .7 2 1.4 2 4.4 2 5.2 2 5.4 2 6.2 2-1 2-2.9 2-6.9 2-12.4 2-11.9 2-12.3 2-9.1 2-6.8 2-3.4 2 2 2 7.1 2 7.4 2 12.4 1 7.2 1 4.4 1 5.5 1 3.3 1-1.5 1 .9 1-.4 1-5.2 1-3.7 1-4.6 1-9 1-7.2 1-6 1-5.2 1-5.1 1-2.5 1-.3 1-1.4 1-.7 1-.4 1 .6 1 2.5 1 3.2 1 4.6 1 4.2 1 2.3 1 4.8 1 3.8 1 2 1 2.9 1 2.1 1 1.8 1 2.5 1 1.8 1 .1 1-.9 1 1.5 1 4 1 2.4 2 1.5 2 1 2 2.2 2 .5 2 3 2-2.3 2 .3 2-1.7 2-1 2 2.9 2-1.5 2-1.4 2-.4 2-1.5 2-1.2 2-.6 2-2.3 2 .7 2 1.3 2 .7 2-1.5 2-2.2 2 1.5 2 0 2-2.1 2 1.4 2 .9 2-.8 2 3.2 2-3.1 2-1.1 2-3.1 2 .7 2 1.4 2 2.4 2-.2 2 0 2 .8 2 1.4 2 .8 2 2.4 2 2.5 2 3.3 2-.6 2 3.4 2 5 2-4.1 2 1.9 2-1.9 2 4.5 2 4.6 2 .7 2 3.9 2-2.1 2 .2 2 3.3 2-3.9 2-.4 2 1 2-4.8 2 1.1 2 3.1 2 .7 2-1.4 2-1.2 2 2.1 2-1.9 2-3.7 2 4.8 2-1.3 2-.6 2 1.5 2 .9 2 4.1 2-1.1 2-.9 2 4.2 2 1.7 2-.1 2 3.6 2 2.9 2 1.6 2 1.6 2 1.3 2 .9 2 2.2 2 2.7 2 1.1 2 1.5 2 .8 2 3.8 2-2.9 2 2.3 2 1.7 2 2.6 2-1.5 2 2.4 2 2.3 2 .3 2 .1 2-1 2-.1 2-1.4 2-.7 2 .7 2 3.6 2 .6 2-.2 2 .4 2 .8 2-.8 2-.6 2-.6 2-2.3 2-3.9 2-1.8 2-3.2 2-.1 2-3.9 2 1.2 2-3 2 .6 2-2.2 2-2.3 2-1.4 2-3.3 2 3.7 2-.9 2 .9 2-1.1 2-4.2 2-1.8 2 1.4 2-4.4 2-2.5 2-1.2 2-3.1 2 2.5 2-3.1 2-4.9 2 .9 2-2.3 2-1.6 2-2.1 2 .5 2-1 2-1.4 2-.9 2-3.9 2 2 2-3.4 2-3.4 2-.2 2-4.3 2-5.1 2 2 2-3.1 2-3 2 .1 2-4.6 2-1.4 2-.3 2-.8 2-1.2 2-3.8 2-.2 2 1.4 2-2.9 2 0 2 1 2 3.7 2 1.8 2 4 2 .9 2 3.8 2-2.6 2-.1 2 1.7 2-2.9 2 1.4 2 1.2 2 2.2 2 1.5 2-1.1 2 .1 2-1.4 2-3.2 2 1.7 2-1.7 2 3 2-1.6 2 5.2 2 2.2 2 2.3 2 .5 2 3.9 2 1.1M1031 459.6l2-.9 2 4.3 2 1.7 2-1.9 2 3 2 1 2 3.7 2-3.8 2 4.6 2-1 2 1.7 2 2.1 2-.7 2 .3 2 2.7 2-2.6 2 1.7 2-.4 2-2.9 2-.5 2 0 2-2.2 2 1.2 2-2.9 2 2.6 2-3.3 2 2.6 2 1.4 2 .9 2 .7 2 2.1 2-.8 2 2 2-3.5 2 2.2 2-1.3 2 1.6 2-.2 2-.2 2 2.3 2 .2 2-2.6 2-1.2 2-2.9 2-.3 2-1.1 2-2.7 2 0 2 .7 2-1.6 2-2.2 2-3.6 2 .6 2 1.5 2-1.7 2-.6 2-1.1 2-2.2 2-.8 2-.5 2-1.9 2 3.3 2-2.6 2 .8 2-1.5 2-1.3 2-5.4 2-1 2-3.4 2 1.9 2-1.4 2 1.7 2-1.7 2 2.9 2-.7 2-.3 2 1.2 2 3.5 2-1.2 2 .4 2-1.6 2 .7 2-4.8 2-.5 2-2.4 2-2.7 2 1 2-2.2 2-1.7 2 6.1 2 .6 2 1.7 2 1.5 2-1.8 2-3 2-5.2 2 .6 2 1.2 2 .8 2 4.3 2 5.1 2 3.9 2 6.1 2 .7 2-3.7 2-7.6 2-11.6 2-11.1 2-12.5 2-8.9 2-8.9 2-2.4 2 2.9 2 7.8 2 6.9 2 12.1 1 6.5 1 5.5 1 5.5 1 2.1 1-5.8 1-3.9 1-6 1-18.7 1-18.8 1-23.9 1-30.3 1-25.3 1-14.1 1-14.8 1-16.1 1-7.1 1-6.2 1-7.7 1-2.5 1-4.4 1-1.8 1 6.9 1 3.8 1 5.1 1 5.4 1 2.8 1 6.1 1 6.7 1 5 1 5.5 1 5.8 1 5.5 1 4.9 1 4.6 1 4.1 1 3 1 5.6 1 6.8 1 5.7 2 10.1 2 9.7 2 9.8 2 10 2 11.2 2 3.6 2 7.7 2 2.8 2-3.2 2 3 2-2.5 2-1.7 2 2 2-.3 2 2 2 2.8 2 .9 2 5.1 2 4.9 2 4.2 2 1.6 2 1.9 2 2.6 2 4 2 2.9 2 1.5 2 2.5 2 2.2 2 4 2-.9 2-.4 2-2.5 2 .9 2 1.2 2 1 2 2 2-.6 2 1.5 2 1.5 2 .6 2 3.2 2 1.8 2 2.7 2 .4 2 3.7 2 4.4 2-2.1 2-.2 2-1.3 2 4.2 2 3.6 2 1 2 3.5 2-3.6 2 1.1 2 3.1 2-.2 2-1.2 2 1 2-2.7 2-.3 2 1.9 2 0 2-2.7 2-.8 2 2.6 2-1.1 2-3.2 2 4.3 2-.9 2 .3 2 .1 2-.3 2 5.9 2-3.4 2 .3 2 3.1 2 1.9 2 .4 2 3.2 2 4 2 1.9 2 2.2 2 3.2 2 1.3 2-.4 2 4.1 2-.4 2 .9 2 .6 2 1.7 2-2.4 2 1.4 2 2.9 2 3.6 2-1.2 2 1.2 2 1.5 2-.4 2 .9 2 0 2 .2 2-1.2 2 .3 2-.7 2 5.1 2 .3 2 1 2-.1 2-1.1 2-.8 2-.2 2 .2 2-1 2-3.5 2 1.2 2-1.2 2-1.1 2-2.5 2-2.2 2-3.5 2-2 2-2.9 2-.6 2-1.6 2-4.2 2 1 2-3.2 2-.1 2-.6 2-3 2-.3 2 1.4 2-3.8 2-1.4 2-.6 2-2.9 2 1.9 2-4.3 2-3.8 2 2.3 2-1.3 2-2.5 2-2.2 2-1.6 2 .4 2-2.1 2-1.1 2-5.4 2 2.1 2-2.3 2-1.4 2 4 2-3.8 2-5.9 2-.4 2-2.2 2-3.3 2-.7 2-3.7 2-.2 2-1.2 2-1.9 2-2.5 2-4.3 2-.1 2 .8 2-4.3 2 2.3 2 1.4 2 2.5 2 2 2 3 2 2.4 2 2 2-.2 2 .4 2 2.7 2-2.3 2-1.8 2 1.1 2 1.2 2 2.8 2 .2 2-.9 2-.8 2-4.8 2 3.8 2-.4 2 1.1 2-.5 2 3.6 2-.2 2 .6 2-.3 2 2.9 2 3M1031 459.4l2 1.4 2 3.6 2-.2 2-1.3 2 1.3 2 3 2 2.9 2-3 2 4.7 2-1.3 2 1.6 2 2.8 2 0 2-.9 2 2.5 2-1.8 2 .5 2-.7 2-.1 2-2.7 2-.6 2-1.6 2 2.3 2-3.1 2 4.3 2-5.2 2 3.4 2 .6 2 .3 2 1.4 2 1.1 2-1.7 2 2.1 2-2 2 .3 2 .3 2 1.7 2-.6 2 .7 2 1 2 .1 2-2.8 2-1.1 2-2.3 2-1.3 2-1 2-.9 2-2 2-.6 2 .9 2-1.4 2-3.3 2 .6 2 .6 2-2.1 2-1.4 2-1.7 2-3.6 2 1 2-.4 2-1.5 2 4.7 2-2.2 2 .2 2-1 2-1.8 2-2.4 2 .9 2-4.1 2 2.6 2-1.4 2 3 2-2.8 2 .3 2-1.7 2-2.4 2 2.6 2 4.3 2-2.3 2 1.6 2-4.6 2-.4 2-4.9 2 .7 2-1.1 2-.6 2 3.4 2-1.2 2-2.7 2 4.7 2 .4 2-.3 2 .6 2-2.2 2-2.3 2-4.6 2 1.4 2-.3 2 .4 2 4.1 2 6.5 2 4.2 2 8.5 2-.3 2-1.1 2-8.9 2-12 2-14.4 2-12 2-9.3 2-9.2 2-3.3 2 2.9 2 6.8 2 6.7 2 13.7 1 7.3 1 4.5 1 4.9 1 2.7 1-5.5 1-3.5 1-4.3 1-16.4 1-16.4 1-20.9 1-27.5 1-22.1 1-11.6 1-13 1-14.8 1-7.2 1-4.2 1-5.7 1-1.8 1-3.7 1-2.6 1 6.6 1 3.3 1 5.3 1 5.7 1 2.4 1 6.1 1 6.8 1 4.4 1 5.4 1 3.8 1 4.2 1 5.4 1 4.4 1 3 1 1.5 1 4.4 1 6.5 1 6 2 9.3 2 6.4 2 10.1 2 8.7 2 10.5 2 2.2 2 5 2 1.8 2-1.4 2 .8 2-1.3 2-.8 2 .1 2 .7 2 1.7 2 2.2 2 1.7 2 1.9 2 5 2 4.7 2 1.3 2 .1 2 2.4 2 3.5 2 3 2 3.7 2 3.2 2 1 2 2.4 2-3 2-.4 2-1.1 2 .3 2 1.5 2-.1 2 1.4 2 1.4 2 2.5 2 .5 2 1.3 2 1.3 2 3.8 2 1 2 .7 2 2.4 2 3.1 2-2.7 2 2.6 2-2.1 2 5.3 2 4.1 2 1.3 2 2.9 2-3.2 2 .2 2 2.9 2-2.4 2 1.8 2-.2 2-2.9 2 0 2 4.2 2-.6 2-.5 2-2.3 2 .9 2-3 2-4.3 2 4.6 2-.9 2 2.6 2 1.1 2 1.6 2 6.4 2-3.3 2 1.2 2 2.8 2-.2 2-.2 2 2.7 2 3.7 2 2.8 2 2.4 2 1.4 2 .7 2-.9 2 3 2 .6 2 2.2 2 2.8 2 3.3 2-3.8 2 .8 2-.5 2 2.4 2 1.2 2 4.4 2 1.2 2-.7 2-.7 2 .2 2 3.3 2-1.1 2 .8 2-.3 2 5.3 2 .3 2-.4 2-.8 2-1.5 2-2.7 2-.8 2 .1 2-2.4 2-.6 2-.7 2-.3 2-1.6 2-2.6 2-2.2 2-1.5 2-1.9 2-4 2-1 2-2.2 2-4.1 2 1.3 2-4.2 2-1 2-2.2 2-1 2 1.2 2 2.2 2-3.2 2-1.8 2 .2 2-4 2 2.2 2-4.9 2-3.2 2 .7 2 0 2-2.5 2-2 2 .9 2-1.1 2-2.9 2 .1 2-4.3 2 .5 2-4.5 2-1.5 2 2 2-3.1 2-5 2 0 2-2.2 2-2.8 2-.9 2-3.4 2 .6 2-1 2-3.1 2-1.5 2-3.7 2 1.5 2 .1 2-2.6 2 .8 2 .4 2 2.9 2 1.2 2 3 2 .2 2 2.4 2-.4 2 1.9 2 2.2 2-.7 2 .1 2 .5 2-2.1 2 .2 2-2.3 2 .5 2 .1 2-1.8 2 2.8 2 1.3 2 3 2 .4 2 2 2 1.1 2 1.2 2-1.6 2 1.1 2 2.5M1031 460.8l2-.1 2 4.7 2 .7 2-3.3 2 2.6 2 1.9 2 2.5 2-2.8 2 5.1 2-.6 2 2 2 2.7 2-1 2-1.2 2 3 2-2.4 2-.7 2-.5 2 .1 2-.8 2 .7 2-1.3 2 .6 2-3.8 2 3 2-3.6 2 2.8 2 .3 2 1 2 1.1 2 3 2-1.7 2 2 2-2.8 2 2.3 2-1.2 2 .8 2-.9 2 .9 2 2.1 2-1.5 2-1.9 2-1.6 2-2.6 2-.6 2-2.3 2-1 2-1.3 2 .3 2-.4 2-2.8 2-2.6 2 .7 2 1.8 2-.4 2-1.3 2-2.4 2-3.1 2-.4 2 .8 2-1.8 2 5.5 2-1.7 2-.8 2-1.8 2-1.7 2-2.4 2-.4 2-1.3 2 .8 2-.1 2-.6 2-3.5 2-.5 2-1.7 2 .7 2 1.7 2 5.5 2-2.6 2 0 2-.6 2 2.7 2-3.7 2-.4 2-3.1 2-3.6 2 1.5 2-2.9 2-1.6 2 5.2 2 .5 2 2.6 2 1.3 2-1 2-2.7 2-5.7 2-.1 2 .2 2 1.2 2 3.7 2 5.6 2 4.9 2 4.8 2 1.1 2-1.2 2-8.2 2-12.2 2-12.1 2-12.9 2-9 2-9.9 2-2.2 2 2.8 2 7.6 2 8.1 2 11.9 1 7.2 1 4.4 1 5.4 1 3.1 1 1.4 1 3.5 1 3.2 1 3.1 1 3.5 1 3.5 1 2.5 1 3.7 1 4.2 1 3.4 1 1.9 1 3.8 1 5.1 1 3 1 2.3 1 1.1 1 3.2 1 3.8 1 1.4 1 2.9 1 1.7 1-1.4 1 1.6 1 1.9 1 .1 1 1.5 1 .1 1-.2 1-.4 1-.8 1-1.8 1-3.7 1-1.4 1 1.2 1-.1 2-2.1 2-4.9 2-3.3 2-3.6 2-1 2-4.1 2-2.9 2-2.2 2-3.7 2 1.4 2-3 2-3.5 2-1.5 2-3.5 2-2.7 2-1.5 2-3.6 2-1.3 2-1.2 2-2 2-4 2-3.8 2-2.3 2-1.5 2-2.1 2 .9 2-.7 2-.9 2 .4 2-2.5 2-1.7 2-3.6 2-.6 2 .3 2 1.8 2 1.4 2 .7 2 1.4 2 2.8 2 .4 2 3.6 2 3.3 2 1.6 2-.6 2 2.3 2 4 2-2.8 2 1.6 2-2.1 2 5.7 2 2.7 2 1.9 2 2.9 2-3.8 2 1.7 2 2.5 2-.8 2-.5 2 2.2 2-4.2 2 .7 2 3.1 2-.2 2-.6 2-1.1 2 2.1 2-2 2-5.1 2 3.6 2-2.2 2 .8 2 1.2 2 1.6 2 5.7 2-1.9 2 .5 2 2.8 2 .4 2 .5 2 3.7 2 3 2 .4 2 1.1 2 1 2 1.6 2 1.8 2 3.7 2 2.9 2 1.6 2 1.3 2 3.8 2-2.2 2 1.3 2 .5 2 2.5 2-2.1 2 2.1 2 3.4 2-.3 2 1.4 2 .7 2-.9 2-.3 2-.4 2-.1 2 5.3 2-2.5 2-2.6 2 1.2 2-1.9 2-2.1 2 2.3 2 1 2-.3 2-1.3 2 1.5 2-2.7 2-2.7 2-5.1 2-2.9 2-1.2 2-.4 2-4.8 2-.6 2-.4 2-4 2 2.6 2-3.4 2 .8 2-1.7 2-1.7 2-1.6 2 2.2 2-5.5 2-3.3 2-2.1 2-1.4 2 3.1 2-2.2 2-2.4 2 1.6 2-.6 2-2.2 2-4.3 2-.7 2-.8 2-.7 2-1.6 2-2.8 2 2.7 2-4.3 2-2.2 2-.1 2-3.6 2-4.9 2 1.9 2-2.9 2-2.8 2-.8 2-6.1 2-1.4 2-1.7 2-.1 2-.5 2-2.8 2-1.2 2 4.8 2-2.2 2 .8 2-1.2 2-1 2 .4 2 2.2 2 2.4 2 4.3 2 .1 2 1.8 2 2.5 2-2.3 2-.9 2 .9 2 .1 2 1.4 2 1.1 2 .1 2-.1 2-1.3 2 1.3 2-3.1 2-.2 2-1.8 2 4.3 2 0 2 2 2 2.5 2 2.6 2 2.1M1031 459.9l2 1.7 2 3 2 1.9 2-3.2 2 2.1 2 2 2 3.2 2-3.2 2 5.3 2-.2 2 1.6 2 .4 2 1.3 2-1.6 2 1.7 2-.1 2 0 2-.7 2-1.3 2 .7 2-1.9 2-1.5 2 .1 2-3.6 2 4.5 2-3.8 2 3.1 2 .2 2 .9 2 1.7 2 1.7 2-.4 2 1.7 2-2.9 2 .9 2-.1 2 1.8 2-1.3 2 .2 2 1.5 2-.5 2-2.5 2-1 2-3.6 2-.2 2-.2 2-1.8 2-.8 2 .8 2 .2 2-3.2 2-3.2 2 .1 2 3.4 2-1.9 2-2.3 2-1.7 2-5.2 2 1.3 2-.5 2-1.7 2 5.2 2-3.5 2 3.1 2-1.2 2-3 2-2.6 2 .5 2-4.6 2 1.5 2-.9 2 2.6 2-.1 2 .1 2-.9 2-1.9 2 1.2 2 4 2-1.5 2 1.1 2-3.3 2 0 2-3.8 2-.8 2-2.8 2-2.5 2 2 2 0 2-2.1 2 6.6 2-.6 2 .9 2 .6 2 .3 2-3.1 2-3.8 2 2.1 2 .1 2-1 2 2.6 2 2.1 2 4.4 2 7.3 2 1.9 2-1.3 2-7.3 2-11.8 2-12.2 2-12.5 2-9 2-10.2 2-2.6 2 2.5 2 7 2 8 2 12 1 6.7 1 4.6 1 4.6 1 2.5 1 .7 1 2.6 1 .6 1-1.7 1-.8 1-.5 1-2.9 1-2.6 1-1.6 1-2.2 1-4.7 1-.9 1 3 1 .6 1-.4 1-1.4 1 .9 1 2.8 1 3 1 4.4 1 3.1 1 1.2 1 3.3 1 3.4 1 1.2 1 1.8 1 .6 1 .8 1 1.4 1 .7 1 0 1-2 1 .1 1 2.8 1 1.8 2 .6 2-2.1 2-.1 2-2 2 2.4 2-3.5 2 .5 2-.6 2-2.2 2 2.1 2-.8 2-.8 2-.2 2-1 2-1.9 2-1.4 2-2.6 2 .1 2 .9 2-.8 2-1.5 2-1.9 2-2.5 2-.3 2-2.8 2-.4 2-1.1 2 .5 2 .2 2-3.4 2-2 2-1.7 2-.5 2 .9 2 2.7 2 1.1 2 1.3 2 .6 2 1.7 2 .2 2 1.6 2 4.7 2 1.4 2 .3 2 2.7 2 3.6 2-1.4 2 1.1 2-1.1 2 4.6 2 2.7 2-.5 2 4 2-2.1 2 1.4 2 3 2-3.1 2 .1 2 1.3 2-3.6 2 1.7 2 1.8 2-.3 2-2.5 2-.9 2 2.6 2-.3 2-5.4 2 4.8 2-1.2 2 .8 2 1.4 2 .5 2 4.2 2-2.2 2 .7 2 2.9 2 3.1 2-.1 2 4.1 2 3.3 2 1 2 2.6 2 0 2 1.8 2-.4 2 2.6 2 .7 2 1.9 2 2.4 2 5 2-3.6 2 2.4 2 .8 2 3.5 2-1 2 1.4 2 1.7 2-2.5 2-.4 2-.5 2 4.1 2-.3 2 1.9 2-.6 2 3.7 2-2.5 2-1.5 2 .2 2-.5 2-2.9 2 .7 2 .1 2 0 2-2.5 2 .9 2-.7 2-1.3 2-5.2 2-2.1 2-3.7 2 .2 2-2.2 2 .1 2-2.9 2-5.9 2 1.1 2-1.5 2 .4 2-.3 2-2.8 2 .7 2 .1 2-4.2 2-2.2 2-.2 2-1.5 2 2.7 2-4 2-4.1 2 2.2 2-2.2 2-1.2 2-3.1 2 .4 2-.5 2-1.2 2-.6 2-3.8 2 3 2-4.2 2-3.7 2 .4 2-4.2 2-6.7 2 2.5 2 .3 2-1.5 2-.7 2-3 2-1.4 2-.8 2-2.7 2-2.2 2-6.8 2-1.2 2-.8 2-2.1 2 1.9 2 4.1 2 1.2 2 2.6 2 2.6 2 3.1 2 2.7 2 .4 2 .9 2 2.7 2-.2 2-.7 2-.3 2-.8 2-.8 2-.4 2-2.7 2-.2 2-2.5 2 3.8 2-.1 2 1.6 2 1.2 2 2.5 2 .8 2 .6 2 .7 2 1.7 2 3.5M1031 459.1l2 1.1 2 3.3 2 2.6 2-2.9 2 2.6 2 2.1 2 3.9 2-3.5 2 4.6 2-.1 2-.4 2 2.2 2 .5 2-.5 2 2.7 2-2 2 .3 2-.6 2-1.7 2 .8 2-1.2 2-2 2 .5 2-4.9 2 5.4 2-4 2 3.1 2 1.9 2 .5 2 .6 2 1.7 2-.8 2 2.2 2-2.5 2 .5 2 .1 2 1.6 2-.2 2 0 2 1.2 2-.2 2-2 2-1.7 2-3.7 2-.6 2 .3 2-2.9 2-.4 2-.8 2 .8 2-2.4 2-2.5 2 0 2 1.4 2-.6 2-.4 2-2.4 2-2.3 2 .5 2 0 2-1.3 2 4.3 2-2.7 2 .6 2-.3 2-3.1 2-3.2 2 .5 2-3.2 2 .1 2-2.2 2 2.3 2-3.5 2 .8 2-1 2-.5 2 2.9 2 6.5 2-2.3 2 2.8 2-3.3 2 1.3 2-4.8 2-1.4 2-2.3 2-1.8 2 1.7 2-.5 2-1.9 2 4.4 2 .1 2 1.6 2 1.3 2 1 2-3.5 2-6.3 2 .6 2 1 2 .6 2 3.8 2 3.5 2 4.4 2 4.9 2 .2 2-1.2 2-7.9 2-10.4 2-12.5 2-13.4 2-10.3 2-9.4 2-4 2 1.7 2 6.8 2 9 2 12.4 1 7.7 1 4.2 1 5.4 1 3.3 1 2.1 1 3.5 1 3.3 1 3.6 1 4.3 1 4.1 1 3.2 1 4.9 1 5.2 1 3 1 2.8 1 4.5 1 4.5 1 2.7 1 2.2 1 1.7 1 3.5 1 4.1 1 1.8 1 2.8 1 1.5 1-.8 1 2.3 1 1.4 1-.8 1 1.2 1-.6 1-1.6 1-.9 1-.4 1-1.5 1-4 1-.9 1 2.2 1-.2 2-2.6 2-4.8 2-3.2 2-3.2 2-.6 2-5.6 2-3 2-3.1 2-4.9 2 1.8 2-4 2-2.6 2-1.9 2-3.4 2-2.8 2-2.4 2-4.2 2-1.3 2 .4 2-1.5 2-4.1 2-4.9 2-2.7 2-.5 2-3.1 2-.4 2 .9 2-1.9 2-.8 2-1.9 2-1.8 2-4 2 .4 2 1.5 2 .7 2 1.5 2 .2 2 2.4 2 2.1 2 1.5 2 2.6 2 3 2 1.3 2 1.9 2 3.3 2 4.4 2-3.9 2 2 2-1.4 2 3.9 2 3.1 2-.6 2 4.2 2-3.7 2 2.2 2 3.9 2-2.7 2-.7 2-1.4 2-2.3 2 .8 2 3.5 2-.1 2-2.7 2-.9 2 3 2-.8 2-4.5 2 5.1 2-2.6 2 2.5 2 .7 2 .3 2 5.3 2-2 2 .4 2 2.4 2 1 2-.2 2 2.9 2 2.7 2 0 2 4.3 2 1.1 2 2.7 2 .2 2 1.8 2 1.4 2 2.1 2 1.4 2 3.9 2-2.8 2 .9 2 .8 2 2.1 2-.7 2 .8 2 2.8 2-.6 2 1.4 2 .7 2 3.6 2-.2 2 1.8 2 2.1 2 4.1 2 .1 2-1.3 2-2.2 2-3.3 2-5.6 2 .2 2-.4 2 1.8 2-2.2 2 .4 2-1.7 2-.5 2-3.5 2-1.7 2-4.6 2-.9 2-2.4 2-.3 2-1.1 2-5 2 3.1 2-3.5 2 1.3 2-2.2 2-1.4 2 0 2-.5 2-4.8 2-4.2 2 .4 2-1.1 2 2.9 2-3 2-4.2 2 3.3 2-1.3 2-1.7 2-3.9 2-1.8 2-.8 2 .6 2-1.4 2-4.1 2 1.5 2-6 2-2.1 2 1.2 2-2.7 2-5 2 .4 2-2.2 2-3.2 2-1.5 2-3.3 2-.5 2-.6 2-1.2 2-1 2-2.7 2 .4 2 .3 2-2.4 2-1.8 2 1.9 2 2.3 2 2.5 2 3.1 2 1.7 2 3.2 2-.3 2 2.5 2 1.8 2-2 2 .3 2 1.1 2-.3 2 1.5 2-1.8 2-.8 2-.5 2-2.7 2 1.7 2 1 2 2.6 2-2.1 2 2.7 2-.3 2 1 2 .3 2 2.9 2 2.4M1031 460.9l2 1.3 2 2.5 2 2.2 2-2 2 2.7 2 1.2 2 3.1 2-3.6 2 4.6 2 .3 2 0 2 2.4 2 .4 2-.9 2 1 2-1.5 2 2.1 2-.9 2 0 2-1.5 2-.7 2-1.7 2 .9 2-3.1 2 3.8 2-3.8 2 3 2-.1 2 .9 2 .5 2 2.2 2-1.5 2 2.9 2-2.4 2 2.3 2-1.1 2 .6 2-.6 2 1 2 1.2 2-.6 2-2.7 2-1.2 2-2.5 2 .4 2-1.6 2-2.1 2-2.1 2 1.2 2 1.5 2-4 2-2.1 2 1.1 2 1.6 2-.2 2-1.3 2-3.3 2-3.9 2 1.4 2-.2 2-.9 2 4.2 2-1.4 2 .4 2 1.1 2-2.7 2-4.2 2-1.8 2-4.2 2 1 2-.1 2 .8 2-1.7 2 .1 2-.3 2-1.1 2 2.6 2 1.9 2-.3 2 .5 2-1.6 2 2.4 2-2.6 2-1.7 2-2.8 2-3 2 2 2-1.4 2-1.4 2 6.7 2 .4 2 1.4 2 2.8 2-1.6 2-5.6 2-3.5 2 2.2 2 1.8 2 .7 2 3.1 2 3.7 2 2.2 2 6 2-1.5 2-1.9 2-8.6 2-10.7 2-12.8 2-13.4 2-9.1 2-9.7 2-3.1 2 3 2 6.7 2 6.9 2 13.3 1 6.9 1 4.2 1 6.1 1 3 1-2.4 1 .3 1-2.2 1-8.8 1-7.2 1-8 1-14.4 1-12.7 1-11.2 1-9.1 1-8.6 1-5.9 1-2.6 1-3.9 1-2.4 1-1.9 1-.2 1 3.8 1 3.8 1 4.1 1 5.7 1 2.9 1 5.1 1 6.2 1 4 1 4 1 2.6 1 3.2 1 3.5 1 2.4 1 2.2 1 .9 1 3.4 1 5.8 1 4 2 3.5 2 2.6 2 3.5 2 2.7 2 5.8 2-2.6 2 .8 2-.1 2 .5 2 2.8 2 0 2-.9 2 0 2-1.5 2 .1 2 .5 2-.7 2 2.1 2 1.9 2 2.9 2 .1 2-.5 2-1.9 2 .9 2-1 2 3 2 1.5 2 .6 2 1.7 2-.9 2-1.9 2-2.9 2 .8 2-.1 2 .5 2 .4 2 .4 2 1.2 2 1.9 2 1.7 2 3.7 2 2.6 2 2.6 2 .3 2 3.8 2 2.6 2-2.6 2 1.7 2-.1 2 3.1 2 2.2 2 1.1 2 3.6 2-2.1 2 2.7 2 2.9 2-2 2-1.8 2 .1 2-3.9 2 .4 2 3.4 2 2.4 2-2.8 2-1.9 2 1.8 2-1.1 2-3.5 2 3.8 2-.7 2 .6 2 1.6 2-.6 2 4.6 2-2.9 2 1.9 2 3.2 2 3.1 2 .4 2 5.3 2 1.6 2 .4 2 2.5 2 .6 2 2.6 2-.8 2 2.7 2 .5 2 2 2 1.3 2 3.2 2-1 2 1.4 2 1.7 2 3.3 2-.9 2 1 2 2 2-2.3 2 .2 2 .3 2 2.8 2-.9 2 .2 2 1 2 4.4 2 .9 2 .6 2 .1 2-2.3 2-3.3 2-.1 2 .7 2-.4 2-2.2 2-.3 2-1.3 2-1.2 2-5 2-1.8 2-2.7 2-1.1 2-3.9 2 1 2-1.2 2-5 2 1.1 2-1.4 2 .3 2-1 2-3 2-1.2 2 .3 2-3.4 2-2.2 2-1.5 2-1.8 2 3.6 2-4.7 2-4.3 2 3.9 2-2 2-2.9 2-4.3 2-.4 2 .3 2 .4 2-1.1 2-4.6 2 2.7 2-4.8 2-2 2 .9 2-4.9 2-4.8 2 .7 2-1.5 2-4.4 2-.9 2-4.3 2-1 2-1 2-2.2 2 .1 2-3 2 1.9 2 .1 2-3.2 2 .8 2-.1 2 2.3 2 1.4 2 1.9 2 1.5 2 2.8 2-1 2 1.9 2 2 2 .3 2 0 2 .9 2-1.7 2 1.5 2 .7 2 .3 2 .9 2-1 2 1.4 2-1.6 2-.7 2-2.4 2 4.7 2-.5 2 2.4 2 2.2 2 3.1 2 2.9M1031 460.8l2 1.4 2 3 2 1.6 2-1.7 2 3.1 2 .7 2 4.3 2-4.9 2 4.8 2-.8 2 1.2 2 3.6 2-1.1 2-1 2 3.1 2-.7 2-.4 2-.4 2-2.7 2-.1 2-1.5 2-.8 2 .8 2-2 2 3.8 2-3.7 2 1.4 2 1.9 2-.3 2 .9 2 1.9 2-1.9 2 3.7 2-2.1 2-.4 2-.4 2 .6 2 .2 2 .7 2 1.7 2 .5 2-2.1 2-2.1 2-2.3 2 .6 2-1.9 2-3.2 2-.4 2 .7 2-.3 2-2.6 2-2 2-1.4 2 2.4 2-1 2-2.1 2-2.6 2-3 2 .9 2 1.4 2 .2 2 3.4 2-3.2 2-.4 2-2.4 2-.9 2-.7 2 .5 2-1.2 2 2 2 0 2 .2 2-.7 2 0 2-1.5 2-3.5 2 .4 2 3.8 2 .8 2 3.9 2-1.7 2-1.4 2-6.9 2-2.3 2-2.4 2-1.9 2 2.8 2-1.3 2-.9 2 6.6 2 1.3 2 1.4 2 .1 2-.7 2-2.2 2-4.3 2 .7 2 .4 2 .8 2 3.4 2 4.7 2 2.9 2 6.1 2-.4 2-3.9 2-8.5 2-11.5 2-12.4 2-13 2-8.9 2-9.5 2-4.2 2 4.5 2 6.5 2 8 2 12.3 1 7.1 1 3.9 1 6.3 1 2.8 1 0 1 2.8 1 1.6 1-.9 1-.2 1-.6 1-2.2 1-1 1-2 1-1.9 1-2.5 1-.6 1 2.1 1 .8 1-.6 1-.5 1 2.3 1 2.6 1 2.7 1 2.9 1 2.5 1 2.4 1 3.6 1 2.2 1 1.8 1 2.2 1 .6 1 1.5 1 .5 1-.4 1-1.2 1-1.5 1-.5 1 1.8 1 2.6 2 1 2-.6 2-3.4 2 .5 2 1 2-3.5 2-.4 2-1.3 2-2.4 2 4.1 2-1.4 2-2.4 2-.7 2-2.2 2-.9 2-1.6 2-1.5 2-.8 2 1.3 2-.5 2-1.9 2-4.4 2-1.6 2 .3 2-3 2-1.1 2-.4 2-1.6 2 .1 2-.9 2-1.4 2-2.1 2 .5 2 .6 2 .1 2-.2 2-.3 2 1.5 2 1.9 2 .7 2 5.4 2 4 2 2.2 2 .6 2 2.7 2 4.9 2-3.2 2 1.6 2-1.6 2 2.9 2 3.1 2-.1 2 4.6 2-2.7 2 1.2 2 3.7 2-2.9 2-1.2 2 1.1 2-3.2 2 1.2 2 2.2 2 .3 2-2.2 2-1.2 2 1.5 2-1.2 2-3.6 2 6.3 2-2.2 2 1.6 2 .2 2 0 2 4.3 2-2.2 2 1 2 3.6 2 2.8 2-1.7 2 4.5 2 2 2 2.8 2 2.2 2 1.7 2 2.9 2-1.1 2 2 2 1.2 2 1.3 2 1.9 2 3.8 2-2.8 2 1 2 .2 2 3.2 2-.9 2 1.5 2 2.1 2-1.2 2 .3 2-1.3 2 3.4 2-.1 2 .3 2-.7 2 4.1 2-.6 2-.9 2 1 2-1 2-1.1 2 0 2-1.3 2 .5 2-3.2 2-1 2-1.2 2-.6 2-3.1 2-.7 2-3.2 2 0 2-5.4 2-.9 2-.6 2-5.4 2 2.7 2-2.3 2 1.1 2-3.2 2-2.4 2-.4 2 .6 2-4.5 2-1.3 2-.2 2-2.8 2 2.8 2-2.3 2-2.8 2 0 2-2.7 2-3.1 2-3.9 2 .3 2 .9 2 .7 2 0 2-4.5 2 1.9 2-5.6 2-2.8 2 1.6 2-3.6 2-4.8 2 3 2-2.5 2-3.1 2-.9 2-5.5 2-1.2 2-1.6 2-.4 2-.5 2-3.1 2 .3 2 1.4 2-3.8 2 1.9 2-.8 2 1.5 2 2.2 2 3.1 2 1.6 2 2.8 2-.5 2 1.3 2 1.5 2 .1 2 1.4 2 1 2-1.3 2 1.6 2-1.9 2-1.6 2 .2 2-2.8 2 1.8 2 2.3 2 2.4 2-.8 2 2.9 2-1.7 2 1.6 2 2.1 2 3.5 2 3.7M1031 460.2l2-.1 2 4 2 2.1 2-2.1 2 3.4 2 2.4 2 2.6 2-4.3 2 6.5 2-1.9 2 1.1 2 2.5 2 .6 2-2 2 2.4 2-1.3 2-.1 2-.4 2-.3 2-1.5 2 .7 2-2.4 2 1.1 2-1.2 2 2 2-3.9 2 2.9 2 .3 2-.2 2 2.9 2 1.3 2 .1 2 .9 2-1.7 2 .7 2-1.1 2 2 2-.4 2 .3 2 1.3 2-.9 2-3 2-.3 2-4.1 2 1.3 2-.8 2-3 2-1 2 1.2 2-.8 2-2.9 2-2.1 2 .9 2 2.7 2-1.7 2-.9 2-3.8 2-1.7 2 0 2 1.2 2 .3 2 4 2-3 2 .7 2-.8 2-1.3 2-3.4 2 .1 2-3.1 2 .9 2-1.4 2 1.5 2-3.2 2 1.2 2-2.2 2-1.1 2 2.3 2 4.5 2-2.2 2 2.2 2-3 2 .8 2-3.2 2-2.4 2-1.8 2-1.6 2 2.5 2-.1 2 .3 2 5.5 2 1.3 2 .5 2 1 2-1.7 2-5.4 2-5.3 2 1.8 2 .6 2 1.4 2 4.2 2 4.7 2 4.5 2 4.7 2-1.6 2-3.9 2-10.4 2-11.5 2-12.9 2-11.2 2-8.5 2-8.6 2-3.9 2 3.6 2 7.1 2 8.1 2 11.9 1 7.1 1 5.3 1 6.4 1 2.2 1-2.9 1-.5 1-2.6 1-7.6 1-7.1 1-7.1 1-12.6 1-11.6 1-9 1-8.3 1-9.2 1-4.5 1-1.1 1-4.1 1-2.8 1-1.5 1 .2 1 3.4 1 3.6 1 4.1 1 4.6 1 2.1 1 5.1 1 5.1 1 4 1 4.4 1 3.4 1 3.6 1 3.1 1 3.3 1 1.7 1-.2 1 2 1 4.5 1 4.5 2 5.4 2 .9 2 3.7 2 1.7 2 3.1 2-1.5 2 .4 2 2.5 2-1.5 2 4 2-2.5 2 .1 2 .1 2-.8 2-1.6 2 1.2 2-1.6 2 2.4 2 2.2 2 1 2-.5 2-1.6 2 .8 2 .5 2 1.1 2 .3 2 1.7 2 .7 2 2.2 2-2.9 2-2.2 2-1.1 2-1.1 2 1.5 2 .3 2 1.2 2-.5 2 1.9 2 2.1 2 1.3 2 2.8 2 1.8 2 1.9 2 1.8 2 3.5 2 4.7 2-2 2 .9 2-1.2 2 3.1 2 4.3 2-.1 2 3.6 2-2.2 2 .2 2 3.2 2-1.7 2 .9 2 .6 2-3.8 2 1.2 2 2.4 2-.5 2-3.9 2-1.5 2 .7 2 0 2-2.8 2 4.9 2 .7 2 0 2-.5 2 .8 2 3.6 2-2.5 2 1.4 2 2.1 2 2.3 2 1.2 2 5.2 2 3 2 3.5 2 2.6 2 .5 2 1.4 2-1.7 2 2.6 2 3.2 2 1.3 2 2.1 2 3.8 2-4.4 2 1.1 2-.5 2 3 2-.3 2 .5 2 2.6 2-.8 2 .9 2 3.6 2 .9 2-.5 2 1 2-1.3 2 4.6 2-1.6 2 .2 2 .9 2-1.9 2-1.8 2-.3 2 .2 2-.7 2-3.8 2-.7 2-1.9 2-.1 2-4.3 2-.8 2-1.4 2-1.2 2-4.1 2-2.5 2-1.2 2-4.4 2 2.8 2-1.6 2 0 2-.5 2-3.5 2-2.8 2-.2 2-5 2-1.3 2 .8 2-1.2 2 4.2 2-2.9 2-3.4 2 .7 2-2 2-1.5 2-3.8 2-1.7 2-1.7 2 .2 2 1.4 2-3 2 1.8 2-5.2 2-5.2 2-.2 2-1.7 2-3 2 1.7 2-1.7 2-4.1 2-2.9 2-4.6 2-.3 2-.3 2-.9 2-1 2-4.4 2-.3 2 2.8 2-1.9 2 0 2-.2 2 1.8 2 .6 2 3 2 1.9 2 4 2 .3 2 1 2 2.5 2 .3 2-2 2 1.8 2-2.1 2 1.1 2-.3 2-.9 2 .4 2-1.9 2 2.4 2-1.4 2 2.4 2-.5 2 2.2 2 2.3 2 .8 2 .7 2 2 2 1.5M1031 460.5l2 .7 2 4.2 2 2.8 2-3.1 2 2.6 2 2.1 2 3.5 2-4.8 2 6.2 2-2.1 2 .8 2 2.9 2-.1 2-1.4 2 3 2-1.1 2 .6 2-.6 2 0 2-.1 2-.9 2-1.6 2 .4 2-3.4 2 2.7 2-3.2 2 1.6 2 1.9 2 0 2 2.4 2 .8 2-.5 2 1.4 2-1.6 2 1 2-1.6 2 1.8 2-.2 2 1.4 2 1.3 2 .2 2-2.8 2-2.8 2-3 2 .4 2-1.9 2-1.6 2-1.3 2-.1 2-.4 2-2.4 2-1.7 2-.3 2 2.9 2-1 2 .5 2-3.4 2-3.4 2 1.5 2-.7 2-.1 2 6.1 2-1.1 2 1.7 2-.8 2-3.4 2-4.1 2-1.8 2-3.7 2 3 2 0 2 1.3 2 .7 2-1.2 2-1.7 2-.9 2 .1 2 4.3 2-2.9 2 1.1 2-2.9 2 1.8 2-2.7 2 .6 2-1.4 2-1.9 2 2.3 2 .6 2-2.8 2 4.8 2-.6 2-1.2 2 2 2-2 2-2.7 2-3.9 2 .6 2-.3 2-1 2 2.6 2 4.5 2 3.7 2 7.9 2 0 2-1.7 2-7.5 2-13.6 2-11 2-12 2-9.8 2-9.6 2-5.2 2 3.2 2 6.9 2 7.4 2 13.7 1 7.1 1 4.2 1 5.3 1 2.3 1-7.2 1-5.2 1-5.7 1-19.1 1-17.6 1-23.7 1-32.4 1-26.1 1-14.3 1-16.3 1-16.5 1-7.9 1-5.8 1-7.2 1-3.2 1-3.9 1-2.3 1 6.1 1 3.5 1 6 1 5.2 1 2.5 1 7.1 1 6.9 1 5 1 6.4 1 5.6 1 4.2 1 4.7 1 5.7 1 4.8 1 3 1 5 1 7.4 1 7.1 2 11 2 9.1 2 11.5 2 9.3 2 10.1 2 2.9 2 4.8 2 2.5 2-1.5 2 3.2 2-1.5 2-.9 2 .5 2 1 2 1.9 2 3.8 2 .7 2 5 2 6.4 2 5 2 2.6 2 .6 2 1.8 2 4.9 2 3.1 2 2.8 2 4.2 2 2.8 2 1.7 2-.8 2 .7 2-2.3 2 .5 2 1.9 2 1.4 2 .5 2 .8 2-1.5 2 2.7 2 .3 2 3.6 2 2 2 3.1 2-.2 2 4.5 2 3.1 2-1.8 2 1.2 2 0 2 4 2 3.1 2-.6 2 3.8 2-3.3 2 1.4 2 4 2-1.5 2-.8 2 .8 2-3.2 2-.5 2 3.8 2 .7 2-2.6 2-1.3 2 2.3 2-1.9 2-3.2 2 3.6 2-.4 2 1.1 2 1.1 2 .7 2 3.6 2-2.4 2 .3 2 3.4 2 2.1 2 .8 2 3.1 2 2 2 1.8 2 1.7 2 .6 2 2.5 2 .2 2 2.3 2 1.1 2 1.1 2 2.2 2 3.1 2-3 2 1.4 2 2.2 2 3.1 2-1 2 2.8 2 2 2-1.2 2 .9 2 1.5 2 2.6 2 1.3 2 .8 2 .2 2 3.5 2-1.5 2-2.2 2-.6 2-1.4 2-1 2-.4 2 .6 2-.9 2-1.6 2-.7 2-3.1 2-2.1 2-4.3 2-.3 2-3.3 2 .2 2-2.5 2 .7 2-2.1 2-3.6 2 .4 2-3.8 2 .3 2-1 2-3.2 2-.7 2 .5 2-3.3 2-1.5 2-1.2 2-1.4 2 3.8 2-2.9 2-4.1 2 3.6 2-1.2 2-1 2-2.4 2-1.3 2-2.6 2-3.8 2-2.1 2-4.1 2 2 2-3.5 2-1.1 2 .3 2-5 2-4.3 2 1.3 2-1 2-3.2 2-.1 2-5.1 2-2.2 2-1.5 2-1.3 2 0 2-3 2 .6 2 1.4 2-2.2 2 .8 2 .4 2 2.7 2 1.7 2 2.5 2 3 2 3.9 2-1.3 2 .8 2 2.1 2-.2 2-.8 2 .4 2-2.5 2 1.6 2-1.4 2 1 2-.1 2-3.2 2 2.9 2-1.1 2 2.5 2-1.9 2 5.3 2 .6 2 2.1 2 2.3 2 1.6 2 .2M1031 461.8l2 1 2 4.3 2 2.3 2-3.2 2 3.1 2 1.1 2 3.3 2-4 2 5.1 2-1.6 2 0 2 3.1 2 1.6 2-1 2 2.5 2-2.7 2 .2 2 0 2-1.3 2-.3 2-1.5 2-.9 2 2.4 2-3.3 2 3.1 2-4.2 2 1.9 2 .9 2-1 2 2.5 2 1.8 2-1.6 2 4 2-2.8 2 1.7 2-1.1 2 1.5 2-1.5 2 .6 2 1.8 2-1.1 2-2.2 2-.9 2-2.8 2-.6 2 .5 2-1.3 2-1 2-.3 2-1.5 2-1.8 2-1.5 2 .8 2 1.6 2-.4 2-1.5 2-2.2 2-3.8 2 .9 2 0 2-.6 2 1.8 2-.8 2-.4 2 0 2 .4 2-1.7 2 1.3 2-3.3 2 2 2-.9 2 .3 2-.5 2-.1 2-2.8 2-1.8 2 1.9 2 3.6 2 .3 2 .1 2-2.4 2 .3 2-5.2 2-.2 2-2.6 2-.9 2 3.2 2-1.3 2-2.1 2 4.9 2 .4 2 1.2 2 .5 2-1.1 2-4.5 2-2.3 2 1.7 2 1 2-1.4 2 5 2 4.2 2 3.5 2 6.9 2-2.2 2-3.7 2-8.9 2-12.1 2-13.4 2-11.9 2-8.6 2-9.7 2-4.2 2 4.4 2 6.4 2 8 2 12 1 6.5 1 4.4 1 5.7 1 3.1 1-1 1 1.2 1 0 1-2.5 1-1.1 1-3.4 1-6.3 1-4.6 1-5.1 1-4.4 1-4.9 1-3.1 1 .6 1-.9 1-.9 1-.5 1 .5 1 2 1 3.6 1 4.8 1 3 1 .9 1 4.2 1 3.3 1 1.2 1 2.9 1 2 1 1.5 1 .8 1 1.7 1 .1 1-1.6 1 2.2 1 4.3 1 1.9 2 2.5 2-1.5 2 .6 2-1.9 2 4.4 2-2.9 2-.3 2-.2 2-1.3 2 3.4 2-.8 2 .8 2 1 2-.3 2-.7 2 .2 2-2.8 2-1 2 1.6 2-.7 2 .4 2-1.2 2-2.9 2 .7 2-2.7 2-.9 2-.7 2-.4 2 .7 2-1.8 2-1.4 2-3.4 2 1.1 2 2.1 2 0 2 1 2 .2 2 1.4 2 2.1 2 0 2 2.5 2 3.9 2 1.2 2 .7 2 1.7 2 4.1 2-2.1 2 1.1 2 0 2 3.2 2 2.7 2 .1 2 4 2-2.3 2 2.9 2 2.6 2-2.6 2-1.3 2 .8 2-3.7 2 .9 2 3.5 2-1.5 2-2 2-2.6 2 2.2 2 .2 2-3.5 2 5.3 2-.2 2 .8 2 2.1 2 2.3 2 3.3 2-2.4 2-.6 2 2.4 2 2.3 2-.6 2 3.8 2 3.9 2 3 2 1.6 2 1.7 2 1.4 2-1.8 2 2.9 2 2.9 2 1.8 2 3.4 2 4 2-3.9 2 1.5 2 .1 2 2.8 2 .5 2 .5 2 .8 2-2.5 2 1.3 2 .2 2 1.6 2-.2 2 2.2 2-1 2 5.3 2 1.2 2-1.1 2 .6 2 .5 2-2.9 2-.1 2 .9 2-2.7 2-3.7 2-.5 2-2.2 2-1.9 2-5.1 2-2.1 2-4.3 2 .2 2-1.9 2 1.9 2-.8 2-3.6 2 1.9 2-4.9 2 2.3 2-2.5 2-1.2 2-1.6 2-.3 2-3.3 2-2.4 2-1.1 2-1.8 2 2.3 2-3.3 2-3.1 2 1.7 2-2.5 2-.7 2-2.1 2-.4 2-.3 2 0 2-1.5 2-4.2 2 1.4 2-4.9 2-5.3 2 2.4 2-4.1 2-3.2 2 1.4 2-1.5 2-4.5 2-.5 2-3.4 2-.4 2-.9 2-.2 2-1 2-4.3 2-.7 2 0 2-4.4 2 1.8 2 .7 2 2.2 2 1.9 2 1.3 2 2.6 2 5.1 2-.3 2 1.9 2 1.5 2-1.5 2-1.2 2 .7 2-1.5 2 .6 2 0 2 .3 2 .9 2-2.3 2 2.7 2-.8 2 1.7 2-.7 2 2.9 2 1.7 2 .9 2 1.3 2 3.4 2 1.7M1031 461.5l2 1.6 2 3.5 2 .8 2-1.2 2 3.5 2 1 2 2.9 2-3.3 2 5.2 2 0 2-.3 2 2.2 2 .2 2-2 2 3 2-2.6 2 1.5 2-1 2-.4 2-.7 2 .3 2-.9 2 .3 2-1.7 2 1.9 2-4.2 2 3.8 2 .3 2-.6 2 2.4 2 2.6 2-1.5 2 1.9 2-3.7 2 1.6 2-1.4 2 .7 2 1.1 2 .4 2 1.2 2-.5 2-2.5 2-1.6 2-3.5 2 1.3 2-1.3 2-1.7 2-.8 2-1.2 2-.8 2-1.7 2-1.4 2-.1 2 4 2-.1 2-.2 2-3.8 2-2.8 2-1.2 2-.8 2-1.4 2 5.1 2-.2 2 2.6 2-.4 2-1 2-4 2 0 2-3.3 2 2.3 2-1.2 2 1 2-2.2 2 .3 2-.3 2-.8 2 .6 2 2.3 2-2.3 2 1.5 2-.2 2 1.9 2-3.1 2-1.6 2-1.8 2-2.3 2 3 2-.7 2-2.2 2 5.4 2-.7 2-1.4 2 1.3 2 .5 2-.3 2-3.9 2 0 2-2 2-1.1 2 3.9 2 4.7 2 3.6 2 6.7 2-.6 2-2.9 2-10.4 2-11.2 2-12.1 2-13.3 2-10.3 2-10 2-2.8 2 3.3 2 7.2 2 9 2 12.4 1 6.8 1 4 1 5.6 1 3 1 2.3 1 4.9 1 2.1 1 2.8 1 4.6 1 3.9 1 4.8 1 5.8 1 5.2 1 2.7 1 2.1 1 4.3 1 4.4 1 3 1 2.4 1 1.2 1 2.6 1 2.9 1 1.7 1 3 1 1.7 1-.2 1 2.7 1 2.3 1-1 1 .1 1-.8 1-1.6 1-.9 1-.9 1-1.8 1-4.2 1-1.6 1 2.2 1 .5 2-3 2-4.7 2-2.5 2-3.4 2-.7 2-4.7 2-3.3 2-3 2-4 2 .5 2-2.9 2-1.8 2-2.9 2-2.3 2-2.9 2-2 2-3.7 2-1.6 2 .3 2-1.9 2-4.7 2-4.5 2-2.7 2-.9 2-3.1 2-.7 2-.4 2-1.6 2 1.1 2-3 2-1.5 2-2.7 2 0 2 2.1 2 .3 2 2 2 .8 2 1.2 2 1.4 2 0 2 .9 2 4.5 2 .8 2 1 2 3.1 2 4 2-1.8 2 2.9 2-.8 2 3.4 2 3.4 2 .6 2 3.2 2-2.9 2 2.6 2 2.6 2-1.5 2-.6 2-.1 2-3 2 .5 2 1.4 2 .9 2-2.8 2-.5 2 1.2 2-2 2-3.1 2 5.7 2-.8 2 .1 2 .4 2 1.4 2 3.6 2-3 2 .3 2 3.6 2 2.2 2 .6 2 3.7 2 3.4 2 2.5 2 1.4 2 .5 2 1.7 2 .4 2 2.1 2 2.4 2 2 2 1.6 2 1.8 2-1.8 2 3.1 2-.1 2 4.6 2-1.2 2 1.7 2 2.2 2 .1 2 0 2 1.6 2 1.4 2-1.4 2-.2 2-1.4 2 4.5 2 .9 2-1 2 1.2 2-1.2 2-4 2-.2 2 .5 2 .9 2-2.5 2-.5 2-1.8 2-1.3 2-6.5 2-1.7 2-1.8 2 .2 2-2.5 2 1.4 2-.4 2-6.5 2 1.6 2-4.4 2-.1 2-3.2 2-2.1 2 .6 2 2.1 2-4.2 2-1.6 2-.3 2-3.1 2 3.1 2-1.5 2-4.2 2 1.2 2-.8 2-1 2-3.7 2-.2 2-2.3 2-1.9 2-1.4 2-2.9 2 2.7 2-3.4 2-2.7 2 1 2-4 2-4.8 2-.4 2-2.5 2-3.2 2-2.9 2-2.2 2-.1 2 .7 2-1.7 2-1.1 2-3.2 2 .1 2 1.5 2-3 2 .5 2 1.4 2 .8 2 2 2 2.7 2 2.6 2 3.2 2-.7 2 3.1 2 .6 2-2.9 2 .9 2 1.7 2-1.2 2-1.1 2-.1 2-2.2 2 1.8 2 .9 2 2.2 2-.8 2 1.5 2-.4 2 1.3 2 .3 2 1.5 2 .7 2 1.3 2 1.7M1031 462.8l2 .8 2 3.3 2 1.6 2-2.4 2 2.9 2 .8 2 3.2 2-2.8 2 4.6 2-.2 2 .5 2 2.4 2-.4 2-.5 2 3 2-1.6 2-.7 2 .4 2-2.9 2-.2 2-.6 2-.3 2-.1 2-2.8 2 3.2 2-1.7 2 1.3 2 1.2 2-.8 2 2.5 2 1.7 2 .5 2 2 2-1.9 2-1.5 2-.3 2 1.7 2-1.7 2 1.5 2 1.6 2-.9 2-2 2-.9 2-3.3 2 1.5 2-2.1 2-2.2 2-.2 2 .3 2-.1 2-2.2 2-3.4 2 .4 2 2.2 2-.2 2-.4 2-1.4 2-3.1 2-.5 2-1.1 2-1.4 2 4.4 2-.4 2-.2 2-.9 2-2.2 2-2.5 2 2.6 2-2.7 2 1.9 2-.9 2 .7 2-2.2 2 .3 2-.4 2 .2 2 1.5 2 2.1 2-1.6 2 .5 2-4.6 2 2.2 2-2.5 2 .6 2-2.1 2-2.6 2 1.9 2-.4 2-2 2 5.9 2 1.2 2 .7 2 1.8 2-2.7 2-3.8 2-4.4 2 .5 2 .9 2-.8 2 3.7 2 5.4 2 4.6 2 8.1 2 .7 2-3.9 2-9.8 2-14.3 2-13.6 2-14 2-9.5 2-7.9 2-3.8 2 1.6 2 8.5 2 8.7 2 13.3 1 6 1 4.5 1 5.1 1 2.4 1 1.4 1 3.2 1 2.7 1 1.4 1 3.2 1 3.2 1 2.5 1 3.6 1 2.8 1 1.9 1 .5 1 2.2 1 4.2 1 2.9 1 2.5 1 .8 1 2 1 3.7 1 2 1 2.8 1 2.6 1-.6 1 2.5 1 3 1-.9 1 .4 1-.6 1 .1 1-.2 1-.5 1-.9 1-4.4 1-.6 1 2.9 1-.1 2-1.8 2-3.3 2-2.3 2-4.3 2 .6 2-4.5 2-2.4 2-1.6 2-4.7 2 2.2 2-3.4 2-2.7 2-1.1 2-3.6 2-.9 2-2.6 2-3.6 2-.9 2 .6 2-3.2 2-2.3 2-3.5 2-2.7 2 .1 2-1.8 2 .2 2-1.6 2-2.6 2-.9 2-3.4 2 .3 2-2.9 2 .6 2 2.4 2-.2 2 1.1 2 1.5 2 .5 2 2.9 2-.4 2 2.7 2 3.6 2 2.1 2-.2 2 4.5 2 2.8 2-2.4 2 1.3 2 .4 2 2.9 2 5.1 2 .4 2 2.5 2-2.3 2 1.7 2 2.6 2-1.9 2 1.2 2 .5 2-2.8 2-1.4 2 1.6 2-.6 2-1.9 2-1.3 2 1.7 2 1.4 2-3.8 2 4 2-2.1 2 1.4 2 .5 2 .9 2 3.6 2-.8 2 .4 2 2.6 2 1.5 2 1.5 2 3.3 2 1.5 2 2.2 2 1.7 2 .8 2 3.7 2 .8 2 3.3 2 1.3 2 1.9 2 1.8 2 3.8 2-2.9 2-.5 2 1.1 2 3.8 2-1 2 1.5 2 3.1 2-2 2 0 2 .8 2 1.8 2 .5 2 1.9 2-1 2 3.4 2-1.4 2 0 2 .2 2-1.9 2-.7 2 .3 2-1.7 2 .1 2-3 2 1.1 2-2.5 2 .2 2-3.7 2-1 2-2.2 2-2.7 2-4 2 .6 2-1.4 2-4.8 2 1.6 2-3.3 2 2.6 2-2.4 2-1.8 2-.7 2 1.9 2-4 2-1.8 2-3 2-1.6 2 3.1 2-4.3 2-1.9 2 1 2-1.2 2-1.2 2-3.2 2 0 2-1.6 2-3.4 2-2.8 2-4.4 2 3.5 2-3.5 2 .3 2 1.1 2-3.6 2-6.7 2 1.5 2-2.6 2-.1 2-.9 2-4.7 2-2.4 2-1.9 2-.4 2 1.3 2-4.7 2-.4 2 .5 2-2 2 1.4 2 1 2 1.1 2 1.5 2 .6 2 3 2 2 2-2 2 2.6 2 2.1 2 .4 2 1.4 2 2.7 2 .5 2 .8 2-1.2 2-2.4 2-1.2 2-2.7 2 3.2 2 1.3 2 2.1 2-2.5 2 2.6 2-.9 2 2.1 2-.3 2 3.4 2 4.1M1031 461.7l2 1.6 2 3.5 2 1.7 2-3 2 3.6 2 1.2 2 2 2-2.6 2 5.7 2-.9 2 1.1 2 2.1 2 1.4 2-2.2 2 2.9 2-1.6 2 .1 2-1.9 2-.2 2 .2 2 .1 2-2.9 2 1 2-2.8 2 4.1 2-3.4 2 3.4 2-.4 2-.5 2 2 2 1.4 2 .5 2 1.8 2-3.7 2 1.1 2-.8 2 2.3 2 .4 2 .2 2 1.5 2-.4 2-1.7 2-1.6 2-2.9 2-.4 2-1.7 2-2.6 2-1.8 2 1 2 .2 2-1.6 2-2.2 2 .4 2 2.6 2-1.2 2-.9 2-1.5 2-3.8 2 .7 2-.1 2-.4 2 2.2 2 .2 2 .5 2 .4 2-2.3 2-2.5 2 .2 2-4.2 2 2.1 2 0 2 3.2 2-.6 2 .5 2-1.9 2 .1 2 .4 2 2.9 2-3.9 2 1.4 2-2.7 2 2.8 2-2 2-1 2-1.1 2-2.7 2 2.9 2-.9 2-4.3 2 3.6 2 .3 2 .2 2 2.1 2-.2 2-2.5 2-4.9 2 1.3 2 1.5 2 1.4 2 4.4 2 5.5 2 1.1 2 4.4 2-2.7 2-2.8 2-10 2-11.2 2-12.3 2-13.5 2-9.5 2-8.6 2-3.1 2 2.2 2 5.9 2 8.4 2 13.4 1 7.4 1 3.6 1 5.1 1 3.6 1 .7 1 3.1 1 3.2 1 2.1 1 2.1 1 1.6 1 1.8 1 3.2 1 2.9 1 1.1 1 .9 1 2.4 1 3.5 1 2.4 1 1.5 1 .5 1 2.4 1 3.8 1 2.1 1 3 1 3 1 .3 1 2.3 1 2.5 1-.5 1 .6 1 0 1-.4 1-.6 1-.5 1-1.7 1-3 1-.3 1 1.4 1 .3 2-1 2-3.6 2-1.1 2-3.8 2 1 2-3.7 2-3.5 2-1.3 2-4.1 2 1.6 2-3.7 2-1.8 2-1.2 2-2.3 2-2 2-2.8 2-2.7 2-1.9 2 .1 2-1.7 2-3.6 2-3.4 2-1.1 2-.8 2-1.2 2-1.5 2 1.2 2-1.9 2 .5 2-1.6 2-2.1 2-2.6 2 .6 2 1.5 2 .5 2-.1 2-.1 2 1.1 2 1.5 2 1.1 2 1.8 2 3.9 2 2.9 2 .6 2 3.8 2 3.8 2-2.4 2 0 2-1.2 2 2.4 2 5.3 2-1.1 2 5.7 2-3.3 2 2.5 2 2.9 2-1.9 2 .2 2 .6 2-4.2 2-.7 2 3 2-.8 2-2.1 2-.1 2 1.4 2-.3 2-2.9 2 5.5 2-3.6 2 1.5 2-.1 2 1.2 2 3.3 2-1.4 2 2.2 2 2.6 2 .5 2 1.2 2 4.6 2 4.5 2 1.6 2-.1 2 1.4 2 1.6 2-.6 2 3.1 2 1.7 2 3.1 2 2.9 2 3.9 2-2.8 2 1.3 2 1.6 2 3.1 2-1.6 2 2.2 2 2 2-1.6 2 0 2-.7 2 2.4 2-.5 2 1 2-1.3 2 4.3 2 .5 2-.9 2 0 2-2.8 2-1.2 2 1.2 2 1.8 2-.7 2-3.9 2-1.7 2-2 2-1.2 2-4.3 2-.8 2-1.8 2-.9 2-3.4 2 1.3 2-1.6 2-2.8 2 1 2-4.4 2-1.2 2-2.8 2-3.4 2 .3 2 1.7 2-3.9 2-.7 2-.9 2-3.3 2 2.2 2-4.2 2-4.5 2 4 2-.9 2-.7 2-2.2 2 .9 2-.9 2-2.3 2-2.8 2-3.3 2 1 2-4.3 2-2.3 2 1.7 2-2.8 2-3.9 2 .6 2-1.7 2-2.4 2 .4 2-1.6 2-1 2-1.3 2-3.3 2-1 2-5.2 2-1.6 2 .9 2-2.8 2 1.6 2 2 2 1.7 2-.1 2 2.9 2 1.4 2 3.4 2 1 2 1.1 2 2.7 2-2.5 2 1.1 2 1.3 2-.7 2 1.3 2-.7 2-1.2 2 .3 2-3 2 2.3 2 .2 2 2.6 2-1 2 4.6 2-.8 2 1.2 2 .8 2 1.9 2 3.6M1031 462.9l2 2 2 3.2 2 1.3 2-1.7 2 1.9 2 2.5 2 2.6 2-2.6 2 4.4 2-1.2 2 1 2 1.5 2 .6 2-1.9 2 2.1 2-1.9 2 1.3 2-.7 2 .3 2-.4 2-2 2-1.3 2 .8 2-1.8 2 2.6 2-2.3 2 3.5 2 .1 2-.6 2 1.8 2 2.1 2-1.9 2 2.5 2-2.8 2 0 2 .5 2 .2 2-.6 2 .9 2 1.5 2-.4 2-.9 2-1.6 2-4.4 2 1.5 2-2.4 2-2.7 2-.2 2 .6 2 1.3 2-3.4 2-2.5 2 0 2 3.4 2-.9 2 .3 2-3.4 2-4.3 2 1.2 2-.1 2-.5 2 3 2-2.5 2 2.8 2 .4 2-.4 2-1.5 2 1.8 2-2.5 2 .9 2-3.1 2 .7 2-2.5 2 1 2-.9 2-.9 2 2 2 4.8 2-1.2 2 3.1 2-3.4 2 2 2-4 2-.9 2-2.2 2-2.5 2 2 2 1.5 2-2.8 2 4.9 2 0 2-1.5 2 1.5 2-1.1 2-2.5 2-6.4 2 2.2 2-.8 2-.3 2 4.1 2 5 2 2.8 2 6.7 2-2 2-2.8 2-8.4 2-11 2-13.7 2-12.6 2-10 2-10.1 2-4.2 2 2.9 2 6 2 8 2 12.9 1 7.1 1 4.2 1 5.1 1 2.4 1 2.9 1 6 1 2.9 1 3.1 1 4.4 1 3.1 1 3.9 1 6.3 1 4.9 1 2.8 1 3.5 1 4.2 1 4.3 1 2.7 1 2.4 1 1.5 1 3.2 1 4.3 1 1.6 1 2.1 1 1 1-.5 1 3 1 1.3 1-1.3 1 1.5 1-.9 1-1.7 1-.3 1-.9 1-2.6 1-3.9 1-.9 1 1.7 1 0 2-.4 2-5.6 2-2.7 2-3.4 2-.4 2-6.8 2-1.4 2-4.2 2-3.4 2 0 2-3 2-3.3 2-1.8 2-3.6 2-3.1 2-2.3 2-4.5 2-.8 2-1.3 2-2.2 2-4.3 2-2.2 2-2.5 2 .2 2-3 2-.8 2 .7 2-2.6 2 1.2 2-2.4 2-.6 2-2.6 2 1 2 1.1 2 .4 2-.3 2 1.2 2 1.1 2 1.6 2 2.6 2 2.1 2 2.5 2 1.7 2 .1 2 2.9 2 3.4 2-1.9 2 1.8 2-1 2 3.8 2 2.5 2 1 2 4.3 2-1.8 2 1.6 2 2.1 2-2.7 2-.9 2 1.8 2-3 2 1 2 3.2 2-.8 2-3.6 2-1.4 2 2.2 2-1 2-3.4 2 3.5 2-.1 2 1.5 2 .5 2 1.4 2 3.6 2-3.3 2 1 2 3.4 2 3.2 2 .2 2 3.6 2 3.6 2 1.1 2 1 2 1.5 2 1.8 2 1.3 2 2.7 2 1.6 2 1.4 2 .9 2 3.6 2-3.1 2 2.5 2 .7 2 2.6 2 .6 2 .9 2 3.3 2-1.1 2-1.2 2 1 2 1.6 2 .2 2 .3 2-1.2 2 2.6 2 .6 2 1.4 2 2.5 2-.3 2-3 2-1.9 2-.9 2-1.6 2-3.1 2 .7 2-.6 2 .5 2-4.3 2-.9 2-4.6 2-1.3 2-3.8 2 .4 2-.9 2-3.4 2 3 2-3 2 .8 2-2.9 2-4 2-1.5 2 2.4 2-5.1 2-1.6 2 .2 2-1 2 2.6 2-3.9 2-3.6 2 0 2-1.3 2-1.7 2-1.4 2-1 2 1.2 2-.1 2-.7 2-5.9 2 1 2-5.7 2-2.7 2 .9 2-2.6 2-5.7 2 1.4 2-1.8 2-3.3 2-1.9 2-2.3 2-1.7 2-.3 2-1.1 2-.8 2-3.1 2 .5 2 .3 2-2.8 2 .7 2 .1 2 2.1 2 3.3 2 2.6 2 2.8 2 2 2-.9 2 2.5 2 1.7 2-1.1 2 .1 2 2.1 2-.2 2 1.4 2 1 2-2.5 2-1.9 2-4.5 2 3.6 2-1 2 2.9 2-1.5 2 2.1 2 .6 2 3.4 2 1.9 2 4 2 1.1M1031 461.8l2 .8 2 2.8 2 1.6 2-1.9 2 3.3 2 1.9 2 2.4 2-3.4 2 5.9 2-1.1 2 1.2 2 2.6 2 .2 2-1.2 2 1.2 2-.8 2 0 2-.4 2-1.3 2 .2 2-.8 2-1.7 2 1.2 2-2.9 2 3.4 2-3.8 2 2.2 2 .5 2 .6 2 1.1 2 1.9 2-.7 2 2.5 2-2.5 2 1 2-1.9 2 2.3 2-.8 2-.2 2 2.2 2 .2 2-1 2-1.9 2-3.3 2 1.2 2-1.2 2-2.6 2-1.6 2 0 2-.5 2-1.6 2-3 2 .6 2 2.6 2-.6 2-3 2-1.8 2-3 2 .7 2 .1 2 0 2 3.4 2-1.2 2 .1 2-.6 2-.7 2-2.9 2 1 2-3.9 2 .4 2-1.3 2 .7 2-2.1 2-.8 2-.4 2-1.6 2 1.8 2 4.1 2-.2 2 2.6 2 .1 2-.2 2-5.2 2-.6 2-1.4 2-2.4 2 3.5 2-.1 2-1.6 2 3.4 2 .2 2 .7 2 .3 2-1.1 2-2.4 2-6 2 2.7 2 1.3 2-1.3 2 3.5 2 3.9 2 2.8 2 6.3 2 .1 2-3.4 2-7.7 2-11.9 2-13 2-12.6 2-8.5 2-10.7 2-1.8 2 3 2 6.1 2 7.4 2 11 1 6.1 1 4.9 1 5.6 1 2.4 1 1.2 1 3.5 1 2.3 1 2.3 1 3.1 1 2.6 1 1.5 1 2 1 1.9 1 .6 1 .8 1 2.9 1 3.4 1 2.1 1 1.9 1 .7 1 2 1 3.4 1 1.3 1 2.9 1 3.2 1 0 1 2.9 1 2.4 1-.3 1 1.9 1 .2 1-1.5 1-.3 1-.2 1-.9 1-2.7 1-.9 1 2 1 .2 2-.9 2-3.9 2-2.4 2-2.7 2 1 2-4.7 2-2.3 2-1.5 2-2.6 2 1.6 2-2.8 2-2.9 2-1.1 2-2.3 2-3.5 2-1.9 2-5.5 2 .9 2 0 2 .1 2-2.6 2-3.9 2-1.6 2-1.6 2-2.1 2 0 2-.1 2-.4 2 .8 2-2 2-1.3 2-3.8 2-.5 2 .9 2 .7 2 1.3 2 1 2-.8 2 .9 2 .8 2 4.5 2 4 2 2.1 2-.7 2 3.8 2 3.6 2-2.7 2 1.5 2-.7 2 3.9 2 2.8 2 .4 2 3.1 2-2.1 2 1.3 2 3.3 2-1.6 2-.3 2 .9 2-3.6 2 1.5 2 3.6 2-.1 2-2.4 2-1.4 2 1.1 2-1.3 2-5 2 5.4 2-2 2-.5 2 .8 2 1 2 5.6 2-2.5 2 .9 2 3.2 2 .9 2 1.6 2 2.3 2 4 2 1.6 2 2.2 2 1.5 2 1.8 2 .2 2 3.1 2 .3 2 2.9 2 1.6 2 2.2 2-3.9 2 2.5 2 3.4 2 4.8 2 .2 2 1.7 2 1.3 2-1 2-1.6 2-.8 2 2.3 2 .4 2 1.7 2-.5 2 4.2 2 .7 2-.7 2 .8 2-2.6 2-2.5 2-1.4 2 1.2 2-1.6 2-2.3 2-.9 2-3 2-.9 2-3.3 2-1.1 2-4.4 2 .5 2-2.5 2 .3 2 .8 2-3.7 2 1.8 2-4.3 2 .5 2-2.8 2-1.4 2 .7 2 .4 2-4.3 2-2.9 2-.9 2-1.6 2 4.5 2-3.5 2-4.1 2 1.7 2-1.3 2-.4 2-2.2 2 .3 2-.6 2-1.1 2-.4 2-3.2 2 2.5 2-4.1 2-1.1 2 1.5 2-3.3 2-5.5 2 2.5 2-1.9 2-3.7 2-.2 2-3.4 2-1.9 2-2.4 2-1.2 2-1.1 2-3.5 2-1.3 2 1.2 2-.6 2 1.9 2 .6 2 3.1 2-1 2 3.3 2 2.6 2 3.9 2-1.8 2 3.1 2 1.1 2-.9 2-.8 2 1.6 2 .2 2 2.4 2 1.3 2-.6 2-1.7 2-2.7 2 .7 2-2.3 2 .8 2-1.4 2 3.8 2-.1 2 3.1 2 2.7 2 3.9 2 2.6M1031 460.7l2 1.3 2 4.3 2 1.3 2-2 2 2.3 2 1.6 2 2.4 2-2.2 2 3.8 2-.1 2 1.2 2 2.7 2 1.6 2-1.1 2 2 2-2.8 2 .7 2-1.4 2-.6 2-.1 2 .3 2-1.3 2-.2 2-3.8 2 2.6 2-3.6 2 3.1 2 1.5 2-.1 2 1.9 2 1.4 2-.8 2 2.1 2-1.5 2 .8 2-.7 2 1 2-1 2 1.6 2 1 2-.1 2-3.1 2-.8 2-2.7 2 .4 2-1.5 2-2.3 2-.4 2 .1 2-.7 2-2.1 2-2.7 2 .8 2 1.8 2-2.2 2-.5 2-1.6 2-2.2 2 1.4 2-1 2-1.5 2 5.2 2-3.5 2 .5 2-.1 2-2 2-1.3 2-.3 2-3 2-.8 2-.6 2 2.3 2-2.1 2 2.3 2-2.9 2-2.3 2 1.9 2 4.8 2-1 2 2.1 2-3.2 2 .4 2-2.4 2-1.8 2-1.3 2-1.4 2 2.6 2 .7 2-2.8 2 3.5 2 .5 2-1.2 2 2.7 2 1.2 2-2.2 2-4.8 2 1.1 2-2.5 2-.2 2 3.4 2 4.3 2 3.7 2 6.5 2 1.8 2-2.8 2-7.2 2-13.4 2-13 2-14.3 2-10.2 2-8.8 2-2.9 2 2.6 2 6.5 2 7.8 2 12.6 1 7.6 1 3.8 1 5.5 1 2.7 1 1.4 1 4.1 1 3.6 1 3.7 1 4.2 1 4.6 1 4.6 1 4.7 1 4.1 1 2.6 1 1.8 1 4.7 1 5.7 1 1.9 1 1.4 1 1.4 1 3.3 1 3.4 1 1.2 1 2.5 1 1.7 1-1.1 1 1.9 1 1.8 1-.4 1 1.4 1-1.1 1-.9 1-1.1 1-.9 1-1.3 1-4.5 1-1.6 1 2.2 1 .7 2-1.9 2-4.5 2-3 2-3.2 2-1.2 2-5.4 2-2.4 2-1 2-4.9 2 2 2-3.9 2-3 2-.8 2-3 2-2.2 2-3.7 2-3.5 2-3.6 2 .5 2-2.1 2-5 2-3.6 2-2.7 2 1.3 2-.9 2-.3 2-1.9 2-.6 2-1.2 2-2.8 2-.7 2-3 2-.2 2 .5 2 1.5 2 .3 2 .8 2 1.3 2 3 2 1.4 2 3 2 2.9 2 2.6 2 .6 2 4.2 2 3 2-3.1 2-.1 2-1.8 2 4.4 2 2.7 2 1.6 2 4.2 2-3.4 2 3.1 2 1.2 2-1.4 2-.7 2 .8 2-3 2-1.1 2 2.1 2 .2 2-.9 2-.8 2 1.5 2-2.2 2-4.5 2 4.9 2-1.2 2-.4 2 2.3 2 .3 2 5.1 2-2.3 2 .4 2 3.7 2 1.8 2 .6 2 3.1 2 4.2 2 2.4 2 2.2 2 2.1 2 .7 2-1.5 2 3 2 .6 2 1.4 2 2.5 2 3.5 2-1.7 2 3.3 2-.1 2 4.5 2-1.4 2 1.6 2 2.3 2-2.4 2 1.1 2 .7 2 .8 2 .6 2 1 2-.6 2 4.2 2-.5 2-1.5 2 2.2 2-2.2 2-3.1 2 .8 2 .3 2 .1 2-1.4 2-.9 2-2.9 2-1.3 2-4.8 2-.8 2-2.5 2-1.6 2-4 2-.3 2-2.1 2-5.1 2 3.6 2-2.8 2 1.3 2 .3 2-2.4 2 .3 2 1.3 2-2 2-2 2-1.1 2-1 2 2.3 2-4.2 2-1.7 2 2.1 2-2.6 2-2.1 2-4.1 2-.9 2 1.8 2-.8 2 1.8 2-3.9 2 2.5 2-6.6 2-2.9 2 1.6 2-2.3 2-3 2 3.4 2-1.1 2-1.7 2-1.3 2-4.5 2-1.8 2 .6 2-1.3 2-.6 2-4.1 2 1.6 2 .7 2-2.4 2-1.2 2 .1 2 1.1 2 2.6 2 3.8 2 1.7 2 3.1 2 1.3 2 .4 2 3.7 2-2 2 .5 2 1.1 2-1.3 2 .6 2-.8 2 .2 2 0 2-3.5 2 2 2-1.5 2 3.5 2-.2 2 3 2-1.3 2 .6 2 .4 2 1.6 2 3M1031 461.9l2 1.4 2 3.9 2 1.1 2-3 2 3.2 2 1.5 2 2.7 2-5.1 2 6.1 2-1.3 2 1.9 2 2.3 2 .6 2-.5 2 2 2-1.1 2-.1 2-.9 2-.6 2-.1 2-1.6 2-1 2 1.1 2-2.5 2 2.9 2-4.3 2 3.7 2-.6 2 1.1 2 1.5 2 1.5 2-1 2 2 2-2.1 2 .1 2 .5 2 1.4 2-.4 2-.4 2 1.8 2-1.8 2-1.9 2 .6 2-3.1 2-.2 2-2.1 2-2.4 2-1.3 2 1.5 2-.4 2-2.9 2-1.5 2 .6 2 1.6 2-.8 2-.9 2-2.3 2-3.2 2 1.7 2 .4 2-.2 2 3.7 2-1.5 2 .3 2-1.5 2-2.1 2-2.2 2 .6 2-3.9 2 .7 2-2.6 2 .7 2-.2 2-.4 2-.4 2-.1 2 2.5 2 3.6 2-3.9 2 1.1 2-1.4 2 2.4 2-3.3 2 .1 2-3.5 2-4.1 2 2.7 2 1.4 2-1.9 2 6.7 2 0 2-.8 2 1.2 2-1.2 2-2.6 2-4.8 2 1.8 2 1.2 2-1.2 2 2.5 2 3.1 2 2.3 2 6.4 2-.3 2-2.3 2-8 2-10.6 2-12.8 2-11.9 2-8.7 2-10.2 2-2.7 2 .9 2 7.4 2 7.4 2 13.3 1 8.3 1 4.8 1 4.8 1 3.7 1 2.3 1 4.1 1 3.1 1 3.4 1 4.5 1 4 1 4.2 1 4.4 1 4.7 1 3.1 1 1.9 1 4.1 1 4.7 1 2.6 1 2.3 1 1.6 1 3.1 1 4 1 1.7 1 2.4 1 2 1 .6 1 2.2 1 .7 1-.2 1-.3 1-1.4 1-.3 1-1.1 1-.6 1-2.4 1-4.5 1-1 1 1.6 1 .5 2-1.4 2-5.5 2-3.1 2-3.1 2 .6 2-5.5 2-2.8 2-3.3 2-3.5 2 .8 2-5.8 2-2.2 2-2 2-3.5 2-2.9 2-1.8 2-4.7 2-2 2 .4 2-3.2 2-2.9 2-3.8 2-2.5 2-1 2-2 2 .2 2-1.1 2 .5 2-1 2-1.7 2-.8 2-3.7 2-.9 2 .9 2 1 2 .8 2 .5 2 1.1 2 2.8 2 1.4 2 1.4 2 1.9 2 2.7 2 2.2 2 3.3 2 4.2 2-2.9 2 .5 2-1.1 2 4.1 2 3.7 2-.4 2 4.6 2-1.4 2 0 2 4 2-2.1 2-1.6 2 1.8 2-3.5 2 .1 2 1.8 2-.8 2-2.2 2-1.3 2 2.3 2-1.1 2-5.2 2 5.2 2 .2 2 1.5 2 1.4 2 1.2 2 3.8 2-2.6 2 1.1 2 2.8 2 4 2-.1 2 3.2 2 3.7 2 .7 2 1.6 2 1 2 1.4 2 .7 2 2.1 2 .5 2 1.1 2 3.6 2 5 2-3 2 3.3 2 .2 2 1.5 2-2.2 2 .8 2 2.4 2-.7 2 0 2 1.5 2 1.6 2-1.2 2 .9 2-.3 2 4.6 2-.2 2 0 2-1 2-.8 2-.1 2-.8 2 1.3 2-3.2 2-3.1 2-.1 2-2 2 .1 2-4.3 2-.7 2-1.1 2-.6 2-4.7 2 .9 2-1.6 2-4.7 2 1.7 2-3.6 2 2.7 2-1.6 2-2.6 2-.8 2 0 2-2.6 2-1.1 2 0 2-.4 2 4 2-2.1 2-5 2 2.2 2-3 2-1.7 2-2.4 2 1.1 2-.5 2 1.2 2-.6 2-3.1 2 2.2 2-4.8 2-1.5 2 1.1 2 .4 2-3.6 2 2.4 2-1.3 2-2.2 2-.8 2-4.8 2-3.1 2-1.1 2-1.6 2-.8 2-1.8 2 .2 2 2.4 2-3.7 2 .5 2 2.1 2 2.5 2 1.9 2 2.8 2 3.3 2 1.8 2 .1 2 1 2 1.2 2-1.7 2-1 2 .7 2-1.4 2 .4 2 .9 2 .6 2 1.2 2-1.7 2 1.7 2-.4 2 3.2 2 1.3 2 3.6 2 1.9 2 1.2 2-.9 2 2 2 2.4M1031 461.8l2 .7 2 4.3 2 3.2 2-2.7 2 2.6 2 1.4 2 .9 2-2.2 2 4.5 2-1.5 2 1.7 2 2.3 2 .4 2-1.8 2 2.9 2-1.8 2 .6 2-1.5 2-.7 2-.7 2 .3 2-3.3 2 2.8 2-3.9 2 4.8 2-5.2 2 4.5 2 .5 2 .3 2 1.8 2 2.4 2-2.8 2 2.2 2-3.1 2 .5 2-.3 2 1 2-.6 2 1.2 2 1.1 2 .5 2-1.6 2-1.4 2-3 2 .9 2-1.8 2-2.2 2-.8 2 0 2-.6 2-2.2 2-1.8 2-.6 2 2 2-1.8 2-1.2 2-.4 2-2.1 2-.7 2-1.2 2-2.2 2 3.7 2-.1 2 .6 2-.6 2-.9 2-2.1 2 1.5 2-3.7 2 .9 2-.6 2 2 2-1.7 2-.8 2-1 2-.4 2 1.3 2 3.8 2-2.3 2 .3 2-1 2 2 2-3.1 2-1 2-2.8 2-2.1 2 1.1 2 .1 2-1.8 2 6.1 2 1.1 2 .3 2 1 2-3.3 2-3.5 2-3.8 2 1.5 2 2.2 2 .1 2 3.5 2 2.6 2 1 2 6.2 2-.4 2-1.9 2-7.8 2-12.4 2-12.7 2-11.8 2-9.4 2-9.8 2-4.5 2 2.8 2 8.2 2 7.7 2 12.9 1 7 1 4.5 1 6.1 1 2.4 1-5.4 1-3.1 1-5.2 1-15.9 1-14.1 1-19 1-25.6 1-20.7 1-10.5 1-12.2 1-13.5 1-5.9 1-5.2 1-5.1 1-1.9 1-3.5 1-1.5 1 5.3 1 4.4 1 5.4 1 4 1 1.7 1 6.5 1 6.1 1 3.9 1 5.3 1 3.8 1 4.3 1 3.8 1 3.1 1 3.7 1 1.6 1 4.3 1 7.4 1 5.4 2 9.4 2 6.1 2 9.8 2 6.7 2 9.5 2 1.3 2 5.1 2 1.7 2-2.3 2 2 2-1.9 2-.8 2-.5 2 .1 2 2.1 2 1.6 2 1.4 2 4.4 2 5 2 2.5 2 .9 2 .4 2 1.9 2 4.8 2 2.4 2 1.8 2 2.7 2-.3 2 2.9 2-1.5 2-.1 2-1.3 2-.1 2 .1 2 2.1 2-.4 2 .8 2 .8 2 .8 2 2.1 2 3.3 2 3.5 2 2.5 2 1.1 2 2 2 4.2 2-2.5 2 1.3 2-.3 2 3 2 3.8 2 0 2 3.6 2-3.3 2 1.9 2 2.4 2-.3 2-1.3 2 2.1 2-4.4 2 .8 2 2.3 2 .3 2-.7 2-1.6 2-.1 2-1.3 2-3.6 2 4.8 2-.6 2 1.2 2 1.1 2 1 2 3.7 2-2.8 2-.7 2 3.8 2 2.2 2 .6 2 4.2 2 3.1 2 1.9 2 1.4 2 1 2 2.9 2-.7 2 3.5 2 .5 2 2.4 2 1.9 2 3.1 2-2.5 2 1.2 2 .1 2 5 2-1.5 2 .6 2 2.8 2-.4 2 .4 2 .2 2 3.1 2-1 2 0 2-1.9 2 1.6 2-.8 2 .7 2-.4 2-.4 2-1.1 2 1.2 2-.8 2 .8 2-3.7 2-.6 2-.1 2-2.5 2-2.3 2 .5 2-3.4 2-2.2 2-2.2 2 0 2-1.4 2-3.8 2 1.6 2-2.5 2-1.9 2-2 2-2 2-.2 2 3.4 2-2.6 2 .4 2-.1 2-1 2 2.5 2-2.4 2-2.6 2 2.3 2-1.5 2-1.9 2-2.7 2 2 2 2.5 2 1.4 2 .3 2-5.3 2 1.2 2-3.2 2-1.8 2 1.1 2-2.2 2-2.8 2 3 2 .2 2-2.3 2-.6 2-5.3 2-2 2 0 2-1.5 2-.2 2-2.4 2-.7 2 .7 2-5.5 2 .6 2 1.5 2 3.3 2 2.4 2 2.7 2 1.6 2 1.5 2 .3 2 .5 2 1.8 2-.8 2-.3 2 .6 2 .9 2 2.7 2 0 2 .2 2 .3 2-1.8 2 3 2-1.2 2 1.3 2-2.4 2 1.9 2-.2 2 1.2 2 1.6 2 3.5 2 3.7M1031 460.8l2 1.5 2 2.4 2 1.7 2-1.2 2 2.5 2 1.8 2 3.7 2-5.8 2 5.5 2-.5 2 .4 2 3.4 2 .1 2-.4 2 1.7 2-.6 2 1.3 2-.9 2-1.7 2 .6 2-.5 2-1.8 2 .8 2-3.2 2 3.3 2-4.5 2 3.3 2 1.5 2-1.3 2 3 2 0 2-.3 2 2 2-2.8 2 .8 2 .3 2 .9 2 .7 2 .4 2 .8 2-1.2 2-2.3 2-1.3 2-1.4 2 .2 2-1.7 2-3.4 2-2.1 2 1.5 2 .2 2-2.3 2-2.8 2 .8 2 .8 2-.9 2-.8 2 .2 2-4 2 .2 2-.6 2-.1 2 5.4 2-2.2 2-.3 2-.8 2-2.3 2-3.2 2 .9 2-3 2 1.2 2-.5 2 2.3 2-.3 2 2.6 2-1.3 2-1.3 2 1.6 2 1 2-1.2 2 1.1 2-3.2 2 2.3 2-1.9 2 .2 2-1.3 2-4.3 2 1 2-.4 2-3.1 2 6.4 2 .9 2 .2 2 1.5 2-1.5 2-3.9 2-5.9 2 .1 2-.3 2 1.6 2 4.8 2 5.3 2 2.7 2 8.1 2-1.4 2-4.3 2-8.8 2-12.7 2-13.6 2-11.7 2-8.9 2-9 2-1.5 2 .9 2 6.2 2 7.3 2 13.7 1 5.9 1 4.3 1 6.8 1 3.6 1 .1 1 1.6 1 .9 1-.3 1 1.2 1 1.2 1-1 1 0 1-.4 1-1.3 1-2.3 1-.1 1 3 1 1.5 1 .9 1 .8 1 1.5 1 2.9 1 3 1 2.9 1 2.1 1 1.6 1 4.1 1 1.9 1-.3 1 2 1-.7 1-.5 1 1.1 1-.3 1-1.1 1-2.1 1-.4 1 3.1 1 2.3 2 .5 2-2.6 2-2 2-2 2 1.9 2-4.1 2-.2 2-2 2-2.2 2 3.4 2-2.6 2-1 2-1.6 2-1.5 2-1.3 2-1.2 2-3.5 2-1.5 2 .5 2-.8 2-2 2-2.4 2-1.4 2-.8 2-3.1 2 .8 2-.5 2-1.3 2 1.3 2-3.2 2-1.6 2-3.2 2 .5 2 .6 2 .9 2 1.1 2 1.8 2 1.5 2 .1 2 .8 2 2.4 2 3.4 2 2.9 2 .9 2 4 2 4 2-3.2 2 1.7 2-1.4 2 3.1 2 3.8 2-1.1 2 4.3 2-3 2 3 2 1.9 2-1.1 2-.2 2 .6 2-4.9 2 .3 2 3.4 2-1.4 2-1.2 2-2.7 2 2.1 2 .3 2-2.8 2 5.1 2-.8 2 .4 2 .1 2 1 2 4.6 2-3.3 2 1.1 2 2.3 2 2 2-.4 2 3.6 2 2.9 2 2 2 2.6 2 1.1 2 2 2 1 2 3 2 2.1 2 2.1 2 1.7 2 3.3 2-4.4 2 1.7 2-.1 2 5 2 .3 2 2.4 2 1.7 2-3.2 2-.5 2 0 2 1.2 2 1.4 2 2.1 2 2.4 2 4.6 2-1.4 2-2.5 2 .5 2-2.2 2-3 2 .3 2-.6 2-1 2-2.3 2 1 2-1.1 2-1.1 2-4.1 2-1.3 2-1.9 2-.8 2-5.7 2-.5 2-2.5 2-4.8 2 3.7 2-1.8 2 1.9 2-.4 2-.9 2-1.2 2 2.3 2-3 2-.9 2 1.2 2-2.3 2 4.1 2-3.2 2-1.8 2 2.2 2-1.6 2-1.7 2-2.2 2 1.7 2 2.2 2 .7 2-1.5 2-4.2 2 2.9 2-3.9 2-1.8 2 .9 2-1.5 2-2.4 2 3.3 2-1.6 2-2.3 2 .7 2-3 2-.7 2-.7 2-.6 2-.3 2-2.7 2-1.7 2 .9 2-3.7 2 .6 2 1.1 2 0 2 2.3 2 1.9 2 1.7 2 4 2 0 2 3 2 4.7 2-.7 2 .6 2 .7 2-1.8 2 .2 2-.3 2-.7 2-.1 2-1.8 2 1.5 2-.7 2 1.5 2-.3 2 3 2-.7 2 2.5 2 2.1 2 2.8 2 2M1031 462.2l2 0 2 4.8 2 1.3 2-2.2 2 3.2 2 .9 2 2.8 2-3.3 2 4.6 2 .5 2 1.1 2 1.6 2 1.2 2-1.8 2 1.7 2-2.3 2 .3 2 .5 2-2 2 1.1 2-.9 2-.9 2-.8 2-2.7 2 3.2 2-3.9 2 4.3 2 .7 2-.3 2 1.8 2 .8 2-1.1 2 2.7 2-2.5 2 1.2 2-.1 2-.3 2 .6 2 .8 2-.1 2-.7 2-1.9 2-.5 2-2.5 2 .1 2-.9 2-3.9 2 .6 2 .2 2 .2 2-2.5 2-2.3 2-.1 2 2 2-1.4 2-.3 2-3.7 2-2.6 2 1.8 2-.5 2 0 2 6.3 2-2.7 2 1.4 2-2.7 2-1.2 2-2.4 2 .9 2-3 2 1.3 2-1.7 2-.1 2-1.5 2-.1 2-1.1 2-1.6 2 2.4 2 3.1 2-2 2 1.9 2-1.7 2 2.4 2-3.4 2 1.4 2-2.2 2-2.6 2 .7 2-2.5 2-2.7 2 6 2 .5 2 1.7 2 2.3 2-1.9 2-3.2 2-4.5 2 .2 2-.4 2 .9 2 4 2 5.2 2 3.5 2 5.3 2-.6 2-2.8 2-9.2 2-11.4 2-13.7 2-12.5 2-8.9 2-9.7 2-4.2 2 3.7 2 6.5 2 7.8 2 12 1 7 1 4.6 1 6.2 1 3.4 1-1.7 1 1.1 1 .2 1-1.5 1-.2 1-1.9 1-3.7 1-2.5 1-3.6 1-3.1 1-3.4 1-2.4 1 1.3 1-.4 1-1.3 1 .1 1 1.5 1 1.7 1 2.5 1 4.8 1 3.3 1 1.4 1 3.9 1 2.7 1 1.3 1 3.1 1 1.2 1 1.3 1 .7 1-.1 1 .7 1-1.7 1 .6 1 3.1 1 1.8 2 .8 2-1.6 2 .4 2-1.9 2 2.4 2-2.4 2 .3 2-.9 2-2.3 2 3.1 2 .8 2-.8 2 .4 2-.1 2-2.2 2-.1 2-2.5 2-.9 2 1.1 2-.9 2-2.3 2-2.5 2-.8 2 1.1 2-2.2 2 .8 2-.6 2-.7 2-.5 2-1.7 2-.7 2-2.5 2-.5 2-.5 2 .9 2 .5 2 .9 2 2 2 1.8 2 .9 2 3.4 2 3.2 2 1 2 1.4 2 1.7 2 4.3 2-2.9 2 .8 2-.4 2 3.5 2 2.4 2-.3 2 2.4 2-2.4 2 2.7 2 3.7 2-1.3 2-.9 2 1.6 2-3.5 2-.3 2 3.4 2 2.1 2-2.2 2-1.7 2 1.6 2-1.9 2-3.8 2 4.9 2-1 2 2 2 .8 2-.1 2 5.5 2-4.3 2 .9 2 4.3 2 2 2-1.4 2 2.8 2 1.9 2 2.4 2 3 2 1.8 2 2.7 2-.8 2 2.1 2 2.3 2 .6 2 1.7 2 4.5 2-3.1 2 1.5 2 .1 2 3.6 2-.2 2 3.6 2 .4 2-.5 2-1.1 2 .2 2 3.9 2-.1 2 1.3 2 .6 2 4.7 2 1.1 2-1.5 2 .9 2-3 2-3 2-.5 2 .3 2-.9 2-5.2 2-2.7 2-1.9 2 .5 2-3.7 2 .3 2-1.9 2-1.2 2-2.8 2-.7 2-1.6 2-4.3 2 2 2-1.7 2 .1 2-.1 2-2.1 2 .3 2 1.9 2-1.9 2-2.3 2-.7 2-1.8 2 3.6 2-2.4 2-1.4 2 4.5 2 .8 2 0 2-1 2-.7 2 .7 2-.4 2 1.1 2-2.9 2 3.9 2-4.1 2-2.1 2 .8 2-3 2-4.8 2 3.8 2 .3 2 1.7 2 1.8 2-3 2-2.1 2-.9 2-3.9 2 1.6 2-2 2-.5 2 .3 2-2.7 2 1.6 2 .3 2 2.4 2-.4 2 2.5 2 1.6 2 1.5 2 .2 2 3.4 2 2.8 2-1.9 2-1.2 2 2.1 2-2 2 .8 2-.7 2-.8 2 .9 2-2.8 2 4 2-1.2 2 1.9 2-1.5 2 3.2 2 1.5 2 4.4 2 2.2 2 1.7 2 3.3" fill="none" stroke="#0000ff" stroke-width="1.3" stroke-linejoin="round"/>
<path d="M1031.0 447.6L1033.0 446.9L1035.0 446.6L1037.0 444.9L1039.0 440.7L1041.0 440.1L1043.0 439.6L1045.0 442.0L1047.0 441.3L1049.0 446.6L1051.0 447.6L1053.0 449.7L1055.0 452.9L1057.0 454.8L1059.0 455.8L1061.0 457.7L1063.0 454.6L1065.0 452.7L1067.0 450.3L1069.0 447.7L1071.0 445.8L1073.0 443.9L1075.0 443.0L1077.0 444.1L1079.0 442.6L1081.0 445.5L1083.0 443.4L1085.0 445.2L1087.0 445.3L1089.0 445.1L1091.0 446.1L1093.0 447.3L1095.0 447.0L1097.0 448.9L1099.0 447.1L1101.0 445.9L1103.0 443.3L1105.0 441.8L1107.0 439.7L1109.0 439.0L1111.0 439.0L1113.0 438.7L1115.0 438.7L1117.0 440.1L1119.0 440.4L1121.0 443.0L1123.0 444.3L1125.0 444.9L1127.0 445.4L1129.0 445.4L1131.0 444.8L1133.0 443.2L1135.0 441.3L1137.0 442.6L1139.0 446.5L1141.0 448.2L1143.0 450.2L1145.0 451.1L1147.0 451.2L1149.0 452.9L1151.0 452.1L1153.0 450.0L1155.0 451.5L1157.0 449.0L1159.0 450.4L1161.0 452.7L1163.0 454.6L1165.0 456.4L1167.0 460.0L1169.0 460.6L1171.0 464.2L1173.0 465.1L1175.0 465.0L1177.0 462.0L1179.0 460.3L1181.0 457.9L1183.0 454.7L1185.0 456.1L1187.0 462.8L1189.0 465.5L1191.0 470.8L1193.0 471.6L1195.0 471.3L1197.0 465.9L1199.0 462.8L1201.0 459.2L1203.0 455.5L1205.0 457.0L1207.0 460.6L1209.0 464.0L1211.0 471.0L1213.0 473.7L1215.0 470.8L1217.0 464.5L1219.0 458.2L1221.0 451.9L1223.0 444.5L1225.0 440.8L1227.0 439.1L1229.0 441.6L1231.0 448.9L1233.0 456.4L1235.0 463.0L1237.0 471.1L1239.0 468.5L1241.0 458.0L1243.0 443.3L1245.0 424.9L1247.0 405.7L1249.0 388.3L1251.0 374.1L1253.0 371.4L1255.0 386.9L1257.0 407.8L1259.0 433.1L1261.0 460.4L1263.0 483.4L1264.0 494.4L1265.0 502.5L1266.0 512.2L1267.0 519.9L1267.0 527.2L1266.0 519.6L1265.0 510.0L1264.0 502.0L1263.0 491.1L1261.0 468.3L1259.0 441.2L1257.0 416.0L1255.0 395.3L1253.0 380.0L1251.0 382.9L1249.0 397.4L1247.0 414.9L1245.0 434.3L1243.0 452.9L1241.0 467.7L1239.0 478.3L1237.0 481.0L1235.0 472.8L1233.0 466.2L1231.0 458.6L1229.0 451.3L1227.0 448.8L1225.0 450.5L1223.0 454.1L1221.0 461.4L1219.0 467.8L1217.0 474.0L1215.0 480.2L1213.0 483.1L1211.0 480.4L1209.0 473.4L1207.0 469.9L1205.0 466.2L1203.0 464.7L1201.0 468.4L1199.0 472.0L1197.0 475.0L1195.0 480.4L1193.0 480.7L1191.0 479.8L1189.0 474.5L1187.0 471.7L1185.0 465.0L1183.0 463.6L1181.0 466.7L1179.0 469.1L1177.0 470.8L1175.0 473.8L1173.0 473.8L1171.0 472.9L1169.0 469.2L1167.0 468.6L1165.0 464.9L1163.0 463.2L1161.0 461.2L1159.0 458.8L1157.0 457.4L1155.0 459.9L1153.0 458.3L1151.0 460.4L1149.0 461.1L1147.0 459.5L1145.0 459.4L1143.0 458.4L1141.0 456.4L1139.0 454.8L1137.0 450.8L1135.0 449.5L1133.0 451.4L1131.0 453.0L1129.0 453.6L1127.0 453.6L1125.0 453.0L1123.0 452.4L1121.0 451.1L1119.0 448.5L1117.0 448.2L1115.0 446.8L1113.0 446.8L1111.0 447.0L1109.0 447.0L1107.0 447.7L1105.0 449.9L1103.0 451.3L1101.0 453.9L1099.0 455.1L1097.0 456.8L1095.0 454.9L1093.0 455.2L1091.0 454.0L1089.0 453.0L1087.0 453.2L1085.0 453.0L1083.0 451.2L1081.0 453.4L1079.0 450.4L1077.0 451.9L1075.0 450.8L1073.0 451.7L1071.0 453.6L1069.0 455.5L1067.0 458.1L1065.0 460.4L1063.0 462.3L1061.0 465.4L1059.0 463.5L1057.0 462.5L1055.0 460.6L1053.0 457.4L1051.0 455.3L1049.0 454.2L1047.0 449.0L1045.0 449.6L1043.0 447.2L1041.0 447.7L1039.0 448.3L1037.0 452.5L1035.0 454.2L1033.0 454.4L1031.0 455.2Z" fill="#000"/>
<path d="M1364.0 434.1L1366.0 432.5L1368.0 432.2L1370.0 432.9L1372.0 432.7L1374.0 431.5L1376.0 430.7L1378.0 431.0L1380.0 432.5L1382.0 432.9L1384.0 435.1L1386.0 438.2L1388.0 441.0L1390.0 442.9L1392.0 446.5L1394.0 450.2L1396.0 449.7L1398.0 451.7L1400.0 452.0L1402.0 455.3L1404.0 457.8L1406.0 458.0L1408.0 460.4L1410.0 459.4L1412.0 462.0L1414.0 465.5L1416.0 465.7L1418.0 466.7L1420.0 468.6L1422.0 467.3L1424.0 469.3L1426.0 472.9L1428.0 474.4L1430.0 473.9L1432.0 472.3L1434.0 472.7L1436.0 471.0L1438.0 466.9L1440.0 468.5L1442.0 465.4L1444.0 463.8L1446.0 462.2L1448.0 460.4L1450.0 461.4L1452.0 457.6L1454.0 456.1L1456.0 456.3L1458.0 455.5L1460.0 453.6L1462.0 454.0L1464.0 454.1L1466.0 453.3L1468.0 452.7L1470.0 451.4L1470.0 467.7L1468.0 468.7L1466.0 469.1L1464.0 469.8L1462.0 469.5L1460.0 468.9L1458.0 470.6L1456.0 471.3L1454.0 470.8L1452.0 472.2L1450.0 475.8L1448.0 474.6L1446.0 476.3L1444.0 477.7L1442.0 479.1L1440.0 482.0L1438.0 480.2L1436.0 484.2L1434.0 485.6L1432.0 485.1L1430.0 486.5L1428.0 486.9L1426.0 485.3L1424.0 481.5L1422.0 479.5L1420.0 480.6L1418.0 478.6L1416.0 477.5L1414.0 477.2L1412.0 473.5L1410.0 470.8L1408.0 471.7L1406.0 469.1L1404.0 468.9L1402.0 466.3L1400.0 462.9L1398.0 462.5L1396.0 460.5L1394.0 461.0L1392.0 457.3L1390.0 453.7L1388.0 451.8L1386.0 449.0L1384.0 445.9L1382.0 443.7L1380.0 443.3L1378.0 441.8L1376.0 441.5L1374.0 442.3L1372.0 443.5L1370.0 443.7L1368.0 443.0L1366.0 443.3L1364.0 444.9Z" fill="#000"/>
<path d="M1470.0 451.0L1472.0 450.0L1474.0 447.7L1476.0 447.6L1478.0 446.3L1480.0 445.5L1482.0 444.8L1484.0 445.2L1486.0 441.3L1488.0 440.5L1490.0 439.1L1492.0 439.4L1494.0 437.0L1496.0 436.4L1498.0 436.3L1500.0 434.4L1502.0 433.3L1504.0 432.4L1506.0 432.8L1508.0 431.7L1510.0 431.2L1512.0 429.9L1514.0 432.0L1516.0 430.9L1518.0 429.8L1520.0 429.5L1522.0 428.1L1524.0 426.6L1526.0 426.5L1528.0 426.7L1530.0 426.8L1532.0 425.5L1534.0 426.4L1536.0 426.6L1538.0 427.5L1540.0 426.1L1542.0 426.8L1544.0 426.2L1546.0 426.8L1548.0 425.9L1550.0 427.5L1552.0 428.0L1554.0 426.4L1556.0 429.2L1558.0 428.6L1560.0 430.6L1562.0 431.0L1564.0 430.6L1566.0 431.5L1568.0 433.6L1570.0 432.2L1572.0 432.3L1574.0 433.4L1576.0 433.2L1578.0 436.4L1580.0 435.1L1582.0 433.7L1584.0 435.8L1586.0 435.8L1588.0 436.4L1590.0 436.2L1592.0 437.6L1594.0 439.3L1596.0 440.2L1598.0 441.3L1600.0 440.0L1602.0 443.3L1604.0 442.6L1606.0 443.1L1608.0 446.0L1610.0 445.6L1612.0 444.4L1614.0 448.2L1616.0 449.2L1618.0 449.3L1620.0 450.5L1622.0 449.6L1624.0 450.5L1626.0 451.4L1628.0 451.9L1630.0 452.8L1632.0 452.0L1634.0 453.0L1636.0 454.8L1638.0 453.9L1640.0 454.6L1642.0 454.8L1644.0 455.4L1646.0 456.1L1648.0 457.0L1650.0 457.8L1652.0 459.1L1654.0 457.8L1656.0 457.9L1658.0 458.8L1660.0 457.9L1662.0 458.1L1664.0 458.8L1666.0 458.4L1668.0 458.9L1670.0 458.6L1672.0 457.9L1674.0 457.8L1676.0 456.1L1678.0 457.4L1680.0 456.6L1682.0 457.5L1684.0 456.2L1686.0 457.7L1688.0 457.1L1690.0 457.9L1692.0 457.7L1694.0 458.6L1696.0 459.2L1696.0 464.5L1694.0 463.8L1692.0 463.0L1690.0 463.2L1688.0 462.3L1686.0 462.9L1684.0 461.4L1682.0 462.7L1680.0 461.9L1678.0 462.7L1676.0 461.3L1674.0 463.1L1672.0 463.2L1670.0 463.8L1668.0 464.1L1666.0 463.6L1664.0 464.0L1662.0 463.3L1660.0 463.1L1658.0 464.1L1656.0 463.1L1654.0 463.0L1652.0 464.3L1650.0 463.1L1648.0 462.3L1646.0 461.5L1644.0 461.0L1642.0 460.5L1640.0 460.5L1638.0 459.8L1636.0 460.9L1634.0 459.1L1632.0 458.3L1630.0 459.2L1628.0 458.4L1626.0 458.0L1624.0 457.2L1622.0 456.4L1620.0 457.4L1618.0 456.3L1616.0 456.3L1614.0 455.5L1612.0 451.8L1610.0 453.1L1608.0 453.6L1606.0 450.8L1604.0 450.4L1602.0 451.3L1600.0 448.1L1598.0 449.5L1596.0 448.5L1594.0 447.7L1592.0 446.1L1590.0 444.8L1588.0 445.1L1586.0 444.6L1584.0 444.7L1582.0 442.8L1580.0 444.3L1578.0 445.7L1576.0 442.6L1574.0 442.9L1572.0 441.9L1570.0 441.9L1568.0 443.4L1566.0 441.4L1564.0 440.6L1562.0 441.0L1560.0 440.8L1558.0 438.8L1556.0 439.5L1554.0 436.8L1552.0 438.4L1550.0 438.0L1548.0 436.5L1546.0 437.5L1544.0 436.9L1542.0 437.6L1540.0 437.0L1538.0 438.4L1536.0 437.7L1534.0 437.5L1532.0 436.6L1530.0 437.9L1528.0 437.8L1526.0 437.5L1524.0 437.5L1522.0 439.0L1520.0 440.3L1518.0 440.5L1516.0 441.4L1514.0 442.4L1512.0 440.2L1510.0 441.4L1508.0 441.9L1506.0 442.8L1504.0 442.3L1502.0 443.1L1500.0 444.1L1498.0 445.8L1496.0 445.7L1494.0 446.2L1492.0 448.3L1490.0 447.8L1488.0 449.1L1486.0 449.6L1484.0 453.3L1482.0 452.8L1480.0 453.3L1478.0 453.9L1476.0 455.0L1474.0 454.9L1472.0 457.0L1470.0 457.8Z" fill="#000"/>
<path d="M1031 447.2l2-.6 2 .4 2-3 2-3.3 2-.4 2-.9 2 3.4 2-1.6 2 5.5 2 .5 2 2.1 2 3.3 2 1.7 2 .1 2 3 2-3.5 2-2.3 2-2.6 2-1.3 2-3.2 2-1 2-1.1 2 1.9 2-2.2 2 2.7 2-2.5 2 3 2 0 2-.1 2 .7 2 1.1 2-.4 2 1.4 2-.6 2-1.8 2-1.6 2-1.6 2-2.6 2-2 2 .5 2-1.1 2 1.2 2 1.1 2 .6 2 2.5 2 1.8 2-.1 2 .8 2-.9 2-.3 2-1.5 2-2.1 2 1.3 2 4.2 2 2.7 2 2.4 2 .9 2 .1 2 1.8 2-1.6 2-2.6 2 2.3 2-2.9 2 1.5 2 3.2 2 0 2 2.5 2 3.9 2 1.2 2 2.9 2 .6 2-1.2 2-3.5 2-2.6 2-1.8 2-2.5 2 1.1 2 7.2 2 3.2 2 5.9 2 2.2 2-.8 2-5.6 2-4.5 2-3.4 2-4.3 2 2.1 2 3.3 2 3.8 2 7.3 2 1.8 2-4.1 2-5 2-5.9 2-6.6 2-6.6 2-3.6 2-1.7 2 2.4 2 6.7 2 7.4 2 6.2 2 7.9 2-3 2-10.1 2-14.5 2-17.7 2-19.6 2-17.9 2-14.4 2-1.6 2 14.2 2 22.5 2 25 2 27.1 2 22.6 1 11.2 1 8 1 9.7 1 7.4 1 5.8 1-1.1 1-6.9 1-6.8 1-9.5 1-8.8 1-9 1-8.3 1-8.7 1-6.4 1-2.7 1-1.1 1 1.9 1 .8 1-.8 1-.1 1 2.2 1 2.7 1-2.2 1-1.4 1-1.3 1-2 1 0 1 .6 1-.6 1 .6 1 .1 1-.5 1-.1 1-.4 1-1.4 1-1.6 1 .3 1 2.7 1 1.9 2 .1 2-1 2 1.6 2-.9 2 2.2 2-2.2 2 1.7 2 .1 2-2.8 2 2.8 2-2.8 2-2.4 2 .4 2-3.6 2-3 2-1.2 2-3.9 2-2.1 2 .4 2-.3 2-1.7 2-4.4 2-1.4 2 0 2-.9 2 1 2 .1 2 .2 2 1.5 2-.3 2-.1 2-1.8 2 .2 2 1.1 2-1.7 2-.6 2-2 2 1.1 2 2.1 2 1.2 2 1.9 2 2.9 2 2.9 2 1.8 2 3.6 2 2.9 2 0 2 1.7 2 .5 2 4 2 1.7 2 .7 2 .6 2-.1 2 3.7 2 4.5 2 .9 2-.2 2 1.3 2-1.7 2 1.8 2 2.8 2 1.9 2-.2 2-2.6 2 .8 2-.8 2-2.9 2 1.8 2-3.9 2-.9 2-1.8 2-2.1 2 0 2-4.3 2-.7 2 .5 2-1.1 2-2.1 2-1.7 2-1 2-.4 2-.9 2-.1 2 2.1 2-1.7 2 1.1 2-2 2-1.4 2-1.5 2-.3 2-3.2 2 .4 2-1.2 2 .9 2-4.7 2-1.9 2-.8 2-2.7 2-2.3 2 .1 2 .8 2-.1 2-.9 2-1.4 2 3.6 2-.2 2-1.4 2 .7 2-2.4 2-2.5 2 .5 2 .6 2 .6 2-.8 2 .1 2-.3 2 0 2-2.9 2-.2 2-.9 2 .9 2 .3 2 1.8 2 3 2-1.6 2 3.7 2-1.5 2 2 2 .9 2-.7 2 .2 2 2.4 2-1.1 2-1.7 2 .4 2-.4 2 2.8 2 1 2 1 2 1.8 2 .2 2-1.6 2-1.6 2 1.7 2 .6 2-.3 2 .9 2-.2 2 3 2 .1 2 .8 2 2.7 2 1.4 2 .4 2 3.9 2-.1 2-1.3 2-.5 2-1.1 2 2.5 2 .4 2 .1 2 2.4 2-.2 2 2.3 2 2.2 2-1.7 2 1.2 2-.6 2-.7 2 1.2 2 1.1 2 1.9 2-.6 2-1.3 2-.1 2 .2 2-.2 2 .1 2 .4 2-.4 2 .5 2 .4 2-.8 2 1.1 2-1.9 2 1.8 2-1.3 2 .5 2-2 2 2.9 2-1.2 2 .9 2 .7 2 .8 2-.1M1031 448.2l2-1.7 2-.8 2-1.8 2-3.4 2 .2 2-1.1 2 2.3 2 0 2 4.7 2-.1 2 2.9 2 4 2 1.1 2 .2 2 1.8 2-3.2 2-1.4 2-1.4 2-2.8 2-2.6 2-1.8 2-.6 2 1.4 2-1.9 2 3.8 2-2.8 2 1.9 2 1.2 2-.6 2 1.4 2 .3 2-.2 2 1.9 2-2.3 2-1.6 2-3 2-1.6 2-1.7 2-.6 2 .6 2-.2 2-.1 2 1.4 2-1.4 2 2.8 2 1.9 2 .7 2 1 2 .4 2-.7 2-2 2-1.7 2 1.6 2 3.5 2 1.5 2 2.1 2 1.3 2-1 2 2.4 2-.2 2-2 2 1.2 2-2.6 2 2 2 1.5 2 1.9 2 1.2 2 3.6 2 1.6 2 3.1 2 2.1 2-.2 2-3.5 2-1.9 2-2.7 2-3.4 2 2.2 2 6.3 2 2.4 2 4.6 2 2 2-.6 2-5.1 2-3.3 2-3.9 2-3.9 2 2.2 2 4.1 2 2.1 2 6.1 2 3.3 2-3.7 2-6.3 2-5.7 2-6.3 2-8.3 2-2.5 2-1.8 2 2.7 2 6.8 2 7.9 2 6.9 2 8.6 2-2.4 2-9.3 2-15.1 2-19.3 2-19.4 2-18 2-14.2 2-2 2 15.4 2 20.2 2 25.8 2 27.1 2 23 1 11.4 1 8 1 9.6 1 7.2 1 6.3 1-4.4 1-10.7 1-9.7 1-16.8 1-16 1-16.2 1-16 1-16.7 1-13.9 1-10.2 1-5.9 1-1.6 1-2.9 1-2.8 1-1.2 1-.2 1 3.9 1-1.7 1 .6 1 2 1 0 1 1.7 1 2.7 1 2 1 2.4 1 3.1 1 2.5 1 1.1 1 1.7 1 1.6 1 .4 1 1.9 1 4 1 3.7 2 4.3 2 2.5 2 3 2 2.5 2 4.6 2 1.5 2 4.4 2 .8 2 .7 2 2.4 2-2.1 2-.7 2-.7 2-.5 2-1 2 0 2-1 2 0 2-.5 2 .6 2-2.2 2-1.9 2-.7 2 .5 2-.6 2 .3 2 .4 2 0 2 3.2 2-.5 2 1.3 2-1.4 2-.6 2 .2 2 .5 2-1.7 2-.9 2 .9 2 .9 2-.3 2 3.1 2 1.8 2 2.9 2 1.4 2 4.4 2 3.7 2-.2 2 2.6 2 1.3 2 3.5 2 2.2 2 1.7 2 2.5 2-3 2 2.8 2 3.4 2 .2 2 .5 2 1.2 2-1.8 2 1.6 2 3.2 2 .4 2 1.2 2-.5 2 1.1 2-1.6 2-4.4 2 .3 2-2.6 2-1.4 2-.8 2-1.3 2-.1 2-3.2 2-1.9 2 .5 2-1.9 2-.8 2-.6 2 .2 2-2.2 2-.4 2-.7 2 0 2-.6 2 1.4 2-1.9 2-1.4 2-.8 2-.9 2-5.5 2-2 2-4.1 2 .4 2-.3 2 1.2 2 1.2 2-1.5 2-1.5 2-1.7 2-.1 2-1.6 2 2.2 2-1.1 2 .6 2-1.9 2-2.7 2-.2 2-.4 2-1.5 2 .7 2 .3 2-.7 2-1.5 2 .8 2 .7 2-.1 2-3.2 2 .5 2-.4 2 2.7 2-1.2 2 2.7 2 .7 2-1.5 2 3.9 2-1.1 2 2.2 2-.3 2 .7 2-.8 2 1.3 2-1.9 2 1.3 2 2.2 2 .3 2 2.1 2-1 2-3 2 1.8 2 0 2 1.2 2 .4 2 2.2 2 3 2 0 2 0 2-1.3 2 2.6 2-.9 2 2.3 2 3.9 2-.2 2-1.3 2 3.7 2 3.6 2-1.7 2 1.1 2-2.8 2 .3 2 1.2 2-.2 2 .2 2-.4 2 1.2 2 3 2 1.2 2 1.4 2 .6 2 1.2 2-.2 2-.5 2-.2 2 .3 2-1.5 2 1.7 2 .4 2 0 2 0 2 .7 2-.2 2-.1 2-1.5 2-1.1 2 .7 2-2.1 2 2.5 2-.9 2 1.4 2-.9 2 .2 2-1.4 2 1.3 2-1.3 2 .1 2 1.8M1031 446.4l2 0 2-1 2-1.3 2-3.6 2-.8 2 .3 2 2.8 2-1.5 2 5.6 2 .9 2 1.4 2 3.9 2 1.8 2 .2 2 2.1 2-2.4 2-1.9 2-1.6 2-3 2-2.5 2-1.2 2-2 2 1.8 2-1.7 2 2.7 2-2.7 2 1.6 2 .1 2 .4 2 .5 2 1.5 2-.5 2 3 2-2.1 2-2 2-1.6 2-1.4 2-2.1 2 0 2-1 2-.8 2 .2 2 1 2 .8 2 3.7 2 .7 2 .9 2 .1 2-.1 2-.5 2-2.5 2-3.4 2 .9 2 4.9 2 2.4 2 1.6 2 1.1 2 .6 2 1.2 2 .2 2-3 2 1.2 2-3.3 2 1.6 2 2.3 2 4.1 2 2.5 2 3.6 2-.8 2 3.5 2 0 2 .7 2-2.5 2-1.4 2-2.2 2-3.1 2 1.5 2 6.5 2 2.8 2 5.3 2 .5 2-.7 2-4.8 2-3.9 2-5 2-2.9 2 .6 2 3.7 2 3.2 2 8.2 2 2.5 2-1.7 2-7.3 2-6.6 2-6.3 2-7.1 2-4.6 2-1.8 2 2.6 2 7 2 7.6 2 8.1 2 8.7 2-2.5 2-9.3 2-14.8 2-18.9 2-19.3 2-18 2-14.1 2-2.6 2 15.2 2 20.3 2 25.4 2 27.8 2 23 1 9.9 1 8.3 1 10.3 1 7.2 1 6.3 1 1.8 1-5.1 1-4.9 1-3.9 1-4.2 1-4.2 1-2.8 1-3.2 1-2.8 1 .6 1 4.1 1 4.9 1 2.9 1 2.7 1 1.9 1 3.2 1 2.5 1-3.6 1-2.9 1-2.9 1-4.3 1-2 1-.8 1-1 1-1.7 1-2 1-.7 1-1.7 1-1.9 1-1.6 1-3.7 1-2.3 1 .1 1 .6 2-.9 2-4.6 2-1.8 2-3.3 2-.3 2-2.3 2-1.4 2-.2 2-2 2 .8 2-3.5 2-1.9 2-2.6 2-2.5 2-3.5 2-3.4 2-4.5 2-2.7 2-.4 2-2.4 2-2 2-4.6 2-.1 2-1.5 2-.7 2-1.2 2-.5 2 .2 2 .8 2-1.3 2 1 2-2.5 2 .2 2 1.5 2-1.7 2-1.4 2 0 2 .6 2 1 2 .3 2 2.2 2 3.6 2 2.9 2 1.9 2 4.5 2 4.7 2-.8 2 1.5 2 .2 2 2.9 2 3 2 0 2 2.5 2-.6 2 1 2 2.7 2 .2 2 2.5 2 2.3 2 .6 2 1.9 2 2.2 2-.3 2-.1 2-.8 2 .6 2-1.1 2-3.9 2 1.1 2-1.7 2-2.6 2-2.1 2-1.9 2 .1 2-4.7 2-1.4 2 .6 2-.1 2-1.6 2 1.1 2-1.2 2-1.9 2-.3 2-.9 2-.8 2-3.9 2-.2 2-.6 2 0 2-.6 2 1.3 2-3.4 2-.5 2-3.8 2-1.1 2-2.4 2 .3 2 1.1 2-1.3 2-.7 2-.4 2 .1 2-.4 2-1.1 2-1.9 2 1.3 2-1.1 2-.9 2 0 2-1 2-2.4 2-.6 2 .6 2-.6 2-1.5 2 1.3 2 .8 2 1.5 2-.4 2 1.3 2-1.1 2 1.3 2-3 2 2.3 2 .3 2-2.7 2 3.6 2-.9 2 2.4 2 1.2 2 .5 2 1.5 2 2 2-2.3 2-.2 2 .2 2-.1 2 4.5 2-1.6 2-.6 2 2.5 2 1.3 2-.6 2-.3 2 1 2 1.1 2 .7 2 .3 2-2.6 2 2.7 2-1.2 2 .9 2 3.7 2-.4 2-1.6 2 5.7 2 .2 2 1.1 2 1.1 2-1 2 .2 2 .6 2 .8 2 2.5 2-1.8 2 .9 2 1.1 2-1.1 2 .9 2-1.5 2 1.1 2 .7 2 1.8 2 .3 2 1.7 2 .5 2-.5 2 1.3 2-1.9 2 0 2-.1 2 .3 2 .3 2 1.9 2-1.1 2-.7 2-2.2 2 1 2-.2 2-.7 2-.5 2 .8 2 0 2 1.1 2-.7 2 0 2 1.8M1031 448.2l2-1.6 2 .1 2-1.4 2-3.7 2-1.7 2-.1 2 2.5 2-.1 2 4.7 2 2.1 2 1.8 2 2.4 2 3.3 2 .6 2 1.5 2-4.1 2-2.3 2-2.9 2-2.5 2-.5 2-2.9 2-.9 2 1 2-1.7 2 2.4 2-1 2 1.8 2-.4 2 .7 2 1.3 2 .5 2 0 2 .4 2-.3 2-1.1 2-3.3 2 0 2-2.5 2-1.3 2 1.1 2-2.1 2 1.3 2-1.1 2 1.6 2 3.1 2 .8 2 .3 2 0 2 .2 2-.9 2-1.5 2-2.5 2 2.3 2 4.8 2 1.1 2 2.2 2 1.3 2 .7 2 1.4 2-1.7 2-2.1 2 2 2-1.7 2 .7 2 2 2 1.5 2 1.6 2 4.1 2 .2 2 3.5 2 1.6 2 .2 2-2.8 2-.3 2-3.4 2-3 2 2.7 2 5.2 2 3.7 2 5.1 2 .2 2-1.2 2-4.9 2-2.7 2-4.3 2-5.2 2 3.1 2 2.8 2 4.7 2 5.8 2 3.2 2-2.9 2-5.5 2-5.8 2-6.2 2-8.8 2-4.3 2-1.5 2 1.7 2 8.4 2 7 2 6.7 2 8.1 2-3.6 2-10.8 2-12.9 2-18.9 2-18.9 2-16.9 2-14.9 2-2.4 2 15.5 2 21.4 2 25.5 2 26.5 2 22.2 1 11.4 1 8.3 1 9.5 1 7.8 1 5.7 1-3 1-7.8 1-8.1 1-12.8 1-12.4 1-13 1-12.7 1-13.6 1-10.8 1-6.9 1-3.3 1 .7 1-1.2 1-1.6 1-1.2 1 .6 1 3.5 1-1.7 1 .3 1-.4 1-1.3 1 1.6 1 1.5 1 1.1 1 1.7 1 1.8 1 1.7 1 .6 1 .7 1 .1 1-.8 1 .2 1 2.7 1 1.2 2 1.6 2-1.7 2-.2 2 .5 2 2.6 2 .7 2 2.9 2 .4 2 1.7 2 3.3 2-.7 2-.1 2 1.1 2-2.3 2-2 2-1.5 2-2.4 2-.9 2 2.1 2-1 2-.7 2-2.6 2-1 2-.9 2-1.4 2 .4 2 1.1 2 .6 2 2.7 2-.9 2-.4 2-2.2 2-.1 2 .8 2-.6 2-1.3 2-.1 2 1 2-.3 2 .5 2 1.7 2 4 2 3.8 2 2 2 3.6 2 3.3 2 .3 2 1.8 2 .3 2 3 2 3.4 2-1.5 2 3.3 2-1.3 2 2.1 2 3.2 2 0 2 1.3 2 2.4 2-1 2 1.8 2 4.5 2 2.8 2-.8 2-2.3 2-.3 2-.2 2-4.7 2 1 2-4.3 2-2.1 2-2 2-1.4 2 1.2 2-3.1 2-.3 2 .7 2-.8 2-1.6 2-1.2 2 .5 2-1.1 2-1.1 2-.7 2-.7 2-2.3 2-.6 2-2.2 2 .1 2-1.2 2 .7 2-2.5 2-1 2-1 2 .6 2-2.2 2-2.1 2-.6 2-2.4 2-.7 2 .9 2 1.1 2-1.2 2-.9 2-.8 2 1.2 2-2.2 2-.5 2-.8 2-2.7 2-2.1 2 .8 2 1 2 .9 2-.8 2 .8 2 .6 2 1.4 2-.8 2 .7 2-2.8 2 .9 2-1 2 1.9 2 .4 2-2 2 2.2 2-.4 2 2.7 2 .1 2-.7 2 .8 2 1.4 2-.5 2 .2 2 1.3 2 .1 2 3.7 2-1.2 2-.1 2 2.1 2-.6 2-1.4 2-1.5 2-.6 2 .7 2 2 2 1.9 2 .1 2 4 2-1.5 2 1 2 3.3 2-.2 2-1 2 3.3 2 .3 2 .5 2 .8 2-1.3 2 2.5 2 2.7 2 .8 2 .4 2-1.4 2 .8 2 1.4 2-.1 2-.2 2 .4 2 .1 2 .4 2 1.6 2 .4 2 .7 2-.7 2 0 2 2.1 2-.6 2-.2 2-.5 2-2.3 2 1.6 2-1 2 0 2 .2 2-2.5 2 1.4 2-.8 2 0 2-.3 2 1.1 2-.2 2 1.2 2-1.4 2 1.3 2 .7M1031 447.3l2-1.9 2 1.4 2-.7 2-4.7 2-1 2-.2 2 2.3 2-2.1 2 6.4 2-.6 2 3 2 3.2 2 1 2 1.5 2 2.6 2-3.4 2-2.1 2-1.6 2-3.5 2-1.2 2-2.1 2-.3 2 1.9 2-1.7 2 2.6 2-1.5 2 1.4 2-.5 2 .1 2 .4 2 1.8 2-.8 2 1.6 2-1.4 2-.6 2-3.1 2-1.1 2-2.4 2-1.7 2 .7 2 .3 2 .2 2-.2 2 .1 2 2.8 2 .8 2 2 2 .4 2-1 2-.4 2-1.6 2-.9 2 1.8 2 3.5 2 2.1 2 1 2 0 2-1.3 2 2 2 .5 2-2.1 2 1.9 2-3.2 2 2.1 2 2.6 2 1.9 2 2.6 2 3.7 2 .9 2 3.9 2-.6 2 .1 2-2.9 2-2.7 2-2.6 2-2.2 2 1.6 2 6.5 2 3.6 2 6.2 2 1.2 2-1.1 2-4.6 2-4.2 2-4.5 2-4 2 2.8 2 3.6 2 3.7 2 7 2 2.2 2-2.5 2-7.4 2-8.6 2-5.2 2-7.8 2-2.6 2-.9 2 3 2 6.3 2 7 2 6.4 2 7.1 2-3.3 2-9.4 2-14.5 2-17.7 2-17.7 2-18.7 2-13.3 2-3 2 14.6 2 21.5 2 26.1 2 28.1 2 21.8 1 11.4 1 8.5 1 9.5 1 7.1 1 5.2 1-7.4 1-13.6 1-14.8 1-25.5 1-25.1 1-25.8 1-25.3 1-25.9 1-20 1-17.6 1-13.1 1-4.7 1-7.3 1-7.6 1-3.8 1-3 1 5.5 1 .7 1 2.1 1 3.7 1 2.6 1 5.4 1 6 1 4.5 1 5.2 1 4.9 1 4.7 1 4.4 1 4.6 1 4.3 1 2.9 1 4.7 1 6.3 1 5.3 2 9.9 2 7 2 6.8 2 2.6 2 5.1 2 2.2 2 5.3 2 4.1 2 2.6 2 5.1 2 1.7 2 2.5 2 2.9 2 1.5 2 .3 2 .8 2-.3 2 .9 2 1.6 2 2.6 2 .2 2-1.2 2 .4 2-.3 2 .3 2 .6 2 .8 2 2.2 2 3.7 2-.4 2-.2 2-2.3 2-.4 2 .9 2 .1 2-1.2 2-1 2 .4 2 1.8 2 1.1 2 2.5 2 3 2 2.2 2 2.6 2 2.7 2 4.4 2-1 2 1.4 2 .6 2 3.5 2 1.4 2-.1 2 2.7 2-1.5 2 2.4 2 4.7 2 .1 2 1.7 2 1.6 2-.3 2 1.3 2 4.1 2 1.8 2-.9 2-1.8 2 .1 2-2.7 2-3.6 2 2.1 2-3.1 2-2.1 2-2.4 2-3.3 2 2.2 2-4.9 2-.9 2 1 2 .8 2-2.8 2 .6 2-.1 2 .1 2-.4 2-1.2 2-1.8 2-3.4 2-.3 2-1.6 2 .3 2 .8 2 1 2-2.9 2-.9 2-.6 2-1.8 2-2.1 2-.2 2 0 2-1.5 2-2.1 2-1.7 2-.4 2-.5 2-1.7 2-1 2 3.2 2-.9 2 .2 2-2.5 2-1.4 2-2.4 2 1 2-.4 2 .8 2-2.6 2 1 2 1.4 2 .1 2-2.1 2 1.4 2-1.4 2 .7 2-.8 2 3.1 2 .4 2-1.8 2 1.7 2 .1 2 2.1 2 .6 2 .3 2 1.3 2 1.4 2-.6 2 .6 2 1.4 2-.5 2 2.9 2-3.4 2-3 2 1.8 2 1.1 2-.2 2-.3 2 2.4 2 2 2 2.3 2 .4 2-2.4 2 3.1 2-.7 2-.1 2 5.3 2 .8 2-1 2 3.7 2-.3 2 .4 2 1.7 2-.7 2 .4 2 .1 2 .1 2 2 2-1.3 2 1 2 2.7 2-1.1 2 .5 2 1 2 .5 2-.2 2 .6 2 1 2 .4 2-1 2 1.1 2 1 2-.2 2 .4 2 .4 2 .2 2-1.4 2 .6 2-1.5 2 .2 2-2.2 2 1.2 2-.5 2 0 2-2.4 2 2.9 2 .6 2 1.3 2 1.2 2-.4 2 1.6M1031 446.8l2-.1 2 1.1 2-2 2-5.2 2-1.5 2-.3 2 2.2 2 .1 2 5.3 2 1.3 2 2.4 2 3 2 2.6 2-.2 2 2.4 2-2.9 2-1.3 2-2.4 2-3.9 2-.2 2-2.4 2-1.7 2 1.6 2-2.2 2 3 2-2.2 2 2.3 2 0 2-.5 2 .6 2 1.1 2-.1 2 .9 2-.6 2-1.4 2-3.6 2 .3 2-2.8 2-.8 2-.1 2 .7 2-.3 2 1.1 2 1 2 1.9 2 1.1 2 .5 2 1 2 .1 2 0 2-2.7 2-1.9 2 1.1 2 4.1 2 1.4 2 2.4 2 1.3 2-.3 2 1.9 2-1.4 2-.8 2 2.2 2-3.4 2 1.4 2 2 2 1.6 2 2.3 2 3.2 2 .3 2 4.5 2-.2 2 1.4 2-2.9 2-3.2 2-1.4 2-2 2 1.1 2 6.9 2 1.7 2 4.7 2 .5 2-1.1 2-4.6 2-3 2-3.6 2-4.2 2 2.2 2 3.6 2 2.6 2 6.6 2 3.1 2-2.6 2-6.5 2-5.1 2-6.8 2-6.9 2-3.3 2-2.7 2 3.4 2 6.6 2 7.8 2 6.3 2 8.5 2-2.6 2-9.8 2-14.8 2-19.1 2-18.5 2-19.3 2-13.6 2-1.8 2 14.3 2 21.1 2 25.3 2 28.4 2 22.5 1 11.3 1 7.7 1 10.2 1 8.8 1 5.7 1-5.2 1-11.5 1-10.8 1-17.7 1-18 1-18.4 1-17 1-17.3 1-14.2 1-9.7 1-6.5 1-2.4 1-3 1-4.1 1-3 1-.9 1 4.4 1-.5 1 .9 1 1.4 1 .6 1 2.6 1 2.5 1 2.7 1 3.5 1 2.6 1 2.4 1 2.3 1 2 1 2.4 1 1.3 1 1.1 1 4.4 1 3.5 2 4.7 2 2.1 2 4.3 2 3.2 2 5.3 2 2.3 2 4.3 2 .6 2-.1 2 2.3 2-1.7 2-1.1 2 .2 2 .6 2-1 2-.2 2-.7 2-.9 2 .5 2-.2 2-1.6 2-1.7 2-1.4 2-.9 2 1.6 2 1.7 2 2 2 1.8 2 2.1 2-.8 2 .3 2-1.6 2-1.2 2 1.3 2-.9 2-2.6 2-.3 2-.7 2 1.6 2 .6 2 2.1 2 3.7 2 4.5 2 .9 2 4 2 4.6 2-.6 2 2.6 2-.2 2 3.2 2 1.9 2-.9 2 3.6 2-1.3 2 1.7 2 3.7 2-.2 2 1.6 2 2.4 2-.6 2 2.5 2 3.5 2 1.7 2-.8 2-1.2 2 0 2-1.9 2-4.7 2 1.1 2-3.1 2-2 2-1.6 2-1.6 2 2.4 2-4.4 2-1.1 2 1.1 2-1.4 2-1.2 2-.5 2-.7 2-1.5 2-.7 2 .1 2-.3 2-3.1 2-2.1 2-1.2 2-1.5 2-1.5 2 .3 2-2.3 2-.4 2 .9 2 2 2-.8 2-1.1 2-.7 2-4.2 2-1.7 2-2 2 1 2 0 2 .5 2-1.7 2 2.6 2-2.6 2-.4 2-.5 2-.8 2-2.4 2 .5 2-1.2 2 0 2-1.7 2 .9 2 .2 2 1.7 2 .9 2 .9 2-.7 2 .3 2-2.1 2 2.1 2 .5 2-1.3 2 2.8 2-.3 2 1.1 2-.6 2-1.5 2 .5 2 1.6 2-1.9 2 .9 2 2.2 2-.7 2 3.8 2-2.2 2-1.4 2 1.1 2-.2 2 1.7 2 1 2 2.1 2 2.5 2 1.6 2 .3 2-1.7 2 4.5 2-.7 2-.4 2 2 2 1.1 2-1.8 2 2.9 2 .3 2-1.2 2 1 2-.9 2 1.2 2 3.2 2 .7 2 2.2 2-2 2 1.2 2 1.4 2-1.4 2-.1 2-.5 2-.1 2 .4 2 .5 2 .9 2 2.5 2 0 2 0 2 1.7 2-.3 2-1.3 2-.3 2-.4 2 .2 2-1.6 2 .4 2-1.3 2-1 2 2.3 2-.6 2 2 2-.9 2 1.6 2-.5 2 .6 2-.6 2-.6 2 1.4M1031 447.6l2-1.1 2-.4 2-1.9 2-3.4 2-.6 2-.2 2 3.1 2-.4 2 5.2 2 .3 2 2.6 2 2.9 2 2 2 .5 2 2.4 2-2.3 2-2.8 2-2.7 2-1.8 2-3 2-2.4 2-1 2 1.2 2-1.4 2 3.1 2-2.2 2 1.7 2 .6 2-.3 2 .9 2 1.8 2 .2 2 1.7 2-2.4 2-1.9 2-2.4 2-2.4 2-1.3 2-.7 2 .2 2-.7 2 .7 2 1.7 2 .3 2 2.2 2 1.2 2 .3 2 .9 2-.4 2-.8 2-2 2-1.2 2 1.9 2 4.2 2 .9 2 2.3 2 1.5 2 .1 2 1.6 2-1 2-2.7 2 1 2-3 2 .9 2 3.7 2 2.5 2 3.1 2 2.9 2 .1 2 2.6 2 1.6 2-.4 2-1.8 2-1.6 2-3.3 2-2.8 2 1 2 6.9 2 3.5 2 5 2 .5 2 .3 2-5.2 2-3.9 2-3.1 2-3.9 2 .9 2 3.9 2 2.6 2 7.3 2 4.9 2-3.6 2-7.1 2-6.2 2-5.2 2-7.8 2-4.1 2-1.7 2 3.3 2 6.9 2 7.2 2 7.8 2 5.7 2-2 2-10.8 2-14.7 2-18.4 2-19.6 2-17.9 2-14.8 2-1.1 2 15.3 2 21.5 2 25.3 2 28 2 21.9 1 11 1 8.6 1 9.2 1 7.3 1 6 1-1.3 1-7.8 1-7.5 1-12.4 1-12.2 1-11.3 1-11.6 1-11.2 1-8 1-6 1-3.5 1 1.7 1 .1 1-.9 1 .2 1 .3 1 2.1 1-1.9 1-.4 1-.1 1-1.4 1 .2 1 .5 1 1.2 1 2.2 1 .8 1 .6 1 .9 1 1 1-.2 1-1.7 1 .1 1 1.6 1 2.4 2 3.8 2 .9 2 2.1 2-.2 2 .8 2-.7 2 .5 2 .2 2-.1 2 1.2 2-2.5 2-.8 2-.1 2-2 2-1.1 2-2 2-2.5 2-.1 2 .9 2-1 2-2.6 2-1.9 2-2.5 2 .5 2-.7 2 .3 2-.7 2-.2 2 1.9 2-.3 2 .3 2-.6 2-2 2 .6 2-1.7 2 .5 2 0 2 1.7 2 2.4 2 0 2 1.6 2 3.5 2 1.3 2 2.8 2 3.5 2 2.8 2-.5 2 2.1 2-.4 2 3.3 2 2.4 2 .4 2 2.5 2-.7 2 3.3 2 2.8 2-.4 2 .6 2 2.2 2-.1 2 2.4 2 5 2 1.8 2-1.8 2-2.5 2 .1 2-.7 2-4.9 2 2.5 2-3.6 2-2.2 2-1.6 2-.9 2-.2 2-2.5 2-1.8 2 .7 2-1.9 2-1.9 2-.3 2-.3 2-.6 2-1.3 2-.6 2 .1 2-2.8 2-.9 2-1.4 2 .9 2-1.4 2 1.6 2-5.3 2-1.3 2-1 2 1.2 2-1 2-.8 2-.7 2-1.6 2-.7 2-1 2 .5 2-1.1 2 0 2-1.1 2 1.7 2-3.6 2-1.1 2-.3 2-.7 2 0 2 1.8 2-.4 2-1.8 2-2.3 2 .5 2-1 2 .7 2-1.9 2 0 2 1.5 2 .7 2 .7 2 2 2 2 2-1.7 2 2.8 2-1.5 2 1.3 2 .2 2-1.8 2 2.2 2 .9 2-1 2-.1 2 2.3 2 1.2 2 4.1 2-1.8 2-1.9 2 .6 2 .6 2 .4 2 .6 2 .1 2 .5 2 .5 2 1.9 2-.5 2 3.1 2-1.2 2 .4 2 4.2 2 .4 2-2 2 4.7 2 .2 2-.5 2 2.3 2-.1 2 .9 2-.1 2-1 2 .5 2-1.3 2 2.1 2 1.1 2-.9 2 .6 2-.8 2 1.8 2 1.3 2 .1 2 1.4 2 .6 2-.7 2 .1 2 .4 2-.6 2-.2 2 1.4 2-.9 2-.1 2-.6 2-1.7 2 .9 2-2.3 2 1.8 2-.8 2 1.7 2-.9 2 .8 2-.8 2 1.7 2 .3 2 .9 2 .9M1031 447.3l2-1 2 .6 2-1.9 2-3.5 2-.7 2-1.2 2 2.9 2-.4 2 5.1 2 1.4 2 1.7 2 3.3 2 1.5 2 1.5 2 2.7 2-3.8 2-1.4 2-2.7 2-2.7 2-1.3 2-.6 2-1.6 2 1 2-2.5 2 1.9 2-1.6 2 1.1 2 .2 2 .7 2 .7 2 .8 2-.6 2 2.2 2-2.5 2-.6 2-2.7 2-.7 2-2.7 2-.1 2-.4 2 0 2 .7 2 .4 2 .8 2 2.1 2 .8 2 .5 2 1.4 2 .7 2-1.2 2-1.6 2-2.1 2 1.6 2 3.7 2 .7 2 2.3 2 1.4 2-.2 2 1.8 2 .4 2-3.5 2 1.6 2-3.1 2 1.6 2 1.8 2 1.3 2 3.2 2 2.1 2 1 2 4.9 2 1.1 2 .3 2-3.2 2-3 2-.8 2-2.8 2 1.2 2 5.4 2 3.9 2 3.9 2 1.4 2 .4 2-5.7 2-2.9 2-4.1 2-4.5 2 1.6 2 3.9 2 3.7 2 7.5 2 3.3 2-4 2-5.1 2-6.5 2-6.7 2-6.8 2-4.7 2-2.1 2 2.3 2 7.3 2 6.5 2 7.3 2 8.3 2-2.9 2-11.3 2-14.9 2-18.2 2-18.4 2-16 2-15.5 2-2.7 2 16.2 2 20.8 2 25.2 2 26.9 2 22.8 1 11.5 1 8.1 1 9.4 1 8.2 1 6.1 1 1.5 1-4.3 1-4.4 1-4.8 1-3.5 1-2.3 1-2.3 1-2.5 1-2.6 1 .2 1 4.4 1 4.8 1 3.1 1 3.2 1 2.5 1 3.3 1 .6 1-3.2 1-1.5 1-3.2 1-4.8 1-1.7 1-.4 1-1.1 1-1.6 1-2 1-1.9 1-2.7 1-2 1-1.7 1-3.7 1-2.6 1 .3 1 .2 2-1.2 2-4.5 2-2.3 2-2.3 2-.5 2-3 2-.6 2-1.7 2-1.9 2 .7 2-3.1 2-3.6 2-1.5 2-2.5 2-3.2 2-3.4 2-4.5 2-2.3 2-.7 2-2 2-3.9 2-4.2 2-2.1 2-.4 2-.2 2-.7 2 0 2 .1 2 .9 2-.5 2 .9 2-2.7 2 0 2-.5 2-.3 2-.8 2-1.2 2 .4 2 1.5 2 1.5 2 1.5 2 4.1 2 1.7 2 2.6 2 2.8 2 5.1 2-.8 2 3.2 2 0 2 3.3 2 2.5 2-.4 2 1.2 2-.8 2 3.4 2 3.3 2 .8 2 1 2 2.4 2-.6 2 1 2 3.8 2 .8 2-1.7 2-1.5 2 .7 2-2.4 2-3 2 1.5 2-2.8 2-1 2-.8 2-1.8 2 .9 2-4.5 2-2.2 2-1.2 2-2.1 2-.6 2-.3 2 2.2 2-.2 2 .2 2-2.1 2-2.1 2-2.6 2-.3 2-.9 2-1.2 2-1.5 2 1.1 2-4.2 2 .3 2-.5 2 1.9 2-2.8 2-2 2-1.6 2-1.9 2 1.4 2 .1 2 .7 2-2.1 2-.1 2-1.1 2 2.4 2-.9 2-.5 2-1.8 2-1.7 2-2.2 2 1 2 1.5 2 1.9 2-.6 2 1 2-1.1 2-1.4 2-.1 2 .3 2-1.2 2-.2 2-1.8 2 1 2 .7 2-.8 2 3.6 2-.4 2 1.8 2 .2 2-1.4 2 .3 2 1 2-1 2 0 2 2 2 .8 2 3.4 2-.6 2-1.1 2 .2 2 0 2 .7 2 1 2 2.1 2 .3 2 0 2 1.3 2-2.5 2 4 2 .3 2 1.5 2 3.2 2 .2 2-1.5 2 4.5 2-.1 2-1.2 2 1.3 2-1.4 2 .3 2 1.7 2 .5 2 1.5 2 .1 2 0 2 2.6 2 0 2-.3 2 0 2 .5 2-.6 2 0 2 1.3 2 .8 2 .2 2 0 2 1.4 2-1.2 2 .7 2-.3 2-1 2 .5 2-1.7 2-.3 2 .7 2-2.1 2 1.4 2-1.7 2 2.2 2-1 2 1.4 2 .8 2 .3 2 .5 2-1.3 2 1.9M1031 448.5l2-.8 2-.4 2-2.3 2-3.9 2 0 2-.1 2 1.8 2-.8 2 6 2 1.4 2 2.1 2 3.6 2 1.6 2 1.2 2 1 2-4.1 2-1.3 2-2.4 2-3.1 2-2.4 2-1 2-.6 2 .8 2-1.6 2 2.3 2-1.4 2 2.5 2 .5 2 .6 2-1.1 2 1.2 2-.5 2 1.9 2-.1 2-1.4 2-2.1 2-2.1 2-2.6 2-.5 2-.6 2 .4 2-.4 2 2.5 2-.3 2 1.8 2 1.1 2 .3 2 .8 2 .5 2-.9 2-1.1 2-2.6 2 .3 2 4.4 2 1.2 2 2 2 1.4 2 1 2 1.9 2-.7 2-2 2 2.6 2-3.1 2 1.7 2 .5 2 1.9 2 2.3 2 4.2 2 .7 2 3.1 2 .8 2 .2 2-3.2 2-.9 2-2.9 2-3 2 1.3 2 6.8 2 2 2 5.2 2 .8 2-.1 2-5.6 2-2 2-4.4 2-4 2 1.5 2 4.8 2 3.9 2 7.2 2 1.2 2-2.4 2-6.1 2-6.3 2-7.4 2-8.4 2-3.1 2-2.1 2 1.3 2 8.6 2 8.2 2 6.2 2 8.5 2-2.3 2-10.6 2-15.2 2-17.8 2-19.6 2-17.4 2-13.6 2-2.4 2 14.9 2 20.6 2 25.6 2 27.6 2 22.3 1 11.2 1 8.2 1 10.2 1 7.3 1 4.9 1 2 1-3.9 1-5.1 1-4.6 1-3.9 1-2.8 1-2.3 1-2.6 1-2.2 1 1 1 3.6 1 4.1 1 3.4 1 2.5 1 2.4 1 4.4 1 1.1 1-4.2 1-2.8 1-2.7 1-3.6 1-2 1-1.2 1-1.8 1-1.7 1-1.7 1-1.6 1-1.8 1-2.3 1-3 1-3.5 1-1.6 1-.1 1-.1 2-1.8 2-2.1 2-2 2-3.8 2-.1 2-2.7 2-.5 2-1.5 2-1.4 2 .8 2-5 2-2.2 2-1.4 2-4.2 2-2.1 2-2.2 2-3.3 2-3.5 2-.8 2-1.2 2-4.5 2-4 2-.7 2-.7 2-.9 2-.2 2-.4 2-.2 2 1.2 2 .4 2 .2 2-1.3 2 .3 2-.5 2-1.1 2-2.7 2 .5 2-.9 2 1.7 2 .9 2 2.5 2 3.2 2 3.4 2 1.3 2 3.9 2 3.3 2-.4 2 2.6 2-.5 2 2.5 2 4.2 2 .7 2 1.6 2 .9 2 2.9 2 2.7 2-1.7 2-.1 2 2.1 2-1.6 2 3 2 3.3 2 1.3 2-.6 2-1.4 2 1.2 2-1.9 2-4.1 2 1.2 2-3.3 2-3.8 2 1 2-1.8 2 1.9 2-2.9 2-1.1 2-.6 2-1.5 2-1.9 2 0 2-1.4 2-.4 2-.8 2-1.2 2 .7 2-.4 2 .5 2-1.1 2-.4 2-2.6 2-.1 2-4.8 2-.7 2-2 2 .2 2-1.2 2-.8 2 1.4 2-2.2 2-1.4 2-.6 2 0 2 .6 2-.5 2-1.7 2 1.7 2-1.8 2-.5 2 .6 2-1.9 2-2 2-.4 2 .5 2 .1 2-.9 2 1 2 1 2 1.7 2-1.4 2 .6 2 .1 2-.3 2-1.6 2 1.1 2-.2 2-1.4 2 2 2-.8 2 2.3 2-.2 2-1.6 2 .8 2 2.3 2-1.6 2-.3 2 2.8 2-1.1 2 5.4 2-2.1 2-1.8 2-1.2 2 .6 2 1.8 2 .3 2 3.4 2 1.4 2 .8 2 .9 2-1 2 3.1 2-1.1 2-.1 2 2.9 2-1.2 2-.6 2 4.1 2 .8 2 2.3 2 .4 2-2.5 2 .1 2 .4 2 1.2 2 1 2 .2 2 1.8 2 2.7 2 .1 2-.8 2 .3 2 .3 2-1.4 2 1.9 2 .3 2 1.9 2-1.1 2 .4 2 1.5 2-1.9 2 0 2-.1 2 .2 2 .3 2-.9 2 .2 2-1.3 2-2 2 2.4 2-.9 2 1.9 2-.3 2 .5 2-.9 2 1.1 2-.5 2 1.4 2 .7M1031 448.6l2-.4 2-.2 2-2.2 2-3.6 2-1 2-1 2 1.4 2 0 2 4 2 2.8 2 1.6 2 3.7 2 1.9 2 2.5 2 1.1 2-2.9 2-2.9 2-2.4 2-3.1 2-2.3 2-1.5 2 0 2 1.4 2-1.1 2 3.3 2-2.1 2 .5 2 0 2-.8 2 2 2 1.9 2-1 2 1.2 2-1.4 2-.5 2-2.2 2-2.1 2-1.3 2-1.1 2-.5 2-.3 2 .2 2 1.7 2 .2 2 2.3 2 2 2 .6 2 .9 2-1 2-.9 2-1.3 2-2.9 2 1.3 2 3.6 2 2.6 2 1.3 2 2.7 2-.3 2 2.6 2-2.4 2-1.8 2 1.7 2-3.5 2 1.7 2 2.9 2 2 2 1.9 2 2.6 2 .4 2 4 2 .3 2 .7 2-2.7 2-.6 2-3.2 2-3.7 2 .9 2 6.5 2 2.8 2 5.8 2 1.5 2-.4 2-4.8 2-2.8 2-3.5 2-3.9 2-.1 2 4.3 2 2.5 2 6.7 2 4.1 2-2.7 2-5.2 2-7.6 2-6.8 2-6.4 2-3.6 2-2.7 2 2.5 2 7.5 2 7.3 2 6.9 2 9.5 2-3.4 2-11.5 2-14.5 2-18.9 2-19.1 2-17.9 2-14 2-2.4 2 16.4 2 21 2 24.9 2 27.1 2 23.9 1 11 1 7.2 1 9.1 1 7.9 1 6.1 1-.9 1-8.1 1-8.8 1-10.7 1-10.6 1-10.1 1-9.7 1-10.7 1-8.2 1-5.7 1-2.1 1 1.4 1 0 1-.6 1-.3 1 1.1 1 2.6 1-1.8 1-1.1 1-.6 1-.9 1 .9 1 .3 1 .2 1 1.7 1 0 1 .7 1 .2 1-.6 1-.2 1-1.7 1 .4 1 2.4 1 2 2 2.3 2 .2 2 1.6 2-1.8 2 .2 2-2.3 2-.2 2 1.2 2 .5 2 2.2 2-1 2-1.1 2 .6 2-1.8 2-2.3 2-1.1 2-2.1 2-2 2 .3 2-1.5 2-1.5 2-3.4 2-2.6 2 .9 2-2.1 2 1.1 2 .5 2 1.1 2 2.3 2-1 2-.8 2-1.3 2-1 2 1.8 2 .6 2-.3 2-1.8 2 .9 2 1.8 2-.1 2 1.4 2 3.6 2 2.6 2 1.9 2 3.9 2 4.9 2 .4 2 1.6 2-.2 2 1.8 2 3.6 2-.4 2 4.1 2-1.5 2 2.5 2 2.8 2-.5 2 2 2 1.7 2-1.5 2 2.1 2 3.9 2 .5 2-.2 2-2.6 2 .3 2-2.5 2-4 2 2.1 2-2 2-.5 2-.6 2-2.7 2 .8 2-4.2 2-3.2 2-.4 2-.1 2 .3 2 1.8 2 .5 2 .2 2-2.5 2 .2 2-3.3 2-2.6 2 .2 2-2 2 .5 2-.8 2 .6 2-3.6 2-.7 2-.9 2 .1 2-4 2-.1 2 2.4 2-.1 2-1.1 2-2 2-1.6 2-2.3 2-1.8 2 0 2 1.9 2-.2 2-.5 2-.6 2-1.3 2-1.9 2-.3 2-.5 2-.8 2 .3 2 2.4 2 1.8 2 1.5 2-1.3 2-.2 2-1.5 2 .5 2-.7 2 1.8 2 .3 2 .1 2 3.2 2-1.4 2 1.5 2 .9 2-.6 2-.4 2 2.4 2-2.2 2 .2 2 2.4 2 .9 2 2.9 2-1.9 2-2.5 2 2 2-.4 2-.4 2-1.1 2-.8 2 1.1 2 1.3 2 2.4 2 .4 2 4.8 2-1.5 2 0 2 2 2 .1 2-1.5 2 3.2 2 1.7 2-.9 2 1.1 2-.7 2 .7 2-.2 2-.1 2 1 2 .8 2 1 2 2 2-1.4 2-.5 2 .3 2 .1 2 2.2 2 1.3 2 .6 2 1.1 2-.9 2 1.3 2 .3 2-1.5 2-.2 2 .5 2-1.1 2 .6 2-.7 2-.1 2 .3 2-1.8 2 1.9 2-.3 2 .6 2-.4 2 .2 2-.3 2-.2 2 .2 2-.1 2 1.7M1031 447.7l2 .6 2 .2 2-1.3 2-4.2 2-1 2-.8 2 1.7 2-.9 2 6.3 2 .5 2 2.9 2 3.5 2 1.9 2 .5 2 1.5 2-3.9 2-1.8 2-2.3 2-2.4 2-2.6 2-1.2 2-1.2 2 1.6 2-.7 2 2.7 2-2.2 2 2.1 2 .6 2-1.2 2 1.3 2 1.1 2-.8 2 2.5 2-1.4 2-1.2 2-3.7 2-.7 2-2.2 2-1 2 .1 2-.2 2-.5 2 1.3 2-.1 2 2.3 2 1 2 .6 2 .4 2 .7 2-.4 2 0 2-2.4 2 .8 2 4.9 2 1 2 2.3 2 1.1 2-.2 2 1.7 2-.8 2-2.6 2 2.5 2-3.3 2 1.5 2 1.6 2 1.5 2 .7 2 3.7 2 .8 2 4.1 2 .2 2-.6 2-1.8 2-2.6 2-.9 2-2.6 2 1.8 2 6.4 2 2.1 2 4.9 2 .5 2 .1 2-5.6 2-2.3 2-3.4 2-3.7 2 1.2 2 3.7 2 3.9 2 7.1 2 2.4 2-2.4 2-6.8 2-5.3 2-6.8 2-7 2-3.6 2-1.8 2 2.9 2 7.1 2 5.8 2 6.5 2 7.7 2-2.1 2-10.6 2-15.9 2-17.5 2-19.2 2-16.8 2-12.8 2-3.8 2 16.4 2 20.8 2 23.9 2 27.7 2 22.7 1 11 1 8 1 10 1 8.5 1 5.6 1-2.5 1-8.3 1-8.2 1-12.3 1-12.3 1-11.7 1-11.7 1-12.1 1-9.5 1-6.3 1-3.1 1 .4 1-.8 1-1.9 1 .7 1 1.2 1 1.7 1-1.6 1-1 1-1 1-.5 1 1.4 1 1.5 1 1.7 1 1.5 1 .6 1 .6 1 .8 1 1 1 .4 1-.7 1-1.3 1 2 1 3.4 2 2.1 2-.2 2 1.1 2-.4 2 3.3 2 1.3 2 1.8 2 .1 2-.3 2 1.9 2-2.6 2 .6 2-.3 2-1.2 2-2.5 2-1.1 2-2.6 2-.7 2 .6 2-1.2 2-2.4 2-3.6 2-.4 2 .3 2-.5 2 .8 2 .3 2 .8 2 1.4 2 .2 2-.6 2-1.4 2 0 2-.3 2 .6 2-2.5 2-.4 2 0 2 2.5 2 .3 2 2.6 2 2.6 2 3.6 2 1.4 2 4.1 2 4.4 2-1.7 2 3 2-.6 2 4.5 2 2.9 2-.7 2 2.7 2-1.4 2 2.9 2 1.7 2 1 2 1 2 1.5 2-1.9 2 2.3 2 4.6 2 2.8 2-2.2 2-1 2 .4 2-.2 2-4.9 2 2.1 2-4 2-1.7 2-1.2 2-.4 2 1.1 2-4 2-1.7 2 .5 2-.6 2-2.2 2-.3 2 .5 2-.6 2-1.1 2-.6 2-.8 2-1.9 2-.4 2-1.7 2-.4 2-1.3 2 .2 2-4.9 2-.3 2-1.5 2 1.1 2-2.3 2 0 2 .2 2-2.3 2-.3 2-.7 2 1.5 2-1.5 2-1 2-2.5 2 .6 2-1.8 2-1.5 2-1.5 2-.3 2-1.7 2-1 2 .4 2-.1 2-.1 2 1.6 2 1 2 1.8 2-.5 2 1.6 2-1.4 2 0 2-2.2 2 2.7 2 1.8 2-2.1 2 3.1 2-1.7 2 2.2 2-.7 2 .6 2 1.4 2-.2 2-.5 2 .1 2 3.2 2 .9 2 .6 2-1.6 2-1.9 2 1.3 2 .9 2-1.3 2-.7 2 1.9 2 3.2 2 2.6 2 1.8 2-2.2 2 1.1 2 .5 2 1.8 2 3.9 2-.2 2-1.9 2 4 2 0 2-1.1 2-.2 2-1 2 1.5 2 1.9 2 .1 2 1.3 2-1.4 2 2.1 2 1.9 2-2.2 2 .7 2-.8 2 .2 2 1 2 1.3 2 1.4 2 .9 2-1.5 2-.6 2 2.5 2-2.1 2 .6 2-.4 2 .6 2 0 2 .6 2-.8 2-.6 2-2.3 2 2.2 2-.3 2 1.4 2-1.8 2 .8 2-.8 2 2 2-.5 2 1.4 2-.6M1031 448.7l2-1 2 .3 2-1.8 2-4.1 2-.8 2-1.1 2 3.5 2-1.7 2 5.4 2 2.1 2 1.1 2 4 2 1.2 2 1.2 2 1 2-3.3 2-2.1 2-2.2 2-2.9 2 .1 2-1.9 2-.7 2 0 2-1.5 2 3 2-.1 2 1.7 2 .3 2-1.5 2 1.9 2 .3 2-.3 2 2.6 2-2.5 2-1.7 2-2 2-1.2 2-2.2 2-.7 2-.3 2-.1 2-.8 2 1.6 2 .4 2 2.6 2 2.2 2 1.1 2-.1 2 0 2-1.6 2-1.8 2-1.3 2 2 2 3.9 2 2 2 1 2 .6 2 1.7 2 1.8 2-1.4 2-1.4 2 1.4 2-2.1 2 .6 2 2.6 2 2.2 2 1.9 2 3.7 2 .5 2 2.8 2-.2 2 1.3 2-3.6 2-1.8 2-2.4 2-3.3 2 2.3 2 6.1 2 2.3 2 5.4 2 1.8 2-.1 2-5.4 2-2.8 2-4.6 2-3.8 2 .9 2 4.1 2 3.3 2 7.4 2 1.6 2-3 2-7.4 2-6.2 2-5.4 2-8.2 2-2.2 2-2.2 2 3.2 2 7.1 2 7 2 7.1 2 9.1 2-3.5 2-9.9 2-14 2-17.8 2-20 2-18.4 2-14 2-2.6 2 14.2 2 21.3 2 24.4 2 27.3 2 23 1 10.8 1 8.2 1 10.1 1 8.4 1 5.6 1-.1 1-6.4 1-6 1-7.3 1-7.4 1-5.7 1-5.6 1-6.3 1-5 1-2.2 1 2 1 2.9 1 1 1 2.3 1 2 1 2.3 1 1.4 1-3.4 1-2.6 1-1.8 1-2.3 1-1 1 0 1-.4 1-.4 1-.8 1-.5 1-.5 1-1.1 1-1.7 1-3.1 1-1.3 1 1.4 1 1 2 1.6 2-1.8 2 .3 2-4.5 2 1.3 2-2.8 2-1.1 2 .5 2-.5 2 .3 2-2 2-3.2 2-.8 2-3.1 2-2.7 2-1.2 2-2.7 2-2.1 2 .3 2-2.1 2-2.8 2-3 2-1.1 2 .2 2-.4 2-1.7 2 .3 2-.7 2 2.6 2-1.3 2 .2 2-1.6 2-.8 2 .8 2-1.4 2-.6 2-1.2 2 1 2 .8 2 1 2 2.2 2 4.2 2 2 2 2 2 3 2 5.2 2-.8 2 2.1 2 .4 2 3.2 2 2.1 2-.2 2 1.8 2-1.8 2 4.6 2 3.6 2 .1 2 .3 2 1.5 2-1.9 2 2.6 2 3.3 2 1.9 2 .1 2-1.4 2 1.2 2-1.1 2-4.1 2 1.1 2-2.2 2-1.8 2-1 2-2.4 2 1.3 2-4.5 2-1.7 2-1.4 2-1.7 2-2.8 2 0 2 1.2 2 .9 2-.3 2 .2 2-1.1 2-1.4 2-1.4 2-.7 2-1.4 2-1.2 2 1.2 2-1.6 2-.3 2-1.9 2-.3 2-3.1 2-1.6 2 .1 2-1.9 2-.1 2-.1 2 1.9 2-.6 2-1.1 2-.8 2 .5 2-1.6 2-2.2 2-.6 2-.7 2 .1 2 2.2 2 0 2-1 2-1.3 2 2 2 .5 2-.5 2-2.4 2 .1 2-.4 2 0 2-1.7 2 2.9 2 1.2 2-.1 2 1.9 2-1.9 2 .5 2-.6 2 .5 2 2.2 2 3 2-2.7 2-1.1 2 2.4 2-.9 2 3.6 2-2.2 2-1.9 2 1.9 2 .1 2 .9 2-.6 2 1.4 2 2.9 2 1.6 2 2.6 2-2.3 2 .7 2-2.2 2-.3 2 4.2 2 .8 2 .1 2 4.2 2 .2 2-.5 2-.7 2-1.3 2 1.4 2 .5 2 .6 2 1.3 2-.4 2 1.1 2 2.4 2-.5 2 .5 2-.2 2-.9 2 1.7 2 .4 2 .3 2 .8 2-.6 2-.6 2 .9 2-1.3 2 0 2 2.4 2 .2 2 .6 2 .3 2-1.3 2 .7 2-2.3 2 2 2-2.2 2 .5 2-.3 2 1.2 2-1.4 2 .1 2 .1 2 .5 2 .6M1031 449.8l2-1.5 2-.2 2-1.9 2-3.5 2-.7 2-.6 2 3.3 2-.9 2 4.2 2 2.6 2 2.3 2 2.7 2 2.6 2 .1 2 2.2 2-4 2-1.9 2-2.9 2-2.8 2-1.1 2-2 2-.9 2 1.7 2-1.4 2 2.7 2-.4 2 .1 2 .1 2-.4 2 2 2 .7 2-1 2 2.2 2-2.5 2-.2 2-2.3 2-1.3 2-2.5 2-.7 2 .9 2-.7 2 0 2-.7 2 .3 2 4.3 2 1.6 2-.3 2 .6 2-.6 2-1.5 2-.5 2-2.5 2 .7 2 4.5 2 3 2 1.8 2 1 2 .8 2 .7 2-.1 2-2.1 2 2 2-3.2 2 1.7 2 2.5 2 1.7 2 2 2 3 2 1.3 2 2.4 2 0 2-.1 2-2.1 2-2.8 2-1.5 2-3 2 2.1 2 6.9 2 3.5 2 4.6 2 .1 2 .2 2-5 2-2.6 2-3.6 2-4.3 2 .6 2 3.8 2 3.1 2 7.5 2 2.9 2-3 2-5.8 2-7.7 2-6.3 2-6.6 2-4.1 2-.7 2 1.4 2 8 2 7.5 2 4.9 2 9 2-3.1 2-10.3 2-14.1 2-18.6 2-18.9 2-17.3 2-15.8 2-2.3 2 15.1 2 21.1 2 26.5 2 27.5 2 22.8 1 10.8 1 8 1 9 1 8.1 1 5.7 1 .4 1-5.4 1-5.7 1-5.1 1-5.2 1-4.5 1-4.1 1-4.9 1-3.9 1-1.2 1 2.6 1 4.4 1 2.2 1 2 1 1.4 1 1.7 1 1.7 1-2.9 1-2.2 1-3 1-3.5 1-.9 1-.8 1-.8 1-.4 1-.5 1-1 1-1.1 1-1.5 1-2.8 1-3 1-.8 1 .2 1 .2 2-.9 2-2.8 2-2.2 2-1.5 2 .7 2-2 2-1 2-.5 2-2 2 2 2-3.8 2-1.6 2-2 2-2.4 2-1.8 2-3.7 2-4.2 2-2.4 2 .1 2-3 2-1.7 2-3 2-.6 2 .8 2-2.8 2-.2 2-.5 2-.6 2 2.1 2 .4 2-1 2-.2 2-.7 2 .2 2-.1 2-2 2 .3 2 .5 2 1.2 2 .4 2 1.7 2 4.6 2 1.3 2 2.1 2 3.4 2 3.2 2-1.2 2 2.6 2 .8 2 4.1 2 3.4 2-1.5 2 2.5 2-.6 2 2.5 2 3.9 2-.3 2 1.3 2 2.4 2-1.4 2 2 2 3.2 2 2 2-1.3 2-1.9 2 1.3 2-1.9 2-2.8 2 1.5 2-3.9 2-.9 2-1.8 2-2.3 2 .5 2-5.1 2-2.5 2 .4 2 .2 2-1.5 2 .8 2 .6 2-1.1 2-.1 2-.4 2-1.1 2-.9 2 .2 2 .7 2-.9 2-2.4 2-.2 2-5.4 2-.8 2-1.7 2 .5 2-2.9 2-.3 2 .1 2-1.2 2-1.2 2-.4 2 1.3 2-.3 2-2.6 2-.7 2 1.3 2-.9 2-1.8 2-.3 2-1 2-2.8 2 .9 2 2.3 2 .9 2-.2 2 .8 2-.7 2 .2 2-1.4 2 1.3 2 1.5 2 .1 2-.9 2 .4 2 .2 2-2.8 2 2.3 2-1.6 2 1.5 2 .6 2 .1 2 1.1 2 1.3 2-2.3 2-1.4 2 2.1 2 .4 2 4.6 2 .4 2-3 2 2.1 2-2.6 2-.6 2 2 2 1.2 2 3.2 2 1.8 2 1.8 2-1.2 2 3.2 2-1.7 2 .1 2 4.1 2-1.2 2-1.4 2 3.4 2 .6 2-.1 2 1.5 2-1.2 2 .7 2 .2 2-.9 2 1.5 2-1.3 2 1.9 2 1.9 2 .3 2 2.1 2-.6 2-.6 2 .3 2 1 2-.3 2 3 2-.7 2 1.5 2 .2 2-2.3 2-.2 2 0 2-.1 2-1.1 2-.1 2-.7 2-.4 2-1.5 2 2.9 2-1.5 2 2.4 2-.4 2 1 2-.2 2 0 2-.5 2 .8 2-.8M1031 449.8l2-1 2-.3 2-2.3 2-3.9 2-1.2 2 1.2 2 2.2 2-.6 2 4.2 2 1.3 2 3 2 3.9 2 2.4 2 1 2 2.1 2-3.8 2-2.7 2-2.2 2-3 2-1.1 2-2.5 2-1.4 2 1.5 2-2.1 2 3.5 2-1.3 2 1.5 2 0 2-.1 2 1.1 2 1.8 2 .3 2 1.8 2-2.4 2-1 2-2.8 2-1.4 2-3.6 2-.1 2 .4 2-.7 2-.4 2 1.2 2 1.1 2 2.1 2 1.4 2 1.7 2-1 2 .1 2 .3 2-3 2-1.6 2 1.8 2 3.8 2 1 2 1.9 2 .5 2 1.1 2 2 2-1 2-2.1 2 1 2-2.2 2 2 2 1.9 2 2.6 2 .1 2 3.8 2 1 2 4.2 2 2 2-1.1 2-2.2 2-1 2-2.3 2-3.3 2 .4 2 5.8 2 2.1 2 6.6 2 2.1 2-1.3 2-5.8 2-2.6 2-3.2 2-4.4 2 .9 2 3.9 2 2.9 2 6.9 2 3.4 2-3.1 2-6.7 2-6.1 2-5.7 2-7.1 2-3.7 2-1.2 2 2.7 2 7.2 2 7.6 2 6.5 2 8.5 2-4.3 2-11.7 2-15 2-17 2-19 2-17.1 2-13.4 2-3.2 2 15.6 2 19.9 2 24.4 2 27.8 2 23.1 1 10.7 1 8.2 1 10.3 1 7.7 1 6.2 1-3 1-9.5 1-9.1 1-14.5 1-14.1 1-13.9 1-14.4 1-14.9 1-11.5 1-8.3 1-4.1 1-.3 1-2.3 1-2.3 1-.6 1 .8 1 3.1 1-2.3 1-.3 1 .4 1-.6 1 1.1 1 2.1 1 2 1 2.2 1 2.5 1 1.6 1 .5 1 1.5 1 .6 1-.4 1 1.3 1 3.4 1 1.3 2 2.5 2-.3 2 1.1 2 1.3 2 4.7 2 2.4 2 3.6 2 .9 2 .9 2 2.6 2-.7 2-.1 2 .6 2-2.7 2-.8 2-.9 2-2 2-.7 2 1.3 2-3.3 2-1.2 2-.6 2-1.3 2 .7 2-.5 2 .2 2 .8 2 .6 2 2.1 2-.6 2-.3 2-.9 2-1 2 1.2 2-.9 2-.1 2-.9 2-1.4 2 2.8 2-.1 2 3.5 2 2 2 3.4 2 1.1 2 3.7 2 3.3 2-.6 2 2.1 2 0 2 3.7 2 4.2 2 0 2 2.6 2-2.5 2 2.7 2 4 2 2.2 2 .6 2 .2 2-.9 2 2 2 4.7 2 1.3 2-.1 2-2.4 2 .9 2-1.5 2-3.9 2 .9 2-3.7 2-2.7 2-.5 2-1.4 2 1.1 2-3.2 2-.6 2 0 2-.8 2-3.3 2 0 2 1.1 2-1.3 2 .9 2-1.3 2-.3 2-1.8 2-1.2 2-1.6 2-1.8 2-1 2 1.7 2-4.4 2 .3 2-.3 2 2.2 2-1.3 2-1.8 2-.7 2-3.3 2-1.2 2-1 2-.8 2-.6 2-.6 2-.6 2 3.4 2 .5 2-.7 2-1.6 2-1.7 2-2 2 .1 2 .4 2-.3 2-1.4 2 1.4 2 1.1 2 1.4 2-.4 2 2.9 2-1.3 2-1.6 2-3.8 2 .5 2 1.3 2-.8 2 4 2 .5 2 1.7 2 .5 2-1.4 2 1 2 2.8 2-.8 2 .6 2 .7 2 .9 2 2.5 2-4 2-3.2 2 2.2 2 .7 2 .7 2 .4 2 1.3 2-.1 2 .9 2 1.9 2-2.2 2 3.7 2-.4 2-.6 2 3.7 2-1.1 2-1 2 3.9 2 2.2 2 .1 2 .8 2-1 2-.4 2 .4 2 0 2 .7 2-.2 2 1 2 3.1 2-1.6 2 1.6 2 .3 2-1 2-.9 2 .2 2 1.2 2 2.1 2-.9 2 .3 2 .1 2-.5 2 .4 2 1.4 2-1.1 2 1.1 2 0 2-.3 2-.6 2-1.8 2 1 2-1.2 2 1.1 2-1.5 2 .6 2-.3 2 .7 2-.5 2 1.5 2 .8M1031 450.2l2-1.1 2-.2 2-1.2 2-5.5 2 .7 2-.8 2 3.8 2-1.7 2 6.1 2 .6 2 1.6 2 3.3 2 2.5 2 .7 2 3.3 2-4.1 2-2.1 2-3.2 2-3 2-1.3 2-1.8 2 .8 2 .6 2-1.5 2 2.5 2-2.5 2 1.9 2-.6 2-.5 2 .1 2 1.9 2-.9 2 2.4 2-3 2-.1 2-2.7 2-1 2-2.1 2-.4 2-.3 2 .3 2 .8 2 .2 2 .9 2 3.2 2 1.3 2 .2 2 1 2-.7 2-.9 2-1.4 2-1.7 2 1.8 2 3.2 2 2.7 2 1.1 2 1.6 2-1.5 2 2.7 2-.9 2-2.1 2 .3 2-1.2 2 .1 2 2.8 2 1.3 2 3.4 2 3.6 2-.4 2 4.2 2 .8 2 .1 2-3.8 2-1.9 2-2.2 2-2.9 2 1.1 2 7.9 2 2.6 2 5.1 2 2.1 2-1.1 2-5.3 2-2.8 2-4.3 2-4.8 2 1.6 2 3.5 2 4.4 2 8.1 2 .7 2-2.1 2-5.4 2-5.6 2-6.8 2-8.1 2-3.6 2-1.7 2 1.9 2 7.6 2 8.1 2 5.5 2 8.1 2-2.6 2-11.6 2-14.8 2-18.6 2-18.9 2-18 2-13.4 2-1.8 2 14.9 2 21.9 2 25.4 2 26.2 2 24.3 1 11.8 1 7.4 1 10 1 7.5 1 4.4 1-8 1-14.2 1-14.7 1-25.4 1-25.2 1-25.8 1-25.9 1-26 1-19.9 1-16 1-13.4 1-7.2 1-7.6 1-7.4 1-4 1-2.3 1 4.5 1 .2 1 3.2 1 3.5 1 2.7 1 5.1 1 4.9 1 5.1 1 6.3 1 5 1 4.7 1 4.9 1 4.9 1 4.2 1 2.7 1 4.6 1 6.6 1 3.5 2 5.6 2 3.1 2 2.7 2 10.1 2 11.6 2 7.8 2 11.7 2 1.1 2 1.9 2 4.7 2 1.2 2 .3 2 2 2 .6 2 .2 2-.6 2 .9 2 1.5 2 1 2 1.4 2-.8 2-.5 2 0 2 1.8 2 0 2 0 2 1.8 2 1.7 2 3.2 2 .7 2 .1 2-1.4 2-1.4 2 1.5 2 0 2-1.5 2-.8 2 .2 2 1.6 2 .4 2 1.5 2 1.8 2 3.6 2 2.8 2 3.7 2 3 2 1.2 2 1.9 2 .3 2 3.4 2 2.7 2-.7 2 2.3 2-.9 2 2.2 2 3.7 2 1.4 2 0 2 3.2 2-1.1 2 1.1 2 4.1 2 .7 2-.4 2-1.5 2 .9 2-1.8 2-4.6 2 1.2 2-3.5 2-2.4 2-1.8 2-1.6 2 .1 2-3.7 2 .8 2 .7 2 .1 2-2.6 2 1.5 2-.1 2-1.1 2-1.6 2-1.5 2-1.2 2-.2 2 .2 2-1.3 2-1.6 2 1.3 2-.2 2-3.2 2 0 2-2.9 2 .1 2-3.8 2-1.8 2 .1 2-1.7 2 .2 2 .5 2 1.4 2-.1 2 .5 2-2.4 2 2 2-2.5 2-.8 2 2.2 2 1 2-1.8 2-.3 2-2.2 2-.2 2-2 2 1.2 2 0 2 .2 2-1.2 2 .8 2 .6 2-.7 2-.6 2 1.5 2 0 2-1.1 2 3.7 2 1.1 2 3.4 2 0 2-2.6 2-1.6 2 1.1 2 .8 2 .7 2 1.3 2-.8 2 3.3 2-2.4 2-.6 2 .6 2-.6 2-1 2-.7 2 2.1 2 2.7 2 .7 2 2.1 2-2.4 2 3.2 2-2.4 2 0 2 4 2 .1 2-.8 2 4.6 2 .4 2-1.2 2 1.5 2-.9 2 1.3 2 .7 2 .5 2 .4 2-.4 2 1 2 2.6 2-1.3 2 1.7 2-1.4 2 .6 2-.2 2 .9 2 .8 2 2.4 2-1.5 2-.1 2 1.4 2-.1 2 .2 2 .2 2-.7 2-.4 2-2.5 2-1.2 2-.1 2-1.1 2 2.7 2-2.2 2 1.9 2-2.8 2 2 2 .4 2 1 2 0 2 .9 2 .3M1031 450.2l2 .2 2-.8 2-.6 2-5 2-.3 2-.5 2 2.2 2-.7 2 6.2 2-.3 2 4.1 2 2.1 2 1.1 2 .7 2 1.3 2-1.9 2-2.3 2-2.9 2-2.7 2-1.6 2-2.6 2-1.2 2 1.3 2-1.5 2 3.4 2-2.8 2 2.7 2 .3 2 .2 2 1.6 2 1.3 2-.3 2 2.3 2-2.4 2-1 2-3.2 2-1.7 2-2 2-1.2 2 .3 2-.4 2-.9 2 2.4 2 .6 2 2.6 2 1.2 2 1 2 1.5 2-.8 2-.5 2-1.9 2-1.5 2 .1 2 2.8 2 2.6 2 2.5 2 .4 2 .5 2 2.2 2-1.4 2-1.8 2 1.1 2-2 2 .6 2 2.5 2 2.3 2 1.3 2 4 2 .2 2 4.8 2 .9 2 .9 2-3.9 2-1.3 2-2.4 2-3.6 2 2.9 2 5.6 2 2.1 2 6 2 .7 2 .6 2-5.5 2-4.6 2-2.7 2-4.4 2 1.2 2 3.9 2 3.5 2 6.9 2 3.8 2-3.9 2-6.1 2-5.8 2-6.7 2-6.8 2-4 2-1 2 1.2 2 7.5 2 7.6 2 6.3 2 8.4 2-3 2-9.9 2-15.1 2-18.7 2-18.1 2-17.6 2-14.6 2-2.5 2 15.6 2 20.8 2 25.1 2 25.5 2 23.3 1 10.2 1 7.7 1 10.1 1 8.4 1 6.2 1-3.4 1-9 1-8.9 1-13.8 1-12.7 1-13.7 1-13.5 1-13.7 1-11.1 1-7.1 1-3.5 1-.1 1-2.5 1-2.4 1 0 1 .5 1 2.5 1-1.5 1-.1 1 .9 1-1.5 1 .5 1 2.3 1 1.5 1 2.1 1 1 1 .4 1 1 1 2.1 1 1 1-1 1 .9 1 3.7 1 2.8 2 2.9 2 2.2 2 3.1 2 .1 2 4.1 2 .1 2 2.5 2-.2 2-.1 2 2.5 2-1.4 2-.8 2-1.2 2-.6 2-1.4 2-1.8 2-2.9 2-.8 2 1.8 2-.8 2-1 2-3.6 2 .3 2-.4 2-.8 2 1.2 2 1.5 2 .3 2 2.6 2-.6 2-.1 2-1.6 2 .5 2 .8 2-.5 2-2.4 2-1.3 2-.1 2 1.2 2 .5 2 3.1 2 3.9 2 3.2 2 1.9 2 2.7 2 3.4 2-1 2 2.8 2-.6 2 3.2 2 3.3 2 1 2 1.7 2-1.5 2 3.2 2 2.4 2-.3 2 2.4 2 2.3 2-.4 2 2.7 2 3.5 2 .6 2-2.1 2-1.5 2 1.1 2-3.6 2-3.9 2 2.7 2-2.3 2-1 2-2 2-1.7 2 .7 2-3.5 2-.6 2 .3 2-.9 2-1.8 2-.2 2 1 2 1.1 2 0 2-1.9 2-2 2-2.4 2 .2 2-.5 2-1.6 2-1.2 2 1.5 2-2.8 2-.8 2-1.3 2-1.8 2-3.8 2 .1 2 .5 2-1.7 2 .1 2 0 2 1.4 2 .1 2-.9 2-.8 2 3.5 2-2.4 2-1.8 2-1.1 2-1.2 2-.7 2 0 2-.3 2-.5 2-2.2 2 1.2 2 1.5 2 .1 2-.5 2 .6 2-1.9 2 1.2 2-3.1 2 1.8 2-.8 2-1.3 2 2.9 2 .7 2 2.7 2 2.5 2 1.2 2 1.1 2 1.2 2-2.3 2-.1 2 1.3 2 .2 2 2.3 2-1.5 2-1.7 2 1.6 2 .2 2 1 2 1.1 2 1 2 .1 2-.3 2 .8 2-2 2 2.1 2 1.2 2 .8 2 1.9 2 .5 2-1.5 2 2.7 2 .2 2 1.5 2 1 2-.5 2-.8 2 .9 2-.3 2 0 2-.1 2 1 2 1.8 2 .8 2 .8 2 .7 2 .8 2-.9 2 1.7 2 .7 2 1.2 2-2.2 2-.2 2 .6 2-2.2 2 .4 2 .2 2 0 2 2.2 2 .9 2-2.2 2-.5 2-2.3 2 .7 2 .6 2 .4 2-.8 2 1.5 2 .6 2-.2 2-.5 2 .2 2-.8M1031 451.8l2-1 2 .2 2-1.5 2-5 2-1.3 2-1.1 2 2.3 2-.5 2 6.3 2 .8 2 2.2 2 3 2 2.1 2 2.3 2 1.8 2-3.3 2-2.2 2-1.6 2-4.3 2-2.4 2-.7 2-1.6 2 1.4 2-1.2 2 2.7 2-1.7 2 1.3 2-.3 2 .3 2 1.3 2 1.3 2-1.3 2 2.7 2-1.9 2-1.7 2-1.4 2-2.7 2-2.4 2 .6 2 .5 2-.9 2 .1 2 1.1 2 1.7 2 2 2 1.2 2-.1 2 .1 2 .1 2-1.1 2-1.2 2-2.3 2 3 2 2.7 2 2.7 2 1.3 2 .8 2-1.4 2 2 2-.8 2-1.3 2 1.5 2-1.9 2 1.7 2 2.6 2 1.1 2 2.2 2 4.5 2 .7 2 3.8 2 1.1 2-.9 2-4.3 2-1.7 2-2.6 2-2.7 2 2.3 2 6.7 2 2.1 2 6.3 2-.4 2-.1 2-6.2 2-3.3 2-4 2-2.5 2 .6 2 4.2 2 3.8 2 6.6 2 2.9 2-2.4 2-6 2-6.3 2-7.1 2-6.5 2-4.2 2-1.7 2 1.8 2 7.5 2 7.9 2 7.5 2 8.3 2-1.9 2-10.6 2-16.3 2-17.5 2-19.8 2-17.2 2-14.8 2-1.7 2 15.2 2 20.1 2 24.9 2 27.5 2 22.3 1 11.1 1 7.7 1 9 1 7.8 1 6.2 1-7.1 1-11.7 1-12 1-23.5 1-22 1-22.6 1-23.5 1-23.1 1-17.9 1-15.3 1-11.9 1-4.9 1-5.7 1-5.4 1-2.9 1-2.8 1 4.1 1 .9 1 3 1 3.6 1 2.1 1 4.1 1 4.8 1 3.3 1 4.6 1 4.6 1 4.1 1 3.6 1 3.4 1 3.4 1 1.5 1 3.4 1 6.4 1 4.1 2 7.5 2 5.4 2 5.6 2 3.2 2 7.4 2 3.9 2 5.1 2 2.8 2 1.7 2 3.8 2 0 2 2.5 2 .9 2 1.2 2-.8 2 .4 2-.4 2 .8 2 2.5 2 .2 2-.4 2-2.5 2-1.4 2 1.8 2-.3 2 2.2 2 2 2 1.4 2 2.3 2 .9 2-1.5 2-1.7 2-1.1 2 1.5 2-.8 2 0 2-.1 2 0 2 2.1 2 1.4 2 .9 2 3.1 2 1.2 2 2.4 2 3 2 3.3 2-.1 2 2.1 2 .3 2 4.1 2 2.3 2 1 2 2 2-1.7 2 1.4 2 4.6 2 .2 2 2.1 2 2.6 2-1.4 2 3 2 2.5 2 1.6 2-.5 2-1.9 2 .8 2-2.9 2-4.3 2 1.8 2-3 2-1.3 2-.9 2-1.8 2 1 2-2.7 2-1.9 2 .3 2-.4 2-1.8 2-1 2-.1 2-2.1 2-.8 2-.9 2-.7 2-1.5 2 .9 2-.3 2 1.4 2 0 2 0 2-3.1 2-.8 2-2 2-.4 2-2.7 2-.6 2 0 2-1.5 2-.1 2 .3 2-.7 2-.7 2-1 2-1.4 2 3.1 2-.3 2-2.1 2-.7 2-3.4 2-.7 2-.7 2 .3 2 .3 2-.2 2 1.1 2 1.5 2 1.4 2-2.2 2-.2 2-1.5 2 .6 2-1.5 2 1.8 2 .8 2-2.3 2 3.1 2 .3 2 2.2 2 .5 2-.7 2 1.2 2 1.7 2-1.4 2-1 2 1 2 1.2 2 2.5 2-1.9 2-2.5 2 1.2 2-.1 2 1.5 2-.3 2 .9 2 .4 2 .4 2 1.3 2-.9 2 3.5 2-.4 2-.1 2 2.8 2-.6 2-.8 2 2.5 2 2.5 2-.7 2 .4 2-1 2 .7 2 .5 2 1.2 2 .9 2-.5 2 .6 2 .9 2-1.4 2 1.5 2 1.5 2 .9 2 .3 2 1.2 2 1.3 2-.2 2-.5 2-.6 2-.1 2-.6 2 1.2 2-.1 2-1.5 2 .7 2-2.3 2 .7 2 .6 2-1.1 2 1.9 2-1 2 1.9 2-2.5 2 1.1 2 0 2 1.9 2-.5 2 .3 2 1.4M1031 453l2-.4 2-.6 2-2.6 2-4.7 2-.9 2-1 2 2.5 2 .2 2 5.7 2 1.3 2 1.7 2 2.6 2 2.5 2 .6 2 2.2 2-1.9 2-3.5 2-1.9 2-3.7 2-1.3 2-2.7 2-.7 2 1.1 2-1.8 2 3.8 2-1.9 2 1 2 .5 2 .1 2 1 2 2.2 2-1.1 2 2.1 2-1.5 2-1.6 2-2.7 2-1.8 2-2.6 2-1.1 2 .5 2 .3 2 .4 2 .8 2 1.1 2 2.9 2 1.4 2 .1 2 .7 2-1 2-.2 2-1.6 2-2.1 2 1.6 2 3.2 2 1.8 2 2.1 2 .9 2 0 2 3.2 2-2.6 2-.9 2 .7 2-1.9 2 1.1 2 2.1 2 3.2 2 1.2 2 3.4 2 1.4 2 2.6 2 .9 2-.2 2-3.4 2-2.6 2-1.8 2-3.5 2 1.7 2 6.8 2 2.2 2 5.7 2 2.4 2-.3 2-5.7 2-2.8 2-2.7 2-5 2 1.4 2 3.2 2 3 2 7.4 2 2.5 2-2.2 2-5.5 2-6.5 2-6.4 2-8 2-3.3 2-1.3 2 2.2 2 6.8 2 7 2 6.3 2 8.3 2-1.8 2-9.1 2-15.8 2-18.4 2-20.1 2-17.8 2-14 2-2.3 2 14.4 2 20.5 2 25.1 2 26.9 2 23.2 1 11 1 8.4 1 10.8 1 8.7 1 5.3 1 1.1 1-4.5 1-4.6 1-4.7 1-5.4 1-3.8 1-4.2 1-5.2 1-3.3 1 .5 1 2.8 1 3.3 1 3.2 1 2 1 1.7 1 3.3 1 .6 1-3.4 1-1.8 1-2.5 1-4.1 1-1.6 1-.4 1-1.6 1-.6 1-.9 1-1.9 1-1.5 1-.8 1-2.5 1-3.2 1-.8 1 .1 1-.2 2-.1 2-2.8 2-1.6 2-3 2 .7 2-3.6 2-1.1 2 .2 2-1.8 2 1.2 2-2.1 2-2.1 2-.8 2-4.4 2-3 2-3.3 2-5.1 2-1.1 2-1.5 2-.2 2-3.3 2-3.8 2-1.6 2-1 2-1.6 2 .4 2 .7 2-.7 2 .9 2-.1 2 .8 2-1.8 2 .4 2 .4 2-.6 2-1.6 2 .3 2 .4 2 1.2 2-.1 2 1.5 2 4.1 2 3 2 2.2 2 3.4 2 2.9 2-.7 2 1.8 2 .3 2 2.5 2 1.6 2-.1 2 2.4 2 .2 2 2.8 2 4.3 2 .1 2 .8 2 2.1 2-.5 2 3.1 2 4 2 1.9 2-1.6 2-2.8 2-.5 2-.8 2-4.4 2 2.3 2-2.9 2-.7 2-.4 2-1.4 2 .9 2-5.9 2-.8 2 .5 2-.9 2-1.8 2-.8 2 .9 2-.1 2-.3 2-1.4 2-2.1 2-1.9 2-.8 2 .4 2-.7 2 1 2 1.3 2-4.4 2-1.4 2-2.6 2-.7 2 .1 2 .4 2 .8 2 .1 2-1.1 2-3.3 2 1.3 2-.8 2 0 2-2.8 2 .5 2-2.3 2 .7 2 2.2 2-.5 2-1.1 2-1.4 2-.2 2-1 2 .2 2 .1 2 0 2-.8 2 0 2 .9 2 1 2 .7 2-1.2 2 1.7 2 .5 2-2.1 2 2.8 2-1 2 2.3 2 1.3 2 1.1 2 .6 2 1.9 2-2.3 2-.2 2 .8 2-1.3 2 1.9 2-3 2-2.8 2 2.7 2-1.6 2 1 2 .2 2 2 2 1 2 1.5 2 .2 2-1.1 2 3.6 2-.3 2 .8 2 3.7 2-.1 2-1.8 2 4.5 2-.1 2 .4 2 1 2-2.8 2-.1 2 .1 2 .6 2 2.4 2 1 2-.4 2 1.8 2-.8 2 .5 2-.9 2 .3 2 0 2 1.7 2 1.1 2 1.4 2-.9 2 0 2 .7 2-.5 2 .3 2 .4 2-1.4 2 1.4 2-.9 2-.1 2 .5 2-2.6 2 1.1 2-1.2 2 .8 2-2 2 2.2 2-1 2 1.4 2-.6 2 1.4 2 0M1031 451.6l2-1.1 2 0 2-1.7 2-3.3 2-1.5 2-.7 2 2.4 2-.9 2 5.7 2 .5 2 2.8 2 3.2 2 1.3 2 1.5 2 2.6 2-2.9 2-2.4 2-1.6 2-2.4 2-2.3 2-2.2 2-.2 2-.4 2-.9 2 2.9 2-1.7 2 1.1 2-.3 2-.6 2 1.5 2 .7 2 .9 2 .5 2-1.6 2-.8 2-2.2 2-.6 2-3.1 2-.9 2 .2 2-.3 2 .6 2 1.6 2-.2 2 2.2 2 1.5 2 .9 2 1.9 2-.7 2-1.4 2-1.4 2-1.4 2 1.5 2 3.7 2 1.3 2 .5 2 2.2 2 .1 2 2.6 2-.7 2-3.2 2 .7 2-2.2 2 2.1 2 2.5 2 2 2 1.4 2 3.4 2 .3 2 4.9 2 1 2 .6 2-2.5 2-2.4 2-1.8 2-3.3 2 0 2 6.9 2 1.8 2 6.5 2 .5 2-.2 2-6.1 2-2.7 2-3.8 2-2.7 2 2.3 2 2.5 2 2.5 2 6.7 2 3.3 2-2.5 2-6.3 2-7.4 2-6.9 2-6.6 2-3.7 2-1.1 2 1.1 2 8 2 7.9 2 6.7 2 8.4 2-2.4 2-10.4 2-14.6 2-18.2 2-19.8 2-18.9 2-13.1 2-2.3 2 14.7 2 22.1 2 25 2 26.2 2 22.9 1 10.9 1 7.8 1 9.4 1 8.8 1 6.1 1 0 1-4.8 1-4.6 1-4.5 1-3.6 1-3.4 1-3.6 1-3.6 1-2 1-.3 1 2.3 1 4.4 1 3.2 1 2 1 2.2 1 3.1 1 .6 1-2.8 1-2.3 1-3.2 1-2.7 1-1.4 1-1.5 1-1.7 1-1.1 1-.7 1-1.9 1-2 1-1 1-1.4 1-3.5 1-2.3 1 .3 1 .7 2-.2 2-4 2-1.5 2-3.4 2 .1 2-2.7 2-1 2-.4 2-2.1 2 .5 2-3.5 2-2.6 2-1.5 2-3.2 2-2 2-3.5 2-3.4 2-1.6 2-.7 2-1.9 2-3.6 2-4.9 2-1.5 2 .4 2-.8 2-1.2 2 .6 2-1.2 2 1.6 2-.6 2-.4 2-.7 2-.7 2 1.8 2-.1 2-.1 2-3.2 2 1 2 .6 2 0 2 2.4 2 4.7 2 1.1 2 2.3 2 5.3 2 3.7 2-1 2 2.1 2 .3 2 2 2 2.4 2 .3 2 2 2-1.9 2 4.1 2 4 2-1.7 2 2 2 2.4 2-1.2 2 2 2 5.3 2 .6 2-.7 2-1.8 2 .9 2-1.6 2-3.9 2 1 2-3.9 2-1.9 2-.9 2-1.3 2 2.3 2-1.8 2-3.1 2 1.5 2-1.2 2-1 2-.6 2-.2 2-1.3 2-.1 2-.8 2 .5 2-2.3 2 .6 2-.4 2 0 2-.3 2 .5 2-2.8 2-.3 2-.4 2 .4 2-2 2-2.3 2-2.2 2-2 2-.7 2 0 2 1.9 2-.6 2-.4 2-1.8 2 1.7 2-.7 2-.8 2-1.8 2-1.4 2-1 2 .6 2 1.9 2 .8 2-2.5 2 .6 2-1.4 2-1.2 2 .3 2 .5 2 .8 2 .9 2-1 2-.4 2-.3 2-1.8 2 2.6 2 .3 2 3 2 .2 2-.7 2 1.7 2 2.4 2-2.5 2 .9 2 .6 2-1.4 2 3.6 2-.8 2-.7 2 .8 2-.3 2-1.2 2-1.6 2 1.2 2 2.4 2 1 2 1.6 2-1.7 2 3.2 2-.5 2 1.3 2 2.3 2-2.2 2-1.5 2 2.3 2-.1 2 .5 2 1.2 2-.3 2 2 2 0 2 1.2 2 .1 2-.6 2 1.1 2 1.5 2-.7 2-.9 2 .6 2 1.2 2 1 2 1.1 2 .1 2 .8 2-1.8 2-.7 2 1.1 2-.4 2 1.4 2 .8 2 .3 2 0 2-.5 2-1.7 2-.9 2-2.7 2 2.4 2 .3 2 1.5 2-1.3 2 2.6 2-.7 2 1 2-.1 2 1.6 2 1M1031 451.5l2 0 2 .3 2-1.6 2-4.5 2-.5 2-.4 2 2.1 2-1.1 2 5.9 2 .8 2 2 2 3.9 2 1.4 2 .7 2 2.9 2-4.1 2-1 2-1.4 2-4.6 2-1.8 2-2.4 2-.2 2 .2 2-1.7 2 4.7 2-2.1 2 1.8 2-.2 2-.6 2 1.3 2 1 2-1 2 1.9 2-.6 2-1.3 2-3.1 2-1.1 2-1.8 2-.2 2-.6 2-.1 2-.5 2 1.4 2-.6 2 2.3 2 1.3 2 1.4 2 .6 2 1.8 2-.5 2-2.6 2-2.2 2 1.9 2 3.8 2 1.3 2 1.9 2 1.6 2-.3 2 1.3 2-1 2-2.1 2 3.5 2-3.6 2 .8 2 3 2 1.2 2 1.3 2 3.9 2 .7 2 3.6 2 .6 2 .8 2-3.4 2-1.9 2-2.4 2-3.8 2 .7 2 7.3 2 3.2 2 4.5 2 2.3 2-.5 2-6.6 2-1.6 2-4.4 2-2.5 2 .7 2 3.5 2 3.9 2 6.8 2 2.6 2-2.5 2-7.3 2-6.4 2-4.7 2-9 2-3 2-.5 2 3 2 7.2 2 6.9 2 5.5 2 7.2 2-2.5 2-10.7 2-15.6 2-18.2 2-18.4 2-15.8 2-13.6 2-3.1 2 14.1 2 20.8 2 25.3 2 26 2 23.8 1 10 1 7.6 1 10.6 1 7.8 1 5.8 1-1 1-7.7 1-7.5 1-10 1-9.9 1-9.8 1-9.4 1-10 1-7.7 1-5.1 1-1.2 1 2 1 .5 1 .1 1 .4 1 1.8 1 1.7 1-2 1-1.3 1-1.2 1-1.6 1-.9 1 .7 1 .3 1 .5 1 1.4 1-.5 1 .4 1 1.4 1-.2 1-1.6 1-.6 1 2 1 1 2 1.4 2-1.2 2-.2 2-1.2 2 3.9 2 0 2 2.1 2 .4 2-1.9 2 2.4 2-1.9 2-1.5 2-.7 2-1.7 2-1.6 2-2.8 2-1.5 2-2.5 2 .3 2-.5 2-.7 2-3.9 2-2.8 2 .2 2-2.3 2 1.5 2 .4 2 1.1 2 1.9 2-.4 2 0 2-.9 2-.2 2-.2 2-.7 2-1.5 2-1.5 2 .9 2 1.8 2 .8 2 .7 2 4.7 2 1.8 2 3.8 2 3.5 2 3.5 2 0 2 2.2 2-.2 2 2.7 2 2.7 2 1.1 2 2.2 2-1.5 2 3 2 3.6 2 .4 2 1 2 3.2 2-1.3 2 1.7 2 3.1 2 0 2 .3 2-2.5 2 1.4 2-1 2-4 2 2.4 2-2.5 2-1.5 2-2.3 2-1.9 2 .6 2-3.5 2-1.8 2 1 2-.8 2-3.7 2 .3 2 .2 2-1.1 2-.3 2-.9 2 .8 2-2.2 2 .3 2-1.2 2 2.2 2 .1 2 .9 2-3.7 2-1.2 2-1.3 2-1.3 2-1.6 2-.4 2-.7 2-2.5 2-1.5 2-.9 2 .7 2-.3 2-.5 2-1.9 2 1.7 2-1.3 2-1.1 2 .6 2-1.4 2-.9 2 .4 2 1.8 2 .9 2-1.2 2 1.5 2-.8 2-.7 2-1.7 2 1.1 2-.9 2 1.4 2-1.6 2 2.8 2 1.7 2-1 2 2.3 2-1.2 2 2.5 2-1.8 2-.9 2 .3 2 2.7 2-2.2 2-.8 2 1.7 2-.1 2 3 2-1.2 2-2 2 1.1 2 1.1 2 .9 2 1 2 1.8 2 3 2 .8 2-.8 2-2.9 2 .5 2-1.8 2 1.5 2 3 2 1.8 2-.7 2 4.5 2 .3 2-1 2 .3 2-1.6 2 .5 2 .7 2 1 2-.2 2-.3 2 2 2 1.2 2-.8 2-.4 2-.9 2-.1 2-.4 2 1.9 2 .3 2 2 2-.6 2 .5 2 .9 2-1.4 2 .3 2 0 2 1.5 2-.4 2-.1 2-.2 2-1.3 2-1.6 2 1.3 2-.3 2 2.3 2-1.6 2 1.2 2-.7 2 1 2-.1 2 .4 2 .2M1031 451.9l2 .4 2-.3 2-2.6 2-2.7 2-1.3 2-.3 2 2.9 2-.5 2 4.3 2 .3 2 1.8 2 3.9 2 .8 2 1 2 2.9 2-2.5 2-1.7 2-3.3 2-1.7 2-1.6 2-2.3 2-.9 2-.6 2-1.3 2 2.2 2-.9 2 2.5 2 .5 2-.6 2 .6 2 2.5 2-2.4 2 2.7 2-1.9 2-.3 2-2.8 2-.9 2-3.4 2-.9 2-.1 2 .6 2 .1 2 2.1 2 .8 2 3.3 2 1.9 2 .6 2-.3 2-.1 2-1.7 2-1.3 2-2 2 .1 2 3.9 2 2 2 1.9 2 1.1 2 .4 2 2 2-.4 2-4.4 2 2.7 2-3 2 1.8 2 2.6 2 2.4 2 1.3 2 4.2 2 .6 2 3.6 2-.3 2 .9 2-2.9 2-.6 2-2.4 2-4 2 1.1 2 5.7 2 4.1 2 5.2 2 1.5 2-.5 2-5.9 2-3.5 2-4.2 2-3.4 2 1.8 2 5.1 2 3.2 2 6.9 2 2.5 2-2.5 2-5.9 2-6.8 2-6.8 2-7.8 2-2.8 2-1.8 2 2.2 2 7.5 2 7.9 2 5.9 2 9.4 2-3.1 2-10.1 2-17.1 2-17.6 2-20.1 2-17.4 2-14.6 2-2 2 16 2 20.5 2 25.6 2 27.5 2 22.1 1 10.6 1 7.8 1 10 1 7.9 1 5.8 1-4 1-10 1-9.3 1-16 1-16.4 1-15.3 1-15.5 1-16.1 1-12.1 1-9.5 1-6.1 1-.5 1-1.7 1-3.3 1-2 1-.2 1 3.9 1-1.3 1-.2 1 .1 1-.1 1 2.2 1 2.4 1 2.2 1 2.8 1 1.7 1 2.7 1 2.1 1 .7 1 1.3 1 .5 1 1.5 1 3.9 1 2.5 2 0 2 .2 2 .3 2 3.6 2 3.4 2 2.9 2 2.9 2 2.8 2 1.4 2 3.3 2 .4 2 1.9 2 1.1 2-1.3 2-.5 2-1 2-1.4 2-1.6 2 2.8 2-.1 2-1.8 2-4.2 2-.2 2 0 2 .2 2 1.6 2 .4 2 2.1 2 1.6 2-.3 2-.4 2-1.5 2 .7 2-.2 2-.8 2-1.1 2-.6 2 .7 2 0 2 .6 2 1.4 2 4 2 1.7 2 3 2 3.1 2 3.7 2 .1 2 2.5 2-.2 2 2.1 2 3.2 2 .7 2 2.5 2-.7 2 2.5 2 4.6 2 .3 2 .7 2 2 2-.9 2 3.2 2 3.3 2 .8 2-1.9 2-.5 2 0 2-2.2 2-2.7 2-.1 2-3.4 2-1.6 2-.9 2-1.1 2 1.5 2-3.3 2-.1 2 .3 2-1.5 2-3.3 2 0 2 .6 2-.2 2-.2 2-.7 2-1 2-3.1 2-.5 2-1.4 2 .6 2 .8 2 .8 2-3.8 2-2 2-.5 2 1.1 2-1.2 2-.6 2-.5 2-2.5 2 1 2-1 2 .7 2-1.1 2-.3 2-1.4 2 3.3 2 .3 2-1.2 2 .3 2-1.7 2-2 2 .7 2-.1 2-.7 2-2.2 2 1.1 2 1.3 2 1.3 2-2 2 1.3 2-.7 2 1 2-2.4 2 1.3 2 .1 2-3.4 2 1.3 2-.6 2 2.2 2 1 2 .5 2-.3 2 3.2 2-1.1 2 .1 2 2.8 2 .3 2 2.4 2-2.7 2-1.6 2 1.5 2 1.4 2 .2 2-1.1 2 0 2 .8 2 1.6 2 2.1 2 .8 2 3.5 2-1.9 2-2 2 2.4 2-.5 2-2.1 2 3.5 2 1 2-.4 2 1.7 2-2.7 2 .3 2 .8 2 1.1 2 1.7 2 1.8 2 .2 2-.5 2-1.4 2 .9 2 .8 2 .9 2 .2 2 1.1 2 .3 2 .7 2-.8 2 1.7 2 1.9 2-2.7 2 .2 2 .1 2-1.7 2 1 2 .5 2-.1 2-.2 2-2.7 2-.1 2-.1 2 1.1 2 0 2 1.2 2-.4 2 1 2-.4 2 .2 2 .1M1031 453l2-1.4 2-.4 2-1.8 2-3.1 2 .4 2-.8 2 3 2-1.8 2 5.2 2 1.1 2 1.4 2 3.2 2 1.8 2 1.7 2 2.7 2-3.9 2-1.4 2-2.9 2-1.7 2-3.1 2-.6 2-.5 2 .6 2-1.5 2 2.8 2-2.9 2 1.8 2 1.4 2-1.1 2-.1 2 2.1 2-.6 2 2.3 2-1.3 2-1.4 2-2.4 2-.8 2-2.1 2-1.9 2 .2 2-.5 2-.9 2 2.5 2-.1 2 3.8 2 .6 2 .2 2 1 2-.4 2-.4 2-.9 2-4.5 2 2.8 2 3.9 2 2.4 2 1.8 2 1.2 2 .4 2 1.7 2-.8 2-2.1 2 2.1 2-4.4 2 2.6 2 .8 2 1.8 2 1.1 2 4.1 2 2.2 2 3.3 2 1.7 2-.3 2-2.9 2-2.1 2-3.2 2-2.3 2 2.2 2 5.8 2 2.3 2 5.7 2-.5 2-.3 2-5.1 2-3.5 2-3.1 2-3.4 2 1.9 2 3.5 2 5.4 2 6.2 2 3.5 2-3.6 2-6.7 2-7.1 2-5.8 2-6.4 2-3.5 2-2.6 2 3.9 2 6.4 2 7.1 2 5.6 2 7.7 2-2.5 2-10.5 2-13.4 2-17.8 2-19.4 2-17.7 2-14.7 2-2.9 2 14.4 2 21.2 2 25.3 2 27 2 23.9 1 9.9 1 8.3 1 9.7 1 7 1 5.6 1 1.6 1-4.3 1-5.2 1-4.1 1-3.7 1-3.9 1-2.3 1-2.6 1-3.1 1 .1 1 3.7 1 5.2 1 4 1 1.8 1 1.4 1 3.1 1 1.2 1-2.7 1-2.1 1-3.2 1-3.9 1-1.3 1-1.3 1-2.2 1-1.2 1-1.2 1-1.3 1-1.9 1-2.1 1-1.8 1-3.6 1-1.4 1 1 1-.5 2-.9 2-4.3 2-2.2 2-3.8 2 1.8 2-2.2 2-.9 2-.3 2-2.2 2 .3 2-3.2 2-2.4 2-2.5 2-3.6 2-3.7 2-.4 2-4.7 2-2.1 2-1.4 2-2.7 2-2.9 2-3.7 2-1.3 2-.5 2-1.9 2 1.4 2 .2 2-.7 2 1.6 2-1.1 2 .3 2-2.3 2-.6 2-.7 2 .8 2-2.3 2-.5 2 .6 2 2 2 .4 2 3 2 2.6 2 3.6 2 1.7 2 3.9 2 4.2 2-.4 2 .6 2 1.4 2 3.1 2 3.5 2-.9 2 1.8 2-2 2 4.1 2 4.3 2-.4 2 1.8 2 2.9 2-2.1 2 2.7 2 2.8 2 1.1 2-.7 2-2.2 2 .6 2-.5 2-3.4 2 1.9 2-3.2 2-1.9 2-3.4 2-3.2 2 1.4 2-3.8 2-1 2 2.4 2-1.3 2-1 2 .4 2-.6 2 1 2 0 2-1.5 2-2 2-1.9 2 .2 2-1.9 2 .6 2-.1 2 1.7 2-3.5 2-1.4 2-1.5 2 .6 2-2.6 2 0 2 .5 2-1.3 2-.7 2-.7 2 3.1 2-1.2 2 0 2 .8 2 1.8 2-1.3 2-1 2-1.3 2-2.1 2-1.2 2 .5 2 .7 2-1 2-1.5 2 1.4 2-.2 2 3.1 2-1.5 2 1.3 2-.9 2 1.9 2-1.4 2-.4 2-.8 2-2.6 2 1.6 2-.1 2 1.3 2-1 2-.2 2 0 2 1.1 2-1.1 2 2 2 2.1 2-.3 2 2.4 2-1.3 2-1.1 2 2 2-1.4 2-.5 2-.6 2 1.6 2 2.6 2 3 2 1.8 2-2.5 2 1.8 2-1.7 2 .1 2 4 2-.8 2-.1 2 3.6 2 .6 2 .3 2-.9 2-.8 2 .1 2 1.8 2-.8 2 1.2 2-.5 2-1.6 2 2 2-2.4 2 1.7 2-.5 2-.7 2 2.2 2 1.2 2 .1 2 1.7 2-1.4 2-.8 2 1.8 2-1.9 2 .7 2-.1 2 .6 2-.1 2 0 2-.4 2-1 2-1.8 2 0 2 1.1 2 .7 2-.1 2 .7 2-.4 2 .6 2-.5 2 .9 2 0M1031 453.9l2-1.7 2-.3 2-1 2-3.7 2-.6 2-.6 2 1.6 2-1 2 5.4 2-.2 2 3.5 2 4.6 2 1.2 2 1.6 2 2.3 2-3.7 2-3.2 2-.3 2-2.8 2-1.8 2-1.8 2-.6 2-.3 2-1.3 2 2.2 2-2.5 2 2.2 2 .3 2 .2 2 .8 2 1.5 2-.7 2 1.2 2-.8 2-.8 2-3.2 2-1.6 2-2.2 2 .5 2-.2 2-.6 2-.6 2 1.1 2-.4 2 2.3 2 1.6 2-.4 2 .9 2 1.2 2-.6 2-1.6 2-.9 2 1.5 2 3.2 2 3.2 2 2.1 2 .4 2 .6 2 1.4 2-.3 2-2.4 2 .8 2-2.4 2 .4 2 3 2 1.9 2 2 2 3.3 2 1 2 5 2-.4 2-.5 2-3.7 2-.7 2-1.3 2-3.9 2 2.2 2 6.8 2 2.1 2 4.7 2 1.1 2 .9 2-5.9 2-4 2-2.3 2-4.2 2 1.2 2 4 2 2.6 2 5.8 2 2.6 2-1.5 2-5.5 2-5.9 2-7.3 2-7.8 2-3.3 2-2.4 2 3.9 2 6.2 2 8.2 2 6 2 8.6 2-2.7 2-10 2-15 2-18.6 2-19.6 2-17.1 2-15.1 2-2.7 2 15.9 2 19.6 2 24.6 2 26.9 2 23.2 1 11.7 1 8.5 1 9.1 1 7.4 1 5.9 1-.6 1-6.6 1-7 1-7.8 1-7.5 1-6.9 1-6.8 1-7.6 1-5.2 1-2.3 1 .6 1 2.3 1 1.3 1 .7 1 1.2 1 2 1 1.7 1-1.8 1-1.5 1-2.9 1-2.8 1 .8 1-.1 1-.4 1 .7 1-.5 1 .2 1-.2 1-1.1 1-1.6 1-2.5 1-.8 1 2 1 .4 2 .5 2-1.8 2-1.8 2-2.4 2 1.9 2-1.2 2 .9 2 .9 2-1.8 2 2.2 2-3.1 2-1.1 2-1.1 2-2.3 2-2.5 2-3.6 2-2.2 2-.6 2 .6 2-1.1 2-3.5 2-3.1 2-2 2-.5 2-1.5 2 .1 2 1.1 2 1 2 2 2-.5 2-.4 2-.9 2-.5 2 1.6 2-1.8 2-2 2-1.4 2 .2 2 .4 2 1.3 2 .8 2 4.9 2 3.8 2 2.2 2 2.8 2 3.4 2 .1 2 2.5 2 0 2 2.9 2 3.5 2-.1 2 2.9 2-1.2 2 2.8 2 2.3 2 .9 2 .8 2 2 2-2.1 2 2.5 2 4.1 2 1.4 2-.2 2-1.5 2 .1 2-1.7 2-3.3 2 1.3 2-1.7 2-.4 2-1.6 2-.6 2-.4 2-5.3 2-3.2 2 .9 2 1.1 2-.8 2-.4 2 .6 2-1.3 2-.3 2-.9 2-1.4 2-.1 2 .7 2-1 2-.6 2-.4 2 .8 2-2.9 2 1 2-1.6 2-.1 2-3.8 2-.2 2 .8 2-1.4 2-1.6 2-.4 2 1.2 2-.9 2 .3 2-.5 2 1.4 2-2.5 2-1.4 2 .5 2-1 2-2.2 2 .5 2 .4 2-.9 2 .7 2 1.7 2 2.2 2 .6 2-1.9 2-1.7 2-.3 2 .6 2-.6 2 .9 2 0 2-2.8 2 2.3 2-1.1 2 2.4 2 .9 2-.5 2 .5 2 3.2 2-1.5 2 1 2 .5 2-.9 2 2.3 2-1.4 2-2.8 2 1 2 .4 2 1.9 2-.9 2 1.3 2 1.2 2 1.6 2 2 2-.3 2 3.5 2-2.8 2-.8 2 2 2-1.6 2-1.4 2 2.9 2-.4 2 1.1 2 1.6 2 .1 2 .2 2 1.1 2 .1 2-.5 2 .7 2 .3 2 2.3 2-1.4 2 1.2 2-.2 2 0 2 .8 2 .2 2 .7 2 .1 2-1.2 2-.7 2 1.9 2-.3 2-1.8 2 1.6 2-.8 2 .7 2 .2 2-.5 2-.1 2-1.5 2 2.1 2-1.4 2 1.3 2-2.2 2 2.3 2-.5 2 1.6 2-.2 2 0 2 1.1M1031 454.4l2-1.7 2-.3 2-1.9 2-3.9 2-.3 2-1.7 2 4 2-.8 2 4.4 2 .6 2 1.9 2 2.4 2 3.7 2 1.4 2 2 2-2.8 2-2.8 2-2 2-3.1 2-1.6 2-1.6 2-1 2 1.2 2-1.3 2 2.9 2-2.5 2 1.9 2 .3 2-.4 2 1.6 2 .8 2-.6 2 1.8 2-.9 2-.8 2-3.3 2-.9 2-2.8 2-.7 2-.2 2 .6 2-.8 2 2 2 0 2 2.2 2 2.1 2-.4 2 1.2 2 .1 2-.7 2-.6 2-2.2 2 .9 2 3.9 2 2.1 2 1.5 2 1.7 2 0 2 .7 2-1.2 2-1.2 2 1.9 2-1.3 2 .8 2 2.5 2 .7 2 .9 2 3.4 2 2.3 2 2.5 2-.2 2 1.1 2-3.9 2-1.4 2-2.3 2-2.8 2 1.5 2 7 2 2.3 2 4.8 2 1.1 2 1 2-5.7 2-2.5 2-4.3 2-3.6 2 1.8 2 3.8 2 2.1 2 6.6 2 3.3 2-1.8 2-6.1 2-6.1 2-7.3 2-8 2-3.4 2-.4 2 2.2 2 8.5 2 6.2 2 7.2 2 6.5 2-2.5 2-10.6 2-14.3 2-18.7 2-19 2-17.7 2-14.2 2-3.5 2 16.2 2 20.7 2 25.2 2 27.7 2 23.3 1 11.1 1 6.9 1 9.3 1 7.9 1 6 1 1.4 1-5.4 1-4.6 1-4.3 1-3.8 1-2.1 1-1.4 1-2.9 1-2.3 1 .7 1 3.4 1 4.4 1 3.1 1 2.9 1 2.9 1 3.6 1 1 1-3.6 1-2.6 1-2.9 1-4 1-1.7 1-2 1-1.7 1-.4 1-2 1-1.7 1-1.5 1-2.7 1-2.3 1-3.1 1-2.4 1 .7 1 .5 2-1.5 2-2.9 2-2.8 2-2.5 2-.2 2-2.3 2-1.7 2-1.4 2-1.7 2 1.3 2-1.7 2-3.9 2-1.1 2-4 2-3.5 2-1.9 2-4.5 2-3.1 2-2.6 2-2.4 2-3.5 2-3.3 2-1.1 2-.3 2-.6 2 0 2 .4 2 .5 2 1 2-.8 2 .7 2-1.4 2 1.1 2 0 2-.3 2-1.6 2-.8 2-.2 2 2.5 2-1 2 2.1 2 2.5 2 2.7 2 2.1 2 3.2 2 4.2 2-.8 2 2.5 2-.1 2 3.7 2 2.4 2 .4 2 2.4 2-.9 2 2.9 2 4.3 2 .1 2-.1 2 2.3 2-.1 2 2.3 2 2.8 2 1.7 2 .1 2-1.2 2 0 2-2.3 2-4.5 2 2.3 2-2.3 2-1.8 2-2.9 2-1 2 1.9 2-3.3 2-.9 2 1.9 2-.7 2-2.2 2-.4 2-.9 2-.4 2-1.6 2-.3 2 .1 2-2.1 2 .6 2 .4 2-.8 2-.9 2-.8 2-4.2 2-1.2 2-.2 2 2.4 2-1.1 2 2.2 2 .2 2-2.2 2-2.1 2-1.3 2 .5 2-.1 2 1.3 2-1.4 2 3 2-3.2 2-2.5 2-.5 2-1.2 2-1.4 2 .5 2 .7 2-.6 2 .3 2 2.1 2 1.1 2 .2 2-.9 2-1.2 2-.2 2-1.3 2-.5 2 1.8 2 1 2-1.9 2 .3 2-.7 2 1 2 .5 2-.2 2-.1 2 2.2 2-1.9 2-.6 2 .9 2-2.2 2 2.8 2-.5 2-.5 2 5 2-.2 2 .3 2 .4 2 2.5 2 1.7 2-.6 2 1 2-3.3 2 3.7 2-.5 2-.2 2 3.3 2 .3 2-2.3 2 3.8 2 .4 2-.9 2 1.1 2-.7 2 .4 2 .6 2 1.3 2 0 2 .5 2-.2 2 2.1 2-.8 2-.9 2-.8 2 0 2-.4 2 .9 2 2.9 2 1.6 2-1.7 2 0 2 .1 2-.2 2-.7 2 .5 2-1 2 .2 2-.4 2-.9 2 .3 2-1.5 2 1.3 2-.1 2 .2 2-1.1 2 1.4 2 .2 2 .2 2-.1 2-.4 2 1M1031 456l2-1.2 2 .1 2-1.4 2-5.1 2 0 2-.7 2 2.3 2-.5 2 5.6 2-.3 2 2.3 2 2.5 2 2.3 2 .4 2 1.3 2-2.6 2-2.5 2-2.9 2-2.1 2-1.6 2-2 2-1 2 1.4 2-.9 2 3.5 2-1 2 2.1 2-.4 2-.3 2 .2 2 .5 2-.4 2 2 2-.9 2-1.6 2-2.8 2-1.1 2-1.7 2-.6 2 .3 2-.5 2-.8 2 1.1 2 .4 2 3 2 1.5 2 0 2 1.3 2-.6 2-.3 2-1.8 2-1.6 2 .3 2 3.1 2 2.2 2 3.3 2 1.4 2-.5 2 2.6 2-.3 2-3.2 2 1.7 2-2.8 2 1.4 2 1.2 2 1.7 2 2.7 2 3.8 2 1.4 2 4.1 2 1.3 2-2.1 2-2.4 2-1 2-2.3 2-2.9 2 0 2 6.8 2 3.3 2 4.2 2 2 2 1.1 2-5.7 2-4 2-5.2 2-3.6 2 1.2 2 3.1 2 4.2 2 8 2 3.2 2-2.8 2-5.1 2-6.3 2-6.5 2-8 2-2.9 2-2.8 2 4 2 6 2 7.6 2 6.3 2 8.4 2-2.2 2-11 2-15.2 2-18.5 2-18.5 2-17.1 2-15.3 2-1.6 2 14.7 2 20.5 2 25.7 2 26.8 2 22.1 1 10.9 1 7.6 1 9.3 1 8.6 1 5.4 1-8 1-13.1 1-14.1 1-25.3 1-24.5 1-25.8 1-25.5 1-25.6 1-20.4 1-16.4 1-12.5 1-5.7 1-7.1 1-7.5 1-3.2 1-2.2 1 4.3 1-.5 1 2.1 1 4 1 2.5 1 5.6 1 6.1 1 4.5 1 5.9 1 5.6 1 4.9 1 4.1 1 4.5 1 3.8 1 2 1 4.6 1 7 1 5.9 2 8 2 8.2 2 9.3 2 .7 2 6.3 2 2.6 2 5 2 3.8 2 1.8 2 6.7 2 .8 2 2.9 2 2.7 2 .7 2 .9 2 .9 2-.7 2 2 2 3 2 .9 2-1 2-1.3 2-1.5 2 1.2 2-.3 2 2.5 2 2.4 2 .6 2 2.5 2-1.2 2 2.2 2-1.8 2-.5 2-.2 2 0 2-1.5 2-1.1 2 1.3 2 .8 2 .5 2 1.9 2 4.8 2 2.2 2 2.1 2 2.8 2 3.2 2-.9 2 1 2 1 2 5 2 2.5 2 1.8 2 4 2-.6 2 1.9 2 2.4 2-.6 2 .4 2 2.5 2-1.4 2 2.3 2 4.2 2 1.8 2-2.3 2-.4 2 .4 2-1.4 2-3.9 2 1.6 2-2.9 2-1.5 2-1.4 2-1.7 2 1 2-3.4 2-1.9 2 1.2 2 0 2-.4 2-.8 2 .8 2-.3 2-1 2-2.8 2 .1 2-2.8 2 1.8 2-1.7 2-.3 2-.9 2 1.4 2-3.6 2 .6 2-1.6 2 .5 2-1.6 2 .6 2 1.2 2-1.8 2-2.1 2-.4 2-.1 2-2.3 2-.2 2-2.5 2 3.1 2 1.3 2 .5 2 .2 2-1.1 2-3.2 2 .2 2 1.2 2-.8 2-.5 2 .7 2-1.2 2 1.1 2-2.7 2 .7 2 .4 2 .4 2 .4 2 2 2 .5 2-1.1 2 1.8 2-.8 2 1.6 2-.4 2 .5 2 .1 2 2.4 2-1.7 2-.6 2-.2 2-1.8 2 3.8 2-1.3 2-.9 2 1.9 2 .2 2-.9 2-.5 2-.4 2 2.7 2 2.7 2 2.1 2-2.7 2 2.7 2-1.3 2-.6 2 4.4 2 0 2-3 2 4.3 2 .1 2 .6 2 .6 2-2.1 2 .2 2 .8 2-1.2 2 1.2 2-2.6 2 1.6 2 2.4 2-1.3 2 .4 2-.2 2 .2 2 .8 2 1.2 2 .2 2 1.1 2-.9 2 .2 2 .5 2-.4 2 .2 2 .7 2-.6 2 1.5 2 .8 2 .3 2-1.3 2-2.3 2 .8 2-1.6 2 1 2-.7 2 1.1 2-.6 2 1.6 2-1.1 2 1 2 .7M1031 454.8l2-.8 2-.2 2-.7 2-5.6 2 1.3 2-1.4 2 3.6 2-.8 2 5.3 2-.4 2 2.4 2 3.3 2 2.1 2-.4 2 1.7 2-2.8 2-2.1 2-2.5 2-.8 2-2.4 2-1.4 2-.7 2 .7 2-1.9 2 3.2 2-3 2 2.8 2-1.1 2 .8 2 .3 2 1 2 0 2 1.9 2-.8 2-1 2-2.5 2-1.2 2-2.9 2-1.5 2-.1 2 .2 2 .5 2 1.3 2 .8 2 1.7 2 1.6 2 0 2 1.3 2 .1 2-.2 2-1.9 2-1.9 2 1.2 2 3.8 2 2.1 2 2.3 2 .9 2 0 2 1.4 2-1.4 2-2.5 2 2.8 2-2.1 2 1.9 2 .7 2 3 2 .7 2 3.3 2 2.2 2 4 2 .3 2 .8 2-3.9 2-1.1 2-2.7 2-3.7 2 1.5 2 7.5 2 1.5 2 5.5 2 .2 2-1 2-4.5 2-2.2 2-4 2-4.6 2 1.5 2 3.9 2 3.4 2 7.5 2 2.4 2-2 2-5.7 2-5.3 2-7.5 2-6.6 2-3.6 2-1.6 2 2.5 2 6.7 2 7.2 2 7.1 2 8.6 2-4.4 2-10 2-14 2-18.9 2-19.5 2-17.2 2-15.9 2-2.7 2 15 2 21 2 24.3 2 27.3 2 23.3 1 11.1 1 8.1 1 8.1 1 7.9 1 5.7 1 1.5 1-3.5 1-4.1 1-3.8 1-4.1 1-2.4 1-1.2 1-3 1-2.6 1 1 1 3.9 1 3.8 1 3.4 1 3.5 1 1.6 1 2.9 1 1.5 1-3.4 1-2.9 1-3 1-4.2 1-2.1 1-1.5 1-2 1-.8 1-1.8 1-1.6 1-1.1 1-1.7 1-1.8 1-3.6 1-2.2 1 1.4 1 0 2-1.9 2-3.8 2-1.9 2-3 2 .5 2-2.9 2-.5 2-1.2 2-3.6 2 .9 2-3 2-2.9 2-1.9 2-3.2 2-2.4 2-1.8 2-3.2 2-2.5 2 .1 2-2.8 2-4.2 2-4.1 2-1.3 2-.3 2-1.8 2-.8 2 .4 2-.1 2 1.6 2 .3 2 .2 2-2.1 2-.9 2 .4 2 .1 2-1 2-1 2-.6 2 1.5 2 1.1 2 2.3 2 2.3 2 2.7 2 1.8 2 3.8 2 4 2 .3 2 1.9 2 2.1 2 3 2 1.5 2-.3 2 1.9 2 .2 2 3.4 2 2.3 2 1.6 2 .5 2 1.2 2-1.6 2 3.1 2 3.7 2 1.5 2-1.3 2-2.2 2 .9 2-2.2 2-3.7 2 2.9 2-2.9 2-.7 2-1.7 2-1.5 2 2.5 2-2.3 2-3.5 2-.1 2-.6 2-1.9 2 .2 2 1.8 2-1.5 2 .1 2-1.3 2-1.1 2-.7 2 .9 2-1 2-.5 2 .2 2-.6 2-2.5 2-.1 2-.9 2 .9 2-2.2 2-1.9 2 .1 2-1.7 2 .1 2 .4 2 1.2 2-2.1 2-1.7 2-.7 2 2.2 2 .3 2 .3 2-.8 2-1.2 2-1.8 2-.4 2 1.1 2-.4 2 0 2 2.6 2-.2 2-.8 2-1.8 2-.1 2-2.5 2 1.3 2-1.7 2 .1 2 .8 2-1.5 2 4.6 2 .9 2 2.3 2 .5 2 1.5 2 .2 2 1.4 2-3.8 2-1.8 2-.8 2-.5 2 3.5 2-1.1 2-2 2 1.1 2 0 2-.1 2 2 2 2 2 2.3 2 .5 2 .5 2-1.6 2 3.7 2-2.3 2-.9 2 2.2 2-.1 2-1.2 2 3.8 2-.5 2-1.6 2 1.5 2 .5 2 1.3 2 1.1 2 .2 2 0 2-2.2 2 .8 2 1.3 2-.2 2 2.2 2-1.2 2 .3 2-1.1 2 1.6 2 .6 2 1.2 2-.2 2 .5 2-.9 2-1.9 2-.1 2 2.5 2-1.3 2 .9 2 .2 2-1.1 2-.7 2-2.1 2 1.4 2 .5 2 1 2-.6 2 1.3 2-1.3 2 0 2-.1 2 1.9 2-.9M1031 456.2l2-1.1 2-.6 2-.9 2-5.1 2 .1 2-.9 2 2 2-1.1 2 5.4 2 1.7 2 1.8 2 2.3 2 3.2 2 .7 2 3.2 2-3.7 2-1.2 2-2.8 2-3.7 2-1 2-2.9 2 0 2 1.5 2-.9 2 2.3 2-1.8 2 1.6 2-.4 2 .3 2 .8 2 .4 2-.9 2 3.3 2-2.2 2-1 2-3.6 2-1.2 2-2.7 2 0 2-1.4 2 0 2 1.3 2 1.3 2-1.2 2 4.3 2 .8 2 .7 2 .6 2-.1 2-1.2 2-.7 2-2 2 1.6 2 5 2 1.7 2 1.8 2 .3 2 .6 2 1.7 2-.5 2-1.9 2 1.5 2-3.9 2 2.4 2 1.7 2 1.6 2 2 2 4.2 2 1 2 2.6 2 1.7 2-1.1 2-2.4 2-1.8 2-3.1 2-2.5 2 1.2 2 7.4 2 2.7 2 6.4 2 .2 2-.5 2-4 2-4.5 2-3.7 2-3.7 2 1.8 2 3.6 2 2.9 2 6.8 2 3.5 2-3.4 2-6.5 2-5.9 2-6.5 2-6.8 2-3.8 2-1.6 2 2.6 2 6.3 2 7.1 2 7.5 2 8.6 2-2.2 2-10 2-15.6 2-18.7 2-19.2 2-17.3 2-14.2 2-3.6 2 16.3 2 19.4 2 26.3 2 26.6 2 22.3 1 11.2 1 8.4 1 8.7 1 7.2 1 5.5 1-.7 1-6.5 1-6.7 1-8.7 1-8.4 1-7.6 1-7.3 1-8.1 1-6.3 1-3 1-.3 1 2.9 1 1.1 1-.4 1 .3 1 1.8 1 2.3 1-2.4 1-1.5 1-2 1-2.3 1 .4 1 .1 1 .1 1 .5 1 .1 1 .1 1-1.1 1-.6 1-.5 1-2.3 1-.6 1 1.9 1 .9 2 .5 2-.7 2 .2 2-2.1 2 1.5 2-2.6 2 1.4 2-.4 2-.6 2 1.4 2-.4 2-1.9 2-1.3 2-1.4 2-1.9 2-1.3 2-3.2 2-1.3 2-.1 2-.1 2-3.5 2-2.5 2-2 2 .2 2-1.7 2 .1 2-.1 2 .5 2 1.7 2-1.1 2 1.7 2-2 2 1.1 2 1.3 2-.7 2-1.5 2-1.6 2 .1 2 1.2 2 .5 2 2.2 2 2.1 2 2.1 2 1.7 2 3.4 2 4.2 2 1.1 2 2.5 2-.7 2 4.6 2 1.9 2-.5 2 4.2 2-2 2 2.4 2 2.8 2 1.4 2-.4 2 2 2-1.5 2 1.3 2 4.3 2 2.2 2 .8 2-1.4 2 2 2-1.5 2-5.6 2 .3 2-2.2 2-1.9 2-1.2 2-.4 2 1.3 2-3.1 2-1.2 2 1.2 2-1.7 2-1.7 2 1.8 2 .3 2-.9 2-.9 2-1.7 2 .3 2-1.4 2 .2 2-1.1 2 .2 2-1.4 2 .1 2-2.7 2-.7 2-.3 2 .8 2-1.9 2-.1 2 .6 2-1.8 2 .7 2-.5 2 1.9 2-2 2-.9 2-1.7 2 2 2-.4 2-1 2 .2 2-.5 2-1.2 2 .2 2 1.4 2 .6 2-.3 2 1 2-.3 2-.8 2-1.9 2-.2 2 0 2 1.3 2-.2 2 2.2 2-.8 2-2.6 2 3 2-2.8 2 1.5 2-1.4 2-.3 2 2.1 2 2.9 2-2.1 2-.1 2-1.2 2-1.6 2 2.7 2-1.2 2-1.7 2 2.6 2 2 2-.3 2-1.9 2 .9 2 1.2 2-.5 2 1.6 2-3.6 2 4.1 2 .4 2 1.4 2 3.4 2-.7 2-1.1 2 2.9 2-.8 2-1.3 2 1.5 2-1.6 2 1.5 2 2.8 2-.2 2 1.6 2-1.4 2 0 2 2.6 2-1.5 2 0 2-.1 2-1.4 2-.5 2 .3 2 1 2 1.3 2-1.5 2-.9 2 2.5 2-1.9 2 .6 2 .6 2 .6 2 .8 2-.6 2 .5 2-1 2-.8 2 1.9 2-2.4 2 1.3 2-1.9 2 1.5 2-1 2 2.1 2-2 2 1.4 2 .6M1031 454.5l2-.7 2 .2 2-2.1 2-3.8 2-2.5 2-.2 2 3.1 2-.4 2 4.9 2 1.3 2 1.6 2 2.8 2 2.4 2 .2 2 2 2-1 2-3.2 2-2 2-1.6 2-1.5 2-1.1 2-1.8 2-.3 2-1.2 2 2.8 2-1.2 2 1.4 2 1.3 2-.6 2 .3 2 1 2-.4 2 2 2-1.9 2-1.5 2-2.4 2-.7 2-3 2-.7 2-.7 2 0 2 .3 2 .9 2 1.9 2 2.2 2 0 2 1.2 2 1.1 2-.6 2-1.2 2-.6 2-1.3 2 2.2 2 2.8 2 .2 2 3.3 2-.2 2 1.3 2 1.9 2-.2 2-3.7 2 1.3 2-2.5 2 1.1 2 3.5 2 2.3 2 1.7 2 2.9 2 1 2 4.3 2 .7 2-.1 2-2.1 2-1.8 2-2.6 2-2.5 2 .6 2 6.8 2 3.5 2 4.8 2 1.4 2-1.8 2-4.9 2-2.8 2-4 2-3.6 2 1 2 3.6 2 4.4 2 5.8 2 3 2-2.1 2-7 2-5.1 2-6.4 2-6.9 2-4.1 2-1 2 2.5 2 7.1 2 7.5 2 5.5 2 8.5 2-3.7 2-11 2-13.6 2-20 2-19.5 2-16.7 2-14.9 2-2.3 2 15.4 2 19.9 2 26.2 2 27.2 2 23.3 1 11.1 1 8 1 9.1 1 7.7 1 5.4 1-5.6 1-11.6 1-12 1-19 1-19.1 1-19.2 1-18.9 1-19.8 1-14.7 1-11.6 1-8.4 1-2.2 1-4.1 1-4.9 1-1.9 1-.5 1 4.2 1-.1 1 1.3 1 1 1 0 1 3.4 1 3.8 1 3.1 1 4.4 1 3.1 1 2.7 1 3.1 1 2.4 1 2.2 1 .6 1 2.2 1 5.4 1 4.6 2 6.1 2 5.9 2 7 2-1.3 2 4.9 2-.6 2 2.5 2 2.6 2 2.5 2 4.2 2-1.3 2 1.4 2 1.8 2 1.4 2-.4 2-1 2-1.4 2-.5 2 2.5 2-.2 2-.8 2-1.5 2-1.1 2 1 2-.9 2 .8 2 .9 2 1.9 2 2.8 2-.5 2 .1 2-1 2-1.3 2 2 2-.8 2-.9 2-1.7 2-1.4 2 1.8 2 1.2 2 3.4 2 2.6 2 2.1 2 1.9 2 4.5 2 1.9 2 0 2 2.9 2 .8 2 2.6 2 2.8 2 .6 2 2.3 2-.4 2 3.3 2 4.8 2-1.4 2 2.3 2 2.1 2-1.7 2 2.6 2 4.4 2 2.6 2-.7 2-.9 2-1.1 2-2.2 2-3.3 2 1.8 2-.1 2-.4 2-.6 2-.7 2 1.2 2-4.7 2-.1 2 .2 2-.8 2-1.9 2 .7 2 .1 2-.8 2-.6 2-1.1 2 .8 2-.5 2 1.7 2-1.3 2-.8 2-2.1 2-.5 2-3.1 2-.7 2 2.1 2 1.7 2-.6 2-1.2 2-.7 2-3.1 2-1.7 2 0 2 1.9 2 2 2 1.6 2-1.1 2 3.1 2-2.1 2-1.9 2-.5 2-2.8 2-1.7 2 .9 2 .6 2-1 2-2.9 2 .9 2 1.8 2 2.4 2-1.7 2-.2 2 .2 2 .3 2-1.4 2 2.7 2-.7 2-1.2 2 2.4 2-1.7 2 .8 2 .2 2-.8 2-1.3 2 1.1 2-1.6 2 1.8 2 1.6 2-.1 2 1.6 2-1.5 2-2.1 2 .9 2-.1 2-.6 2 .1 2 2 2 1.2 2 1.4 2 1.3 2-2 2 2.4 2-3.6 2 1.8 2 2.5 2 .2 2-.2 2 2.4 2-.5 2-1.3 2 1.2 2-.9 2 2.1 2-.1 2-.2 2 .2 2-.7 2 1.6 2 .4 2-2.5 2 .5 2-.6 2-.1 2 .6 2 .9 2 .1 2 1.8 2 0 2-.1 2 2.1 2-.9 2 .4 2 1 2-.9 2 .2 2-.9 2-1.2 2-.6 2-2 2 1.5 2 .7 2 1.8 2-.9 2 .7 2-1.9 2-.5 2 .6 2-.8 2 2.8M1031 453.4l2 .7 2-.9 2-1.2 2-4.5 2-.5 2-1.4 2 3 2-1.1 2 4.9 2 1.4 2 2.8 2 2.8 2 2.8 2 1.6 2 1 2-3.1 2-2.2 2-2.1 2-2.4 2-2.4 2-1 2-2 2 2 2-1.7 2 1.6 2-1.8 2 2.2 2-.4 2-.7 2 1.9 2 1 2 .3 2 2.2 2-1.2 2-2 2-2.1 2-1.9 2-1.3 2-1.6 2-1 2 0 2 .3 2 2.1 2-.1 2 2.1 2 1.1 2 1.7 2-.4 2 .9 2-1.5 2-1.7 2-2.9 2 2.8 2 3.6 2 2.5 2 1.4 2 .4 2 .5 2 .4 2 .8 2-2.2 2 1.8 2-3.6 2 1.4 2 3.9 2 .8 2 3 2 3 2 1.7 2 2.4 2-.4 2 .4 2-2.1 2-2 2-2.2 2-3.1 2 2.9 2 5.4 2 1.9 2 6.3 2 1.3 2-.5 2-4.9 2-3.8 2-3.9 2-3.1 2 1.3 2 3.3 2 3.1 2 6.8 2 2.8 2-2.7 2-6.6 2-5.4 2-4.9 2-7 2-4.3 2-2.8 2 2.4 2 7.8 2 6.7 2 6.6 2 8 2-3 2-10 2-15.6 2-17 2-19.4 2-16.8 2-15 2-2.8 2 16.2 2 19.5 2 25.8 2 27.4 2 21.2 1 10.9 1 8.1 1 10.3 1 7.9 1 5.6 1 .1 1-5.5 1-5.7 1-6.9 1-6.1 1-5.3 1-6.3 1-6 1-3.8 1-1.9 1 1.8 1 4.3 1 2.4 1 1.3 1 1.8 1 2.5 1 1.6 1-2.7 1-1.6 1-2.6 1-3.7 1-.8 1 0 1-1 1-.5 1-.5 1-1.2 1-1.5 1-1 1-.8 1-2.7 1-1.7 1 2.4 1 1.3 2-1.2 2-.8 2-.3 2-2.5 2 1.1 2-2 2-.9 2-.5 2-2.2 2 1.3 2-2.4 2-1.8 2-2 2-3.1 2-2.5 2-2.3 2-3.8 2-.8 2-.2 2-1.7 2-4.4 2-3.6 2-1.5 2-.2 2-.4 2-1.1 2 1.7 2-1.1 2 2.3 2-1.5 2 .8 2-2.3 2 .4 2 1 2 1.3 2-3 2-.5 2 .2 2 1 2 .2 2 2.3 2 2.6 2 2.6 2 2.9 2 3.8 2 3.9 2-.5 2 1.7 2 .5 2 4 2 1.9 2 1.9 2 2.7 2-.6 2 3.5 2 3.9 2 .2 2 1 2 1.1 2 .5 2 2.9 2 4 2 3.8 2-.1 2-2.9 2 .8 2-.5 2-5.3 2 3.3 2-1.4 2-2 2 1.2 2-3 2 1.3 2-4 2-1.5 2 .6 2-.1 2-1.7 2 .4 2-.7 2 .6 2-1.1 2 .2 2 0 2-1.7 2 .3 2-1.7 2-.1 2 .3 2 .8 2-3.2 2 1.4 2-.3 2 1.7 2-1.5 2-.3 2-.5 2-1.8 2-.8 2 1 2 2 2 .7 2-.3 2-1 2 .3 2-.8 2-1.1 2 .4 2-1.8 2-1 2 .9 2 .9 2-.2 2-2.7 2 .4 2-2.3 2 1.7 2-1.4 2 3.1 2-1.6 2 1.8 2-2.7 2-.4 2-.3 2-1.3 2 3.3 2-.5 2 4.2 2-.3 2-1.7 2-.3 2 3.9 2-2.2 2 .3 2 1.1 2-1.3 2 3.3 2-3.5 2-1.7 2 1.3 2-.9 2 .2 2-.7 2 1.7 2-.4 2-.3 2 .8 2-.6 2 5.1 2-.9 2 1.6 2 2 2-2.6 2-2 2 3.8 2 .4 2 1.1 2 1.7 2-1.1 2 .1 2-.5 2-.2 2 .8 2-1.4 2 .8 2 1.9 2-1.5 2-.8 2-.3 2-.5 2-.4 2 .5 2-.9 2 1.5 2-.1 2-.5 2 1.8 2-1.4 2 .3 2 .3 2 1.8 2 .7 2-.2 2-1.7 2-1 2-1.6 2 .8 2-.7 2 .8 2-.4 2 1.5 2-.5 2 .9 2-.2 2-.4 2 .5M1031 453.3l2-.1 2-1.1 2-1 2-3.5 2-.4 2-1.4 2 2.3 2-.1 2 5.7 2 1.4 2 2.6 2 2.8 2 1.7 2 .6 2 2 2-3.7 2-1.1 2-1.6 2-3.1 2-2.2 2-2.8 2 1 2 .9 2-1.3 2 2.4 2-2.6 2 .8 2 .2 2 1.6 2-.4 2 2.3 2-.5 2 2.5 2-2.3 2-1.6 2-4.5 2-.4 2-2.6 2 .6 2 .1 2 .3 2 .2 2 1.7 2-.1 2 2.4 2 1.4 2 .4 2 .6 2-.2 2-.5 2-2.8 2-1.9 2 .8 2 4.4 2 1.4 2 2.7 2 2.2 2-.4 2 2.5 2-.2 2-2.6 2 1.4 2-2.4 2 .9 2 2 2 2 2 2.5 2 2.8 2-.1 2 4.6 2 1.7 2 .1 2-4.3 2-1.3 2-3.6 2-2.9 2 1.3 2 6.2 2 3.2 2 5.3 2 .4 2 .4 2-5.6 2-2 2-4.5 2-2.2 2 .5 2 4.4 2 3.4 2 6.9 2 .4 2-1.8 2-7.2 2-5.5 2-7 2-6.1 2-4.2 2-1.8 2 3.3 2 6.8 2 8 2 5.9 2 9 2-2.3 2-11.8 2-13.6 2-19.7 2-18.9 2-17.2 2-14 2-2.7 2 14.9 2 20.2 2 24.6 2 26.9 2 23.3 1 10.7 1 8.6 1 9.8 1 7.3 1 6.4 1-3.6 1-9.5 1-9.2 1-15.4 1-14.3 1-15 1-16 1-15.7 1-11.6 1-9 1-4.7 1-.1 1-2.7 1-3.3 1-.9 1-.1 1 2.2 1-.4 1 1.5 1 .6 1-.8 1 1.7 1 2.4 1 2 1 2.6 1 1.7 1 1.2 1 1.7 1 2.7 1 1.4 1-.2 1 1.7 1 3.7 1 2.6 2 3.4 2 .7 2 3.6 2-1.6 2 2.6 2-.3 2 2 2 3.4 2 1.9 2 3.4 2-.1 2-.1 2 1.2 2-1.2 2 .3 2-1.7 2-2.6 2 0 2-.1 2-.5 2-1.6 2-2 2-1.4 2 1.4 2 .4 2 .1 2 1.1 2 .1 2 2.3 2 .2 2 .7 2-2.6 2-1.1 2 1.4 2-.3 2-.2 2-1.6 2 .8 2 1.3 2 .8 2 .3 2 3.4 2 1.8 2 3.4 2 2 2 4.5 2 .6 2 2.7 2 .2 2 3.3 2 3.5 2 .6 2 3.5 2-1.8 2 3.5 2 4.8 2 1.5 2 1.6 2 2.6 2-.2 2 3.4 2 4.2 2 2.1 2-.8 2-1.4 2 .3 2-.4 2-3 2 1.2 2-1.9 2-1.3 2 .9 2-2.8 2 1.8 2-4.3 2-1.2 2 1.4 2 .4 2-1.2 2-.3 2-.6 2-.4 2-.6 2 .4 2 0 2-1.9 2 .5 2-1.6 2 .5 2 .2 2 2 2-2.2 2-.7 2-1 2 2.1 2-.8 2 .5 2-1 2-1.9 2-1 2 .3 2 .9 2-.2 2-.5 2-1.1 2 1.3 2-.3 2-.3 2 .8 2-.6 2-.5 2 .6 2-.6 2-1 2-2.8 2 1.6 2 0 2 0 2 .4 2 1 2 .8 2-.1 2-.1 2 1 2-.5 2-2.8 2 2 2-1 2 1.6 2 1.7 2-.5 2 1.2 2 1.5 2-3 2-.2 2 1.4 2 1.1 2 2.6 2-1.2 2-2.6 2 1.8 2-.8 2-.7 2-.7 2 0 2 1.7 2 1.2 2 .1 2-1.3 2 2.5 2-1.6 2-.5 2 1.6 2 0 2-1.5 2 2.9 2 .1 2-1.4 2 .9 2-2.4 2 .8 2 1.3 2-.1 2 .5 2-2.3 2 1.2 2 .3 2 .9 2-.9 2-.3 2 .6 2-.2 2 .2 2 1.2 2 1.6 2-1.4 2-.9 2 1.2 2-1.9 2 .9 2 1.6 2-.1 2 0 2-.9 2-.2 2-.6 2-1.8 2 1.2 2-.5 2 .1 2-1.7 2 1.4 2-.2 2 1.3 2-1 2 .2 2 .7" fill="none" stroke="#000" stroke-width="1.35" stroke-linejoin="round"/>
<path d="M1253.6 285.5V556.5" stroke="#ff0000" stroke-width="3.9"/>
<rect x="622" y="249" width="272" height="88" fill="#fff"/>
<path d="M627 271.7H708" stroke="#0000ff" stroke-width="2.6"/>
<path d="M627 314.8H708" stroke="#000" stroke-width="2.6"/>
<text x="716" y="283.7" font-size="35.5" fill="#000" text-anchor="start" font-family="Liberation Serif, serif" font-weight="bold" >NNx</text>
<text x="716" y="326.7" font-size="35.8" fill="#000" text-anchor="start" font-family="Liberation Serif, serif" font-weight="bold" >Multi-scale</text>
<path d="M784.5 550.4V584H897.2" stroke="#000" stroke-width="3.8" fill="none"/>
<text x="695.8" y="577.2" font-size="30" textLength="78.7" lengthAdjust="spacing" font-family="Liberation Serif, serif" font-weight="bold">10 µV</text>
<text x="800.2" y="616.4" font-size="30" textLength="79.8" lengthAdjust="spacing" font-family="Liberation Serif, serif" font-weight="bold">50 ms</text>
<path d="M1457 315.2H1537.5" stroke="#0000ff" stroke-width="2.3"/>
<path d="M1457 358.2H1537.5" stroke="#000" stroke-width="2.3"/>
<text x="1545.5" y="326.6" font-size="33.6" textLength="67.8" lengthAdjust="spacing" font-family="Liberation Serif, serif" font-weight="bold">NNx</text>
<text x="1545.5" y="369.4" font-size="33.6" textLength="169" lengthAdjust="spacing" font-family="Liberation Serif, serif" font-weight="bold">Multi-scale</text>
<path d="M1584.5 525.4V577H1695.8" stroke="#000" stroke-width="3.1" fill="none"/>
<text x="1495.6" y="561.6" font-size="30" textLength="82" lengthAdjust="spacing" font-family="Liberation Serif, serif" font-weight="bold">10 µV</text>
<text x="1599" y="610.5" font-size="30" textLength="78.4" lengthAdjust="spacing" font-family="Liberation Serif, serif" font-weight="bold">50 ms</text>
</svg>
</body></html>
